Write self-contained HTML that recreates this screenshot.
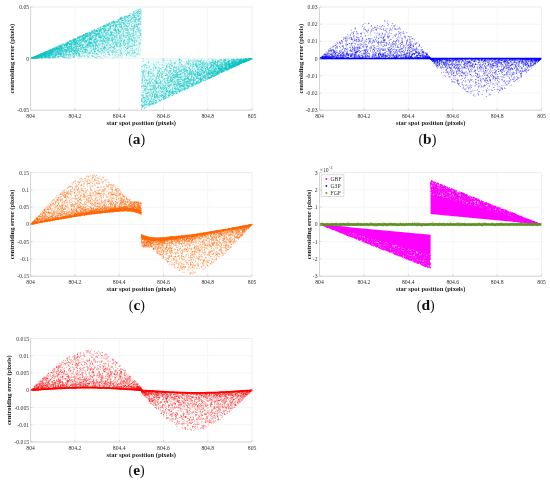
<!DOCTYPE html>
<html><head><meta charset="utf-8"><title>Centroiding error figure</title>
<style>
html,body{margin:0;padding:0;background:#fff}
body{width:550px;height:483px;overflow:hidden}
svg{display:block}
text{font-family:"Liberation Serif","DejaVu Serif",serif}
.t{font-size:5.7px;fill:#333}
.l{font-size:6.5px;font-weight:bold;fill:#222}
.c{font-size:14px;fill:#111}
</style></head><body>
<svg width="550" height="483" viewBox="0 0 550 483">
<rect width="550" height="483" fill="#fff"/>
<path d="M74.90 7.00V110.20M119.20 7.00V110.20M163.50 7.00V110.20M207.80 7.00V110.20M30.60 110.20H252.10M30.60 58.60H252.10M30.60 7.00H252.10" stroke="#f0f0f0" stroke-width="0.6" fill="none"/>
<path d="M30.6 58.6L141.3 9.1L141.3 58.6ZM141.3 58.6L141.3 110.2L252.1 58.6Z" fill="#10c8c8" opacity="0.07"/>
<path d="M169.1 67.2h0M229.3 63.7h0M202.4 75.9h0M80.5 40.3h0M97.1 34.4h0M224.1 70.6h0M31.8 58.2h0M212.5 73h0M207.2 73.8h0M134.2 21.8h0M97.7 33.4h0M92.3 30.9h0M87.1 49.7h0M129.2 24.4h0M142.4 72.6h0M153.2 75.9h0M251.1 59h0M206.2 70.8h0M168.4 86h0M249.7 59h0M78.3 44.3h0M66.1 57h0M166.3 87.2h0M40.3 54.3h0M38.5 55.7h0M144.6 97.5h0M133.9 25.9h0M233.8 62.8h0M170 91.2h0M144.5 86.5h0M140.7 33h0M85.4 41.4h0M33.2 57.4h0M73.2 42.5h0M183.9 83.5h0M75 52.9h0M112.5 25.9h0M31.4 58.4h0M214.5 71.8h0M64.8 47.7h0M89.9 35.3h0M225.6 60.1h0M143.5 70.6h0M218.2 65.8h0M172.3 72.4h0M194.9 79.6h0M50.9 56.2h0M150.5 69.4h0M143.1 92.9h0M223.6 61.1h0M110.6 26.9h0M163.1 79.4h0M43.7 55.7h0M116.5 30.1h0M102.2 26.4h0M63.9 51.7h0M211.4 66.1h0M114.6 37.9h0M247.4 60.5h0M161.3 99.1h0M164.6 71.4h0M171.9 62.8h0M180.4 74.6h0M64 51.1h0M128.1 21.4h0M83.7 39.5h0M119.8 24.6h0M52 53.1h0M245 60.6h0M78.2 37.6h0M179.4 63.8h0M97.1 55.8h0M224.2 59.6h0M177.3 89.4h0M59.8 49.7h0M217.8 71.4h0M239.9 63h0M230.8 67.3h0M156.8 88.6h0M62.8 51.2h0M73.2 53.6h0M236.1 62.9h0M152.9 75.4h0M70.6 41.2h0M226.4 68.7h0M172.7 75.6h0M156.8 87.9h0M113.9 34.8h0M121.6 28.2h0M83.6 35.2h0M39 56.9h0M224.7 68h0M134.2 27.7h0M151.9 104h0M102 45.9h0M197 78.2h0M36.2 58h0M113 32.8h0M37.3 55.6h0M57.8 48.5h0M244.8 59h0M176.3 93.6h0M125.5 29.1h0M146.6 93.7h0M223.9 71.3h0M106.8 33.6h0M161.3 75.2h0M182 77.9h0M109.3 28.5h0M145.6 86.6h0M200.1 66.6h0M232 63.8h0M64.1 54.9h0M237.4 60.2h0M31.7 58.5h0M197.4 75.4h0M210.1 68.3h0M60.9 53.8h0M123.4 23.5h0M211.2 72.7h0M33.8 57.3h0M169.8 70.9h0M206.3 74.5h0M144.2 80.6h0M191.4 76.9h0M80.8 44.7h0M74.6 44.2h0M111 32.7h0M70.3 41.4h0M107.3 32.5h0M240.6 61.4h0M157.6 96.8h0M105.9 47.5h0M90.7 35.1h0M241.5 62.1h0M129.1 39.1h0M247.8 60.3h0M144.8 71.6h0M146 64.9h0M229.2 63.4h0M195.1 76h0M159.2 91.1h0M125.1 37.5h0M225.1 67.6h0M121.8 17.5h0M235 66.6h0M45.8 52.9h0M125.8 37.9h0M145.7 89.9h0M241.2 63h0M86.2 35h0M209.1 78h0M180.4 77.2h0M189.4 73.5h0M170.1 78h0M245.8 61.1h0M104.3 25.9h0M118.8 30.4h0M75.5 46.2h0M41.8 54.6h0M77.8 46h0M233.4 64.8h0M216.7 64.5h0M55.5 55.9h0M164.3 82h0M136.7 37.2h0M162.3 71.6h0M176.6 93h0M98.5 33.8h0M243.5 60.8h0M133.8 11.7h0M169.7 68.2h0M171.3 78.2h0M71.3 41.4h0M44.3 52.5h0M121.8 22.6h0M199.8 67.2h0M211.2 72h0M192.3 64h0M55.7 56.5h0M232.9 66.8h0M208.3 59.1h0M225 61.6h0M146.5 70.8h0M233.4 65.7h0M40.9 55.1h0M37.3 57.4h0M35.1 57.4h0M86.6 33.8h0M85.7 49h0M72.1 55h0M156.2 92.7h0M39.2 57.6h0M161.4 88h0M67.4 51.4h0M180.7 62.6h0M35.3 57h0M99.4 32.3h0M238.4 61.7h0M149.9 73.8h0M210.4 77.8h0M176.4 73.3h0M165.9 75.5h0M73 48.2h0M157.8 76.7h0M39.4 56.9h0M208.2 78.1h0M243.3 59.5h0M219.8 72.1h0M41.8 55.1h0M105.6 54.3h0M101 48.6h0M55.6 49.8h0M169.4 85.5h0M207.2 67.3h0M100.1 43.8h0M221.7 72.1h0M207.2 75.9h0M59.2 48.5h0M200.5 81.5h0M226.1 63.5h0M74.3 48.6h0M157.7 98h0M172.1 81h0M165.6 83.1h0M51.9 50.1h0M177.1 93.6h0M170.6 93.9h0M213.1 74.1h0M208.6 70.9h0M103.1 31.9h0M190.5 70h0M222.7 64.5h0M228.4 62.7h0M66.4 45.7h0M36.5 56h0M174.8 88.9h0M78.2 49h0M155.5 93.4h0M239.9 61.6h0M114.6 24.6h0M86.6 42.3h0M131.7 39.1h0M176.2 75h0M53 56.4h0M114.9 38.1h0M60.2 51.7h0M177.3 80.1h0M214.6 72.1h0M114.1 22.2h0M112.9 25.4h0M150.1 92.3h0M78.2 47h0M85.4 50.2h0M103.7 34.5h0M131.9 50.2h0M48.7 57.3h0M197.3 78h0M158.9 72.8h0M97 31.2h0M47.8 52.5h0M199.6 75h0M59.6 45.9h0M60.1 54.8h0M59.5 52.2h0M48.6 53.2h0M231.4 68.1h0M90.2 53h0M98.5 36h0M215.1 75h0M167.9 70.4h0M72.1 43.4h0M126.9 23.6h0M226.4 65h0M113.7 32.8h0M188.1 87.2h0M52 52.5h0M191.7 75.9h0M202.6 74.8h0M213.5 60.7h0M179.9 88.1h0M112.7 52.7h0M44.8 52.2h0M145.5 107.4h0M198.4 80.7h0M72.9 40.6h0M89.6 38.7h0M149.4 81.6h0M196.4 77.6h0M229.2 67h0M58.5 54.8h0M71.4 42.7h0M207.7 68.5h0M173.4 82.8h0M190.3 71.3h0M251.4 58.8h0M238.6 64.4h0M217.3 72.4h0M202.7 62.7h0M118.1 24.6h0M172.6 93.9h0M71.5 43.6h0M198.8 78.4h0M198.4 69.6h0M190.4 81.6h0M129.1 33.9h0M114.4 22.2h0M123.6 24.4h0M38 56.9h0M217.6 73.5h0M150.7 98.9h0M116.4 44.1h0M152 76.6h0M190.4 60.5h0M115.1 25.8h0M214.6 62.4h0M234.3 62.3h0M116.4 26.2h0M61.1 51.9h0M199 70h0M250.5 58.7h0M63.4 56.3h0M188.5 79.6h0M213.4 63.9h0M234.5 66.6h0M57.9 57.3h0M50.9 54.1h0M249.4 59h0M56.5 47.5h0M69.8 43.6h0M158 69.9h0M129.4 51.1h0M196.8 64.1h0M72.8 42.6h0M233.1 66h0M78.7 42.1h0M201 73.9h0M45.6 54.4h0M135.5 23.9h0M37.8 57.8h0M100.1 31.1h0M99.8 31.6h0M190 81.4h0M131.4 39.8h0M43.2 56.4h0M251.1 59.1h0M227.4 69.7h0M233.6 65.8h0M85.2 37.1h0M117.9 34h0M80.9 37.4h0M58.3 48.6h0M37.9 56.6h0M142.1 99h0M57.9 56h0M69.7 48.6h0M221.2 71.6h0M137.9 27.5h0M71.3 45.7h0M179 82.4h0M89.5 32.7h0M147.3 76.6h0M93.3 36h0M144.9 89h0M169.8 74.2h0M149.4 65.9h0M118.2 29.1h0M205.8 66.1h0M224.1 67.9h0M70.3 47.9h0M60.8 50.7h0M55.7 48h0M247.6 59.1h0M239.2 62.8h0M81.7 45.1h0M245.4 59.6h0M76.6 46.8h0M142.8 105.2h0M140.8 40.2h0M233.3 65.5h0M39.6 56.8h0M100.5 37.4h0M163.5 87.1h0M45.3 57.3h0M83 37.6h0M133.6 32.8h0M225.7 63.3h0M199.2 67.9h0M214.2 76.1h0M199.2 82.4h0M187.4 77.5h0M218.8 65.5h0M181.5 85.1h0M193.6 63h0M97.4 30.8h0M67.7 57.9h0M198.2 62.5h0M67.3 50.1h0M234.3 63.7h0M162.8 60.2h0M103.6 43.3h0M238.1 65.1h0M65 45.2h0M144.6 67.2h0M50.9 50.1h0M244.4 60.8h0M158 102.1h0M208.6 68.6h0M93 44.8h0M208.2 74.7h0M186.3 78.3h0M173.2 75.2h0M241.1 62h0M126.6 25.4h0M122.5 38.2h0M183.9 86.8h0M215.6 72.8h0M104.8 30.2h0M178.9 85h0M76.9 50.1h0M152.8 95.9h0M201 66.7h0M45.1 56.6h0M191.8 77h0M34 58.1h0M242.9 59.8h0M134.4 24.3h0M121.2 17.9h0M190.2 63.4h0M146.5 88.3h0M192.5 64.9h0M49.4 52.8h0M155.3 90.6h0M154.2 87.9h0M237.1 59.5h0M39.4 55.4h0M130.9 28.5h0M170.4 85.6h0M152.6 94.7h0M47 51.5h0M162 83.6h0M79.8 37.4h0M73.9 51.9h0M225.2 66.3h0M74.4 51.8h0M131.2 33.7h0M196.8 82.8h0M187.3 88.3h0M153.2 87.5h0M209.4 67.6h0M133.8 35.2h0M168 95.3h0M212 69.8h0M180.8 70.8h0M172.8 91.7h0M120.6 31.5h0M154.3 85.5h0M118.3 21h0M195.5 80.6h0M114.9 55.8h0M134 12.4h0M197.9 74.1h0M142.2 76.3h0M105.5 26.3h0M213.7 69h0M115 28.1h0M217.7 72h0M204.5 66.6h0M129.7 13.8h0M188.5 79.3h0M38.2 58h0M116.9 31.8h0M221.2 59.8h0M159 101.4h0M154.2 94.1h0M177.8 77.6h0M180.7 87.5h0M159.9 95.8h0M123.8 24.5h0M71.2 51h0M95.4 51.8h0M95.5 31.7h0M126 18.1h0M251.9 58.7h0M108.7 38.8h0M129.7 32.8h0M112.9 41.7h0M159.4 100.1h0M240.6 62.2h0M227.5 67.9h0M114.1 30.7h0M89.7 52.6h0M226.5 60.9h0M140 43.3h0M182.4 79.6h0M46.8 53h0M222.5 72.3h0M99.9 28.9h0M140.1 17.1h0M74.5 47.5h0M123.7 36.6h0M214 72.8h0M213.9 67.8h0M135.5 18h0M200.7 78.3h0M132.1 46.2h0M113.3 25.6h0M151.5 69.4h0M75.2 48.6h0M100.7 27.1h0M187.1 81.8h0M201.3 80.1h0M43.2 53.1h0M192.9 70.7h0M211.7 75h0M129.2 34.2h0M44.4 57.4h0M181.9 66.8h0M85.1 51.7h0M173.1 86.3h0M114 29.7h0M171.7 92.4h0M87.8 46.4h0M136.2 17.9h0M146.8 80.2h0M170.4 77.2h0M75.6 42.8h0M243.7 60.8h0M94.6 29.4h0M98.4 43.4h0M87.4 48h0M45.5 52.3h0M124.3 19.3h0M201.6 66.2h0M187.8 73.9h0M73.9 45.6h0M60.9 56h0M101.8 41h0M200.8 78.9h0M138.7 16.7h0M235.1 61h0M176 75.5h0M168.1 75.9h0M200.6 77.6h0M196.8 65.9h0M106.8 24.1h0M87.5 51.8h0M127.5 28.8h0M139 18.8h0M62 44.7h0M128.4 25.6h0M172.3 92.3h0M60.7 49.3h0M61.2 53.1h0M69.1 48.3h0M93.4 37.6h0M243.6 61.3h0M36.3 56.4h0M71.3 45.9h0M67.2 49.4h0M135.7 26.8h0M33.9 57.6h0M132.1 55.9h0M66.7 50.3h0M90.3 39.3h0M206.1 76h0M71.4 47.6h0M167.3 91.6h0M120.6 31.8h0M123.1 35.8h0M211.5 66.5h0M66.2 44.5h0M235.2 66.1h0M228.5 67.6h0M178.6 72h0M41.6 54.6h0M177.5 81.4h0M163.6 97.9h0M201.6 59.6h0M78 40.2h0M241.8 61.6h0M226.9 69.3h0M55.9 50.1h0M100.4 57.1h0M37.8 56h0M214.7 70.4h0M233.3 62.2h0M249.8 58.9h0M166.1 81.2h0M178.1 82.7h0M180.9 79.6h0M156.9 62.2h0M241.6 60.1h0M165.2 90.5h0M105 35.3h0M144.2 100.4h0M34.7 57.5h0M191 70.9h0M184.3 86.1h0M123.9 42h0M219.2 61.3h0M197.9 72.2h0M105.2 37.8h0M47.8 55.6h0M59.9 45.6h0M71.4 51.1h0M97.9 50.3h0M129.7 23.6h0M236.2 60.8h0M92.3 45.8h0M229.6 64.7h0M181.3 73.4h0M219.6 70.2h0M119.9 46.5h0M31.3 58.3h0M204.9 64.4h0M85 40.9h0M62.2 44.4h0M207.7 76.4h0M182.6 89.9h0M77.6 43.8h0M89.9 50h0M238.6 62h0M90.1 35.4h0M186.2 67.3h0M59.3 48.4h0M211.1 68.1h0M56.6 47.3h0M144.9 84.7h0M38.4 56.8h0M152.4 79.3h0M218.1 69.4h0M49.3 50.3h0M91.3 39.7h0M200 78.8h0M165.3 85.6h0M99.9 51.9h0M169.9 86.1h0M131.3 25.3h0M221.6 68.9h0M95.5 44.6h0M198.4 69.6h0M171.4 77.5h0M194.6 61.7h0M114.4 46.3h0M191.2 71.7h0M185.3 79.2h0M116.4 21.6h0M36.5 56.5h0M243.9 61.1h0M188.7 82.6h0M75.9 46.1h0M192.5 62.8h0M92.3 36.3h0M134.5 20.4h0M221.1 69.7h0M129.8 17.6h0M94.4 33.6h0M98.3 31.1h0M47.7 57.4h0M79.2 36.4h0M90.7 38.9h0M68.9 45.9h0M44.6 53.9h0M133.8 37.7h0M78.1 48.3h0M194.2 83.4h0M234.9 64.4h0M91.1 31.7h0M157.4 75.3h0M142.8 95.1h0M47.2 53.1h0M58.3 57h0M226.6 67.5h0M135.6 32.1h0M208.8 70.5h0M45.3 56.2h0M162.4 88.9h0M222.3 69.5h0M222.7 71.4h0M31.9 58.1h0M146.2 107.4h0M112.3 21.8h0M198.9 78.5h0M46.8 55.2h0M89.3 40.3h0M210.6 62.7h0M134.6 25.2h0M131 36.6h0M245.1 60.8h0M101.5 31.5h0M39.8 57.9h0M117.5 22.1h0M64.6 56.6h0M48.7 53.3h0M156.4 76h0M241.8 59.2h0M158.9 86.1h0M173.9 74.5h0M102.3 51.8h0M157.1 97.9h0M197.2 69.3h0M161.1 99.3h0M208.4 73.6h0M152.5 83h0M74.5 55.1h0M159.7 97.7h0M139.3 46.1h0M67.4 44.3h0M167.7 85.1h0M211.6 70.2h0M60.5 55.7h0M151.3 86h0M193.1 60.8h0M119.9 24.1h0M90.4 36.6h0M113.1 47.7h0M150.6 89.7h0M182.7 69.7h0M154.5 95.5h0M54.3 54.7h0M211.8 64.9h0M235.2 62.2h0M53 48.5h0M85.9 36.3h0M69.1 48.6h0M218.7 72.1h0M232.2 63.5h0M40.4 57h0M104.2 27.2h0M73.2 56.1h0M134.6 17.5h0M234.7 66.5h0M46.1 57.1h0M68.5 42.8h0M138.5 16.4h0M146.7 65.5h0M195.7 74.5h0M127.5 39.4h0M61.9 50.7h0M108.9 38.9h0M248.1 59.6h0M196.9 60.1h0M56.4 53.4h0M209.6 67.8h0M99.5 34.5h0M203.7 76.6h0M33.4 57.5h0M223.6 68.6h0M66.6 43.3h0M131.5 26.6h0M177.2 75.6h0M143.1 65.5h0M67.2 44.9h0M61.4 48.8h0M93.6 49.2h0M42.2 55.1h0M78.6 37.5h0M59.4 49h0M133.6 35.9h0M109.6 27h0M160.6 82.6h0M92.8 56.5h0M38.1 57.9h0M103.9 25.9h0M197.9 64.4h0M87.3 36.4h0M120.2 53.9h0M197.8 73.4h0M120.7 39.8h0M227.1 64.6h0M234 60.5h0M99.4 40.8h0M193.6 81.6h0M86.7 41.4h0M61.5 54.6h0M127.6 19.9h0M164 96.3h0M237.8 62.7h0M62.9 50.8h0M188.4 61h0M135.9 49.3h0M59.8 51.3h0M246 59.3h0M184.7 89.4h0M59.1 48.7h0M231.2 63.3h0M53.4 51.1h0M51.1 55.5h0M104 26.8h0M238.4 62.8h0M37.9 55.9h0M234 61.5h0M166.1 83.8h0M45.5 53.1h0M156.5 83.3h0M132.2 50.1h0M155.5 86.7h0M193.9 82.7h0M180.9 79.2h0M251.5 58.9h0M65.3 47.5h0M210.6 76.5h0M121.7 53.6h0M204.1 75.4h0M228.1 66h0M250.3 59h0M89.5 33.4h0M130.9 48.2h0M239.4 62.4h0M240.1 61.3h0M113.2 21.8h0M238.9 63.9h0M120.5 43.4h0M113.6 48h0M198.2 61.1h0M135 42.2h0M129.9 15.3h0M116.1 22.7h0M126.5 20.5h0M61.6 50.6h0M44.1 54.7h0M197.6 76.6h0M155.6 98h0M179.4 59.7h0M208.3 65.7h0M81.6 42h0M82.4 51.6h0M92.2 31.6h0M97.9 54.1h0M199.1 82.9h0M113.5 44h0M102.2 46.8h0M171.5 80.7h0M71.9 44.3h0M54.2 48h0M185 78.3h0M198.2 82.1h0M96.2 30.7h0M171.5 95.8h0M38.1 56.8h0M120.2 32.8h0M158.6 62.6h0M86.7 44.4h0M107.7 40.1h0M165.6 69.7h0M161.3 96.4h0M64.8 51.5h0M187.1 67.2h0M48.3 56.5h0M245.4 58.9h0M75.4 41.4h0M86.8 41.3h0M75 45h0M250.2 59.1h0M94.1 30.3h0M164.7 80.9h0M250 59.2h0M241 62.7h0M40 54.5h0M146 103.6h0M163.8 96.7h0M186.2 69.3h0M105 25.8h0M103.2 29.2h0M31.5 58.4h0M38.4 55.5h0M152.4 103.7h0M47.4 52.2h0M75.4 41.6h0M104.4 28.4h0M46.2 52h0M37.4 55.9h0M235.9 60.1h0M127 41.9h0M76 53h0M187.5 77.3h0M32.7 58.4h0M84.9 41.5h0M243.4 62.5h0M229.4 69h0M171.5 63.5h0M51.2 51.2h0M101 49h0M36.8 56h0M79.2 56h0M36.2 58h0M58.5 52.3h0M170.9 60.1h0M52.8 50.7h0M65.1 52.7h0M230.6 66.8h0M104.9 25.7h0M104.4 37.5h0M49.8 53.1h0M206.9 79.6h0M180.4 74.9h0M151.8 102h0M167.5 90.6h0M52.8 58.1h0M88.3 46.2h0M159.9 93.7h0M241.5 59.3h0M211.6 75.8h0M172.5 93.6h0M145.5 100.5h0M34 57.3h0M227.9 66.8h0M45.4 52.7h0M59.2 50.5h0M184.1 76.8h0M210.5 74.2h0M204.8 72.3h0M130.8 36.4h0M69.8 50.7h0M38.4 56.5h0M219.2 67h0M247.2 60.5h0M84.7 37.4h0M222.4 70.6h0M119.8 21.9h0M99.6 41.8h0M142.5 86.1h0M32.4 57.9h0M128.7 43.1h0M74.8 42.4h0M188.4 78.5h0M141.9 98.5h0M223.1 69.4h0M229.2 66.9h0M100.8 45.5h0M92.7 55.8h0M238.6 64.7h0M142.2 106.5h0M52 52.2h0M40.8 55h0M250 58.8h0M158.9 85.4h0M42.7 54.6h0M143.8 99h0M142.3 78.6h0M127 48.5h0M241.3 63.5h0M240.8 63.4h0M58.3 54.3h0M64.2 45h0M120.9 22.4h0M215.3 64.5h0M168.8 92.5h0M192.3 74h0M158.2 80.8h0M77.1 51.8h0M211.7 72.2h0M33.7 57.6h0M185.3 79.1h0M73.6 53.9h0M134.9 17.2h0M246.6 59.9h0M150 79.5h0M43.2 54.2h0M125.6 43.4h0M176.8 91.7h0M43.2 54.2h0M86.6 36.5h0M34.7 57.6h0M150.2 86.7h0M115.1 42.2h0M142.2 80.3h0M96.1 41.3h0M176.1 89.1h0M68.9 47.2h0M231.4 67.2h0M243.3 59.7h0M139.8 35.5h0M133.7 52.5h0M221 72.3h0M94.8 53.3h0M208.5 72.5h0M94.2 35.9h0M190.1 69.4h0M104.6 25.2h0M164.1 99.1h0M235.7 61.7h0M42.6 57h0M209.4 73.8h0M150.6 89.9h0M114.6 30.5h0M108.2 32.3h0M46 51.8h0M87.8 36.4h0M168.6 77.5h0M52.2 50.4h0M178.9 79.4h0M243.7 62.4h0M247.8 59.9h0M227.6 59.3h0M209.3 77.5h0M70 50.5h0M245.5 61.3h0M75.5 43.5h0M223.1 69.9h0M225 69h0M168.4 95.3h0M146.1 102.7h0M75 43.2h0M145.7 83.4h0M95 39.6h0M58.5 52.8h0M59 52h0M208.1 71.3h0M234.9 63.3h0M62 51.9h0M33.5 58h0M89 45.7h0M60.4 53.7h0M72.4 44.9h0M159.8 68.4h0M124.1 40.6h0M125.7 44.1h0M76.1 41.8h0M177.8 74.3h0M94.7 51.6h0M119 22.9h0M133.2 30.5h0M230.9 67.2h0M85.2 46.3h0M189.8 73.6h0M99.1 36.8h0M228.7 60.7h0M117.9 19.3h0M142.5 73.2h0M224.9 70.6h0M179.6 84.7h0M51.5 50.5h0M60.9 53.3h0M250 59.5h0M37 56.6h0M97.2 41h0M243 60.1h0M33.9 58.1h0M66.3 43.7h0M77.9 37.4h0M49.7 53.5h0M135.1 19.5h0M161.8 92.3h0M101.1 37.8h0M54.7 51.6h0M210.2 72.1h0M208.8 69.1h0M155.1 96.3h0M61.1 50.5h0M150.6 89.5h0M170 71.9h0M125.5 15.9h0M221.9 61.5h0M117 26.5h0M143.8 97.6h0M55.9 52.6h0M155.4 103h0M200.4 61.7h0M192.6 71h0M87.5 45.3h0M250.3 59.2h0M190.1 79.4h0M124.5 23.9h0M122.5 20.4h0M203.2 60.6h0M69.5 46.2h0M172.3 79.7h0M189.8 81.6h0M145 92.1h0M224 65.4h0M134.4 56.4h0M133.6 35.8h0M93.7 41.1h0M234.2 62.8h0M100.7 41.1h0M184.6 82.7h0M121.3 37.6h0M237.8 64.6h0M240.6 61.5h0M37.3 56.8h0M250.9 58.9h0M164.6 96.9h0M47 53.1h0M140.7 9.4h0M41.6 58.4h0M152.2 103.9h0M71.7 51.8h0M112.1 23.8h0M98.1 54.2h0M164 95.9h0M212.8 72.4h0M238 63.8h0M103.4 40h0M156.8 83.3h0M31.9 58.4h0M113 47.5h0M243.4 61.6h0M56.9 52.4h0M223.3 60.1h0M175.1 70.5h0M95.7 48.7h0M203 66.9h0M94.7 40.7h0M228.8 68.8h0M48.9 52.6h0M57 48.6h0M196.7 65h0M130.1 22.4h0M63.3 45h0M144.3 108.6h0M96.4 34.3h0M152.3 92.7h0M195.3 84.4h0M220.4 62.8h0M43.7 53.4h0M161.8 92.9h0M248.5 60h0M132.4 34.1h0M201.1 63.6h0M52.1 55.7h0M224.1 68.8h0M159.5 79.6h0M227.4 69.8h0M204.9 64.6h0M223.1 70.5h0M43.3 54.9h0M189.1 72.4h0M74.2 50.1h0M89.5 44.5h0M102.5 40.9h0M161.6 75.4h0M169.7 73.6h0M236.9 65.5h0M33.4 57.8h0M73.4 44h0M110.8 29.2h0M211.8 68.1h0M152.4 103.2h0M144 82.2h0M199 67.5h0M175.7 63.8h0M94.8 45.8h0M49.9 57h0M133 23.6h0M225.6 67.4h0M163.1 62.5h0M42.4 53.4h0M128.1 22h0M115.8 31.7h0M159.6 100.2h0M160.6 87.3h0M241.3 60.3h0M105.5 29.3h0M121 18.5h0M166.5 65.6h0M226.9 66.3h0M187 70.7h0M134.9 13.9h0M211 63.1h0M138.1 15.6h0M244 60h0M93.2 36.9h0M58.8 48.3h0M214.5 73.4h0M96.5 53.7h0M218.3 68.6h0M165.6 69.7h0M143.3 72.7h0M49.9 55.8h0M204.8 65.3h0M45.2 52.2h0M244.4 61.1h0M224.8 64h0M97.7 39h0M58.9 56.5h0M226.8 63.2h0M136.9 22.3h0M58.3 48.5h0M141 21.3h0M85.3 33.9h0M120.9 17.9h0M172.4 91.8h0M233.4 64h0M208 75.9h0M66.3 51.7h0M136.3 14.5h0M139.6 37.9h0M249.8 59.7h0M49.8 58h0M143.7 102.4h0M233.1 64.4h0M118.9 23h0M88.6 40.9h0M153.7 99.5h0M101.5 32.5h0M235.9 64.3h0M49.4 50.3h0M76.4 53h0M49.2 50.5h0M188.3 78.5h0M95.5 34.7h0M230 66.6h0M228.5 64.7h0M238 63h0M87.3 33.1h0M30.7 58.6h0M116.5 21.5h0M243.8 58.8h0M199.8 75.9h0M43.8 53.8h0M186.2 75.9h0M233.7 60.4h0M244.9 61.5h0M189.2 83.2h0M221.8 66.4h0M217 62.5h0M110 26.1h0M52.5 50h0M191.7 83.7h0M60.9 46.4h0M115.7 41.6h0M251.2 58.9h0M154.6 86.9h0M146.2 86.1h0M240.6 61.7h0M93.5 36.1h0M252 58.7h0M232.6 64.3h0M111.2 38.8h0M103.1 33.8h0M58.6 49h0M233.4 63.6h0M71.8 44.3h0M32.6 57.9h0M227.8 68.1h0M163.1 72.3h0M179.4 84.6h0M193 74.6h0M40 54.6h0M50.9 51.7h0M141.3 14.2h0M41.7 54.1h0M142.3 78.2h0M193.7 64.2h0M176.2 88.4h0M167.2 65.2h0M40.9 54.1h0M83 39.6h0M229.4 64.8h0M57.9 48.9h0M148.7 72.3h0M41.7 54.8h0M238.6 64.6h0M68.6 58.5h0M121.4 18.7h0M151.7 81.3h0M189.8 75h0M238.2 64.8h0M193.7 82.2h0M107.5 39.2h0M47.3 51.1h0M187.3 62.2h0M246 60.8h0M34.4 57.5h0M202.2 80.2h0M69.6 57.1h0M132.5 35.6h0M146.4 89.8h0M166.7 66.5h0M249.8 59.4h0M182.9 87.7h0M117.5 21.3h0M189 67.5h0M134 27.6h0M122.1 17.2h0M111.6 51.4h0M139.9 18.4h0M92.9 45.5h0M84.2 35.5h0M63.5 47.6h0M128.1 17h0M95.6 53.9h0M216 70.9h0M218.4 67.8h0M106.8 49.9h0M167.7 81.2h0M230.5 67h0M110.2 32.6h0M153.5 91.9h0M128.8 38.2h0M174.6 82.3h0M243.2 61.1h0M61.3 45.4h0M244.4 61.9h0M178.1 79.3h0M206.9 72.4h0M171.3 76.2h0M223.4 68h0M102.9 49.3h0M187.4 88.1h0M89.1 43.1h0M143.3 61.4h0M181.6 74.1h0M75.1 38.9h0M44.1 55.6h0M205.8 70.6h0M209.8 78h0M178 88.3h0M101.8 41.3h0M176.4 70.1h0M49.2 53.9h0M177.3 77.5h0M158.2 99.4h0M167.3 85.5h0M129.6 15.5h0M80.5 36h0M191.4 84.5h0M133.4 31.7h0M195.7 73.3h0M111.3 33.2h0M50 51.6h0M150.8 101.3h0M168.5 93h0M234.8 62.5h0M227.2 68.2h0M43.3 55.4h0M201.6 78.7h0M88.5 56.8h0M185 86.8h0M114.7 27.9h0M101.9 48.7h0M138.8 37.7h0M148.1 82.1h0M184.4 79.5h0M171.9 93.7h0M180.8 91.2h0M115.7 30.2h0M180.6 67h0M107.1 24.1h0M165.2 98.1h0M132.4 48.3h0M155.3 93.7h0M34.5 57.2h0M141.1 19.6h0M79.3 40.4h0M116.1 57.1h0M46.9 55h0M176.1 76.7h0M228.5 67h0M109.1 50.3h0M53.9 53.8h0M168 71.9h0M58.7 56.7h0M228.1 65.6h0M57.7 54h0M110.8 35.3h0M140.2 39.8h0M56.7 48.3h0M101.2 50.3h0M91.6 34.9h0M188.6 81.4h0M249.1 59.1h0M111 38.5h0M205.7 70.5h0M61.7 49.9h0M159.1 92.6h0M126.4 55.4h0M94.4 49h0M212.6 73.3h0M195.9 64.6h0M60.3 46.4h0M95.4 42.6h0M212.1 61h0M250.4 59.3h0M166.1 75.4h0M223.7 71.8h0M248.6 60.1h0M194.6 83.4h0M173.4 92.6h0M79.6 54.2h0M112.6 54.6h0M168.7 80.6h0M235.8 63h0M97.5 41.1h0M118.1 29.6h0M35.5 56.7h0M184.9 85.6h0M128.9 15.7h0M207.3 75h0M82.4 36.8h0M176.7 66.6h0M179.7 62.1h0M133.4 29.9h0M72.4 40.9h0M119.8 36h0M195.6 65.3h0M72.5 53.3h0M50.5 55h0M133.1 15.9h0M82.5 46.5h0M207.9 77.3h0M211.6 76.8h0M240 63.4h0M216.6 74.3h0M174 74.2h0M72 51.7h0M212.9 66.2h0M191.9 60.9h0M196 83.6h0M185.1 70.3h0M214.5 71.8h0M96.6 44.8h0M179.5 81.7h0M145.2 88.4h0M105.4 30.7h0M103 46.4h0M65 51.3h0M139.5 44h0M112.3 40h0M124 20.5h0M219.2 73.6h0M181.6 61h0M181.3 88.3h0M248.6 60h0M78.8 54h0M143.1 74.9h0M51.1 50h0M117.6 44.2h0M241.1 63.4h0M49.6 52.7h0M198.4 83.4h0M222.3 67.7h0M143.3 73h0M207.3 73.9h0M128.3 31.6h0M108.9 51.7h0M142.6 103.7h0M73.7 40.2h0M98.7 28.2h0M98.2 35.1h0M249.5 59.5h0M104.8 46.3h0M81.3 36h0M238.8 63.7h0M61.3 47.7h0M244.5 61.4h0M219.6 72.2h0M173.9 77.4h0M125.4 47.5h0M74.3 38.8h0M54.1 57.3h0M53.6 53.9h0M107.9 35.9h0M120.8 53h0M235.2 62.4h0M149.4 102.5h0M250 59.3h0M190.3 79.2h0M63 57.4h0M153.2 85.8h0M65.9 54.2h0M39.3 56.4h0M239.6 61.8h0M105.4 38.5h0M72.6 49.2h0M53.1 49.8h0M175 80.9h0M132.7 14.7h0M33.2 58h0M189 67.4h0M87.5 44.9h0M203.5 79.4h0M138.8 32.4h0M149.2 101h0M131.9 21.8h0M180.3 73.1h0M249.9 59h0M207.3 64h0M45.9 54.3h0M140.2 18.7h0M82.5 47.5h0M53.3 48.5h0M73.8 57.2h0M85.6 37h0M243.2 60h0M195.6 84.9h0M219.5 62.2h0M185.4 88.1h0M100.5 40.5h0M117.2 40.4h0M128.2 52.5h0M95.6 47h0M123.9 35.1h0M201.4 81.3h0M47.4 51.1h0M91.9 52.8h0M136.7 24.7h0M180.4 62.6h0M173.7 67.6h0M191.2 79.6h0M53.9 51.4h0M70.6 41.5h0M99 29.3h0M93 49.5h0M198 77.6h0M250.6 59.2h0M181.9 86.5h0M37.9 56.2h0M96.5 38.7h0M208.5 73h0M235.3 63.1h0M162.4 87.9h0M107.9 25.7h0M109.3 39.9h0M170.9 81.4h0M222 67h0M106.1 27.1h0M72.8 50.5h0M31.2 58.4h0M61 47h0M219.1 67.2h0M168.9 93.8h0M250 59.3h0M46 56.9h0M111.7 38.7h0M206.8 65h0M177.1 79.6h0M45.4 55h0M119.5 37.8h0M171.8 91.9h0M182.9 88.7h0M130.6 20.2h0M72.3 42.5h0M244.6 61.9h0M133.9 13.9h0M189.5 68.5h0M149.1 103.5h0M48.5 56h0M83 47.9h0M44.6 53.1h0M72.9 52.8h0M74.9 38.8h0M122.5 18.4h0M101.9 58.5h0M110.9 30.9h0M211.5 76.6h0M35.3 57.1h0M53.5 51.5h0M209.5 72.9h0M148.9 91.9h0M127.8 26.9h0M89.8 37.3h0M150.7 104.5h0M79.7 53.8h0M220.7 64.5h0M213.1 59.3h0M101.9 52.5h0M36 57.7h0M227.2 69.5h0M96.8 43.8h0M176.1 84.4h0M220.7 65.7h0M207.4 79.3h0M221.6 63.7h0M138.9 30.8h0M217.2 67.4h0M132.7 40.7h0M89 53.3h0M137.1 31.4h0M104.9 46h0M200.5 60.9h0M214.8 74.7h0M61.9 51.2h0M67 57.6h0M115.6 29.9h0M133.2 28.9h0M242.4 62.2h0M239.2 61.8h0M244.8 59.6h0M192.2 79.7h0M180.6 77.4h0M90.5 33.4h0M113.1 39.8h0M31.2 58.5h0M215.1 64.7h0M91.8 46.6h0M48.2 55.3h0M100.5 37.3h0M102.2 40.9h0M191 86.5h0M31.9 58.4h0M81.5 36.2h0M229.2 64h0M220 68.1h0M169.9 95.9h0M154.4 97.6h0M79.9 36.8h0M224.4 67.4h0M199.1 70.7h0M144.2 98h0M66.3 45.7h0M78.4 55.6h0M114.6 49h0M103.9 26.2h0M44.1 53.6h0M120.6 22.2h0M130 42.5h0M94.2 30h0M115.7 40.1h0M104.2 48.7h0M114.1 38.4h0M167.7 79.2h0M140.8 50h0M74.4 40.6h0M206.8 78h0M144.3 77h0M132.1 26.6h0M188.6 85.7h0M197.2 72.6h0M218.7 68.8h0M210.3 66.7h0M178.8 79.9h0M190.3 72.6h0M65.4 44.5h0M185.5 68.5h0M87 55.5h0M87.7 34.2h0M57.2 54.5h0M118.5 30.9h0M35 57h0M176.1 76.3h0M196.3 83.4h0M202.4 70.4h0M59.1 53.8h0M172.6 65.4h0M216.3 74.2h0M38.6 57.2h0M73.4 40.3h0M89.9 41.9h0M132.9 13.8h0M68.7 54.8h0M150 101.8h0M106.8 24.3h0M175.7 87.4h0M148.3 72.5h0M182.6 90.9h0M85.2 36.9h0M187.2 70.1h0M193.3 85.5h0M190.5 64.9h0M45.8 56.6h0M240.2 59h0M158.4 90.2h0M90.9 42.9h0M126.8 49h0M145.2 90.7h0M145.3 104.6h0M85.5 52.9h0M89.3 38.3h0M111.1 46.4h0M203.6 73.5h0M127.5 35.8h0M39.2 56.8h0M130.8 55.6h0M75.2 44.1h0M33.3 57.8h0M247 60.5h0M95.7 48.2h0M149.7 105.8h0M109.9 55.4h0M42.4 56.6h0M230.1 66.4h0M237.8 60.5h0M71.9 50.4h0M123.2 31h0M113.4 26.8h0M67.6 43.1h0M177.2 75.7h0M203.8 76h0M198.9 61h0M180.2 89.8h0M34.5 57.2h0M81.5 36.8h0M144.6 77.7h0M186.3 78.5h0M116.2 26.1h0M130.1 54h0M216.8 73.4h0M35.8 56.7h0M90.1 35.2h0M94.8 49.1h0M250.5 59.2h0M81 42.4h0M41 57.1h0M122.8 46.6h0M174.5 91.5h0M64.6 49.8h0M216.6 66h0M74.1 47.9h0M186.6 82.7h0M66.4 53.8h0M225.9 62.5h0M75.2 43h0M192.6 84.5h0M216.4 71.6h0M87.1 33.7h0M51.2 54.3h0M160.4 81h0M141.1 31.2h0M136.8 32.9h0M203.7 68.6h0M133.2 18h0M140.7 35.6h0M138.5 30h0M131.3 29.7h0M120.5 17.7h0M66.2 50.4h0M96 34.9h0M89.3 45.2h0M85.6 36.7h0M204 71.1h0M55.9 57.5h0M76.1 44.7h0M147.2 83.5h0M99.8 44.7h0M83.8 47.3h0M113.3 57.8h0M141.8 100.9h0M180 81.7h0M245.9 60.8h0M219.5 69.3h0M125.8 34.7h0M130.6 30.4h0M122.7 32.1h0M83.5 35.7h0M241.4 61.2h0M45.8 56.4h0M76 54.1h0M177.2 76.4h0M161.2 88.6h0M92.3 38.4h0M238.1 63.9h0M121.3 26.6h0M162.7 67.5h0M50.8 53.5h0M227.9 64.7h0M53.4 55.9h0M117.9 29.9h0M226.8 68.7h0M239.9 59.4h0M230.8 65.3h0M213.9 63.4h0M82.3 38.4h0M37.7 56.4h0M130.7 50.1h0M44.6 54.4h0M243.4 60.3h0M32.4 58.3h0M102.7 33h0M75.6 46.9h0M33.6 57.3h0M141.1 10.8h0M47.4 51.6h0M229.9 64.5h0M182.9 88.9h0M112.6 51.3h0M217 72.6h0M207.1 69.7h0M102.9 28.4h0M218.3 60.4h0M236.5 63.8h0M167.9 66.1h0M108.5 41.9h0M230.1 65.8h0M239.4 60.3h0M107.5 30.6h0M49.7 52.8h0M222.8 64h0M177.9 82.2h0M82 44.4h0M156.2 64.1h0M98.9 33.4h0M234.2 65.4h0M106.4 26h0M74.1 39.5h0M40.2 56.2h0M106.5 32.3h0M249.8 59.4h0M79 55.1h0M132.1 20.7h0M245.9 59.9h0M32.1 58.2h0M96 36.4h0M212.5 70.7h0M51.8 54.2h0M236.2 65.4h0M215.5 62.5h0M62.3 48h0M161.8 73.4h0M153.6 102.3h0M184.3 88.9h0M98.6 33.4h0M115.7 22.6h0M83.9 38h0M95.3 35.9h0M69.5 43.8h0M230.9 67.9h0M227.2 63.1h0M110.3 28.7h0M184.1 69.5h0M139.2 27.9h0M92.8 44.1h0M108 31.9h0M244.4 61.3h0M106.2 26.2h0M158.8 97.6h0M239.9 59.6h0M96.5 48.5h0M209.8 61.5h0M55.9 49.3h0M193 72.9h0M209.3 78.2h0M216.1 65.1h0M246.6 61.1h0M188.1 83.7h0M247.1 60.6h0M92.3 37.9h0M146.1 104.4h0M78 49.8h0M49.1 50.9h0M127.8 17.6h0M190 79.8h0M203 76.3h0M34.4 57.9h0M239.3 62.4h0M85.4 40.6h0M95.3 44.1h0M215 61h0M228.7 69.2h0M193.7 82.4h0M104.3 40.6h0M133.1 26.9h0M215.5 70.9h0M109.7 23.4h0M209 72.6h0M203.8 77h0M134.4 17.2h0M229.2 61.2h0M115.8 30.8h0M196.7 83.3h0M172.3 91.6h0M104 26.7h0M148.4 74.3h0M164.8 93.4h0M149.5 80.3h0M55.1 48.3h0M250.2 59.4h0M244.7 60.5h0M38.9 55.9h0M239.8 62.2h0M148.3 105.2h0M58.4 49.8h0M212.4 62.4h0M126.5 28.9h0M188.6 61.2h0M213.8 63.8h0M149.8 89.3h0M41.6 55.5h0M212.8 62.1h0M184.3 74.8h0M232.2 62.9h0M90.4 46h0M204.5 72h0M224 60.2h0M109.2 54.3h0M121.5 41.7h0M104.6 31.1h0M31.9 58h0M81.9 38.9h0M104 51.8h0M54.6 48.9h0M200.2 80h0M125.2 19.7h0M156.5 95.2h0M93.6 46.1h0M110.4 35h0M197.5 73.9h0M134.7 52.7h0M162.7 87h0M124.2 39.8h0M154 103h0M229.4 66.8h0M89.8 34.9h0M145.6 64.5h0M182.8 84.7h0M49.8 50.9h0M243.7 61h0M141.1 37.1h0M84.9 42.7h0M199 75.7h0M211.3 69.9h0M170.3 77.3h0M233.5 65.3h0M50.3 50.2h0M147.5 80.2h0M195.2 83.2h0M233.7 60h0M172.7 87.9h0M164 79.8h0M116.6 32.3h0M157.2 81.8h0M153.5 68.2h0M231.1 61.8h0M213.8 76.3h0M193.9 74.3h0M235.2 66.2h0M45.3 54.1h0M201.1 80.9h0M133.3 30.2h0M197.1 84.1h0M96.2 39.7h0M134.1 38.2h0M213.2 64.8h0M38.4 57.9h0M95.1 51.1h0M138.8 19.6h0M219.2 66.8h0M90.4 33.5h0M212.9 65.3h0M84.8 34.9h0M97.7 47.6h0M153.3 79h0M175.4 76.9h0M225.5 64h0M225.4 65.8h0M86 36.5h0M195.8 63.7h0M171.3 74.3h0M116.1 52.3h0M202.5 78.3h0M229.4 61.4h0M136.7 26.7h0M233.5 66.5h0M58.9 52.3h0M67.4 54.2h0M199.9 69.3h0M98.3 28.9h0M160.3 68.5h0M140.7 12.7h0M62.9 54.6h0M197.7 66.9h0M194.8 81.3h0M62.8 47.5h0M88.1 45.6h0M207.9 75.1h0M232.7 61.4h0M223.3 71h0M141.8 95.1h0M112 22.7h0M129.2 25.9h0M69.7 46h0M140.5 13h0M81.7 41.9h0M66.5 55h0M114.9 30.2h0M44.8 55.6h0M134.8 22.6h0M184.8 89.9h0M174.9 85.1h0M246.6 60.9h0M226.8 64.8h0M171 61h0M229.4 60.2h0M129 54.8h0M207.6 66.7h0M93.6 45.8h0M147.3 82.8h0M247.6 60.2h0M163.2 93.2h0M142.9 101.8h0M205 77h0M99.8 29.9h0M214.7 72.8h0M34.7 57.4h0M83.4 44.7h0M69.9 54.8h0M87.6 56.8h0M240 63.7h0M35.9 57.9h0M96.8 31h0M157.8 83.5h0M186.3 64h0M202 79.4h0M115.5 27.1h0M79.4 36.4h0M219.4 69h0M57.6 46.8h0M45 54.3h0M81.9 48.4h0M139.7 30.3h0M239.3 63.2h0M192 84.6h0M155.5 98.3h0M146.1 105.9h0M184.2 80.1h0M169.4 82.4h0M105.1 35.8h0M51.1 49.6h0M75.1 47.7h0M204 62.5h0M171.1 79.7h0M207.2 74.6h0M40.5 54.6h0M230.1 68.5h0M115.3 28h0M235.7 65.3h0M162.3 95.4h0M151.8 99.6h0M211.8 72.3h0M169.1 95.9h0M180 89.9h0M65.5 57.8h0M164.5 69.6h0M109.6 22.7h0M47.3 52.7h0M60.1 54.6h0M136.9 12.8h0M88.7 52.7h0M200.1 75.1h0M57.7 51.7h0M33.7 58h0M251.4 58.7h0M99.9 51.6h0M143.5 86.2h0M77.1 53.5h0M76.8 42.8h0M119.7 38.5h0M205.5 77h0M39.2 54.8h0M216.1 74.2h0M249.9 59.4h0M154.5 97.6h0M110.3 50.3h0M82.4 35.3h0M71.1 45.5h0M102.2 36.2h0M219.2 70.6h0M31.3 58.5h0M204.7 72.4h0M178.4 67.9h0M34.8 56.8h0M46 54h0M193.4 66.4h0M179.7 91.7h0M100 36h0M221.4 70.6h0M77.1 40h0M125.2 24.1h0M56.1 51.6h0M173.6 75.2h0M49.9 57.2h0M70.4 45.1h0M200.3 64.7h0M141.4 86.4h0M177.2 91.1h0M193.2 84.4h0M165 94.6h0M74.4 51.4h0M185.3 88.6h0M56.3 55.1h0M90.4 32.7h0M129.9 20.7h0M55.9 47.2h0M54.1 48h0M175.1 82.7h0M194.9 71.5h0M112.7 23h0M117 39.4h0M76.6 48h0M146.1 93.4h0M159.2 71.5h0M237.4 62.8h0M39.6 57.4h0M231.9 64.4h0M250 59.5h0M107.3 25.3h0M191.4 86.2h0M213.3 73.4h0M174.8 88.6h0M94.6 41.4h0M168.6 94.9h0M224.8 62.3h0M54.3 55h0M136.9 45.7h0M35.6 57.3h0M217.8 61.4h0M203 77h0M40.8 57h0M195.8 79.4h0M183.8 80.9h0M58.6 48.4h0M146.9 98h0M183.3 86.2h0M104.9 37.1h0M142.2 94.8h0M246.8 59.7h0M171.4 83.1h0M141.8 70.1h0M45.2 52.1h0M57.4 46.9h0M219 61.7h0M195.1 60.2h0M215.6 68.2h0M158.6 87.9h0M158.2 86.3h0M148.1 83.3h0M193.4 79h0M103.7 39.7h0M140.6 29.9h0M134.7 52.9h0M177.2 83.9h0M78.5 53.9h0M36.2 56.3h0M50.2 52.9h0M70.3 49.1h0M220.5 70h0M189.4 85.7h0M196.7 67.2h0M129 33.1h0M53.4 48.4h0M133.7 15.6h0M221.8 66.5h0M143.4 85.6h0M170.6 92.1h0M113.5 50.4h0M63.8 54.6h0M169.4 85.8h0M138 24h0M107.2 33.9h0M87.9 36.5h0M184.8 87.6h0M101 40.4h0M158.2 80.4h0M88.1 34.9h0M197.5 69.2h0M113.7 23.7h0M136.6 19.6h0M236.1 65.3h0M189.7 80.6h0M193.7 65.4h0M105.8 30.7h0M216.7 69.3h0M116 45h0M249.5 58.9h0M229 63.3h0M176.6 68.3h0M214.8 63.6h0M151.1 100.9h0M193 85.3h0M58.2 46h0M249.6 59.4h0M207.8 73.1h0M62.2 56.1h0M84.3 52.1h0M158 95.9h0M199.5 75.9h0M63.6 48h0M243.4 62h0M107.2 27.8h0M251 59h0M197.3 60.1h0M138.1 24.9h0M110.9 25.8h0M52 50h0M50.1 50h0M170 84.1h0M201.9 74.2h0M231.6 59.6h0M111.4 34.2h0M238.3 63.1h0M96.4 30.1h0M238.8 64.4h0M234.1 60.1h0M64.9 53.9h0M221.3 66.5h0M186.5 84.8h0M186.2 68.7h0M216.8 72.7h0M149.5 93.2h0M142.8 105.5h0M111.9 39.5h0M222.3 66.5h0M230.2 60.4h0M66.2 47.8h0M201.6 78.7h0M91.6 40.2h0M71.3 46.2h0M74.3 39.7h0M157.6 95.9h0M92.6 44.8h0M84.3 34.9h0M52.4 50.4h0M102.5 43h0M202.1 67.5h0M35.4 56.9h0M137.5 26.6h0M164.1 88.4h0M41.6 57.2h0M95.7 33.4h0M231.4 67.4h0M250.8 58.9h0M218.9 66h0M68.2 41.7h0M199.9 82.6h0M130.5 46.1h0M68.4 46.8h0M137.1 29.5h0M235 62.2h0M224.9 67h0M117.3 27.8h0M44.6 55.2h0M230.1 63.5h0M249.1 59.9h0M143.9 97.5h0M80.5 47.7h0M151.1 73.5h0M184.8 75.9h0M137.4 11.7h0M108.7 26.8h0M85.5 49.1h0M96.4 36.6h0M41.6 58.4h0M87.1 34.3h0M241.7 63.3h0M32.4 58.3h0M191.7 73.1h0M205.3 69h0M120.2 44.2h0M162.4 91.6h0M79.5 46.4h0M178.6 59.9h0M187.4 70.4h0M193.3 79.8h0M139.5 18.7h0M245.5 58.8h0M222.5 68.1h0M157.4 92h0M181.7 83.4h0M91.5 37.3h0M239.6 63.6h0M173.5 77.2h0M228.8 68.4h0M94.5 41h0M248.2 58.9h0M54 50.4h0M148.1 83.6h0M55.1 50.2h0M72.6 48.2h0M199.9 74.4h0M45.2 54h0M115.4 27.4h0M73.1 49.5h0M218.9 70.7h0M48.8 55.2h0M105.2 29.2h0M220.3 64.6h0M182.8 64.9h0M186.4 62.7h0M250.1 59.3h0M35.8 57.4h0M177.9 83.1h0M195.6 71.4h0M196.3 74.2h0M188.8 85.7h0M46.6 51.6h0M49.2 57.4h0M201.8 81.3h0M166.1 84.8h0M88.8 36.6h0M32.7 57.7h0M148.8 75.7h0M50.6 53.6h0M196.4 82.7h0M106.1 35.6h0M209.5 77.2h0M51.8 49.9h0M140 8.7h0M52.7 50.8h0M203.4 62.8h0M154.6 101.2h0M82.6 50.3h0M243.9 59.8h0M181.7 76.3h0M105.1 45.8h0M220.1 63h0M114.8 29.5h0M239.4 64.2h0M96.4 45.5h0M248.6 59.5h0M44.4 53.8h0M193.3 71.6h0M95.1 39.6h0M124.5 18.1h0M171.5 68.5h0M40.8 55.5h0M80.1 49.9h0M53.6 49.6h0M194.4 68.8h0M79.6 39h0M141 29.9h0M103.4 26.8h0M82.9 45.9h0M237.7 62.9h0M143 71.3h0M174.7 74.9h0M186.6 76.3h0M212.5 75.8h0M88.9 39.5h0M48 51.6h0M134.1 15.8h0M68.3 54.7h0M35.1 57.6h0M234.3 66h0M169.4 91h0M122.4 29.2h0M60.8 50.7h0M199.2 74.6h0M148.7 62.1h0M69.2 53.7h0M248.2 59.6h0M241.2 60.1h0M236 61.6h0M213.7 74.3h0M148.3 99.6h0M97.1 33.6h0M175 83.9h0M64.1 44h0M167.2 74.5h0M45.2 53.6h0M33.6 57.8h0M189.1 86.9h0M106.5 40.7h0M185 71.4h0M203.4 77.9h0M215.6 73.5h0M167 90.9h0M218.2 72.2h0M176.5 71.3h0M236 64.1h0M229.3 65.8h0M40.2 54.5h0M89.9 43.3h0M116.7 42.1h0M86.5 46.3h0M69.8 46.8h0M224.1 71.5h0M36.1 56.6h0M70.9 43.6h0M199 74h0M80.1 45.9h0M87.8 33.6h0M244.9 60.6h0M199.5 65.4h0M130 19.7h0M60.8 53.5h0M90.2 43.4h0M247.9 60h0M205.8 77.8h0M46.1 58.3h0M187.2 81.8h0M113.9 47.5h0M190.1 80.3h0M96 36.7h0M59.4 49.9h0M35 57.4h0M96.1 38.2h0M221.2 72.6h0M228 64.5h0M181.9 79.1h0M196.3 66.5h0M73.7 47.6h0M109.1 52.9h0M229.8 68.4h0M249.1 59.3h0M128.7 15.5h0M202.5 65.3h0M237.4 63.9h0M251.4 58.8h0M96.1 35.5h0M175.5 89.6h0M117 50.7h0M133.6 19.6h0M132.9 53.7h0M92.3 45.2h0M34.8 56.9h0M200.4 75.6h0M184.8 88.6h0M216.8 73.6h0M64.6 49.5h0M83.1 47.7h0M162.6 74.1h0M238.1 59.5h0M135.1 19.8h0M75.1 40.8h0M162.3 64.9h0M242.7 61.4h0M222.9 70.7h0M229.7 66.5h0M121.5 34.5h0M88.7 32.9h0M223.4 66.4h0M205.2 69.2h0M219.2 68.5h0M117.3 38.1h0M94 42.4h0M83.8 42.8h0M223.4 61.3h0M234.3 64.7h0M111.9 32h0M224.3 69.1h0M115.1 42.6h0M129.8 52.4h0M156.1 94.7h0M79.6 46.5h0M89.8 38.9h0M89.7 46.6h0M88.2 44.9h0M144.8 80.4h0M52.9 52h0M203.5 75.9h0M69.3 51.4h0M128.9 36.6h0M172.8 81.5h0M61.2 47.4h0M121.2 36.3h0M155.3 66.7h0M152.5 89.5h0M228.3 65.4h0M204.5 80.7h0M57.4 49.9h0M215.2 61.2h0M152.4 94h0M180.8 65.7h0M66 49.8h0M135.1 52.6h0M185.6 81.2h0M207.2 65.6h0M209.1 77.9h0M78.7 50.7h0M215 75.5h0M156.5 100.7h0M178.7 81.3h0M219.2 68.1h0M120.4 35.8h0M234.3 65.5h0M225.8 62.9h0M209.5 69h0M114.8 52h0M147.6 87.3h0M68.9 52.3h0M198.8 82.2h0M227.9 65.5h0M66.2 52.2h0M195.6 70.4h0M184.4 69.4h0M38.7 57.8h0M233.7 60h0M136.7 19.2h0M90.2 51.9h0M37.3 55.9h0M203.8 80.7h0M105.4 26.3h0M144.3 75.7h0M73.7 41.5h0M165.1 88.1h0M118.6 19.8h0M209.3 67.9h0M178.2 83.8h0M190.5 79.9h0M86.2 49.5h0M44.7 53.9h0M225.5 68.8h0M237.8 64.4h0M173.1 92h0M234.8 59.5h0M187 84.1h0M164.8 78.8h0M123.4 22.7h0M109.4 47.4h0M139.1 31.6h0M79.9 45.7h0M125.3 24.1h0M143 96.2h0M37.5 55.8h0M117.8 56.9h0M93.6 45.4h0M171.1 89.8h0M210.4 66.6h0M166.7 94.4h0M177.7 75.4h0M166.6 89.6h0M87.4 54.3h0M113.9 22.6h0M217.6 62.7h0M240.1 61.8h0M70.7 48.4h0M32.9 58.1h0M243.6 61.3h0M221 68.3h0M165.2 93.7h0M211.5 77.2h0M162.2 95.1h0M231 66.6h0M84.5 49.6h0M129 41.4h0M179.1 60.8h0M78.4 53.6h0M188.9 83.9h0M88.7 54.1h0M187.9 71.9h0M208.7 69.8h0M124.6 45h0M249.9 59.1h0M170.4 74.8h0M198.2 73h0M35.2 57.9h0M55.6 57.4h0M188.2 86.7h0M239.5 63.5h0M169.8 91.2h0M232.8 62.5h0M43.7 52.8h0M228.1 68.6h0M224.9 65.9h0M169.9 76.4h0M125.7 21h0M186.7 61.4h0M84.6 41.1h0M178.5 90h0M184.4 88.4h0M150.2 103.8h0M88.2 43h0M31.1 58.6h0M74 48.3h0M215.3 66.2h0M77.6 43.3h0M47.1 52.4h0M85.2 34h0M145.6 83h0M160.5 81.4h0M224.9 61.4h0M219.9 72h0M245.2 60.7h0M226.5 63.4h0M130.3 28.9h0M62 49.4h0M242.3 62.6h0M81.3 49.3h0M168.4 84.2h0M89.2 42.4h0M211.5 63.1h0M75.1 52.7h0M123.8 41h0M79.3 45.3h0M221.2 68.6h0M167.8 91.3h0M170.3 94.5h0M100.3 51.4h0M69.7 41h0M220.5 67.1h0M200 79.4h0M193.3 72.4h0M251.5 58.8h0M154.5 94.6h0M70.2 57h0M165.6 95.6h0M94.2 54.4h0M144.2 91h0M132.3 40.6h0M155.4 91.1h0M234.7 61.4h0M210.1 73h0M122.6 22.9h0M211.6 72.2h0M221.2 71.5h0M202 71.4h0M152.7 94.7h0M229.8 64.9h0M139.6 11.5h0M54.1 56.1h0M90.9 33.4h0M176.2 61h0M114.6 23.8h0M124.3 49.3h0M119.7 26.1h0M73.1 53.9h0M51.3 50.5h0M41.5 56.6h0M179.6 65.1h0M102.4 28.5h0M131.8 25.8h0M237.7 64.6h0M169.4 91.9h0M210.2 63.1h0M199.5 64.3h0M241.8 62.5h0M45.4 52.5h0M115.7 45.2h0M240.9 63.4h0M133.5 53.7h0M240.5 63.2h0M71.5 44.6h0M43.9 55.2h0M228.9 64.5h0M121.7 38.6h0M143.2 90.6h0M238 62.9h0M79.2 51.3h0M245.1 58.8h0M118.4 31.6h0M85.4 49.6h0M82.4 53h0M145.4 79.8h0M134 44.4h0M226.9 69.3h0M41.9 56.2h0M40.3 55.2h0M64.4 57.7h0M164.8 90.1h0M203.7 80.5h0M136.9 17.8h0M166.5 92.3h0M172.9 80.1h0M34.9 57.4h0M85.2 35.2h0M251.6 58.7h0M103.9 36.7h0M240.3 63.1h0M139.6 33.2h0M79.9 44.5h0M31.1 58.6h0M78.8 41.2h0M101.8 47.9h0M127.9 39.4h0M129.6 40.7h0M152.1 96.6h0M135.6 31.5h0M37.9 55.3h0M89.7 35.1h0M243.7 62.3h0M36.7 56.4h0M193.2 69.6h0M136.1 34.7h0M187.2 74.8h0M104.2 46.1h0M112.6 35.3h0M145.1 101.7h0M232.1 64.8h0M103.3 47.7h0M49.6 51.4h0M39.1 54.8h0M225.9 66.3h0M100.1 49.2h0M57.1 48.7h0M162.7 87h0M217.7 72.6h0M163.4 88.9h0M64.2 44.5h0M120.5 55.6h0M89.6 38h0M34.3 57.4h0M244.5 61.6h0M132.3 40.5h0M60.4 48.8h0M226.6 63.8h0M248.8 59.9h0M211.3 62.6h0M86.8 50.4h0M72.8 40h0M146.9 99.2h0M159.8 76.9h0M225.2 64.7h0M244.8 60.6h0M232.3 62.4h0M106.4 48.4h0M160.3 100.6h0M58 53.8h0M145.5 100.1h0M46.3 52.8h0M55.3 49.3h0M57.6 52.7h0M97.4 46.6h0M99.2 35.4h0M186.8 89h0M47.4 54.3h0M55.2 54.2h0M176 81.9h0M179.6 70.7h0M188 74.1h0M190.1 82.5h0M177.4 73.1h0M153 86.7h0M194.8 78.9h0M48.7 56h0M77.5 52.1h0M194.8 84.7h0M73.3 40.8h0M148.2 103.5h0M88.3 40h0M126.1 30.1h0M215.4 62.9h0M176.9 73.1h0M129.2 47h0M91.2 39.9h0M208.9 70.6h0M176.1 70.5h0M128 48h0M223.1 68.2h0M184 68h0M247.8 58.7h0M177.8 72.4h0M229.9 67.6h0M152.5 94.4h0M187.9 78.5h0M217.2 65.1h0M50.6 52.9h0M135.6 55.9h0M164.7 78.9h0M43.4 54.9h0M205.4 63.5h0M189.1 79.5h0M238 62.6h0M113 52.4h0M134.5 44.1h0M232.6 64.4h0M121.7 19.7h0M215.4 61.5h0M123.9 28.8h0M105.4 42.9h0M92 43h0M77.9 38.1h0M126.2 25.8h0M66.4 51.1h0M214 69.4h0M246.4 61.2h0M52.2 49.6h0M42.7 55.3h0M31.4 58.3h0M237.1 62.9h0M46.9 56.3h0M181.3 90.9h0M97.9 46.3h0M74.5 50.8h0M85.2 52.2h0M183.4 89.5h0M34.6 56.9h0M222.2 69.1h0M156.4 88.6h0M82.8 41.6h0M76.7 47.2h0M175.6 91.7h0M170 85.2h0M101.1 29.4h0M104.6 31.7h0M133.3 21.7h0M232.3 65.8h0M149.8 99.3h0M216.7 73.1h0M172.5 87.9h0M155.1 80.9h0M139.1 37h0M181.4 70.6h0M139.5 13.5h0M191.4 76.7h0M70.9 58.5h0M102 34.9h0M224 70.6h0M118.1 20.7h0M217.3 74.2h0M238.4 64.5h0M158.7 73.5h0M53.2 51.8h0M198.3 78.9h0M178.1 84.8h0M95 43h0M221.7 60.4h0M137.5 13.1h0M43.2 53.7h0M45.7 52.3h0M81.2 45.8h0M165.7 75.6h0M211.2 75.8h0M52.5 50.9h0M35.5 56.8h0M168.5 63.4h0M121.3 48.2h0M128.4 20.6h0M212.4 75.7h0M234.2 63h0M244.8 61.7h0M203.2 66.4h0M31.3 58.4h0M63.9 50.7h0M160.7 87.5h0M242.2 60.3h0M48.6 54.1h0M144.7 89.6h0M118.4 30h0M120.7 43.2h0M90.1 38.7h0M90.6 48.1h0M83.4 34.9h0M53.5 54.3h0M153.3 70.3h0M129.4 38.5h0M188.5 79.5h0M172.3 81.1h0M241.6 62.4h0M105.8 49.9h0M226.1 65.6h0M115.8 31.6h0M176.9 93.1h0M208.9 77.3h0M118.5 30.2h0M129.4 37.2h0M170.4 68.5h0M55.1 50.2h0M148.4 92.5h0M51.6 52.6h0M80.4 40h0M168.6 82.8h0M245.9 61.1h0M252 58.6h0M88.3 45.4h0M63 44.6h0M145.5 94h0M128.4 15.2h0M114.6 51.8h0M200.8 81.4h0M187.8 63.7h0M155 96.4h0M168.3 86.4h0M159.5 70.3h0M180.5 74.5h0M236.1 63.3h0M240.3 62.4h0M247.6 60h0M221 60.1h0M53.8 48h0M130.6 34.7h0M203.7 77h0M95.8 30.2h0M165 98.5h0M42.8 56.6h0M75.7 39.4h0M119.2 31.8h0M46.1 53.1h0M124.6 40.6h0M81.6 51.6h0M221.5 68.8h0M101.2 28.3h0M114.9 36.2h0M208.2 78.4h0M154.6 95.2h0M41.7 58.2h0M78.8 37.5h0M165.9 69h0M74.8 50.7h0M85.6 41h0M168.6 96h0M140.2 44.2h0M90.2 45.8h0M154.5 65.3h0M171 67h0M39.3 56.2h0M91.3 38.9h0M98.8 38.1h0M225.2 60.5h0M42 55.5h0M107.5 37.4h0M73.7 39.7h0M184.6 74.3h0M210.3 73.3h0M43.3 54.9h0M221.8 70.7h0M184.8 81.6h0M78.7 36.8h0M233.5 65.2h0M95.5 43.4h0M205.2 71.4h0M47.2 51.7h0M131.6 33.8h0M142.6 107.3h0M229.2 65h0M215.9 74.9h0M151.6 73.1h0M42 54.1h0M125.8 32.3h0M113.7 43.5h0M251.1 58.9h0M181.4 64.3h0M120.3 43.5h0M111.4 25.3h0M200.6 74.7h0M51.8 53.7h0M211.6 64.3h0M179.2 69.5h0M127 40.9h0M187.9 77.1h0M118.7 55h0M62.3 53.2h0M123 33.7h0M42 53.8h0M49.9 50.5h0M127.8 16h0M213.4 65.8h0M75.7 52.9h0M141.5 105.1h0M247.4 60.3h0M213.9 66.1h0M230.4 64.6h0M180.1 90.6h0M161.1 96h0M159.5 100h0M163.8 85.2h0M133.6 41.7h0M110.5 33.7h0M83.5 52.3h0M45.1 56.9h0M112.4 50.2h0M201.1 68.7h0M153 73.6h0M66.9 51.4h0M210.9 73.9h0M39.8 55.3h0M236.8 59.3h0M175 91.3h0M153.8 99.1h0M122 18.3h0M213.3 65.6h0M32.1 58h0M34.1 57.5h0M145.8 98.5h0M96.4 30.4h0M119.5 50h0M149.5 101.6h0M40.3 54.6h0M248.3 59.9h0M180.7 77.5h0M52.5 51.8h0M194.2 66.6h0M148.6 98.8h0M182.8 80.9h0M194 77.8h0M250.2 59.3h0M56.8 55.7h0M251.3 58.7h0M136.2 45.7h0M75.1 54.4h0M113.4 25.7h0M111.3 48.1h0M228.9 64.5h0M146.7 96.4h0M45.4 55.7h0M188.9 86.4h0M140.9 11h0M211 69.3h0M40.9 55.2h0M222.2 70.6h0M228.4 69.5h0M32.4 57.9h0M136.2 29.2h0M57.5 56.8h0M147.9 95.5h0M50.4 51.6h0M227.1 67.9h0M71.3 48.9h0M178.6 89.8h0M175.4 84.4h0M101.7 40.8h0M78.1 49.6h0M233.3 59.6h0M39.4 55.3h0M86.9 46h0M103 28.6h0M160 79.9h0M112.4 40.7h0M55.3 48.9h0M156.9 82.9h0M191 86.8h0M186.7 80h0M139 11h0M98.6 50.2h0M32.9 58.4h0M148.6 61.9h0M169.8 93.9h0M128.3 30.4h0M243.1 62.1h0M75.4 44.9h0M210.9 77.4h0M189.8 84.1h0M229.8 65.2h0M235.4 61.3h0M83 45.4h0M234.8 63.1h0M119.9 37h0M181 85.5h0M241.7 63h0M162.5 95.8h0M159.7 74.3h0M46.3 56.2h0M162.8 91.1h0M84 38.5h0M116.6 24.8h0M114.3 22.7h0M246.2 60h0M171.9 65.7h0M191.2 73.9h0M68.9 49.9h0M98 50.8h0M225 68.6h0M57.2 50.6h0M241.7 62.2h0M125.3 19h0M117 30.6h0M144.6 105.1h0M128.8 19.1h0M134.8 26.6h0M124.5 26.7h0M186 77.9h0M91.8 43.1h0M67.5 44.7h0M126.8 26.5h0M50.2 53.8h0M129.7 23.9h0M140.1 24.6h0M204.3 64.3h0M54.8 49.4h0M118.5 32.6h0M203.5 80.2h0M105.5 26.6h0M215.8 63h0M189.7 71.4h0M39.8 55.2h0M115.9 44.2h0M200.4 80h0M147.2 96.8h0M179.6 91.3h0M249.9 59.1h0M180.2 85.2h0M151.5 92.8h0M218 71.1h0M125.9 16.5h0M32.9 58h0M91 47.5h0M162.3 95.2h0M240.6 60.3h0M165.1 86.6h0M93.4 31.2h0M250.6 59.2h0M119.2 26.4h0M81.1 57h0M153.1 104.2h0M106.8 37.3h0M55.3 53.4h0M188.5 64.2h0M183.8 68.2h0M245.9 59h0M60.9 48.9h0M232.3 63.7h0M207.2 68.4h0M86.7 36h0M136.8 48.5h0M170.2 81h0M100.4 30.8h0M54.4 48.9h0M216 72.2h0M67.1 47.4h0M139.3 42.7h0M127.6 33.7h0M230.6 66.8h0M154.4 97.6h0M124.6 27h0M247 60.8h0M108.7 33.6h0M191.5 84.1h0M82.4 36.4h0M198.3 66.9h0M197 66.4h0M214 76.2h0M138 35.6h0M79.8 44.9h0M170.6 80.9h0M232.2 67h0M99.2 56.5h0M35.1 57.3h0M71.6 47h0M237.2 60.2h0M31.9 58.2h0M42.5 53.6h0M52.4 57h0M228.1 63.3h0M115.5 30.1h0M183.8 80.4h0M187 84.2h0M126.7 36h0M192.8 66.1h0M132.8 33.4h0M150.6 100.7h0M98.6 40.1h0M31 58.5h0M162 94.6h0M89.4 39.3h0M91.5 50.5h0M225.3 65.5h0M110.7 24.1h0M53.3 57.4h0M170.2 90.8h0M149.9 81.6h0M43.4 53.7h0M107.9 47.1h0M166 89.5h0M92.6 32.8h0M249 58.9h0M207.6 78.8h0M142.3 71.4h0M233.4 59.2h0M38.3 55.5h0M80.3 43.6h0M233.2 59.7h0M143.3 97.6h0M68.3 47.3h0M156.9 102.8h0M192.3 86h0M164.3 96.4h0M40.8 55.5h0M38.7 55.3h0M120.8 24.5h0M34.2 57.9h0M49.2 51.5h0M172.9 75.9h0M127.7 32.7h0M49.5 56.8h0M224.7 62.3h0M112.2 34.3h0M226.2 69.4h0M165.5 93.6h0M168.1 71h0M124.5 29.2h0M179.4 74.9h0M84.5 49.4h0M87.6 44.6h0M224.4 68.8h0M75.7 39h0M116.1 49.4h0M195.6 70.9h0M103.7 30.7h0M111.7 34.6h0M232 63.8h0M76.3 40.4h0M84 56.6h0M227 69.9h0M91.6 46.2h0M103.8 28.4h0M226 69.5h0M101.7 29.5h0M251.4 58.8h0M212.5 72.7h0M218.1 61h0M80.6 45.1h0M78.7 42.2h0M197.3 70h0M213.7 72.7h0M80.3 42.9h0M76.2 42.4h0M84.5 36.2h0M61.1 51.5h0M123.9 26.8h0M142 66.5h0M169.7 91.9h0M42.9 53.7h0M73.2 43.2h0M56.5 49.2h0M90.4 39.5h0M71.8 49.2h0M238 64.3h0M113.3 47.9h0M61.4 48.6h0M178.2 67.3h0M246.1 60.9h0M206.6 72.4h0M174.2 86h0M114.4 45.8h0M119.9 34.9h0M97.5 35h0M209.2 70.6h0M208.5 75.2h0M139 47.9h0M221.5 66.1h0M175.1 67.6h0M182.5 85.5h0M90.1 43.3h0M84.1 38.2h0M81 39.2h0M232.7 59.8h0M207.9 73.9h0M229.8 67.7h0M212.8 75.9h0M208.9 63.1h0M127.2 48.5h0M200.2 73.2h0M67.5 44.5h0M175.9 67.7h0M40.1 54.3h0M244.5 61.5h0M225.4 59.5h0M67.1 44.7h0M200.9 72.7h0M213 64.8h0M39.9 55.3h0M156 95h0M123.7 27h0M167.7 75.4h0M226.9 62.7h0M190.7 63.6h0M77.4 51.5h0M153.5 83h0M155 81.7h0M33.1 58.4h0M59.8 46.6h0M110.2 45.7h0M70 54.8h0M83.2 49.5h0M180.4 78.7h0M243.5 61.6h0M132.1 48.8h0M173.7 69.9h0M199.3 61.2h0M179.7 77.7h0M176.1 94h0M30.9 58.5h0M223.3 70.8h0M66.3 43.2h0M70.6 51.4h0M143.5 97.2h0M160.6 83.4h0M198 72.1h0M95.5 33.6h0M240 62.6h0M169.8 87.2h0M217.6 65.8h0M136.3 12.2h0M46.4 53.1h0M33.3 57.7h0M172.4 89.9h0M125 17.9h0M128.2 43.4h0M102.8 44.2h0M70.1 40.9h0M135.5 21.1h0M87 34.7h0M228.3 64.2h0M70.2 40.7h0M244.9 60.6h0M221.2 71.2h0M115.6 22h0M201.8 74.2h0M159.2 83.7h0M133.8 28h0M210.5 64h0M214.6 62h0M75.2 38.9h0M231.3 66h0M37.7 57.9h0M31.8 58.2h0M137.7 38h0M97.3 31.2h0M124.2 35.9h0M136.7 54.7h0M134.3 21.8h0M231.7 68.1h0M234 65.6h0M107.3 24.4h0M94.3 51.5h0M175.5 75.2h0M74.5 41.5h0M119.3 33.5h0M189.6 68.6h0M31.9 58.3h0M201.6 69.4h0M193.1 80.7h0M116.4 25.2h0M85.5 37.9h0M150.2 95.6h0M96.1 33.6h0M212.5 76.2h0M161.4 77.1h0M98.5 44.6h0M209.5 78.2h0M165.2 96h0M59.8 48.2h0M122.3 22.3h0M139.1 20.9h0M239.9 61.3h0M101.6 35.8h0M129.9 39.7h0M247 59.2h0M125 36.6h0M213.8 74.2h0M52.1 55.7h0M117.8 52.7h0M71.3 51h0M226.4 68.9h0M153 101.3h0M79 48.7h0M51 49.5h0M123.8 31.7h0M52 50.9h0M138.1 20.4h0M192 75.5h0M99.4 30.4h0M67.7 42.8h0M110.7 35.7h0M67.4 50.6h0M217.5 74.1h0M51.9 50.8h0M194.7 72.9h0M104.5 47.6h0M191.9 74.3h0M201.4 72.9h0M60.5 46.6h0M198.2 78.8h0M240.1 62.3h0M156.2 100.7h0M173.5 84.9h0M102.1 28.8h0M69.2 55.4h0M195.5 64.1h0M212.3 75.5h0M76.3 41.4h0M55.7 53.6h0M108.6 49h0M169.3 66.1h0M111.5 40.4h0M244.1 62h0M205.9 66.3h0M233.5 62.3h0M163.4 95.5h0M198 67.5h0M241.2 60.7h0M38.5 55.6h0M157.9 98.4h0M72 40.4h0M206.7 61.7h0M82.1 46.8h0M194.9 78.2h0M104.3 41.6h0M174.9 88.5h0M181 71.8h0M231.9 65.5h0M223.8 62.9h0M127.6 44.9h0M183.2 86.5h0M71 44.8h0M52.3 51.6h0M188.8 74.7h0M231.5 66.1h0M196 84h0M145.1 85.7h0M170.1 64.4h0M192.3 70.6h0M156.7 96.7h0M111 41.3h0M219 71.5h0M112.4 44.7h0M230.8 65.8h0M207.7 69.7h0M206.3 73.1h0M215.3 67.9h0M249.2 59.6h0M249.9 59.5h0M141.7 99.9h0M114.2 36h0M193 62.2h0M245 61.5h0M170.2 68.1h0M36.3 57.2h0M39.1 55.2h0M133.4 12.3h0M205.1 76.6h0M227.2 61.6h0M113.7 21.5h0M145.2 66.1h0M144.2 65.1h0M51.5 50.7h0M30.8 58.5h0M146.6 95.9h0M142.3 105.7h0M221.9 69.4h0M70.8 54.6h0M219.4 69.9h0M90.7 35.3h0M150 89.3h0M187.2 83.1h0M62.8 49.4h0M240.2 59.9h0M242.8 62.6h0M245.5 59.8h0M31.1 58.5h0M173.1 69h0M179.2 76.2h0M225.5 65.6h0M75.2 51.1h0M58.1 54.5h0M209.9 70.6h0M88.6 56.9h0M45.2 54.3h0M51 56.3h0M173.5 69.1h0M149.3 71.5h0M196.3 82.1h0M209.4 76.1h0M31.2 58.3h0M237.2 64.7h0M225.4 66.7h0M237.3 62.5h0M200.9 75.7h0M115.6 29.5h0M85.6 33.7h0M232.7 63.2h0M123.7 18.7h0M138.7 10.8h0M185.3 88.8h0M183.1 82.6h0M184.2 82h0M168.7 97.4h0M143.3 88h0M200.5 79.1h0M118.3 50.2h0M88.7 47.7h0M232 64.7h0M218 71.7h0M189.6 68.6h0M67.9 43.6h0M40.7 55.3h0M234.9 60.9h0M239.5 59.4h0M90.9 43h0M170 92.5h0M34.7 56.8h0M117.8 25h0M186.5 70.7h0M110.6 24.5h0M209.4 64.9h0M232.8 63.7h0M61 47.8h0M183 75h0M113.9 39.5h0M69.2 48.1h0M108 25.4h0M137.3 28.2h0M229 61h0M200.1 71.4h0M31.7 58.2h0M43.1 54.7h0M250.7 59.2h0M153.9 88.7h0M165.8 93.4h0M108.7 28.7h0M214.8 69.4h0M154 85.3h0M161.9 84.6h0M85.9 51.8h0M202.6 63.7h0M78 53h0M61 54.7h0M162.9 67.4h0M215 68.3h0M95.5 49.5h0M97.5 28.5h0M63.7 50h0M164.2 60.1h0M201.3 76.9h0M58.4 48.3h0M149.1 105h0M150.1 78.4h0M54.2 53.3h0M148.1 99.1h0M90.8 38h0M74.7 43.6h0M248.9 60h0M50.6 49.5h0M106.7 56.8h0M167.6 80.5h0M120.3 19.1h0M34.6 58.5h0M222.5 65.7h0M83.6 38.1h0M121.9 50.2h0M231.8 65.4h0M245.4 61.6h0M233.2 64.6h0M121.6 57.2h0M195.4 65.5h0M218.5 67.6h0M74.3 57.3h0M245.3 61h0M53.1 54.1h0M176.3 76.8h0M83.5 37.8h0M78.2 40.6h0M61 46.5h0M239.3 60.7h0M59 51.9h0M232.7 65.4h0M67.3 47.7h0M103.5 29.5h0M77.4 46.2h0M249.4 59.8h0M51.2 54.9h0M221.3 69.6h0M97.2 32.1h0M241.5 63.5h0M196.8 72.7h0M89 33.9h0M143.6 95.5h0M66.3 46.2h0M120.8 40.9h0M36.4 56.1h0M181.6 64.7h0M162 100.3h0M90.8 39.3h0M33.5 57.6h0M238.6 60.7h0M58.3 48.7h0M103.2 48.2h0M36.2 56.3h0M115.5 26.2h0M119.6 45.1h0M148.8 100.1h0M102.3 33.9h0M85.9 46.7h0M204.7 75.7h0M92.4 36.1h0M104.2 36.8h0M139.4 19h0M91.2 34.7h0M191.5 84.9h0M49.2 51h0M102.2 50.4h0M123.8 19.8h0M87.8 33.3h0M216.6 69.1h0M109 24.9h0M123.8 41.8h0M134.4 52.1h0M214.5 69.2h0M79 52.7h0M214.2 63.6h0M240.7 61.8h0M89.5 32.1h0M68.1 47.2h0M205.3 80.2h0M99.9 37.8h0M81 44.3h0M47.9 57.9h0M166.6 67.1h0M238.1 64.6h0M225.8 68.3h0M161 88.4h0M127.8 17.3h0M246.9 60.5h0M176.9 74.6h0M242.4 62.7h0M183 85h0M184.9 65.2h0M185.9 86.1h0M58.4 51.8h0M86.6 35.6h0M45.2 52.7h0M237.2 65.2h0M250.9 58.7h0M164.6 92.3h0M65.2 50.9h0M58.1 47.2h0M129.4 46.8h0M117.2 22.2h0M73.9 39.1h0M50.4 52.6h0M174 83.7h0M206.1 74.4h0M44.6 52.6h0M99.2 51.7h0M97.1 31.1h0M150.7 83.2h0M164.5 81.9h0M121.5 20.4h0M222.4 62.4h0M117.2 46.7h0M97.8 34.4h0M200.4 78.4h0M217.1 65.1h0M224.9 68.7h0M68.1 49.6h0M74.2 56.5h0M133.1 38.2h0M244.9 59.7h0M168 82.5h0M168.7 82.4h0M103 40.3h0M250 59.5h0M71 48.4h0M154.5 74.9h0M180.1 91h0M210 73.5h0M210.8 77.3h0M116.2 34.7h0M90.6 38.5h0M247.6 59.6h0M153.1 103.7h0M93.1 45.8h0M61.2 45.2h0M208.5 69h0M218.5 71.9h0M156.8 92.5h0M115.7 25.4h0M176.7 71.7h0M247.7 60.7h0M158.7 86.8h0M204.9 63h0M226 68.2h0M198.2 63.8h0M138.4 21h0M70.1 43.9h0M184.9 70.3h0M214.8 63.2h0M243.9 59.7h0M64.3 46.7h0M55.8 49h0M171.5 94.2h0M213.8 67.5h0M47.5 56.8h0M166.6 88.5h0M89.6 34.5h0M251.9 58.7h0M110.6 35.1h0M48.8 54.9h0M204 77h0M97.2 31h0M123.4 42.1h0M59.5 47.9h0M103.9 30.1h0M60.1 45.1h0M87.6 44.4h0M158.8 83h0M96.8 54.2h0M178.4 69.6h0M230.2 67.1h0M158.3 78.1h0M37 55.9h0M243.2 60.6h0M74.4 41.2h0M107.3 40h0M147.2 99.7h0M167.7 82.2h0M106.4 45.4h0M128.2 41.9h0M169.4 76.3h0M131.9 46.2h0M93.4 32.4h0M121.6 19.1h0M115.8 24.8h0M95.3 57.5h0M163.7 96.7h0M144.1 102.2h0M121.8 21.2h0M187.7 81.1h0M210.6 65.9h0M174.3 75.7h0M106.2 39.4h0M238.1 60.9h0M53.7 57.5h0M209 78.1h0M123.9 34.9h0M118.5 29.1h0M217.4 62.7h0M175.7 90.9h0M246.3 60.9h0M225.1 60.3h0M56.4 54.2h0M142 101.3h0M200.6 62.7h0M48.9 57.8h0M150.8 71.2h0M250.5 58.8h0M83.5 38h0M56.5 48.5h0M94.7 37.9h0M106.9 41.9h0M93.9 33.7h0M126.3 25.6h0M215.2 61.6h0M145.2 76.3h0M161.1 92.4h0M54.8 50.9h0M45 54.9h0M241.2 62h0M107.5 44h0M240.4 62.5h0M104.9 48.6h0M172.3 95.5h0M177.1 89.6h0M50.5 52.7h0M46.3 51.5h0M128.4 23.5h0M58.8 49.4h0M96.1 35.8h0M74 42.7h0M99.9 27.1h0M131.6 18.9h0M99.6 45.7h0M104.9 52.7h0M138.2 11.9h0M181.8 85.7h0M39.9 55.6h0M251.5 58.8h0M126 16.4h0M235.1 59.7h0M32.2 58.4h0M43.3 55.7h0M52.6 48.6h0M232.8 65.8h0M121.9 28.2h0M218.1 66.8h0M184.5 68.6h0M50.1 57.9h0M110.7 47.7h0M104 47.3h0M131 28.4h0M197.6 72.2h0M49.1 50.3h0M235.8 65.8h0M136.2 25.1h0M111.6 46.4h0M185.1 73.9h0M91.8 55.6h0M188.4 81.6h0M122.7 35.3h0M136.5 12.5h0M72.5 49.2h0M75.6 40h0M221.4 66.6h0M158.3 92.2h0M124.1 36.1h0M202.3 79h0M232.6 62.2h0M65.8 53.4h0M251.7 58.6h0M33.7 57.8h0M166.6 91.5h0M89 42.1h0M86.4 35.7h0M140.2 22.7h0M164.4 86.3h0M127.4 29.9h0M188.7 62.6h0M241.1 62.3h0M68 52.5h0M83.2 53.5h0M165.6 68.4h0M121.5 45h0M100.5 34.9h0M142.3 82.1h0M184.9 73.3h0M231.9 64h0M239 64.5h0M212.1 66.6h0M107.4 42h0M226.4 63.7h0M187.9 73.2h0M69.3 50.3h0M241.7 62.9h0M85.4 33.9h0M181.7 77h0M184.4 87.5h0M231.7 61h0M178.2 80.5h0M248.4 60.1h0M43.8 57.2h0M38.9 54.8h0M73.9 47.4h0M158 87.1h0M124.5 17.2h0M48.9 50.7h0M75.3 50.9h0M158.9 85.3h0M119.7 25h0M199.7 73.7h0M134 13.2h0M225 63.3h0M198.7 83.1h0M140.1 21.4h0M109.9 31.9h0M78 41.5h0M95.3 45.6h0M109.2 36.9h0M110.6 44.4h0M70.3 42.8h0M135.4 34.5h0M55.4 55.2h0M223 71.2h0M152.5 82.5h0M51.7 49.3h0M103.2 38.5h0M87.1 38.8h0M65.2 45h0M137.1 26.4h0M71.2 40.7h0M64.2 45.1h0M186.2 87.2h0M125.8 29.2h0M179.5 68.1h0M134.7 42.6h0M142.2 74.1h0M99.4 37.3h0M125 16.8h0M137.1 24.9h0M106.4 38.1h0M213.6 63.2h0M85.2 45h0M79.4 50.8h0M106.9 37.2h0M204.5 72.3h0M218.3 73.7h0M155.8 83.9h0M110.5 24.8h0M174.3 63.7h0M213.7 67.9h0M84.4 38.5h0M178.5 79.4h0M187.8 64.8h0M117 37.8h0M62.7 48.5h0M165.1 98h0M77.2 49.9h0M112.1 50.3h0M151.2 98.2h0M243.8 61.4h0M63.1 50.9h0M46.9 54.4h0M150 82.4h0M239.5 63.2h0M40.8 54.3h0M172.8 76.1h0M36.6 56h0M152.7 85.6h0M57 50.8h0M176.6 73.7h0M110.6 50.6h0M175.6 71.8h0M87.8 47.5h0M47.2 54.1h0M70.9 46.7h0M91.3 33.6h0M67.1 49.8h0M74.6 41.6h0M151.1 78.7h0M127.5 30.6h0M213.4 62.3h0M140.8 11.7h0M150.1 83.5h0M187.9 81.3h0M219.6 69.2h0M160.1 86.1h0M38.8 57.1h0M132.3 17.4h0M37.7 56.5h0M164.6 70.2h0M45 57h0M150.1 89.7h0M63.8 48h0M220.1 65.3h0M51.5 54.7h0M176.7 89.9h0M186.5 82.8h0M91.6 50.2h0M161.9 95.4h0M103.7 52.9h0M88 35h0M88.1 35.1h0M34.1 58.2h0M179.7 92.2h0M46.5 51.8h0M74.2 51.7h0M49.9 51.8h0M208.7 71.2h0M147.9 73.2h0M134.1 40.8h0M159.8 74.8h0M209.6 74.1h0M168.8 86h0M144.3 107.9h0M100 43.4h0M145.1 90.3h0M249.3 59.3h0M156.8 83h0M136.3 24h0M227.4 68.5h0M42.7 54.2h0M44.6 56.9h0M205.4 68.4h0M239.3 63.1h0M41.9 54.3h0M35.9 56.4h0M32.8 58.1h0M158.4 85.5h0M61.1 56.5h0M154.9 88.7h0M177.6 75.2h0M34 57.5h0M223.3 68.4h0M86.5 50h0M153.3 67.9h0M108.9 29.6h0M106.6 30.2h0M119.9 18.1h0M31.4 58.4h0M125.6 50.5h0M89.3 53.1h0M109.8 23.1h0M66.7 45h0M104.8 47.5h0M185.5 76.8h0M248.5 59.2h0M74.3 41.6h0M222.6 69.9h0M166.8 96.5h0M53 50.7h0M33.9 57.8h0M226.4 69.9h0M82.4 45.5h0M54.1 49.7h0M175.8 72.5h0M187.1 72.3h0M228.9 66.5h0M141.4 82.7h0M99.7 29.9h0M101.1 37.2h0M76 38.8h0M171.3 86.1h0M239.3 62.8h0M49.4 53h0M116.2 44.4h0M108.5 40h0M48.4 51h0M162.4 91.4h0M248.3 60.1h0M91.9 42.4h0M191.7 69.1h0M230.1 67.5h0M90.5 42.7h0M234.2 65.8h0M196.4 63.5h0M173.6 77.7h0M73.6 43.6h0M92 31.8h0M53.1 54.8h0M229 69.2h0M209.8 74.1h0M49.8 55.4h0M148.2 62.2h0M77.8 38h0M200.2 77.6h0M157.6 94.6h0M240 61.9h0M191.7 64.8h0M52.9 52.2h0M113.2 29.9h0M158.2 78.3h0M232.6 67.5h0M112.8 26.6h0M72.2 57h0M93.4 45.2h0M85.6 35.1h0M64.8 45.6h0M106.8 28.3h0M85.8 49.7h0M143.7 105.3h0M228.7 67h0M242 61.3h0M65.9 45.9h0M156.7 77.2h0M179.9 90.1h0M64.4 55.4h0M148.4 79.9h0M74.9 42.1h0M111.2 37.1h0M102.4 28.3h0M211.1 75.6h0M82.5 40h0M150.2 83.8h0M160.3 84.3h0M103.7 41.8h0M236.5 62.1h0M104.2 56.4h0M102.9 44.3h0M184 83.9h0M138.6 24.9h0M191.1 72.9h0M64.5 50.9h0M63.4 53.4h0M193.6 64.1h0M116.7 46.2h0M220.5 69.6h0M82.3 36h0M83.8 39.4h0M221.8 65.9h0M110.7 33h0M54.9 55.4h0M79.4 53.9h0M201.1 62.9h0M89.4 39.7h0M153.7 91.5h0M215.5 64h0M165.8 97.4h0M197.3 66.2h0M247 60.2h0M96.9 35.5h0M224.7 60.1h0M152.7 79.2h0M75.2 44.8h0M59.8 48.1h0M103.2 32.4h0M61.1 47.8h0M201.5 63.3h0M154.1 66.4h0M40.4 54.5h0M225.1 62.4h0M162.6 80.8h0M128.7 18.4h0M61.8 56.5h0M134.7 15.4h0M233.8 65.2h0M160 82.4h0M132.3 39.4h0M165.3 85.6h0M152.5 99.7h0M168.7 73h0M74.7 50.1h0M63.5 48.8h0M33.4 57.5h0M214.9 68.7h0M31.3 58.4h0M87.3 33.3h0M160.3 87.6h0M141.3 15h0M230.3 66.6h0M77.8 43.7h0M55.8 51.7h0M66.1 46.1h0M140.9 13.7h0M95.1 49.7h0M131.5 38.2h0M183 70.9h0M101.8 30.1h0M177.9 75.8h0M35 57.4h0M151.6 89.6h0M231.6 67.9h0M237.5 58.8h0M157.3 74.1h0M248.4 60.2h0M82.7 43.9h0M96.5 42.4h0M129.9 14.9h0M143.3 71.3h0M212.1 60h0M129.7 16h0M41.2 54.3h0M185.6 79.7h0M79.9 48.7h0M226 69h0M77.6 51.8h0M96.1 41h0M61 54h0M97.6 41.1h0M163.7 60.3h0M89.8 41.9h0M41.3 55.6h0M160.5 100.8h0M193.4 73.6h0M54.7 51.2h0M124.6 45.3h0M45.7 55.4h0M34.4 57.9h0M113.6 21.3h0M94.1 50.5h0M224.5 68.4h0M33.6 57.4h0M173.8 93.8h0M193.1 80.7h0M123 44h0M141.5 107.5h0M85.3 42h0M86.5 41.4h0M42.3 53.6h0M231.2 59.4h0M37 56.2h0M61 46.9h0M191 80.8h0M132 41.9h0M144 106.2h0M95.8 46.3h0M66.3 50.5h0M207.6 77.1h0M58 46.7h0M96.1 45.5h0M197.1 74.8h0M96.6 31.3h0M241.3 62h0M69.4 51.5h0M147.5 85h0M149.8 94.5h0M141.5 100.8h0M202.1 69.8h0M40.8 56.9h0M151.5 98.8h0M205.5 69h0M41.8 56.5h0M151.6 80.3h0M128.2 40.6h0M120.2 46.8h0M149.7 85h0M169 72.4h0M186.4 82h0M229.6 61.2h0M176 77.3h0M251.9 58.7h0M177.9 79.9h0M90.2 33.2h0M63.2 52.6h0M46.3 52.4h0M90 52.7h0M57 46.9h0M182 90.5h0M183.3 84.1h0M166.2 73.5h0M115.4 26h0M133.4 17.6h0M88.1 38.4h0M234.1 65.8h0M34.1 57.9h0M101.6 30.8h0M157.5 76.1h0M70.6 46.6h0M219.8 67.1h0M137 40h0M112.7 42.4h0M44.5 52.7h0M92.9 53.5h0M161.2 85.9h0M92.9 40.5h0M40.6 57.4h0M159 67.9h0M97.9 40.2h0M218.1 67h0M183.8 72.4h0M190.4 70.9h0M227.8 63.1h0M210 73.4h0M103.5 25.8h0M156.6 80h0M87.9 43.8h0M75.2 42.3h0M76.2 48.6h0M55.2 55.5h0M83.6 40.1h0M80.4 46.6h0M179.6 59.7h0M86.3 45.8h0M40.9 54.2h0M124 51.7h0M75.1 39.7h0M183.3 82.3h0M79.7 38.6h0M154 90.6h0M69.6 44.2h0M137.4 13.4h0M222.7 63.2h0M97.8 50.8h0M147.4 93.1h0M127.8 30.5h0M46.1 53.9h0M35.2 57.5h0M217.2 74.7h0M106 33.4h0M182.6 82.5h0M122 54h0M216.3 66.1h0M73.8 49.6h0M137.8 9.9h0M152.1 72.2h0M206.4 72.5h0M37.1 56.1h0M110.9 31.3h0M135.9 18h0M161 81.2h0M61.9 54h0M151 77.4h0M184.2 80.4h0M193 77h0M80.3 45.6h0M128.2 16.3h0M96.6 41.5h0M116.5 43.6h0M111 31.8h0M239.9 62.6h0M33.6 57.4h0M240.5 62.4h0M37.9 58.4h0M47.9 53.6h0M76.2 51.3h0M94.1 46.8h0M220.6 71.1h0M216.9 74.6h0M237.6 64.8h0M116.9 42.5h0M34.1 57.7h0M169.2 93.8h0M229.8 67.9h0M54.4 56.7h0M214 66.6h0M31 58.5h0M192.8 68.6h0M139.9 54.1h0M231.8 62.3h0M224.4 67.4h0M40.9 54.8h0M140.9 16.9h0M84.2 41.4h0M127.9 26.3h0M45.3 54.1h0M110.5 27h0M121.1 27h0M31.5 58.3h0M135.7 13.5h0M228.8 61.5h0M44.1 57.8h0M239.9 62.5h0M139 28.6h0M77.2 38.5h0M245.3 60.1h0M135.5 21h0M127.4 23.3h0M114 42.9h0M225.8 59.2h0M59.4 50.9h0M77.2 50.7h0M93.3 48.4h0M44.4 54.7h0M217.6 64.1h0M138.8 24.1h0M163.9 89h0M226.7 66h0M140.2 23.5h0M91.8 48.4h0M148.3 92.9h0M141.4 105.4h0M96.8 31.3h0M81.9 52.6h0M109.9 40.6h0M193.4 80.9h0M67.2 46.5h0M251.2 58.8h0M82.7 37.4h0M91 32.9h0M57.8 49.9h0M117.4 41.8h0M113 21.9h0M181.6 79.4h0M229.1 64.2h0M85.5 51.6h0M209.9 77.6h0M98.9 33.8h0M120.7 50.6h0M59 54.1h0M228.3 69.1h0M113.3 51h0M185.8 82.8h0M36.5 56.7h0M185 78.9h0M80.7 40.4h0M130.6 35.4h0M179.8 83.8h0M68.4 42.7h0M147.4 93.1h0M215.7 70h0M66.8 46.4h0M134.2 41.9h0M71.4 49.2h0M62.3 46.8h0M139.1 23.7h0M131.8 46.3h0M173.2 92.3h0M220.6 67.1h0M187.1 71.3h0M105.1 48.1h0M138.3 11.8h0M179.8 86.3h0M216.4 66.6h0M181.8 70.4h0M141.9 105.1h0M60.2 54.5h0M222.9 67.7h0M92.9 36.4h0M120.3 19.2h0M226.5 68h0M76.5 53.3h0M233 64.5h0M81.3 36.7h0M49.9 54.7h0M144.4 69.7h0M206.8 62.2h0M119.7 22.2h0M217.3 74.2h0M118.4 33.8h0M211.1 67.8h0M55.6 52.2h0M93.4 48.8h0M57.7 51.2h0M194.4 75.5h0M134.6 26.4h0M175.8 67.4h0M83.4 34.9h0M193.3 79.1h0M250.5 59.1h0M48.1 51.5h0M101.2 53.6h0M223.2 68.3h0M219.2 66.9h0M223.8 68.6h0M80.8 36.6h0M155.3 67.2h0M49.7 55.7h0M126.1 35.8h0M158.2 88.2h0M87.9 35.3h0M124.1 23.4h0M111.7 33.1h0M49.3 55.5h0M45.8 54.1h0M203.6 72.2h0M31.2 58.5h0M249 60h0M229.3 68.1h0M249.3 59.6h0M204.6 67.9h0M31.1 58.4h0M56.3 52.8h0M101.2 34h0M70.8 56.2h0M44 54.1h0M233.7 64.6h0M232.2 67.4h0M200.5 75.6h0M86.7 36.6h0M219.4 64.6h0M212 71.5h0M102.3 42.3h0M58.9 45.8h0M60.6 45.3h0M121.2 41.3h0M214.9 71.5h0M47.5 57.1h0M125.8 28.7h0M109.1 23.1h0M228.3 61.9h0M64.5 45.9h0M175.8 82.2h0M102.1 26.1h0M173.8 79.5h0M212.7 74.9h0M213.3 71.7h0M217.9 72.5h0M95.4 31.8h0M91.7 37.3h0M57.8 52.1h0M87.2 39.9h0M57 48.2h0M204.3 78.3h0M41.1 55h0M73.1 46.7h0M205.6 63.3h0M200.8 64.9h0M246.2 60.7h0M115.6 36.8h0M40.6 55h0M209.6 71.8h0M94 42.2h0M201.9 67.4h0M34.9 56.8h0M38.3 57h0M163.1 89.8h0M182.1 66.5h0M155.1 102.8h0M148.5 73.7h0M162.9 85.8h0M59.6 47h0M44.7 56h0M108 31.7h0M151.9 85.4h0M85.7 34h0M70.3 53.4h0M129.5 42.4h0M121.3 30.2h0M90.1 37.2h0M235.9 63.9h0M239.5 60.7h0M41 55.6h0M136.9 49.7h0M83.3 39.8h0M105 41.5h0M36.9 55.8h0M48.3 54h0M38 58.1h0M58.4 57.8h0M174.4 76.8h0M48 55.1h0M226.8 70h0M208.4 76.1h0M90.2 44h0M183.8 72.4h0M241.5 59.5h0M56.3 55.4h0M154.7 96.3h0M133.7 50.7h0M99.3 31.6h0M94.4 42.2h0M49.8 51.7h0M173.9 85.6h0M74.4 53.5h0M124.2 22.7h0M236.2 65.4h0M107.7 49.6h0M100.6 27.2h0M237.1 64.7h0M159.9 90.1h0M157 94h0M79.9 55.3h0M172.6 73.4h0M114.6 22.5h0M151.1 101.6h0M118.7 43h0M48.6 53h0M225 65.1h0M183.8 69.9h0M242.8 62.3h0M98.5 34.3h0M92.9 53.2h0M60.6 47.9h0M98.3 56.5h0M102.6 50.9h0M71.3 47.8h0M89.2 55.2h0M95.7 38.8h0M220.6 70.2h0M129.5 39.1h0M212.2 73.5h0M41.6 57.6h0M72.3 54.4h0M241.6 61.8h0M41.7 58h0M46 52.7h0M145.3 104.9h0M94.8 57.3h0M73.6 41.5h0M165.4 87.1h0M165.5 98.3h0M72.3 42h0M150 103.3h0M131.3 16.9h0M218.1 73h0M45.8 52.8h0M82.2 36.4h0M155.8 68.4h0M38 55.7h0M217.9 71.1h0M245.1 60.3h0M103.3 38.7h0M202.2 64.6h0M85.8 46.4h0M240.6 63h0M77.5 43.8h0M31.9 58h0M45.7 55.6h0M132.2 40h0M39.1 55.4h0M247.8 60.6h0M170.4 79.1h0M156.6 83.6h0M169.3 65h0M123.2 41.4h0M226.8 69.7h0M188.5 87.8h0M125.9 30.6h0M93.5 32.5h0M62.6 52.9h0M100.4 34.2h0M108.8 24.8h0M48.4 54.4h0M235.5 64.5h0M87.7 36.9h0M150.2 72.7h0M45.2 55.7h0M152.9 92h0M173.7 74.4h0M48.3 56h0M246.7 59.4h0M66.7 44.4h0M88.8 42.2h0M193.7 77.5h0M105.2 32.9h0M224.8 64.9h0M83.4 40h0M100.1 39.2h0M183.9 65.9h0M221.1 68.3h0M226.4 66.4h0M94.4 35.5h0M148.2 105.8h0M121.6 52.3h0M180.3 83.4h0M81 40.1h0M216.5 69.1h0M188.6 76.2h0M69.3 44.3h0M100.2 36.9h0M105.1 38.9h0M236.6 64.2h0M131.6 24.8h0M167.1 67.4h0M236.8 62.4h0M118.5 21.2h0M240.2 60.4h0M95.3 38.9h0M33.4 57.6h0M53.3 55.8h0M183.9 70.3h0M115.1 39.5h0M215.2 71.1h0M148.7 72h0M182.5 86.1h0M108.7 30.5h0M160.7 95.8h0M185.2 71.5h0M114.1 32.5h0M139.3 13.4h0M217.5 68.3h0M236.4 63.8h0M108.2 38.2h0M45.4 53h0M217.1 70.8h0M129.7 20.7h0M245.3 61.7h0M199.6 79.6h0M112.1 32.3h0M218.9 65.2h0M151.9 89.5h0M188.6 87.2h0M226.6 70.4h0M159.1 70.4h0M240.4 62.8h0M118.8 54.8h0M114.5 49h0M172.4 78.7h0M120.3 49h0M187.3 81.7h0M148.3 90h0M195 73.3h0M213.5 74.9h0M156.3 82.1h0M233.1 62.3h0M203.6 69h0M220.4 60h0M34.9 57h0M34 57.4h0M171.2 80.5h0M104.3 28.9h0M224 65.2h0M117.4 43.4h0M195.4 61.8h0M85.1 50.1h0M170 81.9h0M230.1 63.8h0M221.6 67.2h0M111.8 52.5h0M137.3 53.5h0M149.2 96.2h0M106.9 38.4h0M137.8 16.5h0M244.2 61.9h0M225.5 65.2h0M100.3 39h0M182.1 86.2h0M240.7 60.1h0M110.8 26.6h0M218.5 67h0M207.2 67.4h0M227 65.9h0M49.3 52.1h0M235 65.7h0M247.9 60.3h0M84.1 55.5h0M170.8 70.9h0M50.6 53.9h0M164 65.8h0M187.5 76.9h0M195.8 74.7h0M220.4 68.5h0M95.6 43.1h0M56.3 53.8h0M211.6 72.2h0M36.3 58.2h0M82.2 55.4h0M83.1 38.6h0M202.3 66.9h0M128.5 44.3h0M216.2 65.6h0M178.5 82.9h0M217.3 65.3h0M204.7 75.7h0M225.5 68h0M91.8 42.7h0M109.3 24.3h0M169.8 90.8h0M159.7 71.2h0M202.9 67.8h0M209.7 63.6h0M98.2 33.6h0M57.4 54.2h0M194.8 74.9h0M182.8 66h0M91.9 32.8h0M43.2 53.8h0M35.7 56.8h0M85.6 38.5h0M91.2 43.9h0M76.5 51.1h0M41.8 58.2h0M68.3 48.7h0M108.1 25.3h0M51 57.6h0M76.4 51h0M127.6 28.8h0M218.4 61.7h0M223.6 64.8h0M120.3 24.3h0M58.5 53.7h0M90.2 45.6h0M180.1 73.9h0M120.8 43.2h0M156.9 97.4h0M193.8 84.9h0M176.5 84h0M221 64.8h0M49.6 55h0M96.4 34.7h0M38.2 55.8h0M146 102.2h0M166.8 70.2h0M86.9 49.2h0M42.9 55.7h0M133.3 30.9h0M67.7 43.7h0M73.7 54.3h0M115.1 40.4h0M239.9 60.1h0M110.3 26.8h0M187.7 82.9h0M113.1 25.6h0M120.4 38.5h0M61.6 49.1h0M71.5 41.3h0M201.3 60.7h0M125.7 20.8h0M93.8 34.1h0M249.2 59.4h0M225.1 69.3h0M89.1 36.1h0M126.8 43.5h0M156.2 102.4h0M67.4 42.4h0M125.2 40h0M93.5 30.7h0M210.1 72h0M51.5 52.3h0M250.2 59.4h0M82.8 36h0M104 44.2h0M47.3 56.5h0M232.8 66.7h0M214 69.3h0M45.6 53.9h0M147.6 89.5h0M117.1 22.2h0M164.8 87.2h0M105 31.3h0M242.4 62.4h0M78.9 58h0M212.3 71.6h0M89.9 38.8h0M174.5 67.5h0M125.4 44.3h0M147.1 67.8h0M146.2 87.2h0M169.3 91.6h0M45.7 55.7h0M43.8 53.1h0M245.7 59.2h0M86.7 45.4h0M109.6 44h0M83.7 35h0M173.6 70.7h0M248.5 60.1h0M119.8 31.5h0M101.8 44.2h0M108 38h0M36.6 57.8h0M50.5 51.9h0M41.2 54.8h0M102.3 38.8h0M248.6 60h0M61.9 46.5h0M152.2 95.1h0M76.5 41h0M38.7 56.4h0M216 63.9h0M58.8 49.9h0M60.5 50.1h0M211.6 64.4h0M84.6 38.9h0M74.7 46.4h0M239.5 63.2h0M73.6 51.6h0M214.8 65.6h0M98.5 51.4h0M155.9 100.8h0M99.5 33.6h0M105.7 42h0M237.1 59.7h0M231.7 63.4h0M69.3 43.4h0M191.1 85.2h0M61.5 54h0M96.9 29.8h0M46.3 55.9h0M174.1 63.2h0M191.5 66.7h0M195.9 60.8h0M202.1 68.2h0M118 24.6h0M69.8 47.3h0M31.6 58.2h0M128.1 48.4h0M237.3 64.4h0M130 45.4h0M167 78.3h0M233.7 66.8h0M221.6 70.3h0M194.5 80.7h0M161.8 90.7h0M81.9 46h0M196.4 78h0M123.1 33.6h0M187 84.8h0M80.1 40.9h0M239 64.3h0M66.9 43.7h0M205.8 78h0M227.8 61.2h0M64.3 57.2h0M222.2 66.3h0M173.3 94h0M164.3 88.6h0M86.9 40.3h0M103.3 29.1h0M82.7 40.7h0M128.4 47.1h0M174.1 81.5h0M192 84.2h0M186.9 85.2h0M107.4 52.4h0M105.1 24.6h0M199.7 74.9h0M246.3 59.9h0M79.7 45.3h0M122 18.3h0M91.8 32.5h0M246.5 60h0M34.2 57.3h0M228.3 60.8h0M200.6 79.4h0M104.1 51.8h0M181.3 85.4h0M112.5 40.3h0M171.7 70.3h0M124.8 45.7h0M233.3 67.2h0M132 40.4h0M210.5 70.7h0M158.2 72.4h0M113.1 34.4h0M244.7 61.6h0M73.9 50.3h0M231.8 66.3h0M248 59.6h0M218.7 62.9h0M165.8 93.9h0M168.5 78.7h0M236.2 64.2h0M126.5 16.1h0M213.2 73.4h0M202.2 70.3h0M220.8 69.4h0M128.2 21.3h0M175.1 72.5h0M51 49.5h0M46.6 55.7h0M54.4 57.2h0M193.5 77.1h0M109.3 36h0M231.8 61.6h0M48.1 53.5h0M68.8 50.8h0M215.8 73.5h0M123.3 31.4h0M79.4 43.7h0M203.6 65.4h0M82.5 35.7h0M246.2 59.8h0M91.5 38.7h0M220.8 71.1h0M136.8 26.3h0M237.8 61.9h0M96.2 35.8h0M235.5 64.9h0M97.7 49.6h0M129.9 39.2h0M170.7 71.8h0M153.4 63h0M179.2 83.9h0M184.8 90h0M89.9 46.5h0M32.5 57.7h0M190.9 74.4h0M163.6 97.6h0M155.4 69h0M140.4 34h0M236.2 65.3h0M96.4 30.3h0M232.6 66.5h0M67.8 45.2h0M184.4 73.9h0M239.1 64.6h0M64.8 47.5h0M201.2 79.6h0M91.1 43h0M43.7 52.9h0M126.1 26.1h0M185.4 83.8h0M93.4 50h0M241.1 61.6h0M31.1 58.5h0M89.9 44.4h0M106.3 34.3h0M112.8 41.2h0M97 57.3h0M35.3 57.3h0M77.1 40.7h0M88.6 44.1h0M179.6 87.5h0M114.2 37.4h0M190.6 78.4h0M128.6 37.3h0M106.1 51h0M65.8 44.8h0M81.2 43.3h0M230.3 67.4h0M131.4 19h0M100 31.4h0M79 46.5h0M224.8 64.6h0M186.6 70.7h0M184.4 78.3h0M208.8 73.3h0M84 36.3h0M192.5 86.3h0M46.4 52.7h0M177.9 82.9h0M102 43.5h0M177.2 83.6h0M80.8 48.1h0M108.9 25.8h0M179.1 72.2h0M238.7 62.2h0M106.1 45h0M68.1 52h0M58.2 47.9h0M179.3 71.2h0M228.7 64h0M34.4 58.4h0M107 25.7h0M68 42.6h0M242.1 61.2h0M59.9 45.9h0M45.8 55.8h0M200.7 68.8h0M251.9 58.7h0M202 67.7h0M56 47.7h0M120.9 18.1h0M145.8 72.1h0M229.7 64.9h0M197.5 73.6h0M43.9 52.6h0M130.9 13.2h0M203.1 62.7h0M150.9 104.4h0M178.3 84.8h0M244.9 60.7h0M247.4 59.9h0M216 73.9h0M157.3 71h0M98.7 41h0M66 54.7h0M67.7 49h0M172.5 90.9h0M201.8 79.5h0M220.8 62.9h0M233.1 62.3h0M94.4 35.2h0M104.7 47.2h0M74.1 55.5h0M151.1 101.7h0M240.3 59.1h0M198.4 81.9h0M127.4 26.4h0M65.8 49.6h0M217.3 66.3h0M229.1 64.6h0M200.7 81h0M95.3 37.5h0M117 46.7h0M159.9 88.7h0M233.9 62.7h0M84.4 35.6h0M123.6 45h0M43.9 54.7h0M31.3 58.6h0M84.5 47.8h0M209.8 74.5h0M180.2 83.4h0M136.2 12.8h0M121.3 45.5h0M89.3 41.9h0M200.3 64.5h0M138.6 19.2h0M46.1 56.9h0M169.5 95.2h0M250.6 59.1h0M46.7 53.6h0M251.5 58.8h0M52.6 52.9h0M98.8 30h0M246.9 60.6h0M245.9 60.2h0M71.5 42.1h0M190.2 74.4h0M166.3 67h0M118.8 42.5h0M204.2 71.7h0M171.2 81.3h0M80.5 50.9h0M139.2 18.7h0M187.8 70.9h0M168.3 88.5h0M150.9 90.3h0M194 79.3h0M60.4 45.9h0M40.1 55.1h0M37.9 56.1h0M168.1 89.5h0M126.8 29.4h0M215.7 75.5h0M245.8 61.2h0M55.4 55h0M114.5 46.6h0M123.5 33.2h0M151.6 103.1h0M232.1 61.4h0M163.5 75.6h0M98.1 27.8h0M177.5 87.6h0M103.5 35.8h0M153.6 73.7h0M52.5 57.4h0M155.5 81.2h0M136.6 41.3h0M173.6 92.5h0M156.1 88.3h0M157.5 87.5h0M193.9 78.6h0M60.2 49.9h0M197.1 69.1h0M168.8 90.6h0M183.1 85.2h0M119.1 20.5h0M49.5 53.1h0M234.8 60.9h0M213.8 76h0M246.8 58.8h0M132.6 43.8h0M226.6 68.2h0M223.6 70.7h0M152.4 103.4h0M230.1 66h0M211 67.2h0M53.3 57.4h0M60.2 47.4h0M120.8 27.3h0M148.6 71.3h0M175.2 88.5h0M155.6 102.1h0M224.6 63.1h0M208 73.6h0M53.3 52.6h0M105.7 33.2h0M227.3 61.7h0M197.9 82.2h0M34.1 57.9h0M169.4 87.8h0M58.6 53.4h0M142.1 76.3h0M250.8 59.2h0M47.3 55.3h0M213 76.3h0M137.7 14h0M247.4 60.1h0M221 68.7h0M45 57.8h0M173.1 89.9h0M221.2 70h0M92.5 38.3h0M186.7 85.4h0M86.9 42.5h0M76.1 47.2h0M104.2 30.7h0M95.5 39.4h0M243.8 61.4h0M82.7 51.2h0M124.6 42.7h0M138.2 41.5h0M183.7 86.4h0M245.4 61.7h0M166.6 97.8h0M221.2 68.6h0M59.7 47.2h0M177.1 68h0M68.8 49.8h0M223.6 71.4h0M162.5 78.3h0M60.8 54.2h0M218.9 67.8h0M146.9 100.2h0M138.2 9.9h0M48.6 57.6h0M231.5 65.9h0M144.4 103.6h0M222.1 70.9h0M47.3 51.4h0M181.1 83.8h0M113.8 24.3h0M149.5 85.8h0M168.9 86.6h0M213.5 71h0M235.1 63.4h0M67.5 48.3h0M221 70.3h0M56.5 54.9h0M33 57.6h0M97.3 34h0M93.7 47.9h0M201.4 70.9h0M154.7 99.4h0M116.6 35.5h0M205.7 78.1h0M237.9 62.3h0M172.6 95.5h0M175.3 78.6h0M221.5 72.7h0M95.4 42.2h0M251.2 58.8h0M69.6 52.6h0M40.6 54.7h0M212.9 62.4h0M69.2 43.5h0M104.9 36.6h0M144.2 104.4h0M55.2 50.2h0M124.5 17.2h0M109 34.9h0M49.6 55.1h0M164.2 97.6h0M130.5 16h0M66 44.1h0M205.1 74.5h0M121.4 40.5h0M36.3 58.4h0M225.4 69.5h0M121.2 26.6h0M51 53h0M94.6 39.3h0M87.1 36.3h0M40.3 56.8h0M103.9 55.6h0M68 54.7h0M77.9 37.2h0M179.9 71.3h0M65.7 42.8h0M35.4 58.4h0M70.1 44.5h0M96 38.5h0M67.2 47.8h0M162.9 58.8h0M225.4 67.3h0M214.6 71.6h0M134.8 16.1h0M204.6 78.3h0M205.7 77.6h0M171.2 65.1h0M208.4 77.4h0M114.5 33h0M196.3 82.4h0M146.4 105h0M194.2 64.3h0M194.3 74.1h0M45.2 54.2h0M215.3 71.1h0M38.6 55.1h0M125.3 53.2h0M161.5 89.4h0M213 70.3h0M43.3 56.9h0M179.3 85.4h0M107 29.9h0M39.7 57.5h0M104.2 50.3h0M172.5 82.4h0M49 50.4h0M218.5 72.6h0M40.1 55.2h0M83.6 45h0M103.6 26.3h0M44.8 54.5h0M235.6 60.9h0M244.6 61.1h0M231 60.9h0M74.6 40.2h0M215.1 69.8h0M105.4 30.3h0M94.6 32.2h0M183.4 86.2h0M49.5 51.1h0M31.8 58.1h0M236.8 62.5h0M109 54.6h0M206.7 67.6h0M124.9 25.6h0M51.1 54h0M135.7 11h0M68.5 50.1h0M48.5 52h0M34.8 58.1h0M119.4 33.7h0M87.9 35.8h0M105 26.5h0M243.6 59.4h0M214.3 74h0M187 88.3h0M84.7 56.2h0M196.7 81.3h0M185.2 63h0M147.5 96.9h0M83.5 34.6h0M76.6 54h0M123.5 23.2h0M91.8 51.5h0M226.6 67.1h0M133.8 34.2h0M180.7 81.8h0M229.3 67.5h0M168.2 72.7h0M66.2 50.9h0M101.3 50.1h0M235 63.2h0M40.8 57.6h0M79.7 56.1h0M167.5 91.1h0M219.8 70.7h0M212.3 60.7h0M192.5 79.9h0M186.1 82.7h0M113.4 39.1h0M44.2 55.7h0M171.4 73.7h0M46.7 53.2h0M207.4 64.6h0M59.6 49.5h0M36 57.2h0M251.9 58.7h0M67.7 44.3h0M159.5 75.7h0M44.2 55.6h0M247.8 59.9h0M34.3 57.8h0M183 84h0M217.5 63.4h0M96.2 30.2h0M32.4 57.8h0M38.8 57.6h0M44.1 54.7h0M197.7 71.7h0M147.7 83.7h0M229.2 62.5h0M170.7 84.4h0M162.2 95.1h0M75.3 50.2h0M80.1 39.2h0M247.4 60.4h0M241.5 62.3h0M127.6 17.5h0M206.7 74h0M190.1 83.7h0M92.1 31.3h0M74.9 40.3h0M196.5 77h0M243.8 60.4h0M248.5 59.8h0M109.7 29.1h0M45.1 53.2h0M101.3 40.4h0M46.1 52.7h0M249.4 59.2h0M98.6 49.9h0M218.3 73.9h0M85.2 35h0M243.2 61h0M138.9 24.4h0M215.3 59.9h0M163.3 98.7h0M200.3 71.3h0M46.7 53.2h0M50 56h0M109.7 48h0M225 67.7h0M232 65.9h0M188 88.1h0M163.2 91.8h0M41.5 54.9h0M236.2 64h0M176.8 74.4h0M167 80h0M217.1 70.8h0M83 51.7h0M167.9 77.3h0M181.9 69.4h0M198.1 61.8h0M51.6 52.7h0M191.9 73.8h0M230.6 65.6h0M169.8 80.3h0M68.2 55.2h0M234.1 66.2h0M53.2 57.2h0M81.6 56.4h0M220 60h0M161 95.3h0M104.9 40.3h0M208.6 78.2h0M174 76.4h0M56.8 51.7h0M82 39.8h0M210.1 77.5h0M210.3 77h0M47.1 54.5h0M146.1 97.5h0M188.5 63.8h0M102.7 35.3h0M44.5 53.8h0M123 39.6h0M237.7 63.8h0M192.4 72h0M77.9 40.3h0M217.7 61.7h0M178.5 81.5h0M94.9 30.2h0M90.1 38.2h0M69.8 41.4h0M120.2 19h0M110.4 27.8h0M93.8 33.4h0M224.1 69.4h0M199.1 74.9h0M139.8 15.6h0M243.8 61.9h0M179.8 89.3h0M241.4 58.8h0M213.3 60.9h0M171.1 82h0M184.3 84.3h0M202.2 72.1h0M198.3 72.4h0M224.1 59.8h0M105.9 33.4h0M111.1 22.9h0M85.3 40.1h0M234.8 62h0M230.8 66.1h0M128.5 34.5h0M119.5 36.8h0M60 56.4h0M246.6 60.7h0M179.4 59h0M244 62h0M170.6 60.3h0M144.4 101.5h0M196.5 72.1h0M227.1 64.7h0M217.8 68.9h0M107.2 46.3h0M142.9 77.8h0M239.9 63.2h0M142.7 106.6h0M208.3 64.7h0M146.9 80.6h0M215 75.7h0M45.7 53.1h0M30.9 58.5h0M50.7 53.5h0M127.2 21.2h0M112 28.5h0M243 62.1h0M251.4 58.8h0M60.4 52.2h0M215.4 67.7h0M143.4 73.8h0M216.9 62h0M112.4 38.1h0M201.7 79.9h0M31.6 58.4h0M134.2 25.5h0M104.3 28.8h0M86.4 52.3h0M97.2 42.2h0M123.4 35.7h0M140.5 18h0M146.9 104.7h0M193.3 59.9h0M213.7 70.9h0M243.6 58.7h0M178.8 74.8h0M87.5 43.9h0M158.8 78.4h0M127.7 33h0M82.7 45.9h0M104.2 36.8h0M81.4 48.8h0M149.9 85.2h0M45.3 56h0M150.9 86.1h0M121.8 25h0M32.1 58.5h0M91.7 30.7h0M245.7 59.5h0M159 96.1h0M45 55.6h0M158.6 67.1h0M186.5 85h0M60.4 49h0M119.8 40.8h0M78 46.7h0M150.8 101.7h0M212.8 73.4h0M83.7 47.6h0M61.5 52.8h0M61.4 48.7h0M166.7 69.3h0M46 55.8h0M147.2 101.3h0M210 74.7h0M200.4 61.1h0M179 79.3h0M33 58h0M126.2 22.4h0M84.5 44.1h0M144.7 78.6h0M64.2 44.8h0M60.6 53.7h0M241.3 62.4h0M225.7 64.2h0M52.2 51.3h0M213.9 64.6h0M45.2 52.5h0M105.7 40.1h0M250.8 59.1h0M238.9 63.7h0M134.1 29.1h0M186.1 79.6h0M115.4 48.3h0M218.6 69.3h0M100.6 37h0M76.3 39.1h0M62.6 51h0M170.3 70.5h0M154.2 84.7h0M230.6 67.2h0M63.1 57.7h0M208.8 61.2h0M239.7 64.4h0M196 76.7h0M56.1 49.1h0M64.6 48.9h0M50.1 55.4h0M104.5 32.3h0M198.7 68.9h0M62.7 49.6h0M130 41.3h0M40.4 54.4h0M180.8 77.2h0M52.4 50.6h0M206.3 66h0M166.3 88h0M72.8 49.6h0M185.3 66.9h0M107.9 41.3h0M146.6 67.5h0M153.9 92h0M90.8 39.5h0M123 20.4h0M204.8 61h0M222.1 66.6h0M218.6 74.1h0M156.5 81.7h0M223.8 60.9h0M61.7 46.2h0M248.5 59h0M40.6 54.9h0M229.8 65.6h0M206 78.4h0M117 32.5h0M205.7 75.6h0M242.7 60.5h0M66.9 42.2h0M174.4 72.3h0M31.6 58.2h0M177.8 85.9h0M44.2 54.6h0M178.5 77.2h0M36.6 58h0M119.9 23.3h0M222.6 64.1h0M98.5 30.1h0M245.3 61.6h0M135 40.5h0M70.9 50h0M238 63.9h0M65 45.3h0M162.2 65h0M239.4 63.8h0M239 64h0M153.7 92.8h0M77.6 38.6h0M141.5 109.4h0M95.3 47.5h0M100.2 27.9h0M100.9 29.3h0M75.3 43.9h0M39.2 57.6h0M196.9 83.7h0M33.5 57.5h0M157.6 82.4h0M111.9 40.2h0M174.6 93.6h0M159.2 76h0M136.7 15.8h0M202.8 72.5h0M157.3 93.9h0M229.6 67.9h0M160.2 68.8h0M224.7 64.1h0M222 62.2h0M187.1 75.8h0M103.5 48.7h0M138.4 12h0M48.1 51.7h0M191.2 78.9h0M173.7 71.7h0M211.9 65.7h0M49.3 52.4h0M59.1 46.4h0M173.7 93.6h0M192.8 85h0M46.9 54.9h0M37.4 56.1h0M102.5 36.7h0M105.8 34.8h0M42.1 54.5h0M52.2 54h0M75.8 49.5h0M33.7 57.8h0M63.3 52.5h0M36.3 56.2h0M112.5 38.5h0M196.4 62h0M177.1 84.9h0M164.5 99.1h0M134.2 26h0M72.1 49.9h0M41.3 54h0M71.7 44.5h0M240.4 62.7h0M210.9 70.5h0M156.8 96.4h0M166.4 89.7h0M195.7 76.7h0M212.7 67.9h0M84.1 37.6h0M208.3 77.9h0M174.2 66.8h0M92.2 55.7h0M94.3 51.6h0M68.6 42.7h0M151.8 93.2h0M245.2 60.4h0M205.5 80h0M67.5 42.4h0M57.1 51.5h0M93 43.2h0M67 47.3h0M62.1 48.2h0M192.7 83.5h0M100.3 29.2h0M155.9 79.2h0M100.4 29.7h0M248.7 58.9h0M161.8 74.5h0M61.5 50.4h0M202.8 63.2h0M94.8 43.4h0M131.4 53.7h0M94.2 33.2h0M139.1 19.7h0M98.7 45.1h0M101.6 36.9h0M65.5 49.7h0M243.3 62.2h0M76.5 48.8h0M93.2 46.9h0M121.5 23.1h0M56.7 48.6h0M81.3 40h0M120.8 51.1h0M159.9 64.6h0M149.4 104.3h0M112.3 22h0M180.5 71.1h0M195.8 75.5h0M89.3 42h0M83.7 47.5h0M169.1 66.6h0M121.7 40.9h0M214.5 75.7h0M32.8 58h0M150.6 76.4h0M107.8 51.5h0M77.6 42.2h0M222.8 70.8h0M78.7 49.3h0M205.3 76.9h0M219.8 60h0M244.9 59.5h0M56.4 49.7h0M65.2 55h0M49.2 53.3h0M101.6 37.9h0M231.4 59.6h0M173.2 91.2h0M64.9 45.6h0M54 49.4h0M196.6 78.4h0M168.7 76.3h0M31.1 58.4h0M160.7 88.7h0M72.7 44.3h0M95.6 33.7h0M52.9 53.9h0M250.2 59.4h0M131.8 30h0M167.2 78h0M75.8 44.7h0M113.7 21.3h0M173.9 87.9h0M196 64.7h0M231.5 62.9h0M85.5 39h0M83.7 35h0M119.9 30.8h0M98.9 37.3h0M212.1 58.8h0M112.8 46.9h0M113.3 25.6h0M141.9 79.9h0M155.5 89.2h0M108.9 30.4h0M32.5 58h0M193.5 81.8h0M56 49.8h0M219.8 65.9h0M85.3 40.7h0M87.2 37.9h0M149.2 67.8h0M231.6 68h0M114.9 30h0M137 10.7h0M122.5 20.3h0M55.4 57.3h0M94.5 52.4h0M233.7 66.4h0M238.7 61.2h0M87.1 34.2h0M234.4 66.7h0M34.1 57.2h0M189.8 80.3h0M36.3 57h0M125 18h0M122 27.3h0M126.9 48.5h0M239.1 63.6h0M108.6 40.6h0M34.6 58.1h0M55 52.6h0M196.6 82.1h0M59.1 47.8h0M43.6 55.3h0M73.9 41.1h0M247.2 60.2h0M129.1 35.6h0M63.4 55h0M176.5 86.4h0M114.3 42.5h0M153 88.8h0M251.2 58.8h0M185.5 81.9h0M149.1 66.9h0M251.7 58.7h0M142.6 96.7h0M130.9 17.4h0M219 71.3h0M242.8 60.6h0M190 74.9h0M111.5 34.5h0M119.8 19.2h0M32.6 58.3h0M83.7 37.7h0M202.7 64.6h0M138.9 14.2h0M220.3 62.4h0M179 77.4h0M156 82.8h0M209.1 74.2h0M140.9 33.9h0M178.4 88.6h0M139.1 9.5h0M108.7 29.6h0M200.1 60.8h0M46.4 56.9h0M247 60.7h0M243.4 60.9h0M214.5 70.2h0M134.2 16h0M130.3 21.7h0M119.7 31.2h0M132.3 36.6h0M79.7 53.9h0M207.6 64h0M225.8 60.6h0M141.5 87.8h0M219.5 73.3h0M95.2 51.1h0M221 68.2h0M246.2 60.6h0M179.1 91.4h0M243.9 62.4h0M191.4 80.4h0M184.2 81.2h0M135.4 20h0M43.9 55h0M58.3 47.7h0M214 74.5h0M70.8 51.5h0M182.6 80.4h0M66.1 50.7h0M197.9 65.6h0M242.3 61.3h0M167.5 87.4h0M39.2 56h0M193.9 73.6h0M136 25.2h0M222.4 67.7h0M63.6 57h0M92.8 36h0M234.2 65.8h0M216 69h0M232 65.8h0M145.9 79.1h0M180 86.2h0M237.2 62.9h0M176.8 85.2h0M50 51.7h0M64.9 49.3h0M31.2 58.5h0M55.3 47.8h0M36.6 56.2h0M115.8 37.1h0M167.2 80.3h0M221.3 71.5h0M121.1 24h0M66.2 51.3h0M231.9 66.9h0M233.7 63h0M247.1 60.7h0M35.8 58h0M161.5 99.4h0M170.3 79h0M148.9 104.3h0M72.2 50.6h0M234.5 63h0M149.5 79h0M38.8 55.9h0M107.3 43.6h0M191.7 80.6h0M75.5 42.5h0M202.6 78.2h0M77.1 45.6h0M126.4 32.7h0M95.4 46.1h0M58.9 50.3h0M226.4 66.7h0M106 43h0M197 76.5h0M228 62.4h0M93.2 41.9h0M31.8 58.3h0M146.9 91.8h0M82.8 38.3h0M224.2 60.1h0M67.1 48.6h0M190.4 65.5h0M36.3 57.2h0M90.6 35.9h0M74.2 43.6h0M219.3 71h0M163.3 95h0M176.7 76.6h0M48.8 54.1h0M99 47.5h0M228.3 64.2h0M166.4 88.2h0M198.4 78.1h0M141.7 100.2h0M76.1 44.5h0M233 60h0M89 38.3h0M68.3 43.1h0M174.3 91.9h0M49.7 57.8h0M200 71.9h0M188.3 77.7h0M115.5 29.7h0M144.7 102h0M138.5 53.3h0M47.1 51.5h0M48.2 53.8h0M108.7 23.7h0M32 58h0M71.7 48h0M111.6 22.8h0M169.5 82.5h0M144.8 71.2h0M69.1 52.1h0M198.8 75.5h0M206.6 76.5h0M177.4 75.5h0M183 89.5h0M86.7 47.6h0M216.3 75.1h0M160.2 91.3h0M69.9 43.8h0M182.2 76.7h0M169.6 84.6h0M156.6 81.9h0M134.9 27.4h0M200.5 80.2h0M192.3 82.2h0M161.1 96.2h0M45.5 54.7h0M82 47.5h0M247.4 60.2h0M119.7 19.1h0M170.8 89.1h0M59.7 53.2h0M157.2 96.9h0M165.4 96.1h0M199.4 78.9h0M245.2 61.2h0M131.6 22.4h0M99.9 36.4h0M66 49.5h0M104.6 31.1h0M128.8 32.4h0M244.2 59.9h0M143.8 105.7h0M180.1 90.4h0M193.1 66.2h0M33.6 57.4h0M82.2 41.1h0M150.3 82.5h0M43.3 55.7h0M64 54h0M197.3 74.1h0M179.9 71.5h0M61.3 47.6h0M56.7 47.1h0M217.4 66.2h0M135.2 38h0M100.6 37.2h0M189.9 66.2h0M178.8 68.8h0M250.8 58.8h0M53.5 49.3h0M200.8 74.2h0M132.5 18.5h0M85.6 36.2h0M141 34.6h0M35.1 57.9h0M58.2 56.4h0M54.7 49.5h0M183.9 80.2h0M187.5 85.8h0M84.6 39.6h0M98.6 48.3h0M201.7 73.6h0M116.5 36.2h0M107.8 49.1h0M240 60.3h0M151.2 96.5h0M149.8 95.5h0M165.8 82.1h0M39.7 57.5h0M119 41.2h0M205.3 71.7h0M174.8 88.4h0M227.7 65.2h0M99.4 32.2h0M135.9 32.9h0M82.6 41.3h0M71.7 42.9h0M50.8 53.2h0M74.6 46h0M66.9 55.9h0M127.8 47.1h0M121.6 25.8h0M199.8 64.3h0M203 66.7h0M150.4 88.9h0M176 92.4h0M134.3 11.3h0M99.3 31.8h0M142.1 85.9h0M170.4 71.7h0M242.1 61.3h0M211.5 62h0M45.3 55.5h0M172.4 88.6h0M50.7 51.8h0M168.4 95.9h0M218.7 66.2h0M185.5 76.7h0M57.1 48.6h0M124.5 40.4h0M73.8 50.5h0M176.9 93.1h0M188 74.1h0M193.8 83.6h0M109.5 38.1h0M163 97.4h0M76.7 39.9h0M236.6 62h0M238.4 59.6h0M37.3 56.2h0M155.5 81.7h0M189.6 73.2h0M81.8 39.6h0M37.9 56.7h0M31.1 58.5h0M187.2 86.2h0M33.3 57.5h0M116.2 24.4h0M207.5 69h0M42.2 53.4h0M187.1 78.5h0M126.1 37.3h0M116.9 47h0M137.8 15.7h0M108.6 29.9h0M221.5 72.3h0M179 66.4h0M116.5 52.1h0M57.2 47.3h0M142.3 80.4h0M251.9 58.7h0M228.1 61.7h0M45.6 54.1h0M109.5 45h0M134.6 50.3h0M120.4 18.8h0M55.4 55.3h0M71.9 48.5h0M149.1 76.3h0M190.3 84.1h0M189.3 83.7h0M179.5 90.7h0M179.8 79.8h0M32.5 57.9h0M78.9 39.2h0M105.2 28.1h0M87.4 50.4h0M116.6 33.4h0M119.1 27.5h0M105.9 42.1h0M32.9 57.7h0M222.2 69.1h0M242.5 62.5h0M167 91.6h0M91 42.1h0M130.3 46.6h0M232.6 62.4h0M163.4 85.3h0M184.9 89h0M185.7 70.3h0M247.9 60.3h0M175.7 73.9h0M54.6 50.7h0M142.6 106.4h0M234.9 63.5h0M59.3 53.5h0M41.9 56.1h0M41.8 54.4h0M46.1 53.1h0M66.9 46.2h0M201.4 67.7h0M163.4 93.3h0M192.7 83.4h0M153.9 86.9h0M109 42.5h0M204.8 74.8h0M68.2 43.8h0M110.3 36.3h0M122.6 29.3h0M181.3 86.2h0M199.2 82h0M156.1 67.9h0M165.3 90.7h0M92.8 53.4h0M162 77.2h0M217.4 71.3h0M127.9 43.5h0M197.1 78.5h0M143.1 102.2h0M144.2 98.2h0M165.3 94.5h0M61.6 48.2h0M78.3 44.4h0M69.5 41h0M149.1 83.2h0M178.8 70.1h0M187.3 78.1h0M76.8 43.5h0M104.5 40.6h0M62.9 44.3h0M175.4 76.6h0M123.7 43.6h0M91 39.9h0M80.4 49.6h0M240.8 62.5h0M137.3 35.9h0M250.1 59.1h0M101.8 32.9h0M78.4 41.4h0M189.2 63h0M232.6 65h0M66.9 47h0M221.5 66.2h0M160.7 81.6h0M230.9 65.8h0M240.2 63.4h0M125.1 21.6h0M239.1 64.1h0M70.6 46.3h0M128.9 39.2h0M128.8 21.6h0M84.9 50.5h0M137.8 54.3h0M197.3 66.1h0M54.6 56.8h0M137.1 30.1h0M147 86.2h0M74.1 39.2h0M172.8 92.1h0M86.6 35.9h0M157 95.2h0M157.2 73.9h0M196.5 66.8h0M237.7 64.5h0M235.7 65h0M141.8 66.4h0M88.8 43.2h0M84.3 47.7h0M204.8 73.9h0M199 73.7h0M206.5 71.8h0M215.2 71.4h0M155.7 96.9h0M229.4 68.4h0M176.2 81.2h0M170.5 79.4h0M216 73.9h0M175 62.2h0M200.7 79h0M236.6 59.8h0M118.2 39.8h0M197 83h0M96.7 44h0M138.4 51h0M224.1 62.2h0M246.2 61.3h0M240.5 61.7h0M198.4 72.1h0M218.5 73.3h0M226.5 69.4h0M165.7 75.5h0M84.5 52h0M34.5 56.9h0M199.2 72.2h0M199 73.9h0M192.5 67.4h0M159.1 83.6h0M176.3 91.5h0M189.7 86h0M148.4 75.9h0M176.5 85.4h0M80.3 51.8h0M148.9 90.1h0M169.8 91.6h0M156.6 77.9h0M87.6 39.9h0M58.7 54h0M175.6 74.8h0M55.5 50h0M206.5 69.4h0M70.9 51.5h0M201.6 70.2h0M109.4 28.2h0M230.2 64.5h0M80.6 42h0M65.5 51.7h0M180.1 83.6h0M202 61.9h0M108 52.6h0M135.1 40.1h0M177.2 88.7h0M96 48.5h0M116.8 35.6h0M156 103.2h0M97.7 46.2h0M62.9 54.1h0M231.9 62.8h0M57.8 50.2h0M249.2 59.9h0M217.7 60.5h0M129.6 28.1h0M221.2 59.8h0M44.8 52.1h0M155.2 86.4h0M108.9 30.5h0M97.2 45.5h0M228.8 65.4h0M39.1 55.2h0M221.5 62.4h0M48 55.5h0M180.7 74.5h0M93.9 33h0M147.3 104.3h0M235.6 65h0M207.2 67.3h0M52.6 53.7h0M98.2 33.1h0M138.7 28.7h0M189.4 73.8h0M31.8 58h0M222 64.6h0M217.1 72.6h0M242.4 60.1h0M75.4 39.3h0M77.8 48.7h0M215.1 75h0M144.6 99.1h0M84.9 35.8h0M34.4 57.3h0M78.6 53.2h0M180.1 77.5h0M192.9 85.8h0M109.1 48.8h0M233.9 64.4h0M143.5 92.4h0M145.2 88.4h0M118 40.4h0M119.9 38.9h0M110.1 45.1h0M213.3 66.5h0M128.1 52.8h0M81.8 39h0M127 17.6h0M235.6 61.6h0M172.1 64.9h0M53.9 52.7h0M123.4 47.9h0M134 30.8h0M33.7 58h0M243.6 61.4h0M233.5 65.8h0M53.1 49.1h0M152.9 96.2h0M99.8 30.5h0M77.5 37.2h0M91.3 42.9h0M42.5 56.9h0M183 69.3h0M111.8 35.5h0M185.6 83.3h0M211.2 75.6h0M157.4 73.1h0M106.7 35.3h0M61.6 55.7h0M174.9 84.1h0M180 89.3h0M203.6 70.3h0M61.1 47.7h0M40.8 55.1h0M225.3 68.3h0M164.9 72.8h0M51.5 52.3h0M187.6 63.6h0M43.1 55.3h0M170.6 64.8h0M153.5 103.5h0M189 73.8h0M51.4 54.6h0M231.9 67.5h0M238.9 62.3h0M248.7 59.6h0M200.3 80.7h0M99.6 37.5h0M247.3 59.8h0M166.7 91.6h0M189.7 72.4h0M177.1 69.4h0M76.4 41.6h0M219.6 68.4h0M173.9 95h0M79.5 43.2h0M114.3 22.9h0M62.4 56.5h0M126.5 54.4h0M249.8 59.2h0M115.6 23.9h0M118.2 33.4h0M208.5 73.6h0M48.9 54.1h0M57.1 52.3h0M195.8 71.8h0M59.5 52.6h0M166 63.7h0M211.5 73.4h0M155.3 80.4h0M48.4 50.9h0M76.3 43.5h0M150.3 73.6h0M241.9 60.8h0M175.4 71h0M185 84.9h0M162.5 76.4h0M102.8 35.6h0M165.2 82.7h0M32.7 58.1h0M122.3 20.3h0M210.4 71.4h0M75.9 48.6h0M174.2 70.7h0M190.2 72.2h0M65.3 53h0M220.6 70h0M84.6 38.1h0M243.8 61.4h0M106.9 30.4h0M166.1 92.1h0M240.7 62.4h0M212.2 65.2h0M138.2 21.3h0M73.7 56.7h0M166.8 83.7h0M160.8 72.3h0M44.8 53.4h0M115.3 28.5h0M234.5 62.7h0M147.1 93.7h0M70.7 43.8h0M173.2 82.8h0M131.1 38.9h0M233 60.9h0M139.1 13.1h0M36.4 58h0M66.4 52.6h0M69.5 43.4h0M241.3 59.4h0M110.2 47.7h0M107.9 39.5h0M246.8 59.4h0M76.3 55.7h0M168.4 91.9h0M240.5 60.4h0M232.2 67.4h0M66.1 56.1h0M134.9 37.3h0M86.4 40.6h0M185.6 66h0M85.1 42.8h0M69.8 47.1h0M90.8 38.6h0M59.6 46h0M189.3 75.4h0M92.5 32h0M119.2 42.9h0M91.6 37.2h0M114.8 35.9h0M98.2 32.2h0M108.9 34.7h0M187.6 85.8h0M69.1 53.1h0M182.7 72.8h0M107.5 34.5h0M51.3 51.5h0M57.1 52h0M230.1 67.6h0M39.9 56.3h0M91.8 31.8h0M221.9 72.1h0M48.2 57.5h0M77.3 42.4h0M90.1 33.8h0M215.7 61.3h0M56.2 48.9h0M240 62.6h0M57.2 50.5h0M155.9 78.7h0M201.9 77.9h0M154.3 76.4h0M143 76.3h0M127.5 35.5h0M86.6 33.2h0M250.5 59h0M120.1 46.4h0M172.3 79.7h0M159.6 95.1h0M243.7 61.5h0M84.7 38.5h0M64.9 44.7h0M229.8 63.4h0M143.3 84.9h0M172.6 92.3h0M169.1 79.9h0M203.9 73.4h0M216.2 73.6h0M186 81.7h0M31.7 58.1h0M216 59.8h0M40 55.4h0M220.6 68.3h0M30.8 58.5h0M202.1 69.5h0M172.1 78.9h0M36.4 56.3h0M197.6 74.6h0M159 75.6h0M57.4 48.8h0M224.8 69.8h0M161.5 82.7h0M133.1 45.4h0M240 63.3h0M75.6 42.3h0M69.7 44.4h0M228.3 59.4h0M66.1 54.2h0M211.7 77h0M77.1 43.9h0M210.9 66.9h0M121 52.2h0M167.3 83.5h0M165.1 78.8h0M118 46h0M145.4 96.2h0M174.4 71.1h0M60.8 45.3h0M233.5 62.1h0M213 75.5h0M76.7 47.5h0M80.5 48h0M118 25h0M201.5 74h0M145.1 73.4h0M100.4 30h0M200.8 75.1h0M73.9 44.7h0M187.5 75.1h0M197.5 81.2h0M53.2 51h0M156.9 67.4h0M162.2 97.4h0M245.7 60.7h0M96.8 45.1h0M132.5 52.2h0M237.9 59.5h0M59.5 55h0M229.3 63.2h0M111.6 33.7h0M106.7 44.8h0M251 59h0M117.1 32.1h0M85.4 43.8h0M76.5 46.2h0M184.7 71.6h0M171.4 84.2h0M83.5 48.8h0M140.3 33.7h0M94.1 39.5h0M216.1 71.3h0M109.8 40.5h0M167 91h0M233 63.3h0M83.5 35.7h0M241.5 60.1h0M138.1 23.7h0M172.4 78.1h0M90.9 41.7h0M184.4 66.9h0M190.9 73.2h0M161.8 73.6h0M221.7 69.7h0M135.1 17.9h0M33.9 57.3h0M232.9 67h0M156.4 83.2h0M166.8 88.7h0M163.2 98.9h0M39.7 55.9h0M94.3 39.2h0M50.5 51.6h0M174.5 62.7h0M219.9 72.1h0M176.9 78.9h0M210.8 74.8h0M104.3 49h0M37.6 56.5h0M121.3 29.4h0M68 44h0M98.2 36.2h0M83.5 40.6h0M70.6 41.2h0M182.9 72.9h0M163 83.9h0M212.8 75.5h0M248.6 59.6h0M83.2 41.2h0M238.4 62.8h0M200.6 82.2h0M155.3 94.1h0M246 61h0M144.1 64.6h0M36.9 57h0M58.3 48.1h0M99.9 48.1h0M184.8 85.5h0M156 101.1h0M181.9 86.2h0M34.8 57h0M85.5 47.3h0M153.5 71h0M175.5 92.9h0M126.3 33h0M78.9 37.9h0M99.2 34.2h0M199.1 82.2h0M189.5 61.6h0M85.4 36.8h0M241.2 62.8h0M40.3 55.5h0M82.5 50.9h0M127.7 42.1h0M208.8 77.9h0M155.8 83.6h0M180.2 86.7h0M241.3 63.6h0M111.9 43.8h0M70.8 55.2h0M121.3 53.4h0M155.4 85.4h0M60.4 46.5h0M39.2 55.2h0M191.4 79h0M249.6 58.6h0M236.9 61.6h0M113.9 46.9h0M131.2 44.1h0M214.2 63.6h0M248.8 58.8h0M109.5 35h0M241.4 61.2h0M185.4 74.9h0M63.2 51.9h0M130.4 19.2h0M31.3 58.5h0M120.8 45.5h0M146.5 81.1h0M207.4 67.4h0M103.8 41.3h0M174.5 78.4h0M177.5 72.5h0M146.7 95.4h0M166.4 71.2h0M132.5 14.8h0M165.8 95.8h0M132.6 28.5h0M232.6 66.1h0M55.6 54.2h0M222 65.1h0M195.6 83.4h0M33.1 57.9h0M189.8 82.7h0M111 26.3h0M142.9 99.4h0M145.3 89.1h0M193.4 73.6h0M138.3 50h0M171.4 92.9h0M79.2 40.9h0M46.3 57.3h0M178.6 89.2h0M249.6 59.1h0M47.8 51.5h0M232.3 61.4h0M115.7 54.9h0M175.3 91.2h0M89.5 33.6h0M183.7 79.2h0M127.2 16.9h0M206.7 63.3h0M92 50h0M104.3 25.5h0M169.1 95.8h0M53.9 50.1h0M246.6 59.9h0M165.1 91.5h0M246 58.6h0M70 49.1h0M187.7 85.8h0M75.2 50.4h0M49 56.2h0M128.7 29.8h0M135 21.3h0M154.2 80.7h0M133.9 17h0M73.9 40h0M181.7 71.3h0M89.5 43.7h0M94.9 32.3h0M203.7 73.3h0M181.6 86h0M191.6 72.3h0M234.8 65.7h0M219.4 72.2h0M79.2 39.6h0M246.8 60.9h0M145.8 86.3h0M154.3 88.8h0M92.3 33.9h0M116.4 26.6h0M154 89.7h0M38 58.2h0M190.1 69.8h0M107.9 37h0M183.9 85.3h0M192.7 84.6h0M167.6 97.6h0M47.1 54.4h0M155.3 102.7h0M109.1 38.9h0M188.9 68.8h0M188.1 87.1h0M141.9 71.3h0M192.6 76.1h0M62.4 46.2h0M211.4 72.8h0M245.3 61.5h0M230.1 65.5h0M210.4 70.4h0M120.3 37.7h0M237.2 63.8h0M155.1 90.3h0M78.3 44.3h0M150.8 95.8h0M219.1 68.7h0M180.8 85.1h0M215.1 69.8h0M38.4 55.6h0M245.4 59.8h0M235 62.8h0M142 83.2h0M235.1 65.9h0M70.9 45.5h0M111.5 23h0M68 46.7h0M179 91.3h0M233.8 65.7h0M236.9 65.2h0M48.3 54.8h0M200.8 82.4h0M154.4 80.2h0M79.5 39.9h0M228.8 66.7h0M147.7 84.2h0M39.9 57.6h0M113.9 53h0M181.7 60.6h0M219.1 69.2h0M74.7 44.5h0M161.7 69.2h0M49.8 57.4h0M232.5 59.4h0M32.8 57.9h0M245.7 61.1h0M155.8 100.6h0M197.2 74.6h0M178.8 87h0M142.6 79.5h0M127.7 51.8h0M76.7 43.7h0M94.1 44.1h0M51.5 53.2h0M90 51.5h0M175.5 87h0M152.8 101.4h0M156.3 95.7h0M147.7 72.7h0M240.1 61.1h0M218.9 64.2h0M89.1 32.1h0M153.9 84.1h0M245.2 59.6h0M89.9 34.8h0M185.9 70.4h0M174.1 66.1h0M178.9 77.1h0M153.8 64.5h0M194.7 75.1h0M113.7 35.9h0M238.1 61.8h0M156.2 89.7h0M105.5 29.1h0M172.1 77.7h0M182.4 73.1h0M234.2 64.9h0M171.5 80.5h0M146.3 79.9h0M108.8 24.1h0M124.9 42.3h0M94.1 42.2h0M168 76.9h0M221.4 71.2h0M161.9 91.2h0M75.6 39.2h0M38.7 57h0M225.1 69.8h0M96 35.4h0M183.2 66.9h0M240 61h0M238.8 64.2h0M153.5 86h0M232.9 61.5h0M119.8 47.1h0M238.9 61.5h0M181 83.9h0M48.4 56.3h0M210.5 64.7h0M66.2 43.9h0M251.5 58.7h0M41.5 54.7h0M198.3 81h0M64.4 45.7h0M150.2 94.1h0M113 35.7h0M224.5 69h0M91.3 43.8h0M190.1 83h0M238.9 63.5h0M44.8 56.9h0M188.8 60h0M49.2 52h0M203.1 73h0M220.4 69.4h0M61.4 47.7h0M226.5 66.1h0M127.7 46h0M98.9 36.3h0M244.5 60.2h0M115.7 33.3h0M77.1 56.3h0M103.6 26.1h0M231 62h0M248.6 60.2h0M131.4 18.7h0M140 30.9h0M163.1 87.7h0M216.6 65.1h0M32.6 58.5h0M206.8 72.2h0M246 59.1h0M120.4 44.6h0M127.6 50.4h0M242.7 61.6h0M120.7 26.6h0M114.1 21.4h0M220.9 64.7h0M135.4 15.7h0M173.9 84.8h0M94 56.6h0M181.2 76.3h0M112.1 21.9h0M204.2 77h0M139.7 19.8h0M234.2 65.3h0M151.9 104.1h0M220.5 68.6h0M128.2 45.7h0M178.8 64h0M89.8 39.6h0M160.5 73.2h0M177.5 92h0M72.9 39.6h0M151.1 91.6h0M234.8 64.6h0M75.3 52.8h0M138.7 15.2h0M216.1 68.5h0M125 22.4h0M37.2 56.8h0M147 101.3h0M133 45.9h0M236.1 65.9h0M177.7 86h0M202.6 70.5h0M112.1 37.1h0M229.1 62.7h0M214.1 70.3h0M50.8 50h0M177 80.7h0M231 63.6h0M174.6 81h0M245.7 60.3h0M88.4 43.1h0M160.8 86.9h0M148.8 97.9h0M96 34.3h0M203.7 61.1h0M126.1 16.6h0M174.5 77.6h0M203.9 72.1h0M191.7 77.3h0M52.8 49h0M42.8 57.8h0M212.3 75.3h0M174.6 87h0M63.4 48.4h0M59.4 51.1h0M140.8 24.4h0M70 44.2h0M236.7 63h0M80.2 37h0M239.6 62.7h0M189.1 76.7h0M153.7 101.8h0M179.3 62.3h0M183.9 88.4h0M93.8 40.1h0M138.7 44.1h0M45.3 53.2h0M41.2 56.5h0M239.6 62.3h0M219 69.1h0M197.5 83.5h0M53.6 50.3h0M168.8 82.4h0M189 81.1h0M126 25.1h0M114.3 46.9h0M191.5 74.2h0M32.9 58.2h0M134.8 45.9h0M87.4 45.5h0M128.9 52.7h0M153 74.9h0M123.7 43.7h0M224.8 67.3h0M226 65.8h0M198.8 64.9h0M206.6 79.7h0M141.5 101.8h0M90.6 36.9h0M211.3 73.1h0M56.4 48.9h0M162.2 73.8h0M170.9 89.7h0M54.8 52.7h0M75.8 50.9h0M179.5 74.4h0M220.6 71.7h0M117.2 35.8h0M148.3 103.2h0M187.5 88.6h0M159.5 100.2h0M133.1 28.8h0M171.9 84.8h0M187.9 80.5h0M208 63.3h0M154.9 96.8h0M177 89.2h0M73.9 51.3h0M66.4 50.2h0M210 73.4h0M80.1 36.6h0M127.4 35.1h0M226.6 69.6h0M63.1 55.7h0M180.9 81.5h0M85.6 46.7h0M169.2 93.8h0M211.5 65.3h0M212.3 62.9h0M202.8 71.2h0M145.3 100.5h0M151 97.5h0M68.7 49.6h0M56.4 48.9h0M196.3 66.6h0M42.2 55.4h0M237.2 65h0M71.8 52.5h0M190.1 70.6h0M129.8 34.5h0M166.3 74h0M198.2 75.6h0M96.2 41.1h0M213.4 71.7h0M197.9 60.9h0M159.1 96.8h0M157.8 83.4h0M115.7 51.2h0M245.3 61h0M116.4 45.2h0M84 49.2h0M154.3 97h0M234.6 60.2h0M235.7 66h0M158.7 76.9h0M117.5 29.5h0M196.1 65.6h0M154.4 104.1h0M212.8 76.4h0M215.2 71.9h0M186.2 72.2h0M246.1 60.1h0M174.3 84.5h0M246.5 59.8h0M175 84.4h0M79 37.8h0M169.6 70.3h0M200.7 69.3h0M124.3 16.8h0M67.8 43.1h0M108.5 54.2h0M203.7 64h0M76.6 42.6h0M33.1 57.6h0M225.3 70.9h0M245.8 59.4h0M223.1 67.1h0M208.1 72.2h0M192.2 83.9h0M152.7 88.2h0M175 63.4h0M195.9 63.9h0M103.4 37h0M76.1 52.6h0M184.3 79.5h0M164.3 88.1h0M250 59.3h0M122.4 28.7h0M122.3 55.4h0M57.6 48.7h0M33.9 58.4h0M61.4 49.4h0M161.7 71.7h0M244.1 60.7h0M55.7 48.6h0M66.1 44.1h0M181.6 89h0M97.5 34.2h0M40.7 55.5h0M227.2 68.7h0M63.6 55.7h0M127.3 53.4h0M197.7 82h0M203.4 77.2h0M242.3 61.3h0M161.8 76.6h0M63.4 43.9h0M48.4 55.5h0M173 74.3h0M149.2 104.9h0M85.8 37.3h0M67.1 43.5h0M108.2 24.5h0M94.4 30.3h0M109.1 38.5h0M108.4 43.7h0M197.3 76.5h0M132.8 32.9h0M218.4 66.6h0M141.8 95.2h0M94.9 31.2h0M235.3 64h0M174.9 77h0M217.3 64.4h0M82.2 37.6h0M246.2 60.7h0M171.3 73.2h0M113.6 25.3h0M86.2 53.3h0M52.5 56.4h0M37.9 57h0M74 41.6h0M99.2 37.6h0M148.1 97.1h0M118.8 20.7h0M40.7 54h0M62.6 45.5h0M34.7 57.5h0M39.6 55.8h0M96.5 58h0M172 66.3h0M64.6 49.3h0M226.3 64.6h0M249.3 59.5h0M166.8 60.2h0M41.3 53.9h0M70.8 46.9h0M143.8 75h0M237.7 63.7h0M248.1 59.9h0M193.8 80.5h0M227.8 69.8h0M52.1 52.7h0M143 58.8h0M136.5 40.7h0M78.6 46h0M155.5 77.8h0M155.3 87.5h0M245.8 60.8h0M45.4 54.1h0M96.9 53.7h0M68.5 56.8h0M80 56.1h0M101.1 33.1h0M112.3 37.3h0M242.7 61.6h0M103.3 39.8h0M137.8 19.7h0M67.3 41.9h0M79.5 42.1h0M78.6 50.4h0M156.6 95.1h0M97.2 46.9h0M92.1 36.3h0M146.6 93.4h0M34.2 58.5h0M221.9 63.6h0M42 56.5h0M121.7 35.9h0M249.6 59.7h0M67.8 44.9h0M40.6 55.7h0M138.2 30.5h0M170.3 62.9h0M115.3 43.6h0M79.4 38h0M183.7 76h0M161.2 77.6h0M107.5 24.8h0M167 74.2h0M216.7 73h0M144.6 86.2h0M116.5 37.6h0M167 78.7h0M142.5 81.3h0M52.5 54.2h0M230.7 63.2h0M58.1 50.8h0M195.1 74.6h0M126.6 54.8h0M204.1 71.1h0M146.4 102.1h0M212.4 74.1h0M134.7 45.4h0M85.3 49.2h0M201.2 76.4h0M213.9 71.9h0M141.9 66.6h0M236.4 62.1h0M187.3 78.5h0M237.2 64.1h0M73.9 44.8h0M239.6 63h0M200.6 80.9h0M239.4 64h0M108.1 45.5h0M153.8 100.6h0M228.7 62.8h0M179.5 59.6h0M94.6 33.5h0M94.6 31.1h0M240.2 60h0M179.3 87h0M42.3 57.5h0M87.9 33.8h0M154 87h0M72.6 46.3h0M133.8 14.2h0M178.5 75h0M49.2 52.8h0M86.8 52.4h0M225.7 62.8h0M39.7 55.8h0M55.3 48.3h0M212.2 68.6h0M180.4 59.9h0M135 39.3h0M220.9 68h0M76.8 54.8h0M31.8 58.4h0M210.5 66.3h0M171.8 92.2h0M105.2 38.5h0M158.9 71.4h0M48.6 53h0M99.9 36.2h0M156.5 91.6h0M217.7 71.9h0M100.7 36.1h0M44.1 57.6h0" stroke="#0cc6c6" stroke-width="0.7" stroke-linecap="round" fill="none" opacity="0.85"/>
<path d="M30.60 7.00H252.10V110.20" stroke="#e9e9e9" stroke-width="0.7" fill="none"/><path d="M30.60 7.00V110.20H252.10" stroke="#cdcdcd" stroke-width="0.85" fill="none"/><path d="M30.60 110.20v-2M74.90 110.20v-2M119.20 110.20v-2M163.50 110.20v-2M207.80 110.20v-2M252.10 110.20v-2M30.60 110.20h2M30.60 58.60h2M30.60 7.00h2" stroke="#c4c4c4" stroke-width="0.6" fill="none"/><text class="t" x="30.6" y="117.9" text-anchor="middle">804</text><text class="t" x="74.9" y="117.9" text-anchor="middle">804.2</text><text class="t" x="119.2" y="117.9" text-anchor="middle">804.4</text><text class="t" x="163.5" y="117.9" text-anchor="middle">804.6</text><text class="t" x="207.8" y="117.9" text-anchor="middle">804.8</text><text class="t" x="252.1" y="117.9" text-anchor="middle">805</text><text class="t" x="29.1" y="112.2" text-anchor="end">-0.05</text><text class="t" x="29.1" y="60.6" text-anchor="end">0</text><text class="t" x="29.1" y="9.0" text-anchor="end">0.05</text><text class="l" x="141.3" y="125.4" text-anchor="middle">star spot position (pixels)</text>
<text class="l" font-size="6.05" transform="translate(14.4 58.6) rotate(-90)" text-anchor="middle">centroiding error (pixels)</text>
<text class="c" x="136.7" y="143.8" text-anchor="middle">(<tspan font-weight="bold" font-size="15.4">a</tspan>)</text>
<path d="M363.92 7.00V110.20M408.34 7.00V110.20M452.76 7.00V110.20M497.18 7.00V110.20M319.50 110.20H541.60M319.50 93.00H541.60M319.50 75.80H541.60M319.50 58.60H541.60M319.50 41.40H541.60M319.50 24.20H541.60M319.50 7.00H541.60" stroke="#f0f0f0" stroke-width="0.6" fill="none"/>
<path d="M451.5 79.6h0M454 64.3h0M431.2 60h0M351.6 56h0M365.3 50.6h0M458.7 68.5h0M490.6 58.7h0M335.7 48.9h0M488.5 64.6h0M419.7 53.9h0M459.1 70.1h0M494 63h0M338.2 58.4h0M481.5 58.6h0M484.6 60.4h0M423.4 51.9h0M376.8 41.5h0M447.1 62.1h0M449.9 65.2h0M409.1 55.2h0M436.3 58.8h0M483.1 86.9h0M495.5 59.9h0M529.3 66.3h0M535.7 59.8h0M324.7 57.5h0M520.5 60h0M515.4 66.6h0M541 58.7h0M495.4 59.8h0M529.8 62.7h0M537.4 59.3h0M349.3 54h0M346.2 58.2h0M444.2 75.6h0M522.9 59.2h0M437.6 62.6h0M432.1 58.6h0M509.9 59.5h0M449.4 67.7h0M502.6 88.8h0M453.6 60.3h0M434.5 58.8h0M430.1 58.5h0M496 65.5h0M346.8 37.1h0M394.8 57.7h0M341.1 58.5h0M465.8 89h0M409.4 42.5h0M518.2 59.9h0M395.3 25.1h0M523.3 64.2h0M388.7 38h0M529.1 65.6h0M519 72.6h0M383.7 39.2h0M437.6 58.8h0M336 56.7h0M457.4 64.2h0M470.3 84.8h0M421.8 58.6h0M415.3 51.3h0M429.2 57h0M494.7 73.2h0M363.9 28.5h0M505 60.6h0M478.7 95.2h0M407.6 40.4h0M535.8 58.6h0M449 58.8h0M432.8 59.4h0M437.2 61.6h0M395.6 42.2h0M436.7 60.5h0M340.3 55h0M454.1 71.1h0M395 28.7h0M466.2 58.7h0M453.6 59.1h0M539.9 58.9h0M483.5 64.4h0M321.3 58.6h0M346.2 40.4h0M429.5 58.4h0M439.5 64h0M425.3 58.2h0M482.2 62.3h0M527 70.7h0M333.3 50.8h0M458.7 64.1h0M383.6 54.8h0M406.2 58.6h0M531.5 58.6h0M334.4 58.5h0M365.1 57.7h0M431.4 58.9h0M485.6 58.8h0M530.9 60.3h0M535.6 60.6h0M525.6 59.3h0M492.2 82.9h0M419.5 45.1h0M382.7 58.3h0M511.1 73h0M485.6 70.5h0M477.3 74.6h0M490.8 94.6h0M523.1 62.1h0M440.8 58.9h0M376.2 55.1h0M322.1 58h0M372.8 57.3h0M465.3 58.7h0M401.4 55.2h0M363.2 46.2h0M348.9 54.6h0M327.2 56.5h0M446.3 60.5h0M465.6 65.2h0M531.4 60h0M493.2 61.2h0M354.2 40.8h0M365.2 40.1h0M534.2 60.3h0M384 42.3h0M439.5 58.6h0M498.1 66.2h0M461.5 66.7h0M328.2 57.9h0M424.4 58.6h0M437.8 61.5h0M438.8 64.2h0M344.3 58.6h0M533.5 58.6h0M430.6 58.6h0M468.8 61.9h0M489.7 85.9h0M375.6 58.6h0M325.3 58.3h0M456.2 61.7h0M521.6 58.8h0M517 76.3h0M514.4 62.1h0M364.7 50.6h0M515.7 62.4h0M336.4 58.4h0M382.8 25.6h0M502.8 59.1h0M340.2 52.3h0M492.9 70.7h0M496.2 63.5h0M521 74.3h0M509.7 63.7h0M478.9 76.1h0M356.7 51.3h0M345.3 58.1h0M337.3 55.5h0M388.6 58.2h0M388.8 57.6h0M539.6 59.2h0M509.2 59.2h0M340.3 56h0M424.1 58.5h0M497.5 66.9h0M406.5 58.4h0M435.4 60.1h0M514.2 58.9h0M523.1 58.8h0M357.6 58.6h0M501.8 64.3h0M419.4 58.6h0M324.5 57.9h0M386.8 56.1h0M517.1 60.3h0M360.3 47.2h0M356.2 54.8h0M532 64.7h0M415.7 56.9h0M522.3 58.9h0M381.9 56.2h0M333.1 56h0M522.9 59.6h0M390.5 46h0M528.3 58.7h0M468.9 58.6h0M504.9 63.2h0M390.6 52.9h0M477.8 68h0M500.7 70.3h0M470.3 65.9h0M524.8 68.9h0M520.7 61h0M445.5 58.7h0M528.9 67.2h0M478 66.5h0M521.7 68.6h0M351.2 39.5h0M385.9 28.8h0M353 50.8h0M324.8 58.2h0M465 63.2h0M535.1 59.4h0M459.2 83.1h0M535.8 58.6h0M502 60h0M456.9 60.3h0M408.2 58.2h0M363.4 56.5h0M532.1 58.7h0M528.6 65.4h0M519.2 58.8h0M393.6 51.5h0M485.9 59.8h0M438.4 58.7h0M502.4 58.6h0M445.4 62.7h0M322.1 58.5h0M381.1 45.2h0M379.5 58.5h0M392.5 43h0M396.1 33.9h0M323.5 56.8h0M433.1 59h0M528.4 59.6h0M456.5 71.6h0M366.8 39.2h0M535.2 60.6h0M514.2 74h0M515.6 60h0M345.5 58.4h0M475.9 73.2h0M392.6 28h0M496.5 62.9h0M402.7 42.7h0M374.1 47.8h0M534.6 60.1h0M509.3 78.3h0M463.5 86h0M426.3 54.5h0M445.2 59.6h0M465.9 72.2h0M414.6 58.4h0M410.2 45.9h0M378.5 38.3h0M458.4 59.5h0M383 56.9h0M412.2 41.8h0M383.5 49.6h0M522.5 71.1h0M434.8 59.9h0M352.8 58.6h0M346.4 58.4h0M490.9 63.3h0M527.6 58.6h0M369.5 53.4h0M446.2 61.3h0M427.6 58.6h0M416.9 56.5h0M474.6 60.5h0M498.1 69.8h0M501.5 72.9h0M368.6 38.5h0M453.4 60.3h0M354 54.4h0M361 51.3h0M396.3 57.4h0M446.6 67.9h0M428.8 57.8h0M330 57.4h0M428.7 57.7h0M357.2 47.8h0M357.6 49.3h0M511.2 68.8h0M463.3 80.6h0M374.3 49.9h0M491 68.2h0M537.6 58.6h0M509.1 58.8h0M352.4 49.4h0M466.1 61.7h0M410.6 47.5h0M417.4 58.6h0M360.4 58.6h0M347.3 58.6h0M535.8 61.2h0M421 50.1h0M356.1 55.3h0M422.6 52.2h0M420.9 55.2h0M354.1 48.7h0M483.9 59h0M458.5 84.1h0M479.6 58.8h0M506 85.1h0M514.6 58.9h0M541.5 58.6h0M475.9 60.2h0M537.5 58.6h0M538.9 58.7h0M362.6 26.3h0M406.3 44.3h0M426.4 54.6h0M423.5 56.7h0M341.1 57.9h0M406.7 41.9h0M494.9 85.2h0M432.7 59.2h0M467.5 91.7h0M473.5 58.6h0M458.7 65.8h0M322.4 56.5h0M404.3 54.8h0M485.5 64.7h0M400.9 58.6h0M534.7 58.7h0M532.6 61.9h0M433.3 58.6h0M537.3 61.6h0M365.7 29.8h0M426.3 58.3h0M525.1 70.6h0M339.4 46.5h0M433.1 61.3h0M412 54.7h0M405.9 57.8h0M415.8 49.9h0M453.2 61.8h0M524.8 70.5h0M330.9 56.9h0M351.7 38.6h0M472 77h0M439.4 61.3h0M479.9 71.2h0M507.3 65.8h0M501.9 58.6h0M390.5 52.1h0M367.5 55.9h0M457.3 59.3h0M331.6 57.2h0M451.5 64.3h0M457.2 79.1h0M427.2 57.1h0M509.1 81.8h0M334.4 51.1h0M323.8 58.6h0M526.5 72.2h0M506.6 60.4h0M327.7 56.5h0M479.4 60.1h0M449.8 58.7h0M351.1 56.7h0M411.4 47.4h0M452.1 64.6h0M454.4 67.5h0M364.3 33.1h0M322.1 58.3h0M333.6 53.6h0M373 49.6h0M389 55.6h0M365.4 58h0M395.4 57.8h0M342.1 53.4h0M406.9 57.7h0M393.9 58.6h0M386.1 30.2h0M404.2 51.7h0M511.2 68.3h0M494.7 72.7h0M348 54.7h0M341.5 57.7h0M444.4 59.2h0M338.9 58.6h0M499.8 79.1h0M402.2 32.9h0M537.4 58.7h0M401.2 57.1h0M439.6 60.4h0M333.6 56.2h0M357.7 58.3h0M359.8 58.1h0M528.3 66.2h0M540.3 59.2h0M461.2 63.1h0M458.9 68.1h0M488.9 89.9h0M417.5 57.7h0M527 66.8h0M371.4 25.8h0M522 60.9h0M323.9 58.6h0M450.2 64.8h0M456.3 80.4h0M488 83.7h0M359.8 57.8h0M395.5 36.4h0M524 59.4h0M363.3 53.6h0M385.2 55.3h0M447.6 60.8h0M538.9 59.9h0M392.9 53h0M357.8 51h0M346.9 46.9h0M538.8 58.6h0M376.1 58.4h0M484.6 75.5h0M335.4 53.7h0M414.7 53.7h0M449.2 60h0M482.7 59.2h0M460.4 71.4h0M413.3 49h0M356.3 39.4h0M411.6 56.4h0M422.6 55.3h0M389.7 30.4h0M351.6 58.3h0M516 62.5h0M362.5 58.3h0M403.4 56.9h0M422.1 51.2h0M356.3 36.9h0M493.2 59.1h0M355.2 47.7h0M504.3 81.3h0M325.3 56.7h0M324.8 58.6h0M434.4 59h0M438.4 58.6h0M421.4 58h0M523.2 59.7h0M486.1 69h0M502.6 60.9h0M492.5 75.4h0M501.7 69.6h0M498.7 92.7h0M517 62.7h0M487.7 75h0M360 48.6h0M433.6 63h0M475.6 70.6h0M432.5 58.9h0M432.3 59.4h0M390.8 58.4h0M357.6 58.6h0M519.9 61.3h0M400.5 46.8h0M325.1 54.8h0M399.1 58.5h0M541.4 58.7h0M323.7 56.8h0M539 60.6h0M361.6 34h0M327.1 57.5h0M540.2 58.6h0M377.3 50.5h0M535.6 59.3h0M377 27.2h0M398.1 29.1h0M537.5 62.5h0M376.8 40.3h0M501.6 67.1h0M505.6 58.6h0M407.9 50.2h0M346.4 43.1h0M498.8 76.8h0M354.4 50.6h0M401.4 57.2h0M364.3 53.4h0M519.2 61.4h0M381.7 55.8h0M441.4 64.1h0M468.9 80.3h0M378 58.2h0M445.9 61.5h0M479 62.1h0M538.1 58.7h0M415.3 50.9h0M395.9 58.6h0M397.1 58.1h0M443.6 64.4h0M389.6 57.2h0M410.3 56.6h0M461.6 59.6h0M483.2 61.2h0M480.1 68.6h0M465.4 75.5h0M350.8 58.3h0M469.3 61.5h0M367.4 46.3h0M507.9 74.8h0M518.8 78.3h0M380.8 53.6h0M531.4 59.8h0M460 64.8h0M482.2 94.5h0M481 76.2h0M467.5 63.8h0M350 47.3h0M450.3 61.6h0M536.3 61.3h0M502.7 59.1h0M419.7 58.6h0M537.6 58.7h0M519.5 58.9h0M418.1 58.6h0M508.2 60.8h0M378.5 54.5h0M351.9 53.7h0M430.7 58.7h0M499.5 61.4h0M474.6 71.4h0M388.3 49.7h0M429 57.5h0M490.5 75.5h0M481.6 79.8h0M530.5 64.8h0M352.6 58.6h0M483.4 79.1h0M467.5 66.3h0M382.3 56.1h0M532.2 60.5h0M429.3 57.2h0M461.4 75.7h0M540.1 58.6h0M439 59.6h0M467.2 75.5h0M448.7 61.7h0M506 68.3h0M469 85.8h0M351.9 38.7h0M331.9 58.6h0M519.7 67.6h0M487.1 80h0M347.6 53.6h0M512.5 68.9h0M466.5 64h0M454.3 82h0M486.6 72h0M525.6 64.4h0M386.6 58.4h0M331.9 56.1h0M470 66.5h0M388.8 51.9h0M479.3 67.7h0M471.3 58.6h0M469.5 65.5h0M500 58.6h0M354.5 57.6h0M359.6 56.5h0M435 63.8h0M356.6 58.5h0M431.4 58.9h0M379 58.3h0M538.4 60.5h0M505.6 58.8h0M494.7 89.6h0M512.3 60.2h0M373.9 45.8h0M437.4 65.5h0M456.2 65h0M330.6 58.6h0M374.8 54.8h0M502.5 70h0M376.6 36.1h0M520.7 60h0M424 52h0M430.6 58.9h0M346.8 57.9h0M508.9 70.4h0M410.3 57.2h0M368.8 43.3h0M357.1 51.6h0M356.2 53.1h0M491.9 65.2h0M400.9 58.4h0M451.1 60.7h0M396.6 50.2h0M525.2 58.6h0M433.8 61h0M422.6 58.2h0M529.1 59.6h0M500.4 59.2h0M537.3 58.6h0M489.8 79.7h0M370.4 32.8h0M422.1 55.2h0M495 61.8h0M370.8 58.6h0M418.8 58h0M348 57.5h0M417.9 57.3h0M442.9 59h0M358.4 55.5h0M452.3 61.5h0M352.3 58.4h0M429.4 58h0M473.4 61.7h0M481.6 58.8h0M415.7 58.2h0M357.7 47.7h0M536.4 59h0M440.2 60.2h0M427.7 58h0M328 57.9h0M488 62.5h0M494.3 59.1h0M479.3 60.9h0M421 57.9h0M422.5 58.4h0M502.2 66.4h0M526.6 59.7h0M451.3 64h0M461.6 58.6h0M505.8 66.5h0M394.8 56.6h0M358.6 49.3h0M486.5 91.9h0M456.3 59h0M395.2 53.3h0M506.4 60.6h0M487 78.3h0M326.8 56.2h0M431.9 58.6h0M475.8 81.4h0M520.8 59.4h0M477 59.6h0M372 45.7h0M353 32.3h0M533.6 58.6h0M510.4 61.5h0M413.6 45.8h0M410.9 52.1h0M489.6 94h0M462.6 60.2h0M378 28.4h0M427.4 55h0M536.7 60.2h0M419.3 58.5h0M324.1 57.9h0M342.9 53.6h0M353.4 36h0M464.5 67.6h0M401.2 48.6h0M466 59.6h0M383 53.2h0M495.4 62.1h0M429.9 58.4h0M527.3 59.2h0M489.4 58.9h0M425.8 58.4h0M535.5 58.9h0M391.2 39.4h0M423.7 53.1h0M398.6 55.7h0M326.7 54.2h0M388.5 24.4h0M335.3 57.7h0M345 48.9h0M345.9 56.2h0M402 51.8h0M443 67.7h0M445.3 60.1h0M460.8 59.4h0M361.1 48.4h0M383.8 53.9h0M347.6 40.1h0M520.6 70.7h0M354.4 55.5h0M459.8 64.7h0M429.5 58.6h0M336 55.8h0M503.9 67.5h0M432.1 58.7h0M444 64.8h0M486.2 74.2h0M387.4 36.6h0M405.6 57.2h0M351.4 55h0M514.5 58.6h0M404.4 54.6h0M508 76.4h0M508.8 59h0M409.6 53.2h0M452 65.8h0M372.2 56.7h0M426.3 57.7h0M389.5 36h0M526 61.9h0M468.2 62.6h0M518.9 58.9h0M374.8 55h0M365.4 49.9h0M319.9 58.4h0M449.8 61.1h0M384.8 58.1h0M380.5 52.2h0M419.7 58.6h0M445.7 60h0M486.3 96.5h0M516.2 69.5h0M362.7 57.8h0M429.1 57.5h0M523.7 62.4h0M390.1 53.9h0M442.6 59.2h0M418.5 52h0M485.8 58.6h0M481.3 67.1h0M408.1 51h0M378.5 58h0M459.4 69.8h0M527 59.7h0M408.7 44.4h0M430.5 58.2h0M374.3 56.3h0M516.5 68.5h0M331.5 51.2h0M404.1 56.7h0M339.5 51.3h0M417.5 55.6h0M452.7 64.2h0M343.9 57.2h0M467.5 66.2h0M378.6 58.6h0M366.3 44.7h0M394.6 56.2h0M525.9 59.4h0M515.4 65.4h0M386.5 43.4h0M326.4 58.4h0M341.3 57.8h0M420.1 53.3h0M325.2 58.2h0M472.3 60.6h0M452.5 59.6h0M411.2 56.6h0M352.8 47.2h0M531.7 60.6h0M401.3 51.4h0M374.3 42.3h0M538.3 59.1h0M486.2 75.4h0M439.9 58.6h0M397.4 54.1h0M499 62.7h0M475.4 73h0M515.9 66.7h0M536.6 58.9h0M448.3 64.5h0M503.2 70h0M522.4 61.4h0M365.1 29.5h0M458.9 70.8h0M508 63.5h0M497.1 62.1h0M483.9 85.8h0M421.6 53.1h0M511.6 64.6h0M428.5 58h0M384.8 50h0M418.2 46.4h0M502.6 58.7h0M337 48.7h0M322.2 56.2h0M333.5 51.3h0M349.1 58.3h0M371 41.7h0M349.9 58.5h0M323.6 55.3h0M379.4 42.5h0M453.6 67.9h0M484.6 73.2h0M424.6 56.8h0M525.3 71.3h0M329.1 56.7h0M514.9 59.9h0M330.2 57.7h0M452.7 70.1h0M365 58.4h0M478.8 91.3h0M485.5 78.1h0M500.4 58.6h0M385 56.5h0M354.6 57.6h0M488.4 64.4h0M472.1 66h0M420.5 56.2h0M415.5 44.2h0M430.9 58.9h0M531.6 65.7h0M347.6 52h0M451.8 63h0M510.1 74.4h0M342.1 58.4h0M484.5 66.1h0M501.4 59.9h0M374.7 53.8h0M395.8 42.1h0M414.5 54.2h0M539.2 59.8h0M521.1 75.8h0M525.7 61.3h0M400.9 53.7h0M516 73h0M429.7 58.3h0M452.2 59.5h0M465.9 91.3h0M483.2 90.7h0M393.9 58.6h0M402.2 55.6h0M347.2 53.4h0M512.7 68.5h0M420.1 51.6h0M532.7 62.3h0M378.2 53.7h0M459 85.2h0M540.9 58.6h0M474.7 66.6h0M518.4 66.2h0M526.7 59.3h0M438.2 58.6h0M360 58.6h0M459.2 71.2h0M464.4 73.4h0M390.9 50.7h0M360.2 45.3h0M396.8 34.6h0M492.8 60.6h0M390.2 28.1h0M496.1 64.1h0M400 52.1h0M497.8 60.7h0M454.8 59.2h0M528.3 58.6h0M369.7 41h0M490.6 68.9h0M419.1 53.9h0M365.2 35.4h0M356.5 41.7h0M374.3 47.5h0M470.4 79.4h0M508.2 69.6h0M387 51.4h0M394.9 51.2h0M346.7 54.1h0M437.1 59.2h0M344 55.6h0M389.2 47.8h0M520.8 77.1h0M434.6 63.4h0M388.3 49.7h0M486.9 90.8h0M319.7 58.4h0M483.6 61.3h0M498.7 71.6h0M427.6 54.3h0M366.7 58.1h0M369.2 38.6h0M519.4 59.9h0M478.5 59.6h0M535.8 60.6h0M362 57.6h0M412.8 58.3h0M493.2 78.2h0M449.7 59.9h0M426.9 54.6h0M349 55.4h0M528.8 65.7h0M366.6 30.9h0M479.4 76.3h0M453.6 60.7h0M493.2 65.8h0M490.7 60.1h0M421.8 56.6h0M439 65.3h0M336.9 52.4h0M486.3 67.2h0M382.1 54.9h0M345.9 58.5h0M329.2 58h0M384.5 53h0M348.6 57.4h0M357 58.6h0M409.2 58.5h0M396.4 56.5h0M379.2 54.2h0M359.4 57.8h0M455 59.1h0M439.3 60.8h0M406.3 57h0M362.6 37.9h0M493.8 63.4h0M342.1 57.9h0M404.4 54.3h0M365.4 56h0M480.7 66.6h0M438.4 58.8h0M521.6 61.2h0M467.6 59.7h0M462.7 82.1h0M337.1 46.1h0M322.1 58.6h0M461.8 75.5h0M493.7 67.2h0M510.9 80.1h0M539.2 59.5h0M514.2 76.7h0M442.2 62.7h0M472.1 59.3h0M398.1 47.2h0M536.7 59.6h0M535.9 58.8h0M476.6 76.3h0M371 56h0M444.4 65h0M471.5 60.1h0M500.1 58.9h0M462.6 58.7h0M496.9 59.3h0M491.8 58.6h0M464.6 64.7h0M345.2 37.9h0M483.3 78.3h0M423.7 54.7h0M496.9 60h0M343.6 47.8h0M428.3 57.4h0M390 55.9h0M426.7 54.6h0M537.6 58.6h0M490.5 64.3h0M515.1 67.5h0M505.7 59.7h0M333.3 46.3h0M479.7 64.5h0M484.7 60.2h0M487.8 58.7h0M375.6 52.5h0M402.5 42.8h0M463.4 61.8h0M379.9 47.9h0M431.8 58.7h0M411 56.8h0M336.3 57.8h0M335.5 58.6h0M365.2 56.5h0M420.4 58.5h0M522.8 58.6h0M488.9 58.9h0M387.8 35.1h0M494 65.7h0M499.1 58.9h0M525.6 63.7h0M475.4 64.3h0M456.6 62.5h0M468.4 69.8h0M336.2 54.5h0M451.7 59.4h0M328.9 57.7h0M460.3 86.3h0M467.5 59.1h0M403.4 31.3h0M358.1 51.6h0M434 61h0M354.3 43.6h0M404.2 36.1h0M476.3 64.4h0M326.6 58h0M527.3 59.3h0M516.4 67.2h0M400.8 55.2h0M502.2 80.1h0M500.9 64.4h0M477.2 73.6h0M412.6 58.5h0M400 49.4h0M364.7 56.9h0M497.7 79.1h0M468.7 59.7h0M534.4 59.2h0M456.9 59.7h0M320.4 58.3h0M364 58.5h0M329.4 57h0M383.9 37.4h0M447 59.6h0M442 61.9h0M454 72.3h0M401.1 56.2h0M522.5 59.6h0M416.6 56.7h0M372 58h0M411.2 58h0M405.1 54.3h0M359.5 50.6h0M446.8 59.9h0M436.8 66h0M322.8 56.4h0M386 58.5h0M345.5 48.5h0M394.8 35.1h0M356.8 49.6h0M334.6 56.9h0M402.1 51.7h0M328.6 58.5h0M334.4 54.1h0M480.4 80.8h0M369.2 57.7h0M489.5 59.1h0M411.8 54.9h0M445.9 67.4h0M504.9 62h0M343 52.7h0M324.7 55.9h0M398 47.1h0M531.2 59.5h0M399.2 37.9h0M410.4 45.9h0M454.4 59.1h0M319.8 58.6h0M451.1 72.8h0M465.4 68.1h0M521.4 76.7h0M462.8 61.1h0M467.5 73.2h0M340.4 47.7h0M418.3 54.2h0M366.3 56.5h0M387.2 21h0M336.1 52.1h0M405.5 55h0M352.8 51.8h0M386.7 55.4h0M326.9 56.5h0M536 59.1h0M410.5 45.5h0M393.5 26h0M472.2 58.8h0M486.1 58.7h0M470.3 62.6h0M389.7 57.4h0M440.4 58.8h0M415 57.6h0M487.2 70.3h0M406.6 56.7h0M524.6 64.4h0M411.2 58.4h0M368.3 29.2h0M512.4 58.6h0M334.5 58.3h0M540.2 58.9h0M539.3 60.5h0M428.8 58.3h0M390.1 44.7h0M344.6 58.5h0M419.4 58.1h0M479.2 59h0M365.3 52.3h0M472 65.8h0M388.3 54.6h0M439.8 65.1h0M495.7 78.6h0M427.1 58h0M465.7 60.3h0M396.7 40.6h0M448.8 59h0M500.1 89.6h0M515.3 59.7h0M530.4 58.8h0M383.2 54.7h0M342.1 45.4h0M325.8 54.9h0M353.8 54.2h0M478.8 59h0M361.4 44.8h0M489.7 71.4h0M331.5 58.4h0M493.8 78.9h0M409.9 36.8h0M354.7 55.1h0M451.5 81.9h0M487 80.8h0M332.2 49.6h0M411.2 36.6h0M340.6 43.1h0M531.2 59h0M414.9 58.5h0M423.6 57.5h0M452.2 63.7h0M501.4 60.5h0M527.9 63.2h0M408.9 57.8h0M413.1 44h0M505.2 88.5h0M483.3 63.4h0M470.8 59.1h0M498 61.1h0M526.3 60.3h0M331.1 57.6h0M446 63.2h0M378.1 46.1h0M523.6 66.6h0M324.3 58.2h0M408.3 49.2h0M423.8 56.4h0M337.3 52.6h0M393.2 57.8h0M404.4 58.3h0M342.2 46.5h0M490.2 80.5h0M397.8 55.2h0M422.2 55.7h0M497.9 64h0M522.3 59.7h0M376.9 33.2h0M486.8 58.6h0M385.5 58.4h0M530.8 60.6h0M524.6 59.5h0M429.6 58.2h0M339.9 42.2h0M508.9 67.6h0M471.5 59.4h0M495.4 78h0M433.6 58.9h0M533.2 60.1h0M398.6 56.9h0M490.5 59.4h0M341.5 40.6h0M523.9 71h0M394.1 52.7h0M350.4 56.1h0M413.1 58.6h0M348.6 55.6h0M447.2 67.8h0M460.4 58.8h0M372.6 56.6h0M339.6 58.6h0M507.6 61.2h0M470.5 74.4h0M457.2 58.7h0M532.9 58.7h0M343.6 57.3h0M436.6 62h0M331 54.6h0M512.2 59.6h0M506.8 68.5h0M407.3 56.9h0M450.5 70.6h0M484 58.6h0M463.6 58.7h0M474.2 60.2h0M378.4 55.9h0M480.6 84h0M485 61.5h0M427.5 57.3h0M440 60.8h0M409.9 52.6h0M455.1 63.5h0M521.8 59.5h0M327.3 53.7h0M490 64h0M481.4 59h0M415.8 52.3h0M366 49.5h0M458.6 67.5h0M489 61.7h0M353.5 58.6h0M444.7 64.1h0M484.9 59.7h0M378.7 53.6h0M502.8 60.3h0M440.7 60.4h0M336.5 47.2h0M504.6 80.8h0M326.9 58h0M502.6 69.8h0M442.1 58.9h0M320.8 58.3h0M352.9 39.9h0M347.7 38h0M463.2 59h0M489.8 60.2h0M400.3 52.2h0M462.7 78.6h0M444.1 67.5h0M510 65.9h0M373 54h0M347.6 53.8h0M410.4 43.5h0M505 61h0M376.5 29h0M500.9 58.6h0M339.3 58.1h0M510.2 70.2h0M418.7 53.8h0M503.9 85.1h0M422.9 57.3h0M436.5 66.8h0M474 71.8h0M356.6 58.3h0M325.1 54.6h0M405.9 56.3h0M349.2 37.8h0M370.1 58.6h0M356.9 58.5h0M345.6 51.1h0M507.9 58.6h0M457.5 60h0M398 29h0M517 59.2h0M321.7 58.6h0M522.2 58.8h0M496.9 78h0M423.7 55.5h0M527.5 68.1h0M396.7 56.9h0M350.5 55.8h0M342 55.6h0M481.8 67.6h0M385.9 56.4h0M378.7 55.4h0M498.3 59.7h0M513 73.5h0M404.9 57.3h0M396 58.6h0M433.8 60.5h0M409 57.9h0M514.9 62.1h0M437.5 58.6h0M378.6 58.6h0M320.8 58.4h0M529.5 59.3h0M394.4 25.9h0M528.7 65.1h0M516.5 72.7h0M414.2 54.6h0M370.4 58.6h0M480 69h0M340.6 58h0M333.3 46.7h0M325.9 53.1h0M445.5 65.9h0M492.9 60.1h0M463.3 73.5h0M525.4 59.9h0M337.2 42.6h0M482.3 66.1h0M475.5 59.6h0M479.6 62.2h0M433.5 60.2h0M349.6 58.3h0M396.2 56.1h0M373.4 54.6h0M532.3 58.8h0M491.7 64.6h0M522.4 71.3h0M447.5 63.6h0M332.4 54.9h0M485.2 79.6h0M400 56.1h0M464.3 66.8h0M416.8 52.4h0M445.7 64h0M355.3 27.9h0M519.2 58.6h0M389.4 33h0M510.8 59.2h0M521 75.7h0M446.3 64.9h0M355.3 40.2h0M408.7 57.7h0M432.2 59.9h0M384 30.7h0M336.2 44.8h0M530.8 63.6h0M453.8 79.3h0M433.2 59h0M341.9 43.1h0M435.3 61.5h0M498.9 61.3h0M359.7 56h0M522.8 62.1h0M364.5 27.2h0M348.8 56.7h0M490 73.8h0M360.9 44.1h0M516 58.6h0M378.2 42.7h0M338.7 53.9h0M457.1 64h0M323.7 57.1h0M343.8 58.2h0M449.6 72.1h0M484.4 85h0M431.5 58.6h0M504.3 60.8h0M357.1 57h0M497.5 80.6h0M419.4 52.4h0M509.9 81.8h0M350.3 53.5h0M439.1 62.6h0M340.3 44h0M357.1 51.8h0M397.9 47.4h0M442.3 58.8h0M444.4 63.4h0M373.5 49.5h0M387.1 56.7h0M534.3 63h0M325.5 58h0M408 57.9h0M507.6 68.1h0M471.3 68.2h0M447.7 59.2h0M354.3 57h0M375.8 58.2h0M540.2 58.8h0M445.5 58.6h0M383.7 58.1h0M526 64.2h0M501 65.8h0M487.5 75.7h0M371.1 30.9h0M409.3 46.6h0M506.9 62h0M382.3 38.8h0M533.6 58.6h0M412.2 58.5h0M431.7 59.1h0M489.6 77.3h0M341.2 40.9h0M457.6 58.7h0M453.2 61.4h0M356.7 34h0M357.3 33.7h0M325.9 58.2h0M401.5 55h0M462.1 68.3h0M335.8 58.4h0M434.1 58.8h0M358.1 58.5h0M501.8 60.4h0M335.1 55.4h0M320.7 58.6h0M467.5 58.7h0M398 55.3h0M521.7 62.9h0M405.7 55.2h0M495 80.5h0M425.9 58.6h0M428.2 55.9h0M405.9 57.3h0M474.7 70.5h0M326.7 57h0M499.8 58.6h0M466.3 58.7h0M482.1 59.4h0M342.5 41.4h0M478.7 77.3h0M434 58.8h0M478.8 87.8h0M436.1 59.5h0M517.2 68.9h0M499.5 90.7h0M446.2 69.8h0M538.8 59.1h0M435 61h0M396.4 58.5h0M511.2 85.2h0M360.9 36.6h0M490.1 80.9h0M441.3 60.6h0M537.9 59.2h0M330.3 58.4h0M385.2 58.6h0M524.7 58.6h0M448.6 74.1h0M366.4 46.8h0M475.6 64.4h0M429.1 57.5h0M446.4 60.8h0M358 57.3h0M326.3 58.6h0M520.7 73.6h0M467.3 87.1h0M534.8 60.1h0M429.9 58.4h0M379.6 57h0M330.8 51.3h0M443.2 59.2h0M492.6 67.9h0M525.3 61.6h0M403.5 55h0M379.5 56.4h0M372.4 50.9h0M527.5 63.2h0M470.2 88.9h0M437.8 67h0M523.8 65.9h0M485.2 85.4h0M438.1 58.9h0M491.1 64.8h0M467.3 61.7h0M486.3 61.4h0M393.9 44.9h0M475.9 64.4h0M355.5 54.7h0M329.4 57.9h0M430.7 58.6h0M489 61.7h0M369 56h0M516.8 66.3h0M423.2 57.5h0M467.1 91.6h0M512.6 64.7h0M496.8 61.2h0M464.3 89.3h0M381.3 44.9h0M358.9 44.6h0M446.4 59.6h0M450.8 68.3h0M452.5 65.7h0M407.6 39.3h0M358.8 50.8h0M525.3 65.2h0M469.9 62.2h0M473 81.4h0M324.9 54.7h0M437.4 58.6h0M437.7 60.4h0M336.3 58.6h0M367.7 58.3h0M354.4 47h0M456.8 60.4h0M513 72.1h0M459.6 62.6h0M391.9 45.7h0M507.6 61.5h0M441.7 61.7h0M501.9 79.7h0M448.8 64.9h0M355 58.5h0M414.6 54.6h0M378.7 48.8h0M389.2 50.2h0M331.9 54.8h0M490.8 58.6h0M444.7 60h0M390.5 53.8h0M478.1 59.5h0M424.3 57.3h0M335.8 44h0M498 89.4h0M499.1 63.3h0M442.5 65.2h0M463 66.7h0M444 58.6h0M383.7 58.5h0M332 58.6h0M463.5 87.5h0M382.1 37.1h0M484.4 60.2h0M387.9 53.8h0M405.3 37.7h0M520.2 59.4h0M344.2 55.7h0M378.4 43.8h0M473.3 76h0M414.3 50.3h0M512.2 59.2h0M347 44.8h0M323.3 58h0M497 65h0M354.3 55.6h0M382.6 33.6h0M363.1 54.8h0M416.1 58h0M520.8 59h0M427.3 56.9h0M480.3 64.9h0M354.2 31.7h0M438.5 62.2h0M368.6 56.5h0M368.2 49.7h0M387.8 25.5h0M405.3 49.8h0M478.9 59h0M342.1 57.5h0M377.7 58.3h0M535.1 59h0M399.6 52h0M324.1 58.6h0M512.7 74.2h0M320.9 57.9h0M403.6 45.1h0M477.8 77.6h0M528.6 64.9h0M517.6 65.3h0M527.4 63.3h0M451.2 71.8h0M534.3 61.6h0M371.3 58.6h0M390.9 49.1h0M464.6 78.3h0M458.8 70.3h0M501.7 69.2h0M346.9 57.3h0M402.2 51.3h0M458.6 80.1h0M338.8 56h0M431.6 58.6h0M514.4 58.8h0M325 56.8h0M505 59.2h0M479.2 60.3h0M414.9 48.8h0M367.7 56h0M493.3 76.2h0M398.5 41h0M459 83.8h0M348 58.1h0M488.6 58.6h0M523.3 66h0M523.9 59.1h0M537.3 59.7h0M333.4 57h0M499.8 86.4h0M373.5 56h0M343.3 55.1h0M496 72.1h0M518.3 62.6h0M334.6 51.8h0M365.6 53.4h0M424.9 56h0M511.9 64.3h0M422.3 57.4h0M330 48.8h0M481.9 70h0M531.3 68h0M354.9 54.2h0M502.5 74.4h0M532 65.4h0M412.3 57.6h0M504.6 67.2h0M460.4 59.2h0M537 59h0M468.8 61.8h0M384 40.5h0M476.5 58.6h0M393.6 46.7h0M398 49.9h0M320.4 58.3h0M337.4 54.7h0M360.7 57.6h0M468 59.3h0M434.6 62.5h0M407.7 58.5h0M455.1 65.2h0M390.2 54.7h0M392.5 42.6h0M455 59h0M485.7 66.4h0M483.6 62h0M442.3 60.3h0M536.9 60.1h0M539.5 59.9h0M526 62.4h0M385.2 57.4h0M484.4 65.7h0M343.5 47h0M539.7 59h0M446.2 63h0M335 54.7h0M347.8 58.5h0M463.1 72.6h0M470.8 80.5h0M401.8 58.6h0M418.6 49.8h0M499.4 66.3h0M493.4 83.8h0M487.4 61.1h0M403.5 54.5h0M397.1 58.5h0M465.8 80.7h0M340.7 52.8h0M469.7 62.7h0M472.3 58.9h0M489.9 58.6h0M374.1 58.6h0M395.5 57.5h0M373.3 28.5h0M417.3 55.3h0M461 79.5h0M420.6 55.3h0M514.9 59.2h0M449.5 66.7h0M496.1 59.3h0M533.1 58.6h0M496.3 66.9h0M367.5 51.4h0M395.3 55.3h0M330.1 58.5h0M409.1 53.4h0M418.1 58.2h0M391.4 57.8h0M403.2 52.3h0M364.7 58.4h0M502 71.7h0M407 58.4h0M323.9 57.7h0M418.3 57.7h0M401 50.1h0M359.6 48.1h0M475.2 60.8h0M411.7 45.3h0M492.9 72.5h0M455.8 59h0M531.8 61.3h0M394.4 56.6h0M328 56.8h0M360.2 52h0M487.6 80.6h0M362.8 40.1h0M451.2 58.6h0M344.7 58.2h0M509.5 74.1h0M405.1 38.1h0M384.3 41h0M517 58.6h0M475.8 58.6h0M453.3 67h0M520.6 66.6h0M498.8 62.6h0M321.3 58.2h0M521.6 67.5h0M363.5 58.3h0M481.1 59.3h0M386.3 31.7h0M385.3 30.7h0M413.5 58.5h0M321.1 57.9h0M507 62.6h0M378.7 34.9h0M460.8 68.5h0M351.6 51.5h0M341.1 54.4h0M323.6 58.5h0M427.5 57.9h0M412.1 38.3h0M479.4 74.1h0M415.5 44.2h0M432.2 58.9h0M445.8 70.3h0M351.8 45.3h0M402.9 54.8h0M504.6 88h0M539 58.7h0M427.7 58.3h0M388.7 58.4h0M509.1 66.2h0M441.1 60h0M328.7 56.3h0M355.4 52.9h0M461.8 83h0M346.8 58h0M436.9 59.7h0M534.2 58.7h0M434.6 60.4h0M420.4 57.9h0M497.5 58.8h0M435.9 64.2h0M505.5 61.9h0M322.2 58.3h0M506.8 81.4h0M356.3 58.1h0M368 30.9h0M445.6 66.5h0M471.3 60.6h0M355.6 52.2h0M496 67.5h0M426.3 53.2h0M486.3 58.6h0M399 44.3h0M398.9 58.4h0M438.1 61.9h0M466 65.3h0M490.4 80.7h0M394.2 58.2h0M456.9 64.4h0M376.5 29.6h0M475.5 79.6h0M409.1 53.2h0M525.3 60.2h0M481.6 59.5h0M336.3 57.6h0M461.4 75.7h0M404 33.6h0M391.5 48.8h0M366.1 55.1h0M475.3 63.5h0M509 67.7h0M418.3 57.5h0M430.1 57.8h0M393.5 55.8h0M499.7 82.1h0M538.5 59.8h0M419.8 58h0M419.4 55.7h0M361.7 33.1h0M382.9 42.3h0M406.8 32.4h0M411.4 55.3h0M356.6 53.3h0M399.3 50.9h0M332.9 56.5h0M382.1 56.4h0M465.2 74.9h0M521.1 60.8h0M367.7 32.1h0M474.9 85.9h0M370.6 58.5h0M530.4 61.5h0M374.7 50.5h0M330.5 56.9h0M530.5 65.1h0M396.4 43.7h0M365.6 51.5h0M420.5 55.5h0M507 84.9h0M406.9 55.8h0M421.3 55.4h0M464.2 62.8h0M324.6 54.7h0M521 62h0M477.8 58.7h0M450.8 67.8h0M398.8 54.6h0M534.9 58.6h0M336 55.7h0M320.7 58.4h0M451.4 69.2h0M469.8 87.7h0M353 34.3h0M507.1 59.6h0M416.5 52.7h0M394.1 35.9h0M478.4 63.1h0M410.1 41.1h0M355.7 28.8h0M415 57.5h0M328.1 52h0M388.2 37.3h0M449.3 67.5h0M337.4 55h0M416.5 51.6h0M426.4 54.3h0M327.4 53h0M366.3 57.9h0M329.7 51.5h0M435.1 59.3h0M461.7 72.8h0M320.1 58.6h0M445.6 59.8h0M511.1 58.6h0M329.3 55.1h0M451.3 60.1h0M390.7 52.9h0M351.3 58.6h0M512.6 60.3h0M388.7 44.5h0M507.6 62.4h0M519.8 63.6h0M375 58.6h0M513.3 58.6h0M521.5 63.4h0M320 58.6h0M515.8 64.4h0M460.7 74.8h0M320.4 58.5h0M436.7 58.7h0M509.6 78h0M508.4 62.5h0M517 67.6h0M434 61.9h0M342.5 56.9h0M395.8 35.1h0M385.7 55.5h0M458 61.3h0M378.9 54.3h0M443.3 60.8h0M388.1 53.8h0M422.8 51.5h0M461.8 58.8h0M500.9 76.4h0M328.6 52h0M419.9 46.4h0M391.7 58.5h0M459.3 58.6h0M479.2 83.8h0M477.8 93.4h0M354.3 52.8h0M352.4 54.5h0M511.5 58.6h0M388.8 50.4h0M474.2 67.5h0M323.3 58.1h0M452.1 61.4h0M371.2 46.5h0M467.9 61.7h0M337.8 58.5h0M515.7 58.7h0M472.1 65.4h0M457.9 80.9h0M424.6 55.7h0M496 83.2h0M416.9 58.4h0M461.5 62.5h0M407.1 58.2h0M322.4 56.4h0M421.8 50.2h0M497.7 62.8h0M461.9 59.5h0M339.1 58.4h0M326.8 52h0M358.2 39.8h0M458.6 83.9h0M387.4 23.2h0M374.1 45.5h0M513.3 81.2h0M322 58.6h0M501.9 87.4h0M396.9 56.4h0M499.1 69.3h0M383.9 58.6h0M434.4 59.9h0M351 55.9h0M381.2 42.1h0M463 72.2h0M470.2 86.3h0M357.2 48.4h0M461.5 71h0M536.8 60.2h0M453.9 60.4h0M381.7 54.7h0M470.9 69.7h0M449.5 60.8h0M465.8 59.8h0M505.4 63.9h0M527.2 67.7h0M353.5 36.9h0M374 48.6h0M348.9 36h0M540.7 58.6h0M537.9 59.9h0M486.9 70.9h0M458.1 61.8h0M354.6 39.8h0M387.1 56.3h0M348.8 54.3h0M399.6 33.5h0M341 57.9h0M323.9 58.5h0M332.4 58h0M417.8 52.9h0M355.5 57.9h0M332.4 56.7h0M486.8 65.9h0M489.1 63.7h0M529.1 58.6h0M497.9 77h0M530.2 61.5h0M464.5 65.8h0M437.3 59.9h0M411.5 51.6h0M393.6 40.9h0M323.1 58.6h0M477.2 77.1h0M390.4 39.6h0M482.2 60.6h0M528.7 60.7h0M495.1 63.4h0M432.2 59.9h0M443.4 62.9h0M516.4 79.6h0M372.7 58.1h0M450.1 77.1h0M452 70.7h0M453.5 73.4h0M383.9 40.2h0M421 58.4h0M431.8 58.7h0M495.5 74.4h0M533.8 63.3h0M331.2 54.4h0M496.6 78.5h0M427.5 56.6h0M462.8 85h0M439.8 58.8h0M498.2 78.3h0M410 58.5h0M407.6 45.6h0M441.7 64.2h0M534.7 64.7h0M413.3 53.8h0M413.8 53.7h0M432 59.7h0M540.8 59h0M355.2 54.6h0M452.7 81.3h0M454.9 82.6h0M517.1 59.1h0M396.8 56.4h0M456.3 59.8h0M375.7 53.6h0M405.8 55.8h0M336.3 58.3h0M381.7 56.3h0M405.9 45.1h0M385.8 56.6h0M411.4 58.4h0M383.6 55.1h0M376.1 58.6h0M395.7 45.8h0M468.6 68.7h0M457.8 70h0M537.1 61h0M349.9 47.5h0M498.6 81.8h0M337.3 58.5h0M369.9 41.7h0M323.4 58.5h0M430.5 58.2h0M322.3 57.8h0M334.1 58.4h0M463 76.2h0M463.7 74h0M340.7 56.1h0M457.4 65h0M414.4 58.4h0M512.4 58.6h0M447.5 60.3h0M436.2 63h0M539.7 60.1h0M380.9 54.8h0M420.3 56.9h0M491.3 61.1h0M480.3 79.9h0M328.7 57.6h0M322.2 57.9h0M381.5 35.3h0M535.2 61h0M334.1 50.9h0M324.2 58.6h0M524 61.6h0M350.8 45.7h0M389.8 51.4h0M511 61.2h0M407.9 48.2h0M329.5 58.1h0M412 57.7h0M481.5 85.8h0M354.9 28.8h0M378.6 44.8h0M393.8 49.6h0M322 57.6h0M472.3 69.3h0M340.1 58.5h0M367.5 58.5h0M418.6 55h0M488 81.4h0M338 58.6h0M534.3 58.7h0M432 59h0M356.7 40.1h0M359.1 57h0M439 59.7h0M339.6 58.4h0M355.7 58.6h0M531.6 61h0M513.8 66.2h0M456.3 64.8h0M485.6 68h0M344.1 54.7h0M380.7 54.8h0M323 58.1h0M448.6 58.6h0M320.6 58.4h0M342.9 58.3h0M540.7 58.7h0M339.4 53.2h0M538.2 60.2h0M439.3 58.6h0M427.9 57.9h0M347.9 58.6h0M407 58.5h0M397.2 58.4h0M474 60h0M537.6 58.8h0M391.5 48.3h0M325.2 57h0M533.8 58.6h0M427 53.1h0M410.7 44.8h0M488.1 83.3h0M462 69.8h0M439.2 65.4h0M350.7 58.6h0M496.9 61.3h0M373.8 56.1h0M454.4 66.3h0M361.4 55.4h0M371 31.4h0M458.4 61.6h0M485 60.1h0M535.3 64h0M471.2 66h0M461 59.1h0M452.8 73.7h0M383.7 49.1h0M522.7 58.7h0M448.7 66.6h0M331.5 50.1h0M425.3 53.1h0M395.1 44h0M354.4 40.7h0M472.9 58.9h0M498.9 58.8h0M518.8 61h0M513.5 58.7h0M538.5 59.5h0M362 40.9h0M446.2 59h0M410 41.2h0M480.9 66.9h0M472.8 67.2h0M336 58.6h0M380.6 42.3h0M368.2 30.5h0M335.4 53.5h0M379.9 53.2h0M426.2 55.3h0M388.5 49h0M352.9 53.6h0M497.6 89.7h0M334 56.7h0M373.7 49.5h0M471.3 65.4h0M409.5 47.2h0M462.9 58.8h0M336.9 46.6h0M527.6 64.3h0M406.8 57.8h0M503.1 58.7h0M412.2 58.5h0M504 59.2h0M326.4 55.1h0M381 48.9h0M539.9 58.8h0M335.7 53.9h0M508.9 63.8h0M403.5 46h0M426.6 54.2h0M382.8 46.8h0M396.9 41h0M538 59.3h0M423.3 52.4h0M350.6 49.7h0M488.5 60.4h0M366.8 50.3h0M438.2 58.9h0M493.7 59.3h0M420.7 58.5h0M340.6 58.4h0M481.8 59.9h0M525.2 59h0M469.8 72.7h0M526.7 69.5h0M423.2 58.6h0M364.7 53.7h0M393.5 41.7h0M496.4 61.5h0M527.3 58.9h0M379 57.1h0M502.2 65.2h0M488.3 64.1h0M369.6 47.9h0M502.4 89.6h0M413 38.9h0M351.7 58.5h0M444.3 59.5h0M375.7 58h0M439.1 64h0M531.5 58.7h0M363.8 45.7h0M442.1 58.6h0M433.5 58.9h0M357.1 47.1h0M454.8 58.6h0M374.7 27.1h0M520.9 71.2h0M509.6 58.9h0M437.1 58.9h0M373.9 51.9h0M351.3 33h0M370.4 47.2h0M436.5 58.6h0M449.5 59.2h0M349.8 38.7h0M485.8 80.4h0M427.5 55.9h0M536 59.2h0M407.4 50.8h0M422.2 56.1h0M495.2 79.3h0M410.8 42.4h0M493.2 87.7h0M439.2 59h0M345.6 40.9h0M520.4 73.4h0M519.2 62h0M347.6 57.4h0M392.9 37.7h0M445.4 76.3h0M342.9 53.1h0M409.1 58.3h0M334.2 58h0M437.6 60.5h0M426.7 58.5h0M525.7 59.1h0M498.2 60h0M379.4 50.1h0M470.7 63.9h0M532.1 58.8h0M348 58.5h0M437.7 68h0M351.6 37.5h0M375.8 57.8h0M429.2 58h0M321.6 57.9h0M426.4 58.6h0M385.3 55.2h0M333.5 58.5h0M437.6 59.4h0M364 51.1h0M364 29.3h0M528.6 59.4h0M416.4 55.3h0M440.9 63.4h0M342.3 49.4h0M530.9 66.4h0M449.8 76.8h0M384.9 50.1h0M466.8 68.7h0M462.5 71.2h0M427.3 57.4h0M414.2 56.3h0M340.5 56.3h0M488.3 76.8h0M328.1 55.3h0M333.7 49.3h0M458.3 69h0M513.5 74.4h0M519.2 72h0M368.5 23.6h0M500.5 70.3h0M360.1 57.8h0M362.1 57.6h0M422.1 54.5h0M447.2 60.8h0M437.4 65.2h0M522.7 61.7h0M430 57.9h0M399.9 55.2h0M422.3 51.8h0M360.6 58.5h0M479.7 65.6h0M358.8 37.1h0M426.7 57.5h0M339.9 58.5h0M479.7 68h0M400.1 32.7h0M494 59.5h0M356.7 31.4h0M427.9 58.4h0M513.5 61h0M481.6 60.6h0M365.4 57.9h0M341.2 57.8h0M452.1 71.6h0M537 58.8h0M409.4 54.6h0M475.6 75.5h0M470.9 93.8h0M536.6 59.7h0M409.9 56.6h0M339.4 42.4h0M341.4 55.9h0M521.5 72.1h0M367.2 53.9h0M449.2 60.4h0M461 64.4h0M519.5 59.6h0M413.9 44.2h0M375.2 58.5h0M521 58.9h0M455.8 75.7h0M539.8 59.1h0M492.4 64.2h0M467 66h0M424.6 57.6h0M319.8 58.6h0M502.1 58.7h0M398.8 40.2h0M332.2 47.6h0M483.7 58.8h0M538.4 61.4h0M483 68.2h0M358.2 58.6h0M395.9 41.1h0M395.3 49.8h0M387 32.4h0M471.2 59.6h0M479.9 58.7h0M381.4 41.9h0M406.3 47h0M390.8 58.5h0M376.8 30.2h0M465.3 63h0M497.5 65.2h0M478.4 71.4h0M533.2 58.9h0M528.6 70.1h0M533.4 59.2h0M493.3 64h0M401.5 44.5h0M485.2 63.5h0M534.4 63.5h0M380.6 54.3h0M397.6 45.2h0M324.7 58.4h0M520.9 59.1h0M496.3 73.9h0M346.7 49.4h0M418.3 58.4h0M384 40.3h0M396.7 57.1h0M416.8 58.6h0M528.7 61.5h0M388.9 58.3h0M447.6 72.1h0M484.9 85.9h0M476.7 82.7h0M327.8 56.2h0M396.5 55.7h0M503.4 61.2h0M358.3 33.8h0M419.6 45.3h0M494.5 69.7h0M365.2 58.4h0M428.1 57.6h0M530.9 66.4h0M341 51.3h0M383 55.7h0M325.2 58.4h0M332.4 57.6h0M498.2 58.6h0M437.3 59.3h0M456.2 60.3h0M377.6 42.9h0M476.1 79.6h0M351.7 55.4h0M364 44.1h0M333.2 50.2h0M529.6 58.6h0M392.5 50.2h0M383.9 42.1h0M413.3 53.8h0M371.2 26.1h0M521.8 62.3h0M381.8 58h0M329.6 57.1h0M506.4 74.9h0M480.9 80.9h0M360.1 43.7h0M402.9 51.6h0M354.8 56.4h0M519.3 61.8h0M522.3 67.9h0M331.4 57.6h0M367.8 53.1h0M410.8 58h0M457.1 74.3h0M503.9 62h0M519 77.6h0M526.7 65.9h0M447.2 60.8h0M484.3 58.6h0M518 58.7h0M484.2 61h0M422.6 57h0M503.3 59.9h0M459 60h0M383.1 53.6h0M326.1 58h0M489.1 95h0M324 54.4h0M494.8 65.9h0M492.8 65.8h0M362.2 57.3h0M509.6 67.5h0M443.2 69.1h0M531.1 60.2h0M526.8 58.8h0M324.7 58.3h0M371.8 43.8h0M500.4 60.6h0M436.6 59.3h0M351.9 39.5h0M433.1 58.7h0M396.8 53.2h0M405.1 53.3h0M344 58.5h0M454.3 67.8h0M503.6 75h0M405.2 58.6h0M389.7 55.7h0M520.4 58.6h0M459.6 61.9h0M536.2 59.4h0M506.8 63h0M366.5 52.5h0M475.1 96.1h0M354.2 38.2h0M356 56.2h0M461.1 58.6h0M326.1 57.4h0M370.7 51.3h0M534.8 60.2h0M385 35.5h0M478.9 60h0M476.8 84.4h0M439.6 63h0M506.2 67.9h0M364.5 58.4h0M350.4 56.6h0M495.7 71.9h0M396 52.4h0M364 42.9h0M434.4 61.2h0M472.5 59.9h0M436.2 58.8h0M499.2 59.5h0M396.7 57.5h0M497.5 66.6h0M523.5 58.8h0M449 65.2h0M469.1 62.7h0M446.3 63.1h0M386 56.4h0M374.6 58.6h0M479.8 59.1h0M352 39.6h0M409.5 55.7h0M402.2 44.2h0M517.4 68.7h0M438.6 58.7h0M378.6 55.2h0M416.6 43.3h0M332.9 52.1h0M381.3 37.7h0M471.1 63.1h0M374 40.6h0M386.1 55.6h0M522.3 60.9h0M379.7 34h0M447.3 62.2h0M539.7 59.2h0M339.3 51h0M410.4 47.6h0M497.4 64.5h0M489.7 61.1h0M457.5 71.7h0M477.4 89.8h0M351.5 43.4h0M333 58h0M347.1 54.5h0M519.2 65h0M359.1 41.6h0M473 64.1h0M336.8 58.2h0M516.9 63.3h0M490.5 58.6h0M507 60.3h0M536.7 60.4h0M463.7 64.8h0M515.9 61h0M540.9 58.6h0M339.9 57.6h0M329.9 57.1h0M484.5 60.8h0M449.5 62.1h0M373.9 46.2h0M469.8 61h0M465.9 76.1h0M395.3 58.6h0M330.9 58.6h0M538.5 59.3h0M439.9 62.2h0M340.9 57.5h0M496.7 64.3h0M514.2 79.1h0M402.4 49h0M496.1 71.2h0M334.5 52.1h0M475.1 64.6h0M536.2 60.3h0M485.8 59.8h0M379.2 58.5h0M407.1 55.7h0M468.4 87.9h0M416.6 48.9h0M540.3 58.7h0M493.5 65.5h0M415.6 49.2h0M475.7 82.6h0M335 58.5h0M393.5 54.4h0M328.2 57.5h0M395.2 57.8h0M358.8 47.4h0M427.5 58.6h0M392.8 58.2h0M332.6 58h0M355 52.8h0M410.6 57.3h0M453 58.9h0M378.5 56.9h0M408.6 47.5h0M529.6 58.7h0M410.5 57.6h0M426.6 56.9h0M429.9 58.3h0M525.1 68.1h0M356.6 52.3h0M423.2 51.3h0M499.4 73.6h0M437.4 62.7h0M393.7 44.7h0M403.2 58.4h0M363 57.1h0M468.3 63.2h0M507 60.1h0M481.2 87.8h0M330.5 50.4h0M494 59.2h0M485.5 63.3h0M403.6 50.4h0M382.7 48.9h0M533 61.4h0M350.3 51.4h0M495 59.1h0M379.5 34.2h0M440.2 59.8h0M475.5 70.8h0M522.8 70.2h0M491.2 76.5h0M337.4 47.6h0M512 75h0M535.4 61.3h0M327.7 58h0M385.3 45.8h0M515.6 80.5h0M437.5 58.9h0M321.5 57.7h0M490.1 65.9h0M538.7 58.9h0M352.6 49h0M512 65h0M457.3 74.1h0M455 66.8h0M329.9 50.2h0M535.5 60.1h0M541.2 58.9h0M348.3 54.1h0M501.1 60.1h0M397.3 56.8h0M326 58.4h0M435.3 58.6h0M506.7 59.7h0M448.8 74.1h0M332.1 56h0M511.3 60h0M414.9 57.4h0M443.8 62.4h0M409.8 39.7h0M534 58.6h0M439.5 60.1h0M501 62.1h0M530 58.7h0M451.4 67h0M508.2 58.6h0M366.2 41.8h0M362.2 44.5h0M483.9 73.5h0M469.8 61.6h0M531.4 65.2h0M399.2 27.4h0M359.6 56.1h0M412.4 55.1h0M517.5 77.6h0M441 60.6h0M389.2 50.8h0M430.6 58.8h0M481.9 68h0M342.9 49h0M475.3 85.2h0M416.4 52.5h0M514.3 62.1h0M498.1 62h0M490 59.5h0M330.1 53.2h0M438.3 66.6h0M331.5 50.8h0M398.2 31.7h0M357.6 56.3h0M428.5 55.9h0M367.2 46.3h0M389.7 43.3h0M486.4 90.6h0M491.4 59.8h0M487.1 59.3h0M482 71.7h0M398.4 36.1h0M328.1 55h0M333.1 54.7h0M448.2 64.9h0M533.8 60.2h0M433.1 58.6h0M422.7 56.6h0M510.7 58.6h0M402.4 57.4h0M369.2 41.5h0M530.7 59.7h0M320 58.4h0M437.9 61h0M358.6 54.6h0M374.6 57.2h0M528.3 66.1h0M468.9 61.8h0M441.4 58.6h0M343.2 52.5h0M525.2 58.6h0M416.3 51h0M341.8 53.1h0M441.1 58.6h0M338.2 57.5h0M508.8 83.7h0M409.7 50.3h0M384.1 44.8h0M375.6 39.8h0M365.7 44.2h0M362.4 58h0M453.3 75.5h0M356.9 57.2h0M440.8 67.1h0M514.1 58.6h0M483.5 68.8h0M439.4 63.7h0M414.9 57h0M396.4 50.4h0M375.5 29.5h0M412.4 54.2h0M538.8 59.4h0M441.6 58.7h0M384.3 36.6h0M379.8 26.4h0M418.3 57.8h0M419.9 58.3h0M396.5 54.4h0M441.6 60h0M484.1 67h0M475.2 58.6h0M480.9 60.7h0M435.8 60.3h0M504.1 61.8h0M337.9 57.1h0M448.2 59.1h0M504.4 60.7h0M482.5 64.4h0M532.1 60.8h0M350.9 56.4h0M465.9 61.9h0M494.5 58.6h0M408.7 36.5h0M375.3 55.1h0M418 58.1h0M502.5 72.5h0M369.4 56.1h0M494 77h0M485.4 68.6h0M441.5 58.9h0M434.2 61.3h0M529.4 58.8h0M348.9 58.6h0M333.8 52.5h0M435.2 61.7h0M338.2 56.2h0M376.4 53.5h0M348.9 58.6h0M529.7 58.9h0M432 59.5h0M377 56.9h0M391.9 55.8h0M360.5 33.7h0M401.4 58.6h0M359.9 58.1h0M506.2 61.2h0M443.8 72.2h0M343.3 54.5h0M508.5 62.9h0M419.7 58h0M326.8 57.8h0M487.8 65.9h0M466.4 84.9h0M431 58.6h0M411.7 56.1h0M481.6 58.6h0M536 58.7h0M430.7 58.6h0M518.6 63.9h0M441.3 68.4h0M372.7 28.2h0M478.1 59.6h0M494.2 65.8h0M347.5 54.2h0M367.2 51.5h0M345.3 58.4h0M327.8 54.6h0M394.3 57.1h0M428.8 58.2h0M448.2 72.2h0M429.5 58.5h0M503.1 58.7h0M358.7 40h0M531.9 58.7h0M487.7 88.3h0M330.8 55h0M332.2 56.1h0M343.7 51.7h0M455.9 68.8h0M444.9 65.8h0M376.3 52.2h0M469.4 81.7h0M394.9 28.9h0M494.6 61.8h0M482 86.6h0M371.5 29.7h0M335 45.8h0M455.8 59.7h0M338.3 58.6h0M445.8 72.3h0M468 62.4h0M352.7 54.8h0M490.4 60h0M408.7 58.5h0M459.3 60h0M434.4 62.9h0M478 74.1h0M429 58.2h0M435.4 61h0M424 56.8h0M354.6 51.2h0M459.5 61.3h0M324.8 53.8h0M412.2 38.6h0M492.3 63.6h0M509.6 81.1h0M507 74.1h0M484.2 72.6h0M534.7 63.2h0M539.2 60h0M408.9 48h0M469.4 82.1h0M354.3 54.4h0M459.4 59h0M392.6 44.4h0M513.7 58.6h0M349.4 50.7h0M355.5 55.9h0M462.8 60.4h0M443.7 58.7h0M457.5 65.9h0M451.5 68.2h0M329.8 53.6h0M452.4 58.9h0M417 48.5h0M363.1 24.5h0M502.9 77.2h0M482.6 75.9h0M464.9 59h0M411.5 44.1h0M354.8 47.8h0M319.5 58.6h0M512.8 58.7h0M423.8 54h0M427 54.6h0M385 42.9h0M412.2 57.2h0M458.5 73.3h0M417.6 52.7h0M501.6 58.7h0M362.2 55.7h0M346.8 52.9h0M509 68.8h0M363.4 58.6h0M387.9 55.5h0M483.6 60.9h0M325.9 56.6h0M434.8 61.4h0M391.1 33.5h0M527.8 59.2h0M436.5 59.3h0M433.7 60.9h0M462.6 67.2h0M497.3 76.7h0M384.3 45.1h0M324.9 56.7h0M450.4 60.7h0M418.8 54.1h0M366.5 54.3h0M479.2 86.2h0M482.6 78.9h0M537.1 58.7h0M529.7 59.8h0M371.7 58h0M405 56.4h0M485.3 60.1h0M323.6 57.9h0M502.3 88.4h0M465.2 59.9h0M387.9 56.9h0M514.6 68h0M423 52.7h0M372.3 58.6h0M499.8 59.4h0M522.9 62h0M351.9 38.8h0M529.6 58.7h0M356.9 46.8h0M472 60.7h0M428.7 58.5h0M513 58.8h0M539.6 58.6h0M342 56h0M420.6 58.3h0M511.6 62.8h0M409.5 58.6h0M357.7 51.5h0M426.9 57h0M329.3 56.4h0M358.9 39h0M508.9 62.1h0M505 60.7h0M498.4 59.4h0M332.8 50.2h0M464.4 58.6h0M420.2 58.6h0M467.7 61.9h0M395.1 58.6h0M385.2 53.6h0M525.5 63.9h0M472.8 58.8h0M459.8 60.6h0M433 61.3h0M385.2 57.4h0M417.2 57.7h0M517.4 58.6h0M508.3 83h0M341.6 55.3h0M494.2 77.1h0M468.2 58.8h0M464.8 73.9h0M390.7 58.5h0M528.2 65.8h0M445.1 63h0M506.9 73.2h0M337.9 43.5h0M431.6 59.4h0M372.9 55.4h0M410.9 58.3h0M393.2 58.5h0M443.3 62h0M349 58.3h0M418.6 53.2h0M391.2 51.7h0M471.3 71h0M374.6 41.5h0M395.9 47.5h0M377.1 57.8h0M528.1 59h0M340.8 54.4h0M361.2 40.2h0M514.1 58.9h0M402.7 39h0M486.1 89.8h0M337.1 57.7h0M350.9 48.8h0M453.5 58.6h0M356.2 57.6h0M373.2 40.4h0M400.5 29.1h0M458 58.6h0M356.2 40.6h0M334 50.4h0M406.4 40.4h0M469.3 71.1h0M498.8 60h0M445.5 58.8h0M391.1 51.9h0M525.1 58.9h0M389 47.8h0M490 83.9h0M488.6 59h0M466.3 71.9h0M437.2 65.6h0M365.9 41.5h0M445.5 62.7h0M321.5 58.4h0M530.6 58.9h0M436.1 62.8h0M425.8 58.4h0M530.4 62.9h0M509.4 60.2h0M385 21.7h0M527.1 58.8h0M522.2 65.1h0M356.9 32h0M415.1 43.1h0M405.3 57.8h0M443.4 62.5h0M464.4 59.3h0M409.4 57.4h0M466.9 64.1h0M457.6 80.2h0M430.6 59.2h0M325.6 54.2h0M378 57.1h0M403.5 33.1h0M478.2 62.7h0M399.9 49.4h0M375.9 56.4h0M328.7 51h0M476.9 58.6h0M401.6 42.4h0M436.2 64.7h0M514.6 58.6h0M465.6 60.2h0M373.9 30.6h0M381.6 49h0M457.9 81h0M503.7 68.7h0M359.7 39.8h0M412.2 55.1h0M365.4 56.2h0M345.9 58.5h0M473.5 58.6h0M409.1 52.9h0M410.8 49.9h0M506.7 65.8h0M322.6 58.2h0M370.3 48.6h0M331.5 53.4h0M323.9 56.9h0M437.3 60h0M391.3 57.7h0M470.4 58.6h0M362.2 55.1h0M348.3 58.1h0M482.6 59.2h0M330.8 56.8h0M441.9 58.9h0M331.1 54.1h0M527 62.4h0M517.6 60.8h0M332 55.7h0M528.9 59.9h0M442.8 59.2h0M483.7 58.6h0M506.8 72.8h0M420.1 57.1h0M421.3 47.6h0M393.7 54.8h0M455.8 60.8h0M326.5 57.2h0M471.4 87.5h0M482.2 59.1h0M473.1 59.1h0M457.1 58.8h0M391 30h0M471 62.5h0M405.2 50.5h0M462.3 59h0M375.4 27.7h0M378.3 58.5h0M464.1 64.3h0M357.7 44.7h0M504.7 75.3h0M501.7 70.9h0M442.2 61.4h0M377.1 46.4h0M395.8 58.2h0M352.5 47.5h0M485.1 63.1h0M531.9 63h0M345.6 38.5h0M335.5 45.5h0M415.9 58.3h0M535.3 60.1h0M365.6 55.3h0M365 46.8h0M408.5 57.1h0M393.9 57.8h0M378.5 54.4h0M447.2 63.9h0M343.5 57h0M339.5 58.6h0M428.8 56.5h0M530 58.6h0M363.1 47.4h0M370.3 58.6h0M369.7 56.7h0M338.2 55.4h0M341.2 51h0M390.3 56.6h0M383 58.6h0M450 59.3h0M355.8 52.2h0M521.6 76h0M445.9 61.8h0M498 86.8h0M347.7 34.5h0M500.9 62.9h0M410 44.3h0M393 57.8h0M514.7 58.6h0M417.2 50h0M384.7 34.4h0M408.4 56.7h0M450.6 64.2h0M373.3 58.1h0M431.1 59.2h0M392.4 23.6h0M347.8 50.1h0M325.9 54.5h0M502.4 58.7h0M518.9 66.2h0M382.7 33.9h0M489.1 63.1h0M410 39.5h0M397.4 51.7h0M383.2 29.1h0M392.8 55.5h0M398.2 58.6h0M345.8 39.7h0M502.3 64.5h0M413.7 50.6h0M362.3 38.4h0M411 58.1h0M425.4 56.6h0M486 78.6h0M355.5 44h0M430.5 58h0M489.3 59.7h0M500.3 90.1h0M353 42.1h0M400.5 57h0M475.5 83h0M394.7 56.2h0M466.2 62.2h0M377.8 58.5h0M391.4 46.4h0M336.1 52.6h0M462.3 72.9h0M384.7 39.8h0M338.8 58.6h0M377.8 58.2h0M359.5 52.4h0M402.6 38.1h0M531.5 59.5h0M523.6 71.7h0M505.7 61.5h0M497.3 66.3h0M520.6 58.7h0M357 37.5h0M430.2 57.7h0M494 87.5h0M528.3 61.4h0M455.2 75.7h0M349.5 43.5h0M396.7 49.8h0M361.3 58.5h0M489.6 77.7h0M498.1 82.8h0M407.5 53h0M319.7 58.6h0M524.5 70.8h0M514.9 58.6h0M526 62.4h0M485.4 81h0M539.3 58.9h0M380.1 37.5h0M347.5 44.6h0M504.6 61.4h0M500.3 59.9h0M378.7 42.2h0M452.7 60.1h0M340.1 55.9h0M352.3 53.2h0M535.2 62.1h0M513.2 78h0M358 37.6h0M464.5 63.5h0M477.4 74.4h0M437.3 62h0M430.8 58.6h0M470.7 58.6h0M325.4 58.6h0M533.7 59.2h0M454.9 59.2h0M425.5 57.9h0M381.9 33h0M380.2 58.6h0M456.5 72.5h0M362.3 58h0M475.1 58.6h0M338.5 53.1h0M405.3 47.4h0M382.3 50.3h0M320 58.2h0M474.1 65.5h0M516.8 63.3h0M405.7 48.6h0M373 42.4h0M465.3 58.7h0M344.7 38.2h0M508.6 67.8h0M431.8 59h0M470.8 69.9h0M387.5 37h0M436.5 65h0M445.3 58.6h0M457.4 59.3h0M495.2 77h0M415.2 58.4h0M415.3 53.3h0M414.6 49.6h0M328.3 58.5h0M401.8 42.4h0M525.4 58.9h0M470.5 67.1h0M402.5 58.2h0M501.5 88.3h0M380.3 54.4h0M411.9 58.2h0M383.8 57.9h0M410.1 51.6h0M350.5 54.4h0M446.8 58.6h0M350.8 37.1h0M420.1 55.8h0M488.6 69.3h0M518.6 58.6h0M466.2 66.6h0M404.2 52.6h0M364.6 54.8h0M381.7 41h0M379.8 53.5h0M467.2 74.1h0M490.1 67.5h0M351.2 43.7h0M420.4 57.9h0M487.8 74.8h0M474.5 61.3h0M343.6 39.5h0M447 58.6h0M527.1 64.5h0M510 62.7h0M372.1 52.5h0M506.2 67.9h0M538.1 58.6h0M527 60.8h0M512.4 79.4h0M346.3 41.8h0M416.1 52.2h0M465.7 81.8h0M512.4 60.2h0M504 68.3h0M411.3 48.6h0M398.5 51.3h0M475 69h0M380.8 58.6h0M412.9 58.4h0M508.9 69.7h0M381.8 57.1h0M508 71.4h0M332.3 58.6h0M338.7 55.7h0M400.3 43.3h0M470.5 63.4h0M369 58.1h0M533 61.6h0M452.3 59.2h0M337 58.1h0M371.7 58.5h0M510.4 61.4h0M344.4 50.4h0M324.9 58.5h0M374.4 37.3h0M325.7 57.9h0M364.3 49.8h0M428.3 58.6h0M503.8 66.3h0M421.1 49.7h0M442.8 61.9h0M345 53.5h0M396.2 29.7h0M464 64.7h0M426.5 55.4h0M528.1 65.4h0M412.4 53.2h0M524.6 63.7h0M366.2 58.5h0M470.1 61.7h0M490.4 65h0M534 60h0M357.7 51.8h0M456.9 68h0M526.1 69.3h0M430.3 58.3h0M537.9 61.2h0M520.7 71.3h0M385.2 48.6h0M427.6 57.8h0M391.6 44.2h0M498.5 61.8h0M331.7 58.6h0M472.4 64.5h0M320.5 58.4h0M331.9 56.1h0M492.3 78.9h0M366.8 48.9h0M446.1 59.9h0M522.2 61.9h0M358.8 56.7h0M407 52.9h0M492.2 84.7h0M456.2 71h0M458.4 64.7h0M362.1 56.1h0M436.1 65.2h0M505.9 59.4h0M436.3 60h0M461.6 58.7h0M474.6 66.4h0M400.8 32.3h0M434.1 59h0M398.6 56.9h0M380.8 43.5h0M336.2 58.5h0M516.5 73.5h0M395.7 55.9h0M477.6 59.3h0M365.3 51.8h0M451.9 74.5h0M484.3 81.1h0M474.4 61.1h0M425.2 57.6h0M538.8 60.4h0M353.3 48.3h0M484.6 80.4h0M346.5 54.9h0M430.9 58.9h0M320.9 58.2h0M333.3 56.8h0M519.6 62.5h0M484.2 86h0M327.9 56.1h0M338.1 58.4h0M343.1 53.1h0M506.6 66h0M425.7 53.2h0M504.7 58.7h0M453.2 63.3h0M490.1 70.4h0M348.6 54.8h0M479.6 67.4h0M385.2 52.7h0M460.9 65.4h0M353.3 33.3h0M392.5 57h0M497.4 58.8h0M336.2 57h0M353.8 49.3h0M383 53.9h0M366.2 31.2h0M503.9 61.6h0M514.5 62.2h0M503.7 68.4h0M416.6 47.4h0M459.9 73.2h0M446.3 69.8h0M462 59.2h0M456 65.5h0M524.5 60h0M463.8 60.2h0M326.6 58.4h0M486.3 82.6h0M443.2 58.8h0M494.2 58.6h0M394.3 27.1h0M365.6 54.3h0M432 60.7h0M369.9 38.6h0M450.4 68.1h0M440.3 67.1h0M472.9 91h0M325 57.3h0M494.4 59.8h0M346.4 54.9h0M425 55.4h0M412.3 50.2h0M537.2 58.9h0M496.5 70.6h0M522.3 61h0M379 49.2h0M430.8 58.7h0M513.7 62.6h0M509.8 59.4h0M451.1 73h0M431.2 58.7h0M375.5 55.1h0M437 59.1h0M511.7 60.8h0M479.3 91.5h0M501.9 85.2h0M453.7 75.8h0M340.9 50.7h0M361 58.1h0M413 45.4h0M517 79.3h0M425.5 56.8h0M527.7 59.7h0M425.6 58h0M482.2 65h0M473.3 61.3h0M322.2 56.9h0M415.8 53.1h0M446.7 64.6h0M537.9 58.6h0M500.8 63.1h0M372.4 42.9h0M385.1 56h0M427.9 57.9h0M399.5 55.5h0M400.7 58.4h0M445.4 59h0M330 56.6h0M414.7 53.6h0M335.6 47.8h0M323 58.3h0M508.6 66.2h0M333 46h0M465.4 77.8h0M490.9 58.7h0M337.7 58.5h0M337 56.5h0M326 56.7h0M513.9 60.8h0M425.6 56.4h0M352.7 57.5h0M536.9 58.7h0M456 58.6h0M515.8 58.7h0M341.3 57.2h0M449 60.6h0M487.6 59.8h0M418.2 55.6h0M429.5 58.2h0M331 58.6h0M367 50h0M376.5 37.7h0M417.7 58.4h0M322.9 57.2h0M338.9 54h0M450.4 60.6h0M538.3 58.9h0M376.6 49h0M436.7 59.7h0M429.8 57.9h0M491 66.8h0M437.8 63.7h0M433 59.6h0M328.7 50h0M322.8 56.5h0M418.1 51.7h0M346.9 52.5h0M390.5 49.6h0M352.7 47.1h0M495.6 71.9h0M384.5 55.8h0M463.6 67.6h0M451 58.8h0M474.8 59.2h0M380 56.9h0M355.3 57.6h0M512.8 64.1h0M429 56.5h0M478.6 83.3h0M418.1 52.8h0M325.4 56.6h0M346.8 56h0M352.2 55.8h0M326.6 56.4h0M478.5 77.8h0M532.8 58.9h0M409.1 55.3h0M535.1 63.7h0M344.4 51.9h0M397 38.7h0M453.1 81.8h0M462.9 61h0M325.9 56.4h0M518.2 61.7h0M540.4 58.7h0M385.1 52.5h0M385.2 39.8h0M459.8 76.3h0M412.4 54.2h0M435.2 58.9h0M511.4 58.7h0M462.3 84.4h0M345.7 44.1h0M392.8 47.2h0M511.5 75.9h0M526.7 61.5h0M387.8 54.9h0M336.7 58.5h0M493.2 76.9h0M367.9 55.6h0M369.6 58.2h0M411 57.8h0M337.9 56.1h0M470 58.6h0M510 60.1h0M394.3 49h0M469 64.7h0M349 43.4h0M399.3 50h0M354 45.8h0M342.7 46.4h0M380.6 54.9h0M401.2 57.6h0M324.6 57.4h0M462 72.6h0M462.5 60.6h0M383.4 37.2h0M415.9 58.3h0M380 29h0M342 41h0M531.3 58.8h0M526.5 62.1h0M421.7 58h0M501.6 59h0M432.2 59h0M532.1 60h0M455.6 61.1h0M510.4 65.9h0M443.9 59.3h0M443.8 63.3h0M458.7 60.7h0M506 58.6h0M346.9 38.5h0M478.3 80.8h0M478.2 60.7h0M541.3 58.6h0M397.8 37.4h0M472.3 66.5h0M401.7 53.8h0M451.3 75h0M321.2 58h0M501.9 63h0M361.7 58h0M427.9 58.4h0M355.6 52.4h0M529.3 61.1h0M480.3 78.2h0M510.9 60.2h0M487.8 62.6h0M518.9 70.5h0M465 67h0M338 58.6h0M335.2 58.3h0M486 61h0M383.5 28.9h0M478.3 94.3h0M416.1 57.1h0M508.9 60.7h0M394.8 41.6h0M339.8 57.8h0M505.5 65.7h0M386.4 45.3h0M407.6 41.4h0M491.9 66.3h0M375.2 55.4h0M528.1 70.5h0M325.9 55.3h0M488.5 65h0M509 65.3h0M457.8 66.8h0M362.7 56.9h0M342.8 56.2h0M490.8 82h0M481.6 59.9h0M492.9 58.6h0M536.6 61h0M453.8 64.4h0M529.9 58.6h0M538.3 58.8h0M450.2 60.5h0M491.2 58.6h0M355.9 52.3h0M541.3 58.6h0M429.7 58.6h0M430.9 58.7h0M471.8 85.7h0M509.6 60.1h0M381 54.1h0M486.6 84.4h0M504.3 63h0M407.5 50.1h0M417.1 56.5h0M515.4 66h0M393.8 55.7h0M498.5 71.5h0M517.2 59h0M400.4 34.3h0M389.7 49.9h0M361.1 36.2h0M364.3 42.3h0M510.8 65h0M381.5 29.4h0M379.4 53h0M464.1 68.5h0M382.4 54.8h0M382.3 25.7h0M526.3 72h0M539.3 59.5h0M489 73.5h0M493.8 58.6h0M402.5 58.1h0M397.1 58.5h0M501.3 63.3h0M436.4 61.3h0M366.1 58.6h0M391.8 25.7h0M481.1 59.3h0M405.5 36.3h0M499.4 62.9h0M369 23.2h0M319.9 58.5h0M351.3 30.3h0M343.3 45.6h0M361.3 53.4h0M536.6 59.2h0M464.4 62.1h0M415.8 51.4h0M351.2 55.9h0M499.4 59.3h0M461.4 61.6h0M377.8 48.6h0M426 58.6h0M507.8 65.3h0M533 65.8h0M530.7 65.2h0M449.5 58.8h0M437.2 63.3h0M412.7 53.8h0M321.3 57.9h0M385 54.7h0M502.9 76.8h0M399.5 55.2h0M465.4 58.6h0M537.4 59.6h0M495.6 69.9h0M389.9 47.5h0M372.2 30.1h0M525 60.3h0M366.4 39.7h0M478.1 86.2h0M461.2 60.3h0M444.6 63.9h0M388.6 58.3h0M535.9 62.1h0M490.6 72.4h0M411 53.8h0M356.1 52.6h0M410.2 57.8h0M329.5 58.1h0M360.8 33.4h0M372.3 55.9h0M354.2 56.6h0M438.6 59.3h0M351.7 54.5h0M339.5 53.4h0M334.9 55.3h0M515.9 60.1h0M337.1 57.8h0M532.6 65.4h0M525.9 65.4h0M432.9 61.4h0M516.2 64h0M324.6 58.4h0M486.9 60.4h0M437.3 62.1h0M455.4 59.4h0M541.6 58.6h0M355.1 49.3h0M388 43.9h0M472.1 79.6h0M359.5 40.6h0M523.9 60.2h0M355.6 53.1h0M406.8 58.3h0M485.8 61.7h0M512.2 59.2h0M494.5 58.6h0M501.4 62.6h0M410 45.9h0M403 47.2h0M440.8 67.5h0M358.3 50.6h0M438.6 59.4h0M442.5 66h0M390.6 58.6h0M351.8 51.2h0M339.5 42.2h0M399 42h0M439.6 61.4h0M538.1 61.1h0M363.1 53.6h0M324 58h0M386.1 51.3h0M423.7 57.7h0M448.1 59.2h0M394.5 53.3h0M522.5 61.2h0M367.2 46.7h0M377.9 42.6h0M376.7 55.8h0M534.4 59.8h0M425.7 57.4h0M397.7 39.7h0M330.7 48.3h0M405.2 57.7h0M498.1 68.1h0M505.8 74.7h0M530.8 63.6h0M363.7 57.8h0M328.1 53.5h0M359 47.2h0M334.9 58.4h0M511.5 65.3h0M383.3 57.1h0M505.2 82.9h0M383.7 46.5h0M342.5 42.9h0M379.8 57.7h0M455.5 79.2h0M535.5 62.8h0M460.9 59h0M497.9 63.2h0M433.3 58.7h0M524.6 58.8h0M510.1 69.7h0M539 60.6h0M507 72.4h0M474.5 61.6h0M504.2 71.2h0M518 69.8h0M470 74.4h0M337 58.2h0M416.8 57.4h0M534.4 63.3h0M473.2 64.9h0M408.1 36.4h0M516.5 70.8h0M399.3 28.4h0M406.7 42.5h0M438.7 59h0M469.8 71.4h0M446.3 58.6h0M393.5 57.7h0M444.4 62.1h0M397.7 53h0M468.3 88.7h0M443.4 62.6h0M343.4 37.8h0M459.6 64h0M528.2 63.1h0M457.8 68h0M335.8 51.2h0M442.2 59h0M355.8 52.3h0M412.3 48.9h0M356.2 56.4h0M523.3 64.7h0M491.3 71.2h0M446.3 58.8h0M385.6 49.9h0M342.4 52.1h0M477.2 67.3h0M373.2 39.8h0M521.3 74.1h0M514.5 68.7h0M355.6 58.5h0M540.9 58.7h0M534.7 58.6h0M337 57.7h0M432.9 59.3h0M384.2 26.5h0M459.2 75.3h0M506.2 64.3h0M378.3 58.2h0M335.1 56.3h0M400.9 35.8h0M363.6 50.4h0M477.1 69.9h0M385 55.6h0M452.5 58.7h0M344 54.6h0M379.4 50.8h0M490 66.4h0M504.1 71.1h0M442.2 58.7h0M447.5 66.2h0M332 58.5h0M450.9 70.3h0M449.3 62.5h0M368.5 53.2h0M480.4 66.8h0M347.4 55.5h0M437.7 58.7h0M340.1 43.2h0M507.5 64.3h0M408.9 55.9h0M533.4 64.8h0M419.4 44.8h0M491.6 74.7h0M431.2 59.6h0M330.5 50.1h0M390.1 55.8h0M449.9 64.7h0M495.6 61.4h0M333.7 58.4h0M432.5 61h0M491.4 66.8h0M367.8 58.5h0M396.2 55.7h0M383.3 56.6h0M484 74.4h0M383.2 55.1h0M521.2 68.7h0M504.2 77.2h0M441.3 61.8h0M536.7 60.5h0M390.3 29.1h0M322.3 56.7h0M470.7 74.7h0M500.1 88.1h0M528.6 59.4h0M357 55.4h0M327.2 54.9h0M450.7 69h0M407.9 54.9h0M370.7 39.3h0M468 61.7h0M435.8 61.2h0M455.6 65.4h0M524.4 62.8h0M510.4 79.8h0M358.8 57.3h0M333.7 56.5h0M463.1 88.5h0M321.7 57h0M366 50h0M523.2 59h0M406.2 54.1h0M482.1 60.4h0M465.8 85.5h0M344.3 56.1h0M484.8 59h0M486.6 78.2h0M322.7 57.7h0M532.1 58.8h0M342.4 57.6h0M425 58.5h0M426.4 58.2h0M424 52.8h0M540.1 59h0M358.1 41.4h0M498.9 62.3h0M514.7 60.9h0M351.6 43.9h0M320.1 58.4h0M376.9 57.5h0M329.3 50.4h0M334.5 52.5h0M503.4 69.4h0M325.3 56.2h0M378.5 41.3h0M336.6 58.4h0M350.9 58.4h0M439.8 60.8h0M521.3 59h0M513 69.5h0M344.7 58.4h0M504.4 66.9h0M512.4 69.3h0M374.8 51.8h0M365.6 57.3h0M400.6 43.8h0M492.5 61.6h0M539.7 58.9h0M439.4 64h0M409.5 50.8h0M399.9 47.6h0M419.2 58.3h0M373.7 52.9h0M476.1 61.4h0M448.8 76.9h0M396.9 56.8h0M476.1 59.1h0M492.9 72.9h0M361 41.5h0M406.1 58.5h0M458.1 62.2h0M485.2 72.8h0M334.2 52h0M343.1 58.6h0M492.3 74.8h0M488.1 61.9h0M366.3 56.2h0M405.9 54.4h0M470.9 91.9h0M432.5 60h0M493 65h0M365.3 53.2h0M412.9 48.1h0M392.5 54.6h0M505.4 61h0M392.9 49.2h0M480.9 69.9h0M416.3 42.8h0M359.6 47h0M458.9 60.8h0M355 56.9h0M345.7 54.7h0M510.3 59.9h0M518.6 64.3h0M396.8 56.1h0M400.5 58.2h0M453.6 72.4h0M456.8 67.7h0M449.5 60.5h0M378.7 54.7h0M494.9 72.8h0M386.5 45h0M513.1 59.8h0M529 69.7h0M379.9 36h0M453.9 73.6h0M476.1 73.4h0M370.2 42.3h0M533.8 62.9h0M418.6 58.6h0M433.2 59.1h0M397.4 46.7h0M407.7 57.8h0M339.1 58.5h0M527.8 60.3h0M514.4 58.6h0M490.3 79.4h0M541.2 58.8h0M512.2 59.2h0M456.4 73.6h0M324.9 58.6h0M532.6 60.3h0M492.6 68.5h0M437.3 63.9h0M431 59.3h0M459.4 68.4h0M480.9 65.1h0M441.4 72.7h0M398 57.7h0M336.9 50.6h0M407.9 58.6h0M340.6 58.6h0M404.1 55.7h0M513.5 79.6h0M497.2 84.1h0M432.4 59.1h0M473.1 95.3h0M414.6 39.8h0M444 58.7h0M516.6 60.3h0M531.8 61.8h0M381.7 26.7h0M489.9 80.1h0M404.3 58.6h0M420 53.8h0M408.5 45.4h0M355.5 50.4h0M369.9 58.3h0M514.3 59.4h0M447.1 59.7h0M354.4 57.3h0M538.4 61.1h0M492.3 90.5h0M489 58.7h0M440.1 59.3h0M452.8 65.5h0M351.8 50.7h0M359.6 48.2h0M467.1 63.5h0M467.8 63.9h0M407.5 53.4h0M500.6 70.3h0M369.6 54.3h0M354.6 35.9h0M332.9 52.5h0M526.8 60.8h0M437 60.5h0M447.7 71.9h0M464.6 67.4h0M346 45.7h0M515 59.3h0M536.5 60.9h0M372.4 54.5h0M371.7 48.1h0M508.6 63.4h0M432.4 59.5h0M362.5 56.2h0M535.3 63.2h0M505.5 64.6h0M402.2 41.1h0M459.3 70.7h0M481.3 61.1h0M399 31.9h0M449.5 58.7h0M403.6 57.4h0M507 63.9h0M370.1 40.7h0M419.5 53.5h0M332.1 49.9h0M452.4 62.8h0M332.7 56h0M395.3 45.1h0M488.2 72.9h0M440.3 61h0M395.7 29.1h0M428 58.1h0M345.4 37h0M375.6 54.5h0M523.6 63.3h0M350.9 50.3h0M494 59.9h0M483.8 70.1h0M460.7 58.8h0M492.4 67.1h0M349.2 58.5h0M399.3 55.7h0M395.7 52.1h0M369 39.7h0M371.6 47.7h0M387.4 48.3h0M533.4 59.3h0M404.4 54.1h0M495.3 59.6h0M485.9 60.1h0M484.2 58.7h0M428.5 57.3h0M432.4 61.1h0M359.8 54.3h0M516 65.1h0M402.8 48.5h0M477.8 59h0M512.5 58.6h0M446.4 70.9h0M400.4 45.7h0M513.7 72.5h0M341.2 58.6h0M487.3 58.6h0M383.8 40.9h0M475.2 59.9h0M368.1 35.3h0M516.8 71.4h0M424.7 57.5h0M344.9 55.9h0M498 69.2h0M396.1 51.4h0M340.9 54.7h0M506.9 84.4h0M338.3 58.4h0M365.4 35.9h0M362.2 50.5h0M409.7 37.9h0M535.8 63.8h0M335.6 52h0M538.6 60.2h0M380.9 49.5h0M412.4 50.9h0M495 59.1h0M508.9 72.1h0M348.3 55.4h0M473 63.7h0M419.7 55.5h0M338.1 57.6h0M541.2 59h0M410.9 56.1h0M474 94.7h0M485.4 59.3h0M373.2 41.1h0M382.6 54.4h0M406.4 57.1h0M515.7 70.4h0M505.4 82.9h0M464.7 72.4h0M396.2 57.4h0M389.1 40.5h0M398.7 34.1h0M405.4 56.6h0M422.6 54.1h0M409.4 56.9h0M395.1 57.6h0M486.7 68.4h0M514.6 64.6h0M513.7 59h0M353.6 56h0M448.4 63.7h0M358.1 45.2h0M514.6 81.3h0M432.7 60h0M322.6 57.6h0M500 71.1h0M468.8 92.1h0M345.5 56h0M510.4 69.1h0M333.1 57.7h0M518.3 69.1h0M541.3 58.7h0M418 43.2h0M452.8 60.4h0M406.4 53.7h0M425.9 56.3h0M503.6 81.2h0M495.1 65.5h0M411.3 57h0M504.8 58.8h0M390.9 51.7h0M494.1 62.4h0M389.5 42.6h0M504.5 74.5h0M378.4 38.7h0M434 58.8h0M359.7 57.9h0M335 53.1h0M411.1 51.7h0M337.3 58.2h0M350.8 58.6h0M403.4 47.7h0M489.1 86.3h0M401.1 37.9h0M328.3 56.6h0M413.9 53.4h0M413.3 46.6h0M374.9 33h0M394.6 58.2h0M425.1 56.7h0M433.9 58.6h0M454.5 60.5h0M529.3 58.6h0M529.8 67.3h0M471.4 75.6h0M401.3 48.7h0M322.9 56.2h0M417 55.5h0M380.7 28.3h0M457.3 58.6h0M366.4 47.5h0M453.6 58.7h0M378 33.2h0M356.8 51.3h0M331.8 57.3h0M426.1 55.9h0M347.2 44.4h0M362.3 57.3h0M380 55.5h0M354.5 49.8h0M322.4 58.4h0M346.8 53.6h0M481.5 59.5h0M413.1 46.1h0M469.2 67h0M473.7 67.6h0M453.6 58.6h0M445.7 64.4h0M507.7 58.8h0M337.3 58.5h0M389.3 30.9h0M320.6 58.5h0M419.3 58.5h0M512 59.2h0M435.3 59.3h0M509.1 58.6h0M455.7 62.7h0M329.6 55.7h0M338.7 57.1h0M468.2 79.7h0M531.5 60.1h0M354.5 58.5h0M525.1 59.7h0M473.1 58.9h0M350.2 34.4h0M385.7 34.1h0M507.6 67.9h0M510.8 69.1h0M472.5 64h0M530.5 60.2h0M493.1 65.1h0M525.8 65.2h0M406.1 55.2h0M417.2 55.5h0M391.6 58.2h0M367.6 56.1h0M387 43h0M351.5 54.3h0M529.9 59.2h0M457.7 58.7h0M531.5 59.8h0M350.4 58.6h0M458.7 58.9h0M418.7 58.1h0M522 68.5h0M323.6 58.5h0M454 78h0M435.9 63h0M331.6 56.5h0M424.7 58.5h0M383.7 38.4h0M384.6 20.6h0M328.7 58.4h0M503.3 65.1h0M362.8 46.7h0M521.8 73.4h0M350.3 35.6h0M514.4 59.7h0M533.3 64.9h0M427.1 58.4h0M510.1 72h0M376.9 58.6h0M350.5 50.4h0M483.3 71.4h0M445.8 66.6h0M508.8 58.6h0M442.1 67.1h0M538.5 59.7h0M413.2 58h0M409.9 58.6h0M489.9 58.6h0M540.2 58.9h0M392 29.9h0M374.5 27.8h0M500.3 62.5h0M383.4 54.9h0M354.3 48.9h0M444.7 64.7h0M385.1 40.1h0M343.3 55.9h0M457.3 81.8h0M406.8 52.9h0M342.7 58.3h0M387.9 28.9h0M412.2 57.5h0M352 56.1h0M473.8 58.6h0M330.4 57.3h0M413.1 49.9h0M389.3 36.1h0M523 59.5h0M346.8 49.1h0M336.5 57.5h0M391.9 55.2h0M532.3 62h0M425.7 57.4h0M513.5 64h0M328.9 57.6h0M494.7 59.9h0M477.7 68.9h0M536.3 60.2h0M360.5 55.9h0M344.5 48.9h0M536.1 62.9h0M527 59.3h0M433.7 60.4h0M519.6 61h0M502.1 79h0M447.9 68.4h0M423 55.7h0M325.1 58.2h0M469.4 58.6h0M485.4 67.6h0M450 68.1h0M487.9 77.2h0M426.3 56.8h0M371.9 38.3h0M530.4 63.7h0M337.4 55.6h0M379.5 52.7h0M365.1 23.4h0M454.9 76.1h0M422.4 52.2h0M446.6 65.6h0M423.3 58.6h0M455.3 59.7h0M343.2 57.8h0M401.8 40.2h0M441.1 62.1h0M454.5 64.7h0M416.7 58.4h0M331 54.5h0M475 90.4h0M430.8 58.6h0M533.6 64.4h0M395.8 58.6h0M470.6 65.3h0M328.9 53.7h0M471.9 71.9h0M334.4 56.6h0M455.9 68.3h0M460.5 59h0M477.9 64.5h0M430.7 58.6h0M427.1 53.8h0M345.8 56.3h0M375.5 48.1h0M498.6 58.8h0M531.9 59.3h0M393.8 43.6h0M439 64.2h0M382.6 50.1h0M382.2 42.3h0M495.6 58.9h0M504.9 59.9h0M456.6 67.1h0M512.6 74.2h0M320.6 58.5h0M521.1 58.9h0M342.4 57.1h0M324.4 58.4h0M345.2 58.4h0M375.7 39.2h0M439.6 59.8h0M332.5 53.8h0M522.2 63.5h0M416.5 55.2h0M537.8 58.6h0M477.5 75.3h0M376.6 57.6h0M364.5 50.1h0M501 63.9h0M447.3 68.7h0M340.5 55.4h0M379.3 58.5h0M347.1 51.4h0M451.2 61.9h0M517.5 70.1h0M401.2 49.1h0M325.5 58.2h0M527.9 59.8h0M504 62h0M327.1 58.6h0M381.9 56.6h0M404.6 46h0M538.2 58.7h0M326.7 56.7h0M540.6 58.7h0M457.6 69.2h0M408.3 57.1h0M409.6 48.8h0M467.1 59h0M388.6 36.6h0M386 58.3h0M495.4 62.8h0M391.4 54.1h0M499.5 58.7h0M394.9 43.9h0M471.1 91.4h0M319.7 58.6h0M439.5 59.3h0M417.5 57.8h0M493.4 76.2h0M454.8 67.2h0M465.1 59.4h0M357.9 38.2h0M510.4 65.6h0M502.8 58.7h0M434.5 60.3h0M465.5 63.6h0M379.5 57.9h0M380.5 50.8h0M441.9 66.7h0M417.6 57.4h0M347.5 44.4h0M514.1 72.3h0M478.5 80.2h0M362.3 38.9h0M526.6 64.3h0M446.5 59.2h0M423.8 57.9h0M511.4 67.7h0M342.5 55.4h0M339.8 55.8h0M536.4 59h0M346.5 53.4h0M419.1 57.7h0M536.4 58.7h0M389.5 52.7h0M525.4 69.3h0M355.7 48.1h0M516 59.8h0M319.8 58.6h0M431.8 60.2h0M527.2 63.7h0M492.6 60.6h0M470.8 59.1h0M425.3 58.2h0M491.6 61.9h0M478.5 62.1h0M355.2 58.2h0M478.8 86.1h0M499.6 60.8h0M469.4 61.1h0M371.9 58.4h0M406.3 43.4h0M366.5 58.5h0M402.4 41.8h0M409.8 44.1h0M498.1 60.3h0M485.6 70.5h0M358.6 48h0M498.9 60.4h0M475.1 59h0M393.4 55.9h0M449.1 58.6h0M343.6 54.1h0M356.3 39.4h0M378.3 51.1h0M491.6 89.9h0M360.5 51.7h0M380.8 57.6h0M433.8 60.2h0M411.7 56.9h0M365.8 45.1h0M435.8 60.4h0M541.2 58.7h0M432.1 59.4h0M511.1 68.9h0M505.9 70.2h0M353.4 33.2h0M429.8 58.6h0M416.6 49.3h0M500.9 71.4h0M475.2 61.9h0M459.5 66.7h0M518.6 58.8h0M343.8 57.1h0M345.8 49.2h0M427.3 56.8h0M465 89.3h0M467.5 67.6h0M510.5 59.2h0M358.6 55.4h0M342.8 55h0M397 57.7h0M473.5 58.7h0M386.2 42.5h0M480.6 63h0M440.6 58.7h0M383.7 37.5h0M443.6 63.7h0M422.5 49.5h0M507.2 71.1h0M497.8 84.8h0M370.8 34.9h0M367.7 52.1h0M507.3 58.6h0M508 80.8h0M511.2 76.7h0M402.2 58.5h0M347.8 48.4h0M440.7 59.9h0M531.1 63.3h0M449.8 60.4h0M471.5 80.1h0M326.1 55.6h0M410.6 56.8h0M358.7 56.1h0M337.6 58.6h0M368.2 56.9h0M383.5 50.5h0M430.6 58.6h0M455.6 68.8h0M439.7 58.7h0M398.9 58.5h0M353.4 57.8h0M429.6 56.7h0M519.1 65.6h0M519.1 71.1h0M522.7 59.2h0M517.4 78.9h0M446.9 72.4h0M434.6 61.9h0M368.7 43h0M485 71.5h0M448.7 60.5h0M408.8 58.6h0M333.1 55.9h0M359.6 58.6h0M472.2 66.1h0M434 59.9h0M492 58.6h0M345.1 58.2h0M469.8 71.5h0M514.8 77.8h0M326.3 58.4h0M536.4 60.7h0M332.9 58.6h0M481.2 82.2h0M438.1 58.6h0M388.5 58.2h0M397.5 58.5h0M327.5 57.3h0M487.9 65.1h0M324.3 56.4h0M532.9 58.6h0M535 61.2h0M505.1 61.8h0M347.7 58.3h0M457.4 82.3h0M499.9 59.6h0M409.4 53.7h0M413.6 46.7h0M495.6 58.8h0M324.1 57.9h0M402.9 57.7h0M506.8 73.2h0M497.3 74.4h0M525.2 63.8h0M512.1 62.9h0M364 52.5h0M525 58.8h0M374.7 57.2h0M441.8 59.6h0M447.4 60.8h0M468.4 69.1h0M457.4 83.7h0M370.5 50.3h0M512.5 64.1h0M352.5 43.4h0M484.7 60.6h0M320.4 57.7h0M518.3 58.8h0M514.6 59.8h0M377.6 25.5h0M442.2 59.7h0M426.9 57.7h0M526.5 59.5h0M384.2 45.3h0M336.5 57h0M407.7 53.1h0M388.2 33.9h0M377.7 51.5h0M491.9 59.3h0M404.7 36.7h0M350.7 55.7h0M360.6 58.6h0" stroke="#0000ff" stroke-width="0.7" stroke-linecap="round" fill="none" opacity="0.8"/>
<path d="M319.5 58.6H541.6" stroke="#0000ff" stroke-width="1.5"/>
<path d="M319.50 7.00H541.60V110.20" stroke="#e9e9e9" stroke-width="0.7" fill="none"/><path d="M319.50 7.00V110.20H541.60" stroke="#cdcdcd" stroke-width="0.85" fill="none"/><path d="M319.50 110.20v-2M363.92 110.20v-2M408.34 110.20v-2M452.76 110.20v-2M497.18 110.20v-2M541.60 110.20v-2M319.50 110.20h2M319.50 93.00h2M319.50 75.80h2M319.50 58.60h2M319.50 41.40h2M319.50 24.20h2M319.50 7.00h2" stroke="#c4c4c4" stroke-width="0.6" fill="none"/><text class="t" x="319.5" y="117.9" text-anchor="middle">804</text><text class="t" x="363.9" y="117.9" text-anchor="middle">804.2</text><text class="t" x="408.3" y="117.9" text-anchor="middle">804.4</text><text class="t" x="452.8" y="117.9" text-anchor="middle">804.6</text><text class="t" x="497.2" y="117.9" text-anchor="middle">804.8</text><text class="t" x="541.6" y="117.9" text-anchor="middle">805</text><text class="t" x="317.5" y="112.2" text-anchor="end">-0.03</text><text class="t" x="317.5" y="95.0" text-anchor="end">-0.02</text><text class="t" x="317.5" y="77.8" text-anchor="end">-0.01</text><text class="t" x="317.5" y="60.6" text-anchor="end">0</text><text class="t" x="317.5" y="43.4" text-anchor="end">0.01</text><text class="t" x="317.5" y="26.2" text-anchor="end">0.02</text><text class="t" x="317.5" y="9.0" text-anchor="end">0.03</text><text class="l" x="430.6" y="125.4" text-anchor="middle">star spot position (pixels)</text>
<text class="l" font-size="6.45" transform="translate(302.9 58.6) rotate(-90)" text-anchor="middle">centroiding error (pixels)</text>
<text class="c" x="427.4" y="143.8" text-anchor="middle">(<tspan font-weight="bold" font-size="15.4">b</tspan>)</text>
<path d="M74.90 172.60V276.20M119.20 172.60V276.20M163.50 172.60V276.20M207.80 172.60V276.20M30.60 276.20H252.10M30.60 258.93H252.10M30.60 241.67H252.10M30.60 224.40H252.10M30.60 207.13H252.10M30.60 189.87H252.10M30.60 172.60H252.10" stroke="#f0f0f0" stroke-width="0.6" fill="none"/>
<path d="M219.2 250.4h0M234.3 236.5h0M84.6 212.3h0M183.3 238.2h0M95.4 209.2h0M140 207.8h0M110.4 206.3h0M182.2 241.2h0M247 227.4h0M219.1 231.1h0M94.4 210.9h0M159.6 253.3h0M104.3 209.4h0M209.7 255.4h0M87.5 179.9h0M84.1 215.2h0M131.4 207.6h0M158.1 237.9h0M174.3 257h0M40.9 221.9h0M120.5 206.3h0M124.3 203.8h0M119.7 204h0M194.5 251.3h0M32.2 222.9h0M249.2 225.6h0M110.4 201.3h0M62.6 207.4h0M92.7 213.9h0M41.2 213.4h0M89.7 193h0M145.3 236.5h0M30.7 224.4h0M241.2 228.2h0M157.5 238.6h0M105.1 211.7h0M145.1 242.5h0M61.2 205.3h0M141.1 208.9h0M80.3 215.8h0M40 222.5h0M53 210.4h0M213.1 259.6h0M75.6 196.4h0M196.4 268.3h0M105.6 189.9h0M120.7 210.5h0M172.5 243.4h0M67 215.1h0M99.8 212.8h0M115.6 194.9h0M74.6 190.4h0M167.1 238.1h0M220.9 237.5h0M173.7 259.6h0M212.3 245.5h0M79.5 207.1h0M153.2 240.3h0M69.4 215.3h0M212 239.8h0M96.1 209h0M190.1 238.2h0M71.3 212.7h0M89.7 180.8h0M47 206.7h0M150.2 240h0M143.3 238.4h0M59.7 209.7h0M95.1 191.6h0M237.7 228.3h0M162.5 241.7h0M241.8 226.5h0M74.6 214.6h0M166.3 254.9h0M68.7 209.3h0M211.2 245.9h0M62.4 199.2h0M132.4 205.1h0M88.2 210.5h0M76.6 211.4h0M189.2 240.6h0M194.2 234.8h0M118.8 205.4h0M195 265.9h0M33.8 223.4h0M77.2 211.9h0M204.5 235.5h0M221.8 250.6h0M34 223.7h0M232.8 232.4h0M47 209.7h0M158 244.3h0M113.3 210.7h0M126.5 208.9h0M119.5 193.5h0M149 239.3h0M171.5 242.2h0M134.1 202.5h0M64.8 218.2h0M84.1 214.9h0M97.9 211.7h0M148.5 241.5h0M119.5 206.3h0M85 210h0M157.6 251.8h0M126 206.6h0M31.1 224h0M112.1 201.2h0M221.6 234.9h0M207.5 235.9h0M97 203.5h0M149.1 237.1h0M241 228.3h0M122.6 210.6h0M80.8 178.3h0M225.4 233h0M178.4 253.7h0M183.2 243.1h0M137.7 211.3h0M149.8 241.9h0M159.7 244.3h0M95.6 205.5h0M241.3 227.8h0M194.5 257.2h0M77.3 212.8h0M55.8 206.9h0M169.2 255.3h0M246.1 230.9h0M242.5 228.2h0M133.6 209.9h0M112.2 185.2h0M49 212.4h0M43.9 213.3h0M37.1 219.1h0M103.8 197.6h0M205.4 240.1h0M167.1 239.1h0M77.2 189.6h0M79.5 182.5h0M213 231.7h0M237.3 235.9h0M42.1 222.1h0M228.3 249.4h0M153.8 239.4h0M71.5 206.6h0M152.2 246.2h0M106.8 211.3h0M184.1 243.8h0M89.8 206.7h0M46.9 217.1h0M168.9 240.2h0M223.6 231.4h0M198.9 257h0M133.8 210h0M117.8 209.7h0M151.7 240.8h0M34.8 221.7h0M200 255.7h0M76.4 193.8h0M169.4 238.8h0M62.2 193.9h0M48.5 221h0M194.4 248.7h0M148.5 245.3h0M229.3 239.4h0M49.1 213h0M181.2 236.1h0M140.8 213.4h0M139.2 203h0M245.6 226h0M124.9 203.7h0M79.7 179.2h0M204.2 245.1h0M162.1 254.3h0M170.7 256.4h0M150.1 237.6h0M163.9 241.1h0M161.1 239.3h0M173.9 256.6h0M75.5 215.3h0M128.9 210.8h0M209.3 238.5h0M223.5 239.2h0M211.9 262.9h0M33.4 223.8h0M93.8 177.2h0M91.9 213.7h0M64.8 192.2h0M34.4 223.3h0M158.6 245.7h0M49.7 220.9h0M79.3 213h0M189.9 238.4h0M242.9 231.4h0M31 224.1h0M60.6 196.7h0M202.6 244.2h0M145.6 237.8h0M136.6 202.6h0M140.1 208.4h0M166.6 238.9h0M141.9 243.7h0M37.9 219.9h0M143.2 246.6h0M248.1 226.3h0M51.9 204h0M230.4 241.9h0M70.6 205.1h0M66.6 215.9h0M93.2 204.4h0M157.4 239.9h0M247.8 229h0M221.1 250.6h0M111.2 209.8h0M128.1 210.8h0M152.4 239.7h0M136.3 209.9h0M175.7 242.6h0M31.3 224.1h0M119.2 211.1h0M45.8 220.2h0M59.3 219.2h0M163.4 252h0M170.8 237.7h0M137 210.8h0M107.4 200h0M203.4 233.2h0M138.7 207.7h0M182.6 237.6h0M38.8 222.5h0M160.3 244h0M174.1 236.7h0M219.8 254.7h0M116 195.6h0M147.7 242.4h0M85.7 210.7h0M192.4 234.5h0M134.5 210.6h0M67.1 214.7h0M140.9 205.3h0M192.4 267.5h0M188.7 250.4h0M143 243.3h0M203.9 235h0M190.4 262.9h0M213.3 254.1h0M144.8 236h0M99.8 196.8h0M77.3 202.4h0M110.2 195.1h0M81.6 195.8h0M182.5 239h0M34.5 223.5h0M64.5 196.7h0M63.9 196.1h0M243.5 226.9h0M217.4 253.4h0M33 222.4h0M75.6 208.5h0M178.9 236h0M122.1 201.5h0M182.1 249.7h0M171.4 236.8h0M209.1 252.8h0M44.3 211h0M122.3 209.8h0M137 211.6h0M132.9 210h0M216.2 230.7h0M177 237.3h0M69.7 211.9h0M120 198.2h0M219.9 230.3h0M202.2 262.6h0M35.6 223.3h0M35.7 221h0M163.7 257.1h0M231.3 228.3h0M106.5 196.7h0M64.8 216.2h0M138.9 208.2h0M160.8 238.9h0M212.7 239.1h0M58.1 213h0M46.7 220.6h0M233 228.5h0M245.9 226.9h0M189.4 248.1h0M63.2 190.7h0M98.6 207.9h0M152.4 238h0M32.7 223.5h0M61.9 215.3h0M120.6 202.6h0M214.6 260.1h0M171.2 255.7h0M158.1 240.1h0M233.1 228.5h0M85.3 201.7h0M183.2 237.2h0M201.1 255.9h0M202.9 241.7h0M67 217.8h0M102.2 202.1h0M232.6 235.9h0M126.3 208.6h0M120 195.7h0M242.6 226.4h0M149.5 237.3h0M230.8 230.4h0M131.1 205.6h0M182.5 267.6h0M107.5 196.8h0M113.5 209.2h0M159.2 251.4h0M246 226h0M192.3 239.5h0M169.2 247.5h0M103.3 186.9h0M224.2 239.1h0M81.1 206.2h0M169.9 248.8h0M216.9 232.9h0M67.8 214.5h0M219.5 245.5h0M170.6 237.1h0M128.4 208.2h0M64.6 197.1h0M75.5 203.6h0M246.8 225.5h0M39.1 219h0M194.7 235.8h0M190.4 264.8h0M84.6 214.8h0M118.3 201h0M104.1 194.2h0M165.5 239.6h0M222.6 232.9h0M189.8 260.6h0M142.1 237.8h0M105.2 211.5h0M217.1 242.4h0M203.8 243.4h0M157.8 252.8h0M121.1 202.3h0M70.5 216.5h0M44.5 216.3h0M188.5 264.5h0M133.1 211h0M243.6 226h0M76.5 216.3h0M31.1 224.3h0M203.2 236.6h0M196.6 234.8h0M93.8 212.8h0M218.9 231.5h0M59.1 217.3h0M207.3 248.1h0M66.6 202.3h0M45.5 217.2h0M147.3 246.4h0M219.9 249.5h0M186.2 235.9h0M140.5 207.1h0M242.3 235.4h0M101.4 197.5h0M71.6 209.2h0M140.2 208.8h0M249.7 224.9h0M248.4 225.1h0M129 210.9h0M144 245.3h0M176 253.9h0M97.8 202.2h0M101.6 200h0M237.7 237.5h0M40.9 218h0M204.8 235.9h0M112.7 194.6h0M113.6 207.8h0M161.7 239.9h0M123.8 200.7h0M211.8 259h0M149.4 239.5h0M200.7 239h0M42.5 211.4h0M250.9 224.8h0M81.6 211.5h0M243.4 229.3h0M146.3 237.2h0M191.9 240.7h0M99.3 211.4h0M61.4 216.8h0M182.1 254.2h0M201.7 235.1h0M46.6 219.6h0M251.5 224.6h0M32.9 223.4h0M203.8 239.1h0M220.1 250.9h0M250.6 225.2h0M97.1 200.4h0M31.2 224.1h0M63 218.5h0M50.6 216.8h0M171 245h0M153.4 241.5h0M42.5 222h0M164.6 251.2h0M187.5 247.3h0M47.9 209.6h0M184.7 236h0M143.3 241.9h0M166.3 251.9h0M238 231.6h0M248.6 225.8h0M111.2 212h0M63.3 201.6h0M110.8 197.8h0M44.8 215.8h0M93.8 205.9h0M32.9 222.3h0M217.1 231.2h0M90.2 185h0M57.4 211.1h0M170.1 250.4h0M133.6 206.4h0M186.1 236h0M147.7 242.1h0M128.4 204.5h0M193.9 235h0M174.4 265.1h0M111.8 208.5h0M238.2 230.9h0M41.1 220h0M214.8 231.2h0M74.4 192.9h0M146.8 242.1h0M209.6 252.3h0M153 242.9h0M158.2 245.3h0M83 204.1h0M100.3 213.1h0M240 227.4h0M45.5 219.2h0M224.3 243.5h0M238.5 229.7h0M64.8 213.1h0M244 230.9h0M33 223.9h0M40.5 222h0M133 209.8h0M109 212.3h0M193.4 239h0M239 228.4h0M41.5 221.3h0M179.3 270.4h0M95.3 179h0M193.2 271.7h0M160.3 247.4h0M80.3 215.7h0M204.4 260.4h0M68.9 216.2h0M80.9 185.2h0M232.3 232.3h0M65.5 218.1h0M122.9 210.5h0M40.9 221.7h0M216.2 232.3h0M134.5 210.7h0M108.2 201.6h0M34.5 221.5h0M99.2 211.2h0M91.4 210.8h0M185.9 250.9h0M89.2 214.3h0M101.3 193.3h0M44.2 210.5h0M68.1 211.8h0M78.5 201.3h0M78.7 214.4h0M192.7 237.7h0M30.7 224.4h0M153.7 244.1h0M83 213.8h0M181.4 256.3h0M221.3 235.4h0M144.4 245.5h0M150.5 244h0M231.8 231.9h0M32.2 223.4h0M54.8 214.5h0M43.5 215.9h0M137.2 212.3h0M210.1 231.9h0M110.9 204.3h0M137.6 208.5h0M229.8 241.7h0M192.8 251.5h0M185.1 240.5h0M106 194.8h0M236.6 227.6h0M47.2 221h0M41.8 221.9h0M204.5 249.6h0M229.2 235h0M124.9 210.4h0M240.5 229.1h0M202.4 241.8h0M230.7 234.7h0M205.7 232.5h0M193.6 256.2h0M54.1 220.1h0M89.7 180.2h0M86.8 193.6h0M137.8 212.9h0M144.5 246.6h0M234.8 237.4h0M54.2 216.9h0M246 226.6h0M136.7 209.9h0M244.3 231.2h0M86.5 214.8h0M171.9 236.9h0M174.4 265.8h0M134.1 201.8h0M191.5 259.7h0M175.7 243h0M114.9 208.6h0M44 217.8h0M87.2 206.5h0M198.6 246.3h0M43.4 212.5h0M123.2 204.7h0M118.2 210.4h0M133.3 210.2h0M144.5 242.8h0M129.3 209.4h0M132.1 205.8h0M169.1 250.7h0M243.6 232.9h0M219.9 231.4h0M31.2 223.8h0M51.5 218h0M228.7 229.4h0M176.2 259h0M41.9 220.6h0M71.6 209.5h0M112.2 204.3h0M72.3 215.7h0M121.1 198.3h0M98.4 183.7h0M228.9 241.9h0M78.1 200.6h0M64.7 216.7h0M66.8 213.4h0M189.1 241.3h0M163.2 251.3h0M245.7 227.5h0M139 210.7h0M46.4 212.1h0M196.7 248.3h0M85 196.8h0M195.9 234.3h0M215.2 231.6h0M42.3 212h0M40 222.5h0M249.3 225.6h0M219.2 236.6h0M209.3 260.5h0M150.6 244.5h0M156.5 239.6h0M214.4 233.1h0M67.4 196.4h0M205.9 263h0M195.8 246.6h0M99.4 207.1h0M38.8 222.8h0M204.5 237.9h0M68.8 217.5h0M242.8 229.5h0M90 187.3h0M146.8 245.6h0M247.2 225.4h0M44.5 219h0M228.5 245.6h0M232.6 231.5h0M48 212.6h0M163.9 238.2h0M195.6 236.7h0M179.3 248.9h0M41.6 222.2h0M75.4 213.7h0M107.7 210.2h0M235.7 232h0M49.5 220.9h0M244.8 228.8h0M57.8 217.4h0M34.5 221h0M79.3 215.9h0M67.9 205.3h0M165.5 248.2h0M221.6 249.4h0M93.3 213.6h0M193 239.9h0M37.8 222.6h0M32.2 224.1h0M137.7 211.7h0M45.7 208h0M104.5 208.3h0M76.2 214.5h0M84.7 195.2h0M65.3 215.2h0M240.6 234h0M93.3 201h0M91.9 213.2h0M147.4 245h0M161.7 255.9h0M132 206.3h0M76.5 203.3h0M68.3 191.7h0M59.5 206.9h0M37.3 218.7h0M217.9 235.4h0M45.5 214.6h0M240.9 227.9h0M210.9 231.6h0M210.5 231.8h0M116.7 196h0M51.5 212.2h0M194.7 247.5h0M104.7 193.8h0M217.5 243.1h0M103.1 189.7h0M86.4 214.8h0M83.2 210.7h0M50.3 218.2h0M242.8 226.5h0M58.2 208.3h0M49.7 207.5h0M105.3 211.7h0M183.8 268.4h0M236.9 227.2h0M241.8 227.5h0M92 212.7h0M138.6 201.9h0M157.6 248.9h0M216.6 237.8h0M172.1 237.6h0M174.1 237.3h0M219.2 240.8h0M151.7 244.9h0M107.9 201.3h0M234.7 232.2h0M183.7 256.7h0M248.3 227.8h0M248.3 226.9h0M125.5 201.7h0M231 247.7h0M33.2 223.1h0M170.3 249.1h0M250.5 226.1h0M173.9 240.8h0M90.3 175.6h0M82 214.4h0M143.6 241.6h0M48 220.1h0M33.4 222.6h0M124 210.7h0M105.6 182.1h0M152.8 240.8h0M114.8 190.3h0M85.5 207.9h0M236 228h0M47.9 214.9h0M73.3 212.6h0M49.2 220.6h0M245 229.9h0M147.3 238.1h0M171.4 249h0M90.9 193h0M112 201h0M204.9 234.7h0M176.6 239.6h0M72.3 211.5h0M191.1 241.1h0M50.1 216.7h0M41.3 214.7h0M33.1 221.6h0M119.4 207.7h0M226.6 242.4h0M229.5 231.7h0M58.3 217.8h0M134.5 203.6h0M234.6 227.6h0M67.4 195.9h0M65.9 202.7h0M229.5 238.4h0M123.3 203.8h0M169.2 257.6h0M220.5 249h0M51.7 213.7h0M123.4 210.9h0M53.4 214.5h0M92.1 204.9h0M143 236.4h0M65.9 195.1h0M100.7 203.1h0M115.4 211h0M70.7 212.5h0M70.4 216.7h0M223.1 238.9h0M216 237.4h0M149.9 242.7h0M236 237.2h0M62.6 202.4h0M239.5 227.5h0M73.9 209.1h0M145.8 245.7h0M235.2 234.3h0M47.4 219.4h0M32.8 224h0M162.8 250.6h0M245.5 227.5h0M212.1 254.3h0M80.6 211.6h0M150.9 242.1h0M242.3 232.6h0M204.8 245.7h0M121.9 199.8h0M206.4 240.3h0M127.4 201.8h0M213.7 253.5h0M122.6 207.6h0M56.7 219.3h0M54.7 207.6h0M32.2 223.6h0M90.5 190.1h0M186 245.7h0M88.1 195.4h0M162.1 249.2h0M59.7 209.6h0M72.5 206.2h0M184.9 241.8h0M251.1 225.4h0M209.4 245h0M190.9 249.4h0M60.4 215.7h0M83 188.3h0M243.2 231.4h0M101.8 180.1h0M243.7 227.4h0M60.8 200.4h0M89.8 212.8h0M170.7 237.3h0M80.7 211.7h0M45.8 221.4h0M175.9 262.2h0M74.9 216.7h0M91.7 209.5h0M48.5 218.7h0M187 250.9h0M37.7 223h0M65.9 197.1h0M105.1 201h0M187.7 248.7h0M114.1 209h0M197 269h0M173 236.7h0M60.2 198.6h0M107.9 181.5h0M214.8 252h0M165.8 238.9h0M141.2 203.3h0M38.8 216.7h0M234.8 230.2h0M182.1 238.2h0M79.1 215.4h0M244.4 228.7h0M123 202.6h0M46.5 221.2h0M123.8 196.9h0M112.1 211.1h0M177.4 241.2h0M83.2 212.4h0M69.7 217.5h0M203.9 260.6h0M47 207.3h0M139.4 209.6h0M90.8 182.2h0M98.5 178.3h0M38.1 222.7h0M225.9 241.5h0M86.1 212.3h0M222.8 253.5h0M91.3 212.6h0M251.6 224.6h0M216.3 239.4h0M110.1 192.7h0M173.1 264.4h0M189 248.5h0M172.1 242.7h0M214.5 249.8h0M48.9 220.5h0M209.3 233.1h0M212.9 231.7h0M230.1 241.6h0M78.4 214h0M214.4 246.2h0M56.3 212.1h0M176.3 236.9h0M37 223h0M171.4 254.9h0M243 226.4h0M179.3 242.1h0M100 193.6h0M60.7 215.6h0M216.1 233.1h0M92.4 211.3h0M151 242h0M217.1 246.1h0M93 181.9h0M225.6 247.4h0M147.9 242.3h0M90.5 200.2h0M103.8 201.1h0M81.3 213.9h0M37 221.4h0M195.5 251.2h0M119.1 189.1h0M116.3 189.7h0M140.1 206.7h0M102.5 207.5h0M181.2 236.4h0M152 246.5h0M236 230.3h0M92.8 186.2h0M99.6 203.1h0M117.4 211.3h0M100.6 213.1h0M46.2 219.4h0M197.6 249.3h0M105.5 212.6h0M209.9 254.4h0M82.3 209.5h0M44.9 221.2h0M148.3 241.2h0M138.8 206.1h0M148.1 246.9h0M184.9 266.9h0M167.6 243.1h0M130.4 205.7h0M242.1 226.5h0M135.1 204.2h0M60.1 213.6h0M226.2 248h0M183.1 238.6h0M124.7 210.4h0M159.5 251.4h0M80.6 215.7h0M38.7 221.6h0M62.8 210.4h0M164 237.6h0M106.9 211.9h0M35.1 223.4h0M52.4 215.8h0M103.6 190.4h0M37.7 220.8h0M136.9 208.8h0M180.3 248.5h0M69.9 199.9h0M231.6 228.3h0M140.2 213.4h0M151.8 246.7h0M205.9 247.8h0M192.7 257.5h0M115.5 201.4h0M122.2 210.8h0M178.1 250.6h0M63.5 215.3h0M230.6 247h0M127.2 206.2h0M104.9 186.8h0M139.4 207.4h0M161.6 242.7h0M224.9 229.4h0M90.9 189.2h0M232.7 231.4h0M154.9 238.2h0M228.6 228.9h0M168.7 258h0M209.8 253.2h0M38.4 216.7h0M125.2 202.8h0M66.6 199.9h0M67 217.2h0M154.9 240.7h0M32.4 222.4h0M31.7 223.3h0M170 243h0M65.3 194.9h0M177.6 237.4h0M125.1 200.8h0M228.3 240.2h0M186.3 236.7h0M146.2 240.4h0M73.1 214.5h0M229.3 228.9h0M120.5 200.9h0M249.2 225.2h0M91.4 198.6h0M114.4 205.4h0M181.8 241.8h0M69.7 202.1h0M36.2 223h0M147.5 241.8h0M74.5 193.7h0M214 262.6h0M166.1 237.4h0M79.6 204.8h0M144.2 240h0M231.1 238.8h0M151.5 240h0M144.7 239.3h0M34.3 223.6h0M173.9 239.5h0M141.8 234.8h0M176.1 239.1h0M93.2 208.1h0M241.6 228.9h0M235.7 229.1h0M92.7 213.6h0M123.6 210.9h0M153.6 248.5h0M176.3 238.5h0M64.2 213.6h0M213.9 235h0M244.2 229.4h0M90.9 211.5h0M64.3 203.9h0M135.6 202.2h0M179.2 255.4h0M248.3 227.4h0M129.2 199.8h0M242.4 230h0M61.2 207.6h0M72 208h0M238.6 227.1h0M242.2 234.6h0M31.2 224.3h0M146.7 239.1h0M190.6 264.6h0M195.9 246.5h0M163.2 240h0M115.4 211.5h0M113.5 194.5h0M74.4 216.7h0M125.4 207.8h0M120.1 194.4h0M60.7 194.3h0M251.5 224.6h0M117.9 211.2h0M54.3 219.9h0M180.9 266h0M186.3 235.5h0M225.9 248.6h0M112.6 187.4h0M236.9 228h0M231 240.5h0M221.9 235.6h0M132.2 206.1h0M239.9 227.1h0M220.9 247.7h0M201.3 238.5h0M67.7 202.2h0M140.4 202.4h0M97.4 210h0M237.7 230.3h0M32.7 224h0M193.1 253.7h0M116.6 193.7h0M226.5 232.1h0M192.2 252.3h0M31.4 224.2h0M51.9 220.2h0M46.4 220.8h0M142.7 238.2h0M108.6 193.3h0M216.9 236.2h0M206 238.8h0M106.4 184.7h0M209 232.2h0M208.6 253.3h0M201.5 233.2h0M58.5 203.6h0M199.5 257h0M187.7 235.2h0M169.5 242.9h0M116.5 211h0M219.2 241.4h0M160.1 242.2h0M98.8 211.8h0M195 264.9h0M53.1 217.8h0M143.4 237.6h0M102.4 182.7h0M153.7 249.8h0M218.1 233.4h0M70.7 215.4h0M235.3 228.4h0M213.2 234.1h0M39.4 216.5h0M53.2 213.4h0M54.7 218.2h0M203.2 247.4h0M186.4 236.7h0M231 228.4h0M189.6 243.1h0M226.1 230.1h0M134.3 204.8h0M132.7 210.7h0M153.5 241.6h0M83.5 191.3h0M72 215.7h0M143.7 241.5h0M251 224.8h0M109.2 201.2h0M202.1 234.4h0M159.9 245.2h0M241 227.2h0M163.5 242.4h0M61.3 218h0M223.5 240.7h0M94.8 200.9h0M180.1 236.9h0M51.9 220.5h0M117.1 191.1h0M178.3 241.5h0M129.6 210h0M116 197.7h0M142.1 239.1h0M111.1 208.7h0M242.8 231.4h0M186.9 238.5h0M230.7 234.5h0M215.7 253.7h0M244.3 226.2h0M237.6 228h0M198.1 243.6h0M58.9 197.8h0M215 231.2h0M188.5 235.5h0M222.3 252.5h0M236.8 232h0M33.2 223.9h0M168.3 258.4h0M56.7 206.7h0M50.8 208.7h0M144.2 235.7h0M38.1 218.5h0M74.3 215.8h0M149.3 240h0M198 236.4h0M72.6 184.2h0M166.4 238h0M167.3 261.3h0M35.3 220.3h0M114.5 211.4h0M48.3 220.4h0M70.9 210.4h0M65.5 206h0M51.1 204.5h0M83.7 190.9h0M94.2 211h0M181.4 268.2h0M130.6 208.6h0M160.3 253.8h0M200.2 235.4h0M58.2 197.4h0M76.7 185.1h0M62.5 217.9h0M42.3 215h0M140.7 213.2h0M241.2 226.7h0M204 242.7h0M233.5 235.1h0M47.3 221.1h0M202.7 234.7h0M44.3 218.5h0M206.9 233h0M60 197.6h0M88.2 210h0M178.4 246.6h0M84.3 199.9h0M95.7 204.4h0M39.3 222.7h0M224 236.2h0M55.8 217.8h0M168.1 239.3h0M165.4 238.6h0M179.1 249.7h0M58.3 215.6h0M182.4 269.1h0M172.7 243.3h0M136.8 209.6h0M102.4 212.9h0M249.1 227.1h0M90.9 214.1h0M104.5 207.6h0M53.3 212.7h0M70.5 217.4h0M106.3 209.2h0M91 189.7h0M111.8 189.8h0M57.6 217.6h0M172.1 237.3h0M188.9 236.3h0M37.3 218h0M142.2 238.3h0M223.3 237.2h0M44.5 209.5h0M76.5 211h0M152.8 242.5h0M60 215.7h0M87.7 208.7h0M108.3 185.6h0M179.2 244.1h0M178 240.4h0M76 204.5h0M202.8 257h0M147.3 240.1h0M115.8 206.9h0M228.5 246.6h0M64.3 196.4h0M63.2 218.4h0M187.6 236.4h0M65.3 217.9h0M68 212.6h0M126.5 199.3h0M54 218.5h0M166.2 239.8h0M167.7 238.3h0M54 220h0M50 220.9h0M84.7 204.2h0M50.8 216.8h0M250.2 224.8h0M181.9 255.4h0M177.4 250.2h0M222.6 229.7h0M189.7 236.8h0M169.1 245.7h0M65.4 206.6h0M181.1 240.5h0M198.7 265.3h0M67 202.8h0M49.6 219.3h0M66 192.5h0M180.6 239.2h0M129.9 204.7h0M151.6 246.7h0M200.5 247.4h0M235.5 229.6h0M185.3 249.2h0M134.2 208h0M155 238h0M81 195.1h0M158.2 253.4h0M195.2 254.3h0M212.7 244.9h0M166.9 241.8h0M242.6 226.2h0M159.7 253.7h0M225.7 245.6h0M55.8 219.1h0M184.3 240.3h0M146.5 242.9h0M80.5 206.3h0M78.9 184.5h0M201.5 267h0M135.7 207.4h0M63.3 213.2h0M242.2 234.3h0M98.8 211.3h0M120.1 209.3h0M85.9 212.3h0M137.5 209.7h0M94.6 213.6h0M230.7 228.4h0M237.1 232.5h0M205.9 252.9h0M135.1 211.4h0M152.8 240.8h0M181.5 255.3h0M189.7 241.5h0M130.2 206.8h0M151.1 244.4h0M157.9 242.7h0M168.5 241h0M70.1 215h0M228.8 231.3h0M114.5 194.9h0M164.2 240.2h0M191.6 234.7h0M126.6 198.3h0M89.2 195.5h0M154.7 248h0M48 220.3h0M97.1 200.4h0M138.7 207.2h0M225.8 244.5h0M121.3 200.6h0M204.8 243.7h0M97.2 187.7h0M163.4 253.3h0M217.5 230.6h0M226.6 229.3h0M226.7 239.2h0M219.4 231.3h0M78.6 184.9h0M155.1 240h0M61.4 208.9h0M229 229.6h0M136.9 211.4h0M67.9 216.1h0M219.3 234h0M131.7 208.8h0M206.3 236.4h0M68.9 202.1h0M172.5 250.8h0M141.5 237.6h0M168 237.2h0M145.6 237.7h0M131.5 201.3h0M90.8 211.4h0M82.7 179.5h0M213 250.1h0M190.8 234.8h0M82 215.1h0M125.6 203.9h0M167.6 238.7h0M77.6 208h0M185.3 235.4h0M185 236.1h0M184.1 251.6h0M88.9 202h0M182.1 236.7h0M63.5 203.8h0M54.1 212.1h0M157.1 252.8h0M85.3 209.5h0M103.1 178h0M37.5 223.1h0M87.6 184.8h0M187.9 235.2h0M148.3 245.4h0M239.4 236.7h0M137.7 211.3h0M222.5 233.7h0M104.3 203.1h0M93.1 211.8h0M36.3 218.8h0M137.2 211.4h0M178.1 267.3h0M65.6 214h0M53.8 215h0M58 199.7h0M193.2 241.9h0M201.2 241.8h0M161.9 246.5h0M94.9 211.2h0M68.5 187.4h0M128.1 210.9h0M168 247.3h0M211.2 231.9h0M97 209.7h0M173.1 238.3h0M191.5 254.1h0M166.6 243.7h0M160.5 254.7h0M246 227.1h0M36.4 223.1h0M157.8 249h0M41.7 222.3h0M54.4 219.1h0M120.5 204.2h0M75.5 198.1h0M213.1 231.5h0M234.8 240.2h0M239.6 227.7h0M85.1 209.7h0M127.4 208.5h0M246.9 226.9h0M218 252.3h0M78.8 215.5h0M44.8 210.3h0M188.2 270.7h0M153.1 249.1h0M213.1 256.8h0M133.5 203.4h0M113.7 194.5h0M63.4 209.7h0M218.3 230.4h0M203.3 233.1h0M235.9 229.9h0M186.4 235.8h0M135.9 203.5h0M242.8 230.8h0M83.5 210.6h0M249.6 225h0M34.8 220.9h0M99.2 181.2h0M158.2 239.1h0M85.4 213.2h0M120.5 209.3h0M244 226.1h0M84.5 215.1h0M59.5 212.4h0M189.8 238h0M182.8 235.6h0M76.1 209.8h0M112.1 211.6h0M91.9 203.4h0M220.3 233h0M202.1 234.8h0M44.3 210h0M75.6 191.1h0M247.2 227.9h0M81 215.6h0M229.2 231.2h0M114.3 211.2h0M91.9 199.5h0M239.5 237.6h0M71.9 205.7h0M198 237.7h0M147.3 237.1h0M147.3 244.5h0M60.6 194.2h0M86.5 214.1h0M61.5 194h0M138.8 203.1h0M196.2 255.4h0M168.4 237.7h0M209 254.2h0M105.2 206.1h0M238.1 237.2h0M86.4 213.2h0M94.9 199.3h0M185.8 245h0M179.1 242.1h0M96.5 213h0M66.1 194.8h0M234.3 240.9h0M231.3 233.9h0M200.2 236.2h0M187.2 244h0M208.9 258.1h0M237.5 227.4h0M236.2 238.3h0M137.7 204.3h0M138.4 210.3h0M219.2 242.4h0M243 231.5h0M36.5 218.7h0M37.1 222h0M245.3 225.8h0M124.3 197h0M235.1 237.3h0M202.2 237h0M238.2 235h0M71.3 206.3h0M178.2 247.9h0M59.1 197.1h0M211.1 246.5h0M76.6 212h0M47.5 218.5h0M197.1 252.8h0M187.2 241.8h0M203.2 262h0M91.3 209.8h0M162.3 238.4h0M77.9 203.5h0M83.9 186.4h0M144.2 244.1h0M150.3 243.8h0M112.1 210.9h0M117.9 211.2h0M233.2 229.2h0M67.1 207.9h0M167.2 255.1h0M252 224.4h0M154.4 240.4h0M71.4 195.2h0M75.3 186h0M100.1 212.7h0M137.3 205.6h0M136.4 204.1h0M179.1 262.3h0M34.1 223.4h0M148.6 241h0M30.7 224.3h0M250.6 225.7h0M122.8 202h0M175.3 244.1h0M127.6 210.9h0M248.5 225.1h0M199.2 238.3h0M106.5 186h0M80.6 196.6h0M62.6 192h0M125.1 210.2h0M216.2 234.3h0M45.1 221.2h0M108.2 210.5h0M190.8 263.8h0M115.5 187.8h0M167 258.7h0M195.4 241.8h0M136.9 202.9h0M158.1 246.4h0M47.5 214h0M69.9 215.1h0M62.1 211.6h0M39.4 221.4h0M249.1 226.4h0M135.5 206.8h0M142.2 236h0M160.7 241.4h0M211.6 262.2h0M233.2 229.5h0M126.4 211h0M55.7 211h0M131.2 207.8h0M194.3 237.7h0M238.6 232.4h0M56.5 197.1h0M118.7 210.8h0M180.7 237.9h0M94.9 180.5h0M183.9 250h0M188.2 236h0M191.9 272.9h0M96.7 175.2h0M160.1 245.8h0M30.8 224.3h0M151 237.6h0M94 204.6h0M169.4 247h0M58.6 219h0M167 237.4h0M251.8 224.7h0M67.6 216.4h0M144.5 238.5h0M69.8 194.1h0M166.4 237.8h0M210.1 239.5h0M91.9 195h0M88.3 214.1h0M221.3 234.9h0M155.8 238h0M110.2 197h0M162.9 238.5h0M119.9 193.3h0M164.4 237.7h0M126.7 197.4h0M237.9 229.9h0M58.4 214.2h0M94.7 189.3h0M90.6 210.4h0M184 266.9h0M101.9 205.9h0M97.4 209.9h0M198.2 266.1h0M125.8 209.1h0M133.6 204h0M33.4 223.8h0M171.6 250.5h0M248.1 225.5h0M145.5 236.1h0M245 232.2h0M226.6 240h0M233.7 227.9h0M84.1 208.2h0M140 209.7h0M246.5 227.7h0M123.7 196.4h0M31.1 224.3h0M109 198.3h0M124.6 198.1h0M55 218.2h0M131.8 210.6h0M97 204.9h0M185.3 248.3h0M87.1 181.4h0M231.5 228.1h0M111 188.7h0M216.1 234.7h0M113.8 184.8h0M140.2 207.1h0M49.5 212.6h0M149.7 238.3h0M58.1 208.7h0M238.5 230h0M87.2 195.8h0M162.5 240.9h0M206.9 237.2h0M125.6 206.6h0M186.9 244.7h0M244.7 227.1h0M71.4 213.2h0M138.9 206h0M142.3 242h0M99.1 176.2h0M190.1 238.4h0M143.1 238.9h0M159.8 237.9h0M110.6 211h0M186.9 264.1h0M130.5 202.1h0M80.2 196.4h0M136.9 212.5h0M139.2 211.9h0M186.7 239.5h0M211.5 242.2h0M112.5 211.2h0M87.5 187.1h0M243.4 229.2h0M207.5 238.7h0M179.8 265.4h0M196.2 251.2h0M60.4 206.5h0M75.7 203.9h0M157.7 244.4h0M52.4 213.9h0M239.9 230.3h0M115.7 202.1h0M39.8 218.2h0M152 239.8h0M100.5 208.9h0M130.8 203.7h0M146.4 244.8h0M180 269h0M248.4 225.1h0M59.9 213.6h0M132.8 204.9h0M49.6 219.8h0M147.3 242.4h0M41 219.6h0M42.4 220.1h0M194.4 252.6h0M188.7 238.5h0M122.6 202.3h0M58.4 203.9h0M81.7 212.1h0M226.6 242.4h0M151.5 246.3h0M127.9 201.8h0M224.2 247.4h0M160.2 238.2h0M244.8 226h0M34 223.3h0M204.3 234.8h0M144.1 245.9h0M173.9 258.7h0M51.4 216.6h0M39.8 222h0M118.3 190.1h0M184.5 245.1h0M62.8 208.5h0M93.2 208.3h0M234.2 229h0M35.3 221.3h0M215.8 240.5h0M107.4 212.5h0M237.1 229.1h0M61 210.8h0M119.9 197.9h0M103 203.4h0M242.3 227h0M126 207.5h0M58.6 198.2h0M77.4 190.4h0M208.5 237h0M153.5 237.9h0M72.1 211.1h0M148.9 238h0M200.7 233.7h0M179.9 236.8h0M81.4 200.1h0M246.6 229.1h0M71.7 209.5h0M95.4 191.8h0M201.7 237.3h0M92.8 191.9h0M175.7 237.3h0M70.4 193.9h0M40.8 213.7h0M153.9 248h0M34.6 221.9h0M76.4 216.3h0M236.9 227.2h0M171.6 262.9h0M148.5 239h0M181.4 253.7h0M157.2 240.1h0M182.3 235.9h0M115.7 208h0M221.7 245.1h0M63.3 208.2h0M174.7 237.5h0M36 222.6h0M114.7 192.8h0M44.2 218.9h0M107.7 207.2h0M123 207.2h0M89.7 201.2h0M196.9 234h0M176.4 236.3h0M158.8 242.6h0M32.2 223.3h0M71.2 190.7h0M113.2 186h0M76.4 215.3h0M190.3 235.2h0M76.5 211.3h0M157.6 238.2h0M104.7 212.6h0M177.1 256.8h0M220.5 233.7h0M137.4 206.6h0M122.1 210.8h0M139.4 206h0M107.1 191.8h0M210.4 263.5h0M64.7 218.4h0M97.7 205.6h0M87.4 182.9h0M192.8 258.2h0M72.2 191.7h0M202.5 235.6h0M223.8 231.6h0M104.4 180.2h0M244.5 232.4h0M83.7 214.5h0M168.9 256.2h0M99.8 198.7h0M76.1 215.9h0M179.7 240.1h0M176.5 236.4h0M210.3 235.8h0M231.2 230.2h0M72.7 214.1h0M45.3 219h0M40.4 216.4h0M75.1 216.4h0M91.5 212.2h0M167.2 246.9h0M82.8 213h0M169.9 237.4h0M171.6 252.3h0M74.3 212.1h0M158.3 237.9h0M142.3 245.3h0M195 248.8h0M44.1 221.5h0M100.9 201h0M227.1 238.4h0M48.7 218.3h0M81.6 209.3h0M177.1 237.3h0M32.1 224.1h0M39.6 222.6h0M97.9 209.1h0M193.6 239.5h0M193.9 235.2h0M216.6 237.9h0M77.6 195.1h0M167.6 250h0M34.5 223.3h0M46.1 218.4h0M45.3 221.6h0M81.9 200.6h0M218.4 245h0M92.1 211.7h0M73.3 182.6h0M73.9 206.8h0M45.3 221.6h0M233.3 241.2h0M53.6 202.7h0M115.2 203.9h0M198.5 234.4h0M132.4 210.3h0M163.9 238.2h0M173.2 258.3h0M32.2 223.7h0M151.5 239.9h0M49.8 203.4h0M133.6 210.6h0M102.6 194.6h0M231.7 235h0M215.1 234.3h0M184.3 236.9h0M250.8 225.2h0M241.7 226.9h0M183.1 256.7h0M238.2 238.4h0M234.9 228.7h0M162.3 237.9h0M130.3 202.8h0M53.1 220.2h0M215.1 243.7h0M202.4 233.2h0M166.2 260.2h0M250.5 225.2h0M109.5 207.9h0M218.5 237.4h0M183.8 237h0M145.4 239.3h0M203.9 237.2h0M47.5 221.1h0M245.9 229.9h0M222 238.2h0M85.8 204.7h0M196.1 258.6h0M81.6 214.9h0M198 239.9h0M61.2 218.9h0M150.6 237.8h0M60 214.7h0M213.4 239.9h0M38.6 215.9h0M238.5 233h0M179.7 236.1h0M99.2 206.5h0M193.8 260.1h0M90.7 201.8h0M131.4 209.7h0M119.9 209.1h0M115.7 190.5h0M203.4 265.1h0M156.9 238.6h0M124.6 206.2h0M216.7 254.6h0M230.3 239.7h0M65 200.8h0M210.8 231.9h0M163 253.2h0M95.5 203.7h0M228.8 230.6h0M241.8 228.4h0M167.8 240.2h0M106.4 212.4h0M69 217.1h0M155.6 238.9h0M220.3 246.5h0M136.9 202.2h0M59.3 218.1h0M84.1 182.5h0M227.5 231.3h0M103.1 182.8h0M41 219.5h0M151.1 237.7h0M140.8 208.7h0M116.5 210.2h0M52.2 216.3h0M86.8 190.2h0M124 199.9h0M180.3 247.9h0M194.6 245.6h0M31.8 224.2h0M111.3 211.4h0M80.5 200.4h0M156.6 242.3h0M192.7 265h0M190.7 255.2h0M161.3 240.2h0M112.5 191h0M62.8 205.6h0M96 213.2h0M105.2 206.5h0M92.2 213.9h0M197 233.9h0M141.8 235.2h0M193.4 265.2h0M48.4 212h0M228 232.8h0M39.2 217.1h0M172.2 248.5h0M242.7 226.2h0M100.2 187.2h0M94 210.5h0M90 211.5h0M219.9 230.6h0M168.7 243.7h0M235 229.2h0M80.6 181.4h0M179.1 242.2h0M175.3 237.6h0M231.9 242h0M205.1 267.8h0M211.5 241h0M83 197.7h0M202.4 252.2h0M44.8 221.4h0M150.1 245.8h0M31 224h0M204.7 255.2h0M50.1 216.9h0M214.5 236h0M87 196.5h0M167 250.9h0M58.3 200.8h0M139.2 202.9h0M230.8 241.7h0M147.3 246.7h0M221.6 245.3h0M205.6 236.1h0M45.4 219.4h0M161.2 240.3h0M141.5 245h0M56.6 210.8h0M157.1 244.3h0M207.7 262.2h0M147.6 236.7h0M124 207.1h0M185.4 236.6h0M221.6 232.9h0M138 208.1h0M215.6 234.7h0M159.9 238.1h0M65.7 197.1h0M61.8 206.2h0M226 229.7h0M117.5 211.3h0M64.9 208.1h0M36.6 222.1h0M176.8 247.2h0M177.4 240.6h0M102.4 190.1h0M111.1 200.3h0M166.1 237.4h0M221 243.4h0M44.5 214.1h0M75.2 204.4h0M39.2 219.5h0M190.2 262.3h0M231.7 230.6h0M123.7 195.9h0M42.6 218.4h0M181.4 253.5h0M35.5 221.7h0M218.1 232h0M163.3 255.7h0M136.6 208.7h0M244.4 231.5h0M146 246.7h0M194.4 254.6h0M151.2 238.1h0M248.7 225.9h0M191.8 235.9h0M132.4 204.8h0M50.1 216.1h0M80.8 210h0M237.2 228.3h0M211 235.9h0M209.7 241.6h0M211.3 236.8h0M164.7 239.4h0M188.8 260.1h0M192.5 242.5h0M76.4 198.5h0M195.2 250.9h0M68.9 213.1h0M237.2 235.4h0M45.8 218.8h0M42.7 217.8h0M137.6 202.2h0M122.3 201.7h0M92.8 177.9h0M91.5 207.9h0M227.8 239.4h0M111.7 198h0M203.5 232.9h0M73.2 198.5h0M220.3 234.3h0M102.9 211.7h0M231.5 240.2h0M93.4 210.2h0M235.3 227.6h0M35.7 222.6h0M153.1 240h0M133.6 210.5h0M147.2 239.6h0M231.5 237.2h0M163.7 238.1h0M193.6 251.4h0M77.8 189.9h0M234.2 228.5h0M156.1 244.4h0M206.9 248.7h0M248.5 228h0M196 242.4h0M76.9 216.2h0M64.4 218.4h0M83.8 214.2h0M137.5 204.1h0M243.4 230.5h0M146.9 237.1h0M61.2 217.5h0M90.4 195.6h0M204.5 251.1h0M71.6 216.1h0M50.9 218.7h0M216.6 243.5h0M87 199.6h0M238.7 230.2h0M210.2 251.6h0M224.3 236h0M136.9 201.8h0M91.6 201.8h0M126.7 198.7h0M168 239.7h0M76.5 186.2h0M88.9 176.1h0M70.6 186.5h0M81.4 185.2h0M196.7 236.2h0M83.3 213.2h0M69.8 211.7h0M91.5 208.8h0M196.9 234h0M85.1 197.4h0M200.2 236.6h0M64.6 202.3h0M108.6 211.2h0M70.8 189.7h0M190.3 258.1h0M41.2 218.7h0M238.3 227.2h0M134.9 206.3h0M67.2 210.7h0M175.4 253.7h0M66.2 217.9h0M70.5 202.6h0M102.2 210h0M149.2 246h0M121.4 209.4h0M55.3 201.8h0M52.3 219.5h0M67.6 216.4h0M95.8 198h0M122.4 207.5h0M119.6 209.9h0M159.7 240.9h0M66.3 214.8h0M76.2 186.6h0M77.6 186.1h0M81 188.6h0M36.5 217.9h0M186.1 240.2h0M60.6 211.5h0M165.8 248.5h0M233.7 227.9h0M55.3 216.4h0M111.3 211.5h0M210.8 231.6h0M106.7 209.1h0M231.9 244.2h0M63.5 216.7h0M60.8 219h0M72.6 212.1h0M249.7 226.6h0M151 240.1h0M90 200.5h0M192.3 251.7h0M194.6 239.1h0M223.1 252h0M105.3 188.5h0M234.2 238.6h0M92.4 203.4h0M141 210.1h0M237.3 233.7h0M94 185.1h0M58.1 208.4h0M89.6 183.2h0M108.5 199.8h0M234 229.1h0M178.7 255.6h0M187.1 252.1h0M225.7 232h0M80.7 199.1h0M79.6 191h0M47.7 208.5h0M180.5 267.2h0M246.7 227.2h0M144.7 242.2h0M176 246h0M62.5 218.6h0M232.2 228.1h0M96.7 182.6h0M134 211.3h0M156.6 240.5h0M52.8 209h0M124.2 196.9h0M89.7 214.2h0M221.7 252.8h0M200 251.2h0M164.8 239.1h0M62.5 205.3h0M198.1 252.3h0M225.8 232.7h0M127.7 207.1h0M41.8 219.2h0M177.6 249.6h0M136.4 208.8h0M37.9 220.8h0M104.7 204.8h0M194.6 235.5h0M138.8 210.7h0M235.2 233.6h0M194.1 237.3h0M182.9 259.8h0M204 235.3h0M170.6 261.7h0M142.9 236.5h0M138.2 211.2h0M100 204.8h0M167.2 245.6h0M244.7 229.5h0M39.9 220h0M221.5 234.7h0M83.7 193.2h0M118.3 210.1h0M236.1 237.7h0M129.7 210.5h0M35.5 223.3h0M130 209.2h0M135.9 209.4h0M101.6 203.3h0M151.8 240.6h0M148.5 244.9h0M122.4 208.2h0M85.6 192.7h0M169 248.7h0M202.4 237.1h0M164.3 240h0M197.5 264.6h0M60.3 206.6h0M62.3 214.7h0M121.5 202.9h0M104.8 209.6h0M96.2 193.8h0M90.9 197.7h0M82.3 214.5h0M250.9 224.7h0M202 233.7h0M108.8 189.7h0M31.2 223.9h0M76.6 188.8h0M36.5 223.1h0M198.5 250.7h0M116.5 191.1h0M111.6 189.2h0M181 250.4h0M219.4 234.8h0M251.3 225.2h0M118 189.1h0M148.7 237h0M237.8 229.3h0M89 202.8h0M138.6 212.8h0M217.5 247.3h0M213.9 234.3h0M184.5 240.5h0M198.9 247.9h0M238.6 239.2h0M52.5 215.9h0M213.2 261.6h0M247.7 226.8h0M120.8 210.7h0M170.2 251.8h0M163.6 237.8h0M205.7 245.2h0M225.3 242.2h0M144.3 244h0M200.8 242.8h0M135.5 211.1h0M241.2 234.9h0M85.7 209.1h0M99.7 213.1h0M104.1 206h0M144.2 244.5h0M72.3 204.6h0M138.1 203.3h0M103.2 208.4h0M101.2 210.7h0M60.1 213.7h0M224 245.4h0M217.8 232.2h0M89 212.5h0M195.1 252.6h0M182.5 235.7h0M121.3 211h0M49.1 219.7h0M67.5 192.6h0M93.3 192.7h0M237.5 230.2h0M116.4 197.8h0M100.4 212.1h0M140 204h0M111.3 211.7h0M208 244.2h0M207.1 245.2h0M178.7 240.5h0M50.1 207.4h0M99.9 208.1h0M111.2 210.1h0M190.8 261h0M162.3 241.9h0M110.3 204.6h0M250.5 225.2h0M192.5 240.1h0M167.5 239.8h0M50.4 220.7h0M61.3 214.8h0M169.7 252.2h0M166.8 239.4h0M98.2 193.6h0M113.5 194.5h0M39.4 219.1h0M202.4 268.7h0M76.1 210.2h0M71.7 215.5h0M106.7 208.4h0M78.2 191.1h0M235.2 240.8h0M243.4 229.2h0M174.5 238.1h0M223.5 242.2h0M114.2 211.6h0M37.1 217.2h0M239.1 237h0M83.8 197.1h0M57.4 218.9h0M55.8 205.7h0M37 222.9h0M85.1 213.4h0M129.2 204.5h0M110.5 206.4h0M199.3 268.7h0M145.8 236.9h0M144.8 245.7h0M94.1 212.5h0M188.4 238.6h0M95.9 192.3h0M192.4 236.6h0M84.3 197.6h0M88.9 208.7h0M199 234.3h0M181.6 264h0M146.3 242h0M240.5 227.1h0M244 227.1h0M65 211.5h0M133.6 209.8h0M115.5 205.6h0M214.7 236.4h0M118.7 209.4h0M36.7 223.2h0M226.4 230.1h0M33.2 222h0M117.7 210.6h0M52.6 201h0M155.7 246.9h0M234.6 229.3h0M142 238.7h0M216.4 243.9h0M139 209.7h0M215.7 252.5h0M232.4 228.1h0M158.7 251.4h0M202.9 242.2h0M93.4 213.6h0M130.9 205.8h0M171.5 256.5h0M86.4 209h0M165.6 240.1h0M236.5 233.5h0M203.2 233h0M186.1 255.9h0M34.7 222.8h0M49.2 220.9h0M48.4 206.3h0M208 245.3h0M192.2 264.9h0M197.2 234.1h0M97 212.3h0M193.2 241.9h0M43.9 221.9h0M172.3 237.8h0M248.2 225.9h0M34.4 220.8h0M144.5 244.3h0M249 226.3h0M240.2 229.8h0M177.6 237.3h0M121 192.1h0M73.6 182.2h0M69.3 193.1h0M83.4 209h0M129.5 203.4h0M196.9 236.5h0M171.9 253.9h0M139.8 205.8h0M229.2 230.1h0M146.6 240.2h0M185.3 261.3h0M162.8 247.3h0M199.2 250.1h0M244.5 229.6h0M216.8 251.8h0M101.8 212.8h0M197.2 235.2h0M47.4 216.8h0M44 218.2h0M250.8 225.3h0M249.7 226.5h0M210.9 251.5h0M33.6 223.8h0M224 236h0M169.5 264.6h0M150.4 244.8h0M189.1 245.7h0M169.1 237.3h0M224.9 234.5h0M226.1 233.3h0M230.7 234h0M74.9 213.2h0M224.5 241.7h0M84.5 195.1h0M59.6 213.6h0M120.2 210.3h0M65.5 215.4h0M129.4 210.7h0M139.7 205.7h0M52.4 217.5h0M38 223h0M202.1 246.8h0M152.1 239.3h0M129.5 202.3h0M202.6 236.4h0M82.8 191.7h0M61.3 196.4h0M194.7 236.1h0M42 221.2h0M221.2 234.5h0M121.3 202h0M198.7 258.6h0M191.2 241.9h0M155 246.7h0M87.1 209.1h0M156.1 238.5h0M87.2 181.2h0M74 206.6h0M158.6 238.1h0M88.6 214.4h0M250.4 226.1h0M73.6 210.9h0M112.7 188.9h0M139.6 210.9h0M86.1 191.1h0M174.7 268h0M57.4 205.3h0M242.9 234.7h0M139.3 211.4h0M182.5 237.7h0M102 209.4h0M249.3 225h0M53.6 219.6h0M127.6 210.6h0M239.9 230.2h0M84 209.6h0M144.1 237.7h0M201.2 246.9h0M151 239.6h0M90.3 211.9h0M39.6 215.6h0M71.7 193.6h0M148.6 238h0M225.4 245.1h0M174.7 264.6h0M146.8 243h0M133.5 208h0M196.7 249h0M221.6 251.8h0M133.2 210.8h0M242.2 226.3h0M118.5 210.8h0M178.5 264.4h0M247 225.5h0M34.1 220.8h0M81.6 188.5h0M188.6 241.5h0M110.9 205.1h0M91.7 212.5h0M55.3 202.5h0M33.9 222.6h0M111.8 203.6h0M209.9 247.1h0M134.1 207.6h0M90.3 207.4h0M189.7 235h0M100.1 204.2h0M122.5 208.8h0M91.9 179.7h0M68.6 217.7h0M34.6 223.6h0M244.4 226.2h0M37.5 219.8h0M68 216.3h0M156.7 252h0M89 195.2h0M216.3 239.1h0M243.3 227h0M90.2 200.8h0M247.2 226h0M201.7 266.6h0M242.9 233.4h0M213.1 238.4h0M249.2 226.6h0M242.4 229h0M249.5 224.9h0M90.9 206.6h0M141 203.4h0M87.6 189.7h0M95 209.9h0M88.2 212.8h0M208.9 246.9h0M35.8 222.9h0M46.3 217.7h0M203.5 240.1h0M66.2 206.4h0M213.9 237.2h0M99.9 212.4h0M40.9 220.6h0M64.8 197.5h0M147.7 243.7h0M37.1 220.3h0M104.2 205.4h0M99 207.4h0M231.9 230.3h0M240.6 228.6h0M161 237.8h0M78.4 189.1h0M199.6 237.3h0M136.6 202.4h0M171.1 237.7h0M129.3 211.1h0M112.8 205.5h0M156.2 238.2h0M77.7 212.2h0M49.5 213.6h0M44.6 221.3h0M115.9 189.5h0M210.5 256.5h0M236.5 232.5h0M214.3 242h0M111.8 207.6h0M212.3 232.2h0M226.9 235h0M157 252.6h0M149.8 237.9h0M133.9 205.8h0M113.3 198.2h0M232.2 230.8h0M58.1 204.4h0M156.4 238.8h0M175.2 256.4h0M146.7 243h0M214 233.8h0M100.7 210.7h0M175.1 252h0M209.6 255.5h0M145 241.3h0M115.3 206.6h0M107 197.6h0M155.5 249h0M58.9 213.5h0M236.2 231h0M137.4 208.7h0M249.8 226.4h0M245.9 227.8h0M134.7 206.6h0M85.4 213.7h0M228.5 236.2h0M243 234.7h0M164.8 243.7h0M177.3 240h0M194.5 251.3h0M144.2 239h0M46.2 212.5h0M228.5 247h0M97.5 207.1h0M249.2 225.9h0M161.1 252.2h0M127.2 208.2h0M187 254.3h0M160 244h0M53.5 213.8h0M206.8 237h0M223.6 233.1h0M74.1 181.8h0M150.8 238.7h0M34.7 219.7h0M69.2 203.5h0M225 253.2h0M192.3 262.2h0M161 247.8h0M239.9 226.8h0M122.5 208.9h0M222.3 255.3h0M67.8 206.3h0M173.2 246.3h0M167.6 240.1h0M65.4 213.8h0M159.1 246.7h0M139.2 212.1h0M229.8 235.1h0M73 216.1h0M80.6 202.4h0M135.8 212.1h0M78.4 216h0M157.7 238.5h0M245.9 227.3h0M233.1 238.4h0M192.6 236.4h0M247.7 225.7h0M230.8 231.2h0M195 238.8h0M64.4 192.8h0M106.8 205h0M114 198.1h0M87.9 202.7h0M168.4 237.8h0M66.6 214.3h0M106.9 212h0M120.3 191.3h0M209.7 240.2h0M241.6 227h0M64.2 190.9h0M110.9 202.9h0M238.7 234.6h0M54.2 199.3h0M225 235.5h0M166.5 247.3h0M73.6 214.9h0M132.2 201.9h0M155 238h0M194.6 247.3h0M96.1 213.5h0M191.6 240.7h0M110 211.3h0M75.3 202.5h0M109 182.6h0M211.6 232.1h0M86.8 214h0M137.1 208.4h0M234.8 227.9h0M200.8 239.2h0M184.6 248.2h0M128.5 207h0M39.8 222.1h0M189.6 244.7h0M77.8 192.4h0M116.2 192h0M181.9 269.5h0M183.2 239.4h0M197.9 234.3h0M63.4 209h0M211.8 261.1h0M183.1 239.3h0M134.9 204.2h0M51.5 216.5h0M81.7 178.3h0M87.9 200.1h0M242.5 230.4h0M47.6 206.7h0M186.5 249.4h0M245.7 230.8h0M141.1 210.4h0M205.1 235.1h0M100.3 193.8h0M172.1 237.1h0M40.1 222h0M60.9 201.3h0M65.8 196.8h0M186.7 249.4h0M49.9 218.8h0M118.1 191h0M81.3 184.7h0M37.3 220.2h0M251.3 225h0M34.8 221.9h0M252 224.4h0M212.2 237.6h0M108.6 194.1h0M161.6 252.2h0M237.3 227.2h0M68.6 194.8h0M141.8 237.4h0M150 245.4h0M191.6 236.7h0M100.5 212.4h0M44.4 216.1h0M141.4 234.5h0M177.9 237h0M167.2 237.3h0M63.3 196.3h0M146.6 242.9h0M138.5 213.2h0M223.3 229.8h0M58.8 218.1h0M194.3 265.5h0M199.5 254.6h0M234.2 227.7h0M153.6 247.7h0M189.8 235h0M54.5 213.6h0M108.7 186.9h0M88.1 208.9h0M73.7 216.8h0M129.2 200.6h0M187.6 251.5h0M232.7 235.2h0M217.5 232.1h0M163.3 257.7h0M73.8 210.8h0M245.7 228h0M126.7 208.9h0M101.7 195.9h0M69.4 186.9h0M233.9 228.4h0M82.2 214.4h0M79.9 199.5h0M74.9 195.9h0M153.3 239.7h0M131.7 204.8h0M86.8 213.6h0M214.6 231.6h0M163.1 241.6h0M140 212.3h0M64.2 211.5h0M136.9 205h0M34.6 223.6h0M184 238.9h0M78.1 193h0M55.6 203.4h0M180.3 252.2h0M49.8 217.5h0M143.5 237.6h0M159.9 254.8h0M168.9 237.2h0M163.4 251.4h0M95.3 206.3h0M171.6 236.7h0M73 201.2h0M252.1 224.4h0M248.4 228.1h0M245.6 226.9h0M54.8 209.1h0M39.7 216.4h0M182.7 252.8h0M212.8 239.6h0M126.3 206.1h0M182.4 246h0M182.2 241.3h0M79.2 200.1h0M121.4 210.9h0M105.3 202.5h0M197.3 245.8h0M144.9 241.8h0M52.5 218.6h0M220.4 250h0M37.4 218.6h0M160.8 241.4h0M120.6 197.1h0M223.9 243h0M139.3 207.4h0M199.6 233.9h0M134 209.8h0M117 202.3h0M222.1 230.2h0M216.7 258.4h0M35 223.5h0M125.6 207.8h0M107.9 186.3h0M99.5 210.9h0M85.6 206.2h0M130.4 201.7h0M78.4 182.1h0M142.7 245.7h0M178.6 236.1h0M88.6 183.3h0M154.8 242.7h0M94.8 212h0M181.4 235.8h0M208.7 233.2h0M68.5 187.2h0M146.1 242.5h0M124.6 209.7h0M179 241.6h0M126.4 206.7h0M159 238.5h0M49.7 212.7h0M142.8 242h0M211.7 239.8h0M151.5 245.8h0M160.4 242.8h0M157.5 241.7h0M70.6 217.2h0M226 230h0M229.8 240.3h0M118.3 195h0M229.5 229.9h0M176.1 245.1h0M33.8 223.8h0M63.5 218.6h0M80.8 207.5h0M51.3 215.9h0M36.6 219.4h0M144 245.5h0M39.8 222.5h0M121.5 203h0M215.7 239h0M130.5 206h0M164.7 247.8h0M73.2 209.5h0M141.8 237.7h0M92.3 177.3h0M75.3 183.6h0M181.7 237.3h0M32 224h0M228.9 235.5h0M150.3 238.9h0M169.6 257h0M183.8 266.9h0M67.8 191.6h0M32.2 223.5h0M99.9 190.1h0M111.9 210.2h0M125.6 209.5h0M224 236.9h0M99.4 194.4h0M35.9 220.2h0M72.6 187.2h0M31.1 224.3h0M122 194.8h0M108.2 201.3h0M104.2 212.4h0M116.9 211.3h0M239.5 231.3h0M219.3 236.4h0M139.4 210.7h0M191.1 259.2h0M94.7 210.7h0M146.2 239.4h0M193.9 272.8h0M137.9 207.7h0M141.5 236.1h0M212.7 236.5h0M94.7 195.2h0M62.1 204.5h0M190.3 273.7h0M200.2 234h0M96.9 207.2h0M169.5 238.9h0M117.1 193.1h0M229.8 236.3h0M120.4 194.4h0M217.7 245.3h0M137.8 202.1h0M63.3 211.3h0M130.2 208.7h0M205.2 252.7h0M30.9 224.1h0M164.3 239.3h0M113 211.3h0M144.9 243.5h0M230.4 234.9h0M109.1 199.7h0M165.1 259.4h0M101.1 187.4h0M197 236.5h0M184.8 242.7h0M224.4 237.1h0M193.1 254.2h0M243.7 230h0M216.8 230.7h0M33.2 221.6h0M163.3 248.6h0M204.2 241.3h0M216 231h0M170.7 253.4h0M213.4 231.5h0M61.2 209.3h0M62 205.6h0M179.8 241.2h0M216.9 240.1h0M100.5 213.1h0M97.8 192.8h0M122.5 210.9h0M89.5 183.7h0M60 219.2h0M180.4 262h0M173.9 259h0M72.8 212.1h0M49 207.4h0M113.9 211.6h0M71.5 209.1h0M244.5 227.7h0M135.5 202h0M118.8 199.6h0M78.3 202.8h0M34.9 223.6h0M199.2 235h0M89.5 209.1h0M55.1 212.7h0M225.8 229.9h0M110.2 204.1h0M154.5 245h0M93 210.6h0M93 204h0M212.4 243.6h0M235.2 229.8h0M57.7 219h0M168.8 239.1h0M71.2 186.6h0M213.2 254h0M114.3 207.8h0M75.7 216.4h0M119.2 207h0M83.9 215.1h0M216.1 242.7h0M53.2 204.9h0M143.1 242.2h0M134.6 205.7h0M78 189.1h0M90.3 182.3h0M149.6 237.3h0M154.6 240.3h0M64.4 194.5h0M241.2 236.6h0M227.7 229.8h0M168.5 249.3h0M205.5 267.2h0M206.7 261.7h0M80.8 215.1h0M83.3 214h0M201.7 233.8h0M145.2 237.4h0M239.8 227.2h0M70.3 217.4h0M140.8 204.3h0M219.6 239h0M121.6 200.2h0M150.9 243h0M161.3 250.8h0M39 222.8h0M76.3 208.2h0M164.3 239.6h0M172.9 264.2h0M112.8 201.5h0M239.4 233.8h0M119.6 210.8h0M231.6 229.9h0M116.4 211.4h0M224.1 233.1h0M184.2 240.3h0M239.6 228.6h0M93.8 207.4h0M167.4 250.4h0M91.8 213h0M38.5 220.5h0M232.1 228.1h0M244.8 230.4h0M153.6 243.1h0M51.9 213.1h0M242.9 226.1h0M50.5 207.8h0M38.4 216.7h0M69 217.2h0M86.3 204.5h0M230.9 237.8h0M236.6 237.8h0M217.6 242.9h0M208.9 265.9h0M88.9 183.3h0M152.2 243.6h0M114.7 186h0M48.6 219.1h0M214.1 232.1h0M120.1 211h0M91.9 181.9h0M68.5 193h0M198.2 238.3h0M155.1 238.1h0M88.2 214.2h0M133 204.5h0M70.4 194.5h0M201.6 233.3h0M43.1 222h0M66.9 217h0M87.1 198.7h0M111.9 194.2h0M191.2 242.3h0M101.5 212.7h0M121.6 202.3h0M49.2 217.4h0M84.6 183.7h0M136.4 209.8h0M122.2 196.1h0M62.1 207.9h0M237.6 236.9h0M85.3 204.1h0M92.4 199.3h0M233.5 241.8h0M196.8 256.8h0M163.5 256.4h0M109.1 211.3h0M42.7 215.9h0M195.9 235.5h0M221.6 233.3h0M200.5 233.4h0M216.6 233.9h0M208.4 262.1h0M222.6 229.9h0M204.6 239.8h0M248.7 227.5h0M219.3 242.3h0M63.5 209.7h0M210 231.8h0M111.8 202.2h0M242.4 227.8h0M103.3 177.6h0M68.7 198.3h0M243.6 226.3h0M139.9 213.2h0M178.3 267h0M216.9 230.9h0M192.7 234.9h0M70.4 215.9h0M241.5 235.6h0M64 192.2h0M105.6 203.4h0M70.6 186.3h0M223.7 238.8h0M185.1 250.9h0M171 251h0M113.5 197.3h0M146.9 237.9h0M142.3 235.6h0M73.8 211.5h0M152.1 247.9h0M105.8 199.9h0M142.9 243.2h0M104.3 191.8h0M171.6 244h0M243.5 229.1h0M114.5 211.4h0M178.9 263.3h0M225.8 246h0M226.8 237.2h0M115.2 201.3h0M57.9 199.7h0M32.4 223h0M150.4 244.6h0M212.7 242.5h0M140.3 203.6h0M139.2 209.9h0M196.6 245.5h0M220 243.2h0M64.9 218.2h0M112.8 211.4h0M144.5 244.5h0M84 208h0M78.9 207.7h0M35 222.8h0M191.7 243.9h0M82.5 208.3h0M176.7 237.3h0M79.2 182.1h0M54.9 219.8h0M45 211.6h0M53 218.8h0M181.3 258.4h0M148 240.6h0M123.5 199.2h0M167.1 258.5h0M161.2 242.1h0M176.7 247.7h0M113.1 211.6h0M209.9 251.1h0M208.5 252h0M213.4 244.3h0M218.2 230.5h0M139.6 205.6h0M215 241.2h0M182.8 263.9h0M41.8 222.1h0M101.3 198.2h0M190.3 241.1h0M242.6 232.8h0M57.6 214.9h0M83.3 207h0M210.5 232.2h0M132 202.7h0M66.6 217.8h0M221.3 232.5h0M201.2 233.4h0M132.5 207.5h0M190.9 268.2h0M117.8 210h0M162.5 239.7h0M112.3 189.5h0M146.2 244.2h0M176.8 239.7h0M251.1 225.4h0M153 238.7h0M231.4 244.5h0M35.3 223.5h0M249.4 225.1h0M117.8 196.3h0M201.2 259.5h0M165.4 251.2h0M93.2 176.3h0M45.4 216.1h0M53 218.1h0M134.4 208.7h0M97 213.4h0M102.6 212.6h0M203.4 261.5h0M219.5 233.8h0M143.5 235.7h0M197.2 265.4h0M33 223.9h0M105.3 199.3h0M62.4 213.1h0M87.2 211.6h0M117.9 210.6h0M119.9 203.7h0M117.1 204.1h0M78.1 208.3h0M249.2 227.6h0M184.6 269.1h0M192.1 252.1h0M232.3 228.8h0M112.3 211.9h0M38.5 222.5h0M126.1 209.7h0M78.5 197.6h0M197.6 263.2h0M105.4 180.1h0M222.2 233.7h0M123.7 210.8h0M178.8 243.3h0M98 181.8h0M197.8 250.2h0M119.6 195.3h0M71.5 204.7h0M194.6 236.6h0M182.8 257h0M141.2 203.5h0M160 248.9h0M56.7 218.6h0M239.1 226.8h0M83.8 213.7h0M142.8 237.1h0M115.5 211.5h0M210.5 245h0M37.4 222.6h0M118.7 210.9h0M214.9 235.5h0M225.2 235.9h0M46.8 216.1h0M165.3 257.5h0M77.1 210.5h0M129.3 206.5h0M216.9 231.3h0M243.7 226.3h0M119.1 209.5h0M98.9 202.2h0M142.5 244.8h0M44 221h0M123.6 200.6h0M68.2 213.4h0M34.9 222.9h0M204.8 232.6h0M89.8 195.2h0M240.7 228h0M203.4 260.5h0M39.2 218.8h0M124.7 203.7h0M152.1 246.9h0M70.2 215.8h0M123.1 202.5h0M201.4 251.9h0M88.1 211.6h0M226.6 236.9h0M160.5 237.9h0M132.5 207.5h0M46.2 221.5h0M132 209.5h0M189.4 235.9h0M194.8 248h0M88 210.1h0M118.1 210.5h0M87.9 214.6h0M86 179.8h0M251.5 224.8h0M233.3 229.9h0M40.3 220.1h0M103.2 196.6h0M187 260h0M228.2 249.6h0M44.1 221.4h0M122.3 208.8h0M32.5 223.5h0M220.4 234.6h0M30.7 224.4h0M75.1 210.4h0M158.5 243.4h0M56.9 213.5h0M170.9 246.8h0M91.8 195.8h0M247 226h0M112.5 206.1h0M105 209.8h0M156 238.6h0M85.4 191h0M193.5 263.6h0M217 244.9h0M247.8 225.8h0M168.5 248.6h0M171.1 241.6h0M88.4 210.7h0M37.9 219.3h0M97.6 213.2h0M118.6 208.1h0M217.6 232.5h0M115.6 206.7h0M190 245.8h0M231.4 231.9h0M157.4 242.2h0M223.3 255.2h0M37.1 218.6h0M91.5 211.4h0M134.1 210.6h0M186.5 262.3h0M97.5 213.3h0M239 227.8h0M135.1 209.2h0M221.9 230.3h0M71.5 209.3h0M162.3 238.6h0M195.4 238h0M212.1 232.5h0M170.5 252.2h0M140.5 213.1h0M35.4 223.1h0M56.8 215.2h0M111.6 210.2h0M179.5 244.1h0M66.6 190.9h0M200.1 250.3h0M176.5 260.1h0M146.8 245.6h0M213.6 250.3h0M36.3 221.7h0M232.6 228h0M141.1 208.3h0M77 195.5h0M112.8 211h0M102.9 191.6h0M159.3 247.9h0M99.1 183.3h0M131.8 210.8h0M135.9 212h0M95.6 180.4h0M171.9 241.2h0M87.2 211.9h0M211.1 264h0M33.4 222.8h0M145.5 236.3h0M105.5 210.8h0M203.3 260.1h0M200.9 233.3h0M237.2 237.5h0M237.6 229.7h0M229.6 234.6h0M91.7 211.6h0M113.9 210.7h0M95.9 212.4h0M120.9 203.3h0M227.4 249h0M153.5 248.8h0M74.6 206.2h0M127.5 202.3h0M116.4 197.2h0M65 216.3h0M111 192.5h0M56.3 206.2h0M95 184.9h0M106.3 179.8h0M34.3 223.6h0M52.6 220.1h0M155.5 246.1h0M76.2 215.9h0M169 244.6h0M166.7 243.9h0M78.5 187.5h0M249.2 225h0M147.2 241h0M194.6 248.2h0M159 238.8h0M250.5 225.1h0M81.8 181.9h0M61.5 199.1h0M200 233.7h0M150.2 237.6h0M198.4 233.8h0M241.4 226.6h0M91.7 209.8h0M56.3 217.4h0M140 208.7h0M94.5 210.4h0M226.8 241.2h0M249.4 225h0M240.8 226.6h0M206.2 234.8h0M166.3 247.4h0M244 227.9h0M250.3 224.8h0M158.8 239.2h0M124 210.1h0M116.3 208.7h0M141.7 237.2h0M40.1 222.6h0M161.9 243.8h0M159.1 239.1h0M171.8 236.8h0M240.7 236.2h0M105.4 208.2h0M194.4 239.8h0M133.1 203.8h0M31.3 224h0M111.3 191.9h0M111.9 193.7h0M50.5 213.7h0M86.6 198.8h0M109.8 211.3h0M89.5 210.2h0M70.1 208.9h0M43.5 212.3h0M204.6 253.1h0M176.9 236.3h0M187.8 243.3h0M72 213.6h0M80.9 206.8h0M176 245h0M55.3 197.7h0M47.9 218.5h0M53 203.2h0M162.1 245.3h0M162.5 238.6h0M75.6 216.5h0M249.6 224.9h0M209.1 244.6h0M208.3 262.5h0M229.7 234.2h0M220.6 231.3h0M48.2 211.8h0M151.4 243.2h0M117.4 202.7h0M97.2 213.2h0M119.7 208.6h0M32.5 224h0M68.9 198h0M129.4 208.3h0M100.4 212.9h0M141 208.4h0M243.2 226.3h0M123.8 210.9h0M116.3 204.5h0M130.5 210.7h0M91.9 213.6h0M129.2 199.7h0M140.6 214h0M127.9 199.9h0M171.7 236.7h0M101 193.6h0M211.4 231.6h0M41.9 215.6h0M174.6 238.6h0M220.6 237h0M222.1 253.9h0M241.4 235.2h0M149.1 238h0M147 244.1h0M152 245.1h0M182.2 237.8h0M79.1 205.2h0M156.2 238.9h0M237.1 234.3h0M71.6 186.2h0M217.3 233.2h0M115.8 189.3h0M171.2 248h0M196.7 234.9h0M117.8 208.2h0M136.3 209.3h0M44.3 221.7h0M81.4 190.1h0M114.5 204.6h0M144.5 245.5h0M98.9 190.6h0M31.3 223.9h0M206.2 245.3h0M63.6 218h0M45 220.7h0M140.9 210.7h0M31.3 224.3h0M179.8 237h0M246.6 228.1h0M229.7 228.5h0M208.6 238.2h0M91 214.1h0M239.8 226.7h0M137.4 210.4h0M88.1 208.3h0M67.4 197.3h0M188.7 268.4h0M185.7 240.3h0M75.2 181.2h0M152.1 242.3h0M36.6 219.5h0M94.9 194.9h0M82.6 213.8h0M243.8 230.3h0M63.1 216.7h0M58.2 206h0M40.8 214.3h0M227.8 238.2h0M216.9 254.3h0M129 206.1h0M145.4 245h0M101.1 212.4h0M67.3 200.2h0M196.5 252.2h0M221 232.2h0M143.8 246.7h0M36.6 223.1h0M133.7 211.3h0M251.8 224.5h0M153.9 242.1h0M151.3 243h0M102.7 211.2h0M119.5 200.9h0M170.2 243.2h0M244.7 227.5h0M220.6 242.5h0M94.6 211.7h0M194.2 238.5h0M57 213.5h0M56.4 219.3h0M190.4 239.4h0M48.1 210h0M108.2 201.6h0M69.7 186.1h0M245.6 226.5h0M247.5 225.3h0M238.5 229.1h0M73.1 211.7h0M150.6 237.6h0M192 240.2h0M157 248.1h0M132.9 208.4h0M59.9 212.4h0M91.5 204.8h0M226.4 237.4h0M94.6 212.9h0M158.5 246.5h0M53.4 203.6h0M173.6 236.5h0M153.7 242.3h0M61.1 215.2h0M217.4 240.5h0M184 249.8h0M176.4 238h0M106.8 194.9h0M46.1 219.9h0M66.4 198.9h0M79.3 193.4h0M212.2 237.8h0M43.6 217h0M68.1 193.2h0M81.5 185.6h0M191 236.7h0M49.1 220.1h0M171.1 239.1h0M47.6 209.3h0M46.7 216.6h0M242.1 228h0M73.9 208.5h0M138.8 206.6h0M101.1 179.6h0M179.5 236.1h0M203.9 263.8h0M144.6 239.6h0M139.5 209.9h0M62 214.2h0M237.4 238.2h0M155.5 240.9h0M81.1 215.1h0M87 176h0M186.7 254.4h0M44.3 221.8h0M207.1 262.1h0M91.5 208.6h0M236.4 236.9h0M130.1 208.1h0M177.7 256.2h0M43.8 221.8h0M65.2 205.5h0M127.1 207.7h0M174.7 248.9h0M220.7 249.5h0M153 239.3h0M181.1 267.2h0M172.7 239.4h0M196.3 234.7h0M199.9 251.6h0M74.8 214.4h0M155.8 246.8h0M52.8 204.9h0M125.6 207.8h0M222.7 229.8h0M194 235.9h0M166 251.6h0M234.7 241.9h0M31.5 224h0M147.1 239.7h0M242.2 231h0M34.1 223.2h0M35.6 223.2h0M221 230.4h0M64.6 207.8h0M235.5 236.9h0M122.1 209.9h0M32.8 223.5h0M80.3 198.6h0M80.1 202.5h0M165.3 242.4h0M214.6 231h0M210.4 239.4h0M210.3 233.5h0M107.8 186.4h0M32.3 223.2h0M166.6 247.2h0M186.8 251h0M179.7 239.7h0M213.7 242.8h0M191.3 242.4h0M186.8 262.1h0M229 243.2h0M155.6 247.6h0M82 189.8h0M152.9 240.3h0M218.5 234.3h0M146.4 238.5h0M169.2 242.9h0M189.5 235.7h0M45.8 209.8h0M154.6 239.2h0M51 216.3h0M96.7 211.1h0M204.3 232.8h0M227.4 229.6h0M74.3 209.6h0M162.8 246.8h0M49.2 212.9h0M197.2 236.8h0M93 213.7h0M79.4 199.3h0M92.5 183.5h0M239.8 231.5h0M82.5 204.8h0M141.3 205.5h0M104.7 190.3h0M172 237.6h0M221.3 230.3h0M51.9 200.9h0M186.4 242.9h0M31.3 224.3h0M233.1 231.8h0M104.6 205.2h0M192.5 239h0M66.5 211.6h0M74.4 210h0M145.7 238.5h0M96.2 177.6h0M85.8 178.6h0M149.6 237.3h0M153 240.7h0M250 225h0M63.5 218.6h0M237.9 230.4h0M186.8 240.7h0M102.7 212h0M189 267.1h0M155.1 241.5h0M252.1 224.4h0M122.7 209.8h0M202.3 242.4h0M118.1 192.1h0M75.6 210.5h0M186 241.1h0M101.2 212h0M212.4 251.5h0M150.1 237.9h0M240.6 228.3h0M150.6 240.7h0M55.2 217.2h0M196 243.2h0M33 222.8h0M123.7 200.3h0M201.6 235.8h0M166.2 237.5h0M38.6 221.7h0M66.2 216.7h0M244.8 226.7h0M167.7 240.5h0M114.2 211.4h0M248.6 227.1h0M227.9 231h0M113.6 211.7h0M169.2 238.8h0M178.3 265.2h0M100.2 189.6h0M156.1 242.1h0M166 252.9h0M203.3 269.8h0M44.4 218.3h0M211.2 231.8h0M168 237.3h0M70.2 190.9h0M221.4 244.9h0M117 195.2h0M226.5 249.8h0M136 212.3h0M75.1 195.1h0M173.9 263.1h0M236 230.9h0M74.4 215.5h0M123.7 206.5h0M48.4 217.5h0M97.3 206.4h0M174.4 259.7h0M201.2 236.4h0M225.8 250.3h0M153.5 239h0M119.6 204.5h0M198.2 258.3h0M100.2 211.8h0M90.4 203.6h0M215.8 238.8h0M80.8 208.2h0M136 211.8h0M250.2 225.1h0M248.6 225.5h0M65.7 209.4h0M138.6 203.8h0M177.2 241h0M204.4 247.8h0M114.8 205.1h0M64.6 217.2h0M191 249.1h0M208.5 235.5h0M152 237.8h0M227.4 232.6h0M214.3 231.2h0M47.2 212.6h0M115.3 208.7h0M101.6 213h0M60.5 200.3h0M49 213.5h0M131.9 211.3h0M215.8 231.5h0M205.6 236.9h0M149.6 243.8h0M45.5 215.5h0M167.7 253.4h0M78.5 205.9h0M85.4 212.3h0M77.7 206.6h0M184.1 238.2h0M140.5 212.9h0M97.1 209.4h0M125.8 196.4h0M58.8 218.7h0M102.6 212.2h0M139.6 204h0M34.4 220.8h0M35.9 218.3h0M200.5 233.4h0M171.5 239.3h0M105 201h0M153.7 240.5h0M206.6 234.6h0M141.6 242.4h0M104.4 200.6h0M87.6 214.4h0M154.1 249.5h0M149.7 239.5h0M241.8 235.1h0M154.8 248.4h0M193.8 235.1h0M49.3 218.1h0M240.5 229h0M118.8 194h0M40.5 216.6h0M78.5 212.3h0M210.3 252.2h0M104.5 189.8h0M250.9 224.7h0M240.4 228.5h0M143.9 246.3h0M209.6 244.4h0M35.6 219.7h0M110.5 209.7h0M193.8 237.2h0M48.1 220.7h0M58.8 210.7h0M75.3 180.9h0M213.3 254.3h0M69.3 212h0M128.7 206.1h0M152.6 241.8h0M153.3 239.7h0M170.2 246h0M136.2 201.8h0M249.6 225.2h0M152.2 237.8h0M56.1 218.5h0M213.3 233.1h0M82.9 211.6h0M69.5 214.6h0M74.3 204.4h0M145 246.1h0M150.2 242.5h0M249 226.3h0M158.3 238.5h0M205.2 251.6h0M169.3 244.7h0M199.9 259.6h0M183.5 243.8h0M149.4 242.5h0M34 222.2h0M173.7 238.9h0M56.9 218.7h0M97.2 208.5h0M88.9 214.4h0M33.9 223.5h0M228.7 234.8h0M186.1 241.2h0M107.2 186.7h0M223.7 231.3h0M100.5 212.8h0M233.4 229.3h0M221.4 234.3h0M43.3 221h0M210.5 252.3h0M103.1 207.2h0M180.3 262.8h0M155.8 238h0M225.8 247.9h0M138.4 204.6h0M136.9 206.3h0M119 208.6h0M220.6 242.7h0M113.1 211.8h0M181.2 244h0M207.5 265h0M113 192.3h0M84.9 195.8h0M215.2 233.3h0M61.4 212.8h0M166.1 253.3h0M200.3 242.2h0M205.9 258.3h0M139.7 206.1h0M247.8 227.7h0M163 250.1h0M210.3 263.9h0M156.2 241.7h0M64.3 201.5h0M233.5 227.9h0M35.8 223.1h0M61.9 192.7h0M68.8 216.2h0M161.9 244.9h0M162.6 249.4h0M235.6 228.2h0M194.4 234.9h0M216.5 230.9h0M37.3 222.7h0M159.4 247h0M50.4 205h0M176.9 261.4h0M36.5 221h0M164.1 243.5h0M53.4 217.6h0M128.6 206.1h0M162.4 244.9h0M70.1 217.5h0M216.8 236h0M50.9 218.4h0M112.8 207.4h0M56.4 201.8h0M61.5 214.4h0M105.7 200.9h0M60.3 213.6h0M145.5 245h0M167.2 245.3h0M183 235.8h0M99.5 183.9h0M178.7 256.5h0M129.5 199.7h0M245.7 228.7h0M103.6 205.2h0M32.8 222.8h0M166.1 246.1h0M101.3 209.6h0M244.5 230h0M208.3 260.4h0M98.9 192.8h0M82.6 215.2h0M48.3 215.6h0M72.9 192.1h0M239.7 228h0M99.7 199.6h0M94.5 179.1h0M184.4 272.2h0M102.3 209.6h0M149.4 238.5h0M87.2 214.3h0M147.5 237.3h0M182.1 267.7h0M232.6 229.1h0M171.6 248.6h0M81.9 193.6h0M157.1 248.9h0M95 185.5h0M188.6 264h0M211.8 231.8h0M60.4 218.6h0M125.2 208.2h0M207 232.8h0M138 209.2h0M168.1 262.2h0M96.9 195.1h0M237.1 232.3h0M52.6 217.5h0M106.6 204.6h0M172.4 252h0M103.2 212.3h0M171.7 238.7h0M86.6 191.9h0M108.4 204.7h0M83.3 196.7h0M233 243.4h0M47.1 212.4h0M242.4 235.1h0M149.2 237.5h0M156.1 238.6h0M139.8 204.4h0M64.9 209.4h0M201.9 256.5h0M62.1 218.2h0M61.9 210.4h0M115.9 209.8h0M227.1 230.8h0M85.7 180.1h0M206.9 261h0M143.4 246.9h0M221.5 248.2h0M231.3 228.3h0M226.6 233.9h0M40.9 217h0M230 231h0M118.9 208.9h0M55.8 215.8h0M40.5 219.3h0M57.5 200h0M56.8 195.8h0M203.6 260.8h0M54.9 204.4h0M175.5 237.4h0M124.7 210.1h0M115.7 205.3h0M195.5 237.8h0M128.2 209.9h0M120.3 203.9h0M137 210.7h0M124.8 201.4h0M109 184.4h0M212 250.5h0M90.2 193.2h0M127.3 201.6h0M151.5 238.8h0M209.3 245.6h0M130.7 210.9h0M161.7 241.4h0M226.4 243.9h0M42.4 219.7h0M223 239h0M172 252.3h0M178.1 238.4h0M227.9 232.7h0M126.1 204.5h0M50.4 208.6h0M76 211.7h0M42.7 216.2h0M44.1 217.3h0M234 229.5h0M110.7 188.3h0M93.8 181.3h0M236.2 229.4h0M145.8 247h0M79.2 183.2h0M205.8 235.1h0M122.1 204.3h0M224.4 238.9h0M146 238.5h0M181.5 263.7h0M241.3 233h0M155.8 239.8h0M112.9 208.7h0M40.7 220.5h0M137 207.2h0M216.6 231.2h0M110.2 211.2h0M245.9 228.2h0M84.2 210.2h0M99.5 212h0M51 220.7h0M126.1 210h0M130.7 203.5h0M102 202.1h0M45.3 213.2h0M116.6 199.5h0M143.7 237.7h0M72.1 212.9h0M114.6 210.9h0M110.2 206.6h0M204.1 265.6h0M213.6 248.8h0M196 234.4h0M80.7 192.2h0M137.1 207.6h0M233.2 229.5h0M160.6 247.9h0M215.8 248.3h0M135 209.3h0M123.2 209.1h0M212.4 244.4h0M205 245.2h0M121.6 205h0M78.4 206.4h0M182.8 259.3h0M233.5 231.3h0M84.4 202.3h0M145.6 244.2h0M212.1 254.2h0M165.1 237.8h0M42.9 219.3h0M87.1 200.9h0M125.5 208.6h0M45.5 221.1h0M126.7 210.3h0M145.5 237h0M188.8 235.6h0M44.7 219.4h0M31.5 223.8h0M82.3 208.7h0M93.2 209.4h0M87.8 212.4h0M140.3 208.8h0M84 213h0M149.7 237.3h0M42.5 215.8h0M149.2 241.4h0M227.4 233.2h0M181.9 244.6h0M181.3 244.1h0M215.3 236.1h0M186.9 249.6h0M186.3 241.2h0M97.9 187.4h0M94.3 213.6h0M150.2 246.3h0M61.4 211.3h0M129.5 210.1h0M127.8 208.3h0M43.6 209.9h0M205.5 257.2h0M126.9 209.6h0M162.9 240.6h0M105.3 207.6h0M84 193.8h0M62.2 208h0M159.1 242.7h0M204.1 234.6h0M225.5 238h0M148.3 241.8h0M39.7 215.3h0M89.5 212.7h0M157.8 253.7h0M211.2 231.8h0M108.9 207.2h0M84.7 215h0M34.5 223.6h0M161.7 245.3h0M222.6 235.6h0M248.5 225.4h0M63.4 205.8h0M178 236.6h0M88.2 183.5h0M211 234.9h0M111.3 184.4h0M232.7 230.2h0M67.3 188.3h0M212.4 233.9h0M166.7 247.5h0M39.3 222.5h0M160.8 240.6h0M46.7 221.4h0M240.6 228.3h0M206.6 240.8h0M191.8 236.1h0M175.6 237.1h0M244.2 226.3h0M220.9 239.2h0M170.6 247.6h0M93.8 200.9h0M195.4 261.4h0M68.9 212.3h0M190.4 243.8h0M205.8 237.7h0M145.5 236.2h0M235 234.4h0M192 254.9h0M57.6 198h0M169.4 237.1h0M70.9 192.2h0M147.4 238.7h0M145.1 246.9h0M146.2 243.4h0M114.4 193.7h0M242 230h0M127.9 199.8h0M134.5 202.1h0M66.8 212.2h0M243.8 226.1h0M215.7 255.6h0M65.8 215.1h0M104 187.1h0M176.9 236.5h0M218.8 236h0M226.1 248.7h0M162.7 257.6h0M239.6 233.3h0M112 186.9h0M67.5 187.9h0M92 176h0M46.1 218.8h0M250.1 225.5h0M199.5 250h0M81.3 213.2h0M133.1 208.3h0M110.2 211.6h0M132.7 209.2h0M250.2 226.4h0M163.1 251.8h0M62.4 192.1h0M214 240h0M146 241.8h0M112.5 201.6h0M163.1 258.5h0M214.6 233.1h0M159.1 254.9h0M218.4 235.8h0M175.7 256.4h0M122.6 199.4h0M78.9 182.4h0M163.5 243.5h0M67.4 193.7h0M166.2 259.3h0M81.9 210.2h0M250.5 225.1h0M107.7 211.8h0M250.6 225.5h0M155.9 240.4h0M80.7 215.1h0M60.5 217.1h0M214.6 243.1h0M194.3 267.4h0M162.3 254.3h0M177.1 252.5h0M218.1 244.4h0M232.7 228.2h0M159.8 243.8h0M209.6 244.8h0M233.1 227.9h0M160.3 237.9h0M85 203.3h0M95.6 198.9h0M141.7 246.4h0M31.4 224.2h0M96.2 175.5h0M133.3 203.2h0M80.1 209.2h0M206.8 238h0M137.8 202h0M182.4 242.4h0M122.1 197.2h0M143.3 244h0M231.1 231.9h0M150.2 244.5h0M203.3 262.8h0M189.8 246h0M218.6 253.6h0M32.4 224h0M245.9 226.6h0M220.1 230.2h0M116.7 200.1h0M59 202.2h0M178.7 236.6h0M74 214.3h0M34.8 223.4h0M141.5 239.2h0M101.7 203.2h0M106.8 208.5h0M216.7 240.5h0M123.4 210.9h0M183.7 237.2h0M173.3 244.7h0M167.2 261.1h0M71.8 198.9h0M181.2 257.8h0M244.8 225.8h0M80.1 199.4h0M53.7 215.2h0M100.5 208.7h0M196.8 257.7h0M81.3 213.4h0M240.6 226.8h0M178.2 242.7h0M116.2 208.6h0M179.8 257.8h0M209.9 234.4h0M174.1 245.1h0M118.3 198.6h0M231.1 234.4h0M213.9 231.6h0M108 208.2h0M174.3 252.7h0M84 195h0M109.1 191.9h0M61.9 193.7h0M44.3 221.3h0M94.8 183.2h0M40.3 222.5h0M93.5 193.2h0M213.2 244.9h0M37.6 217.8h0M159.4 244.7h0M48.7 212.9h0M62 218.2h0M156.1 239h0M63.6 218.4h0M146.9 241.7h0M88.9 201.1h0M231.5 230.5h0M109.9 192.9h0M222.8 230.2h0M167.3 251.9h0M141.5 236.6h0M114.7 199.1h0M134.6 211.3h0M87.2 183.5h0M183.8 259.8h0M111.2 203.3h0M172.5 237h0M244.7 227.8h0M61.1 199.7h0M42.5 213.5h0M59.1 217.5h0M45.6 220h0M46.5 221.2h0M96.4 200.9h0M114.7 206.6h0M181.1 237.8h0M77.1 216.2h0M134.9 204.3h0M231.1 246.4h0M147.4 237.2h0M138.2 210.1h0M142.8 236.8h0M168.8 242.3h0M67.9 207.6h0M141.5 234.5h0M228 239.6h0M111.3 194h0M216.8 255h0M204 233.4h0M191.9 248h0M55.7 207.3h0M123.2 195.1h0M43.6 221h0M245 226h0M183 251.9h0M88.5 199h0M213 263.1h0M43.7 219h0M121 199h0M32.4 223.4h0M120.9 208.4h0M205.1 261.3h0M34.9 221.3h0M100 205.8h0M72.3 188h0M100.3 196.8h0M223.7 245.6h0M133.7 206.1h0M171.2 264.6h0M80.2 207.3h0M245.1 227.2h0M39.2 218.7h0M113.5 210.6h0M62 218.2h0M76.5 210.1h0M158.7 243.5h0M138.6 202.5h0M99 210.4h0M113.4 209.9h0M242 226.3h0M31.1 224.1h0M66.3 206.3h0M196.8 237.7h0M36.9 218.3h0M103.9 211.6h0M60.8 194.2h0M102 190.1h0M187.9 270h0M48.9 218.1h0M175.3 257.6h0M209.4 242.8h0M79.1 197.6h0M238 227.1h0M62.1 206.3h0M79.9 213.2h0M40.7 220.7h0M112.4 198.4h0M187.9 240.5h0M61.4 218.6h0M235.2 227.6h0M145.5 239.6h0M161 247.8h0M129.8 206h0M83.7 214.7h0M123.6 208.2h0M125 209.8h0M122.2 210.7h0M81.1 215.2h0M49.8 206.5h0M86.7 214.1h0M185.5 266.2h0M143.5 237.4h0M134.8 206h0M183.6 264.3h0M116.9 188.5h0M181.6 236.6h0M90.3 214.3h0M242.2 226.3h0M93.5 208.8h0M83.2 194.4h0M198.5 248.1h0M48.1 219.6h0M248 228.2h0M172.1 242.6h0M109 193.1h0M169.5 251.1h0M64.3 212.5h0M40.8 221.3h0M158.7 248.6h0M76.6 199.6h0M176.3 263.6h0M108.9 210.4h0M54.2 211h0M108.8 210.2h0M239.1 227.8h0M235.1 231.2h0M222.8 240.5h0M155.8 246.2h0M86.7 207h0M113.9 199.9h0M211.7 261.2h0M50.6 204.8h0M132.1 206.9h0M136.5 212.2h0M192.2 273.7h0M201.6 234.4h0M109.1 184.4h0M238.6 228.7h0M246.6 225.5h0M134.5 204.9h0M109.1 212.3h0M203.1 235h0M128.2 202h0M145.3 247h0M32.4 222.9h0M146.8 245.7h0M180.1 236.9h0M94.5 212.4h0M154 245.1h0M46.1 208.9h0M221 251.7h0M83.4 184h0M156.4 244.2h0M166.2 247.4h0M212.9 238.6h0M153.4 238.4h0M97.7 199.9h0M233.2 232.7h0M53.1 200h0M94.6 175.3h0M45.5 216.3h0M245.2 231.6h0M238.8 237.9h0M32.4 223.1h0M185.7 245.4h0M171.8 238.9h0M122.7 201.5h0M208.5 232.1h0M122.9 208.8h0M31.4 224.1h0M174 240h0M137.8 203.1h0M162.7 256.1h0M140.3 208.2h0M72.3 204.8h0M89.7 211.1h0M100.7 206.2h0M189 238.6h0M64 192.8h0M154.6 243.6h0M51.1 210h0M130.9 204.8h0M104.3 212.4h0M80.6 215.7h0M71.2 213.3h0M168.2 237.4h0M84.7 204.8h0M43.4 213h0M62.6 206.3h0M156.7 247.1h0M242.4 232h0M41.9 217.9h0M226.7 231.2h0M37.5 220.4h0M218.9 233.5h0M182 266.6h0M184.1 239.3h0M199.7 250.1h0M42 213.1h0M34.1 222.6h0M251.9 224.4h0M44.8 213.5h0M190 257h0M99.1 182h0M213.9 243.6h0M35.3 221.1h0M155 239.1h0M48.2 219.4h0M209.4 232.8h0M55.3 219.4h0M194 268.8h0M251.7 224.7h0M119.5 206h0M31.2 224.3h0M179.8 236h0M97 203.8h0M211.4 238.4h0M169.9 261.7h0M109.9 203.2h0M104.3 188.5h0M98 206.4h0M194.3 234.7h0M140 207.3h0M121.3 207.5h0M154.6 239.4h0M52.9 220h0M101.5 210.2h0M95.5 196.1h0M45.3 213.7h0M32.3 223.9h0M68 217h0M97.9 203.5h0M215.5 238h0M63.2 211.5h0M125.5 206.5h0M124.1 204.1h0M142.8 242.5h0M32.6 223.8h0M233.2 242.9h0M241.8 230h0M140.8 202.2h0M72.7 215.9h0M246.5 227.8h0M40 222.4h0M109.5 200.5h0M78.7 201.3h0M204.6 242.1h0M152.1 237.9h0M95.5 202.8h0M193.1 248.2h0M189.1 266.4h0M101.6 201.3h0M121.7 207.2h0M147.3 242.3h0M80.8 197.8h0M80.7 203.3h0M214.4 236.9h0M227.6 250h0M201.7 238.5h0M61.1 214.9h0M37.6 221.7h0M247.3 225.5h0M150.2 242.8h0M217.8 230.5h0M81.2 203.3h0M154.9 244.2h0M177.2 240.9h0M196.1 234.6h0M162.5 245.7h0M37.4 222.5h0M90.2 186.9h0M236.4 230.9h0M41.8 218.8h0M212.5 237.6h0M124.9 210.9h0M144.1 242.8h0M167.4 262.7h0M80.6 210.8h0M95.3 213.6h0M203.2 240.9h0M62.6 194.7h0M91.4 197.4h0M117.2 210.9h0M241.7 227.5h0M122.7 198.4h0M32.7 223.3h0M143.4 237h0M72.1 210.4h0M55.8 201.3h0M48.7 220.3h0M150.6 245.2h0M57.2 209.5h0M163.2 245.4h0M171.1 238.3h0M66.9 216.3h0M227.3 234.5h0M44.9 221.6h0M204 244.6h0M132.2 206.6h0M221.3 231.8h0M176.4 240h0M184.5 243.2h0M119.6 190.1h0M217 252h0M212.8 231.7h0M187 262.6h0M83.8 211.4h0M71.1 199.9h0M194.6 253.4h0M251.3 224.6h0M176.6 240.9h0M80.6 211.5h0M170.8 239.4h0M198.3 233.8h0M86.2 199.8h0M121.8 198.3h0M175.9 253.8h0M211.1 256.7h0M139 209.7h0M179.1 242.3h0M60.3 215.2h0M247.2 226.3h0M65.4 197h0M110.5 204.4h0M138.5 211.3h0M230 231h0M45.9 214.3h0M93.2 213.8h0M148 238.4h0M103.5 181.2h0M145.3 245.4h0M184.5 237.8h0M50.2 220.8h0M147.4 239h0M238.6 230.9h0M207.8 232.6h0M150.8 246.1h0M30.8 224.3h0M99.1 210.4h0M191.8 238.6h0M205.6 244.8h0M179.8 236.8h0M35.7 222.6h0M102.3 208.9h0M213.8 234.2h0M120.3 202.4h0M147.8 242.4h0M161.5 245.3h0M127.7 208.5h0M251.7 224.6h0M143 236.4h0M203.3 233h0M158.9 239.9h0M111.1 201.6h0M164.4 240.4h0M58.3 215.1h0M189.2 239.3h0M140 209.1h0M157.7 238.6h0M148.7 247.2h0M160.8 242.5h0M182.7 243.6h0M32.6 223.8h0M146.5 242.8h0M94.9 202.4h0M236.6 227.6h0M211 234.4h0M239.2 227h0M188.2 238.5h0M72.3 210.5h0M186.9 245.7h0M52 216.7h0M101.3 208.6h0M239.7 236.8h0M142.3 237.1h0M102.7 177.2h0M138.6 211h0M69.4 193.1h0M141.5 241.9h0M192.6 254.9h0M154.5 238.5h0M150.6 245.5h0M236.1 233.4h0M240.9 229.8h0M68 193.1h0M195.9 249.5h0M151.9 238.3h0M42.8 221.8h0M233.6 229.7h0M64.9 217.1h0M251.9 224.4h0M241.7 229.1h0M43 218.8h0M200.7 250.3h0M89.2 191.5h0M226 230.7h0M208.9 232h0M238.1 227.2h0M62 208.6h0M61.1 200.4h0M124 205.9h0M216.5 230.7h0M182 258.7h0M228.5 245.1h0M170.4 238.8h0M124 207.4h0M214.3 233.4h0M36.1 220.8h0M84.3 181.2h0M144 243.3h0M236.4 241.2h0M192.1 270.5h0M75.8 199.1h0M217 235.8h0M122.8 195.9h0M35.8 223.2h0M143.6 235.7h0M193.9 235.5h0M62.3 213h0M174.7 262.8h0M59.9 199.6h0M40.7 221.7h0M238.1 228h0M31.1 224.1h0M240.7 228.6h0M186.4 236.9h0M92.6 212.2h0M116.2 190.6h0M185.7 238.1h0M190.8 236.3h0M30.8 224.3h0M54 200.2h0M151.1 240.6h0M175.1 237.6h0M33.3 222.1h0M91.9 208.7h0M206 234.6h0M224.1 229.5h0M139.7 206h0M197.3 246.5h0M72 201h0M135.5 210.5h0M219.4 256.8h0M106.8 207h0M204.5 249.5h0M56.5 201.1h0M80.8 205.8h0M124.1 210.7h0M64.4 213h0M95 209.8h0M138.3 208.3h0M32.6 223.9h0M74.8 199.1h0M132.9 210.6h0M93.8 210.2h0M132.3 202.3h0M211.5 238.6h0M128 201h0M199.4 241.2h0M203.8 252.5h0M115.8 195.3h0M131.8 209h0M33.1 222.9h0M46.7 218.7h0M233.2 227.9h0M37.1 221.4h0M66.6 193.6h0M182.8 251.6h0M212 247.8h0M190.2 265.7h0M115.5 207.7h0M185.1 267.4h0M145.7 243.1h0M170.7 253.4h0M190 245.7h0M143.5 242.8h0M200.6 233.5h0M79.6 207.5h0M166.5 246.4h0M181.7 236.8h0M172.3 243.3h0M155.3 242h0M122.7 200.2h0M67.2 217.6h0M219.4 235.9h0M84.7 212.1h0M74.2 213.6h0M46.3 215.9h0M97.9 180.3h0M90.5 207.6h0M84.2 210.1h0M111.5 206.2h0M133.7 209.2h0M68.2 190.9h0M173.6 243.9h0M186.8 235.3h0M52 205.8h0M170.3 241.8h0M59.9 215.3h0M201.6 250h0M163.2 244.8h0M227.4 245.1h0M78.2 211.2h0M75.9 187.2h0M127.1 210.8h0M109.6 210h0M158.1 240.7h0M134.6 210.1h0M99.5 212.9h0M161.1 239.6h0M67.1 204.8h0M236.2 228.7h0M135.2 211.7h0M164.4 241.3h0M219.1 253.5h0M97.1 193.9h0M193.8 234.4h0M173.2 242.2h0M224 229.9h0M172.5 236.7h0M200.9 234.3h0M64.8 203h0M66.4 206.9h0M50.9 219.4h0M168.1 237.7h0M250.8 225.6h0M34.7 223.6h0M139.9 212.4h0M164.9 240.4h0M85.7 188.6h0M87.1 185h0M134.8 207.5h0M191.9 252.1h0M133.6 210.8h0M123.1 201.4h0M101.1 179.1h0M218.5 234.4h0M154.4 237.8h0M142.3 237.4h0M224.3 233.8h0M207.2 232.3h0M146 245.4h0M166.9 245.3h0M90.7 195.8h0M242.5 231.4h0M135.6 211.8h0M191 263h0M189.4 241h0M194.1 242h0M180.1 236.8h0M202.1 246.3h0M128.8 208.6h0M165.1 254.7h0M241.9 230h0M120.4 203.6h0M222.3 233.9h0M217.2 248.6h0M229.9 242h0M234.9 237.4h0M203.9 253.5h0M85.5 213.1h0M145.9 240.8h0M195.6 238.7h0M192.6 239.7h0M103.3 202.4h0M212.4 244.8h0M156.9 245.4h0M137.6 204.2h0M228.4 233.2h0M187.3 236.5h0M177.5 253.2h0M247.5 226.3h0M99.2 200.1h0M182 260.5h0M66.4 213.8h0M207.2 244.2h0M66.3 218.1h0M175.7 236.6h0M246.2 225.5h0M123.7 206.8h0M156.5 251.2h0M238.9 237.9h0M235.6 227.7h0M160.7 241.9h0M73.2 215.5h0M64.1 216.4h0M127.9 202.4h0M119.5 205.4h0M192.1 255.1h0M110.1 212.2h0M50.4 212.5h0M53.8 211.4h0M228 241.1h0M110.8 195.1h0M118.4 210.6h0M91.6 190.4h0M134.5 206.8h0M51.2 216.7h0M142.3 238.8h0M220.8 233.8h0M217.3 254.5h0M170.4 237.7h0M129.5 207.1h0M40.6 220.8h0M242.6 232h0M221.7 234.3h0M192.7 266.3h0M165.6 249.1h0M230.5 237.5h0M244.4 229.9h0M187.6 237.7h0M32 223.6h0M244.2 231.1h0M36.7 223.2h0M126 204.5h0M144.1 244.7h0M198.9 253.7h0M189.9 274h0M157.3 238.1h0M41.5 220.8h0M70.8 191.8h0M84.2 207.7h0M117.9 188.9h0M234.6 236.1h0M241.1 228.6h0M39.3 222.4h0M39.9 217.9h0M195.3 260.1h0M168.3 238.1h0M228.4 245.7h0M196.8 248h0M223.9 247.6h0M81.5 203.4h0M216.5 254.1h0M94.3 203.4h0M164.1 238.3h0M195 234.6h0M40.8 217.4h0M126.6 198.8h0M111.7 208.2h0M134 205.5h0M107.1 179.6h0M148.6 245.2h0M58.9 209h0M227.8 231.7h0M61 218.7h0M96 202.3h0M139.5 213.4h0M145.3 239.2h0M70.4 205h0M43 217.1h0M238.5 234.2h0M101.4 201h0M112.5 205.1h0M168.5 261.5h0M119.9 209h0M157 239.4h0M194.3 247.9h0M58.8 219h0M177.5 238.4h0M240.2 228.3h0M81.6 208.5h0M224.6 238h0M162.1 242.9h0M76.4 209.1h0M186.8 239.4h0M196.9 233.9h0M124.5 205.2h0M229 247.3h0M179.5 270.5h0M198.2 233.8h0M61.7 218.8h0M148.6 243.1h0M211.5 251.5h0M99.8 212.2h0M51.1 209.7h0M109.4 207.2h0M125.2 206.7h0M126.4 205.7h0M178.3 238.3h0M141.7 240h0M227 231.2h0M177.8 239.9h0M57.7 199.6h0M149 238.5h0M94.8 202.9h0M76.5 209.8h0M51.4 220.4h0M158.1 241.7h0M117.7 208.7h0M94.6 205.8h0M130.7 210.9h0M110.3 186.1h0M216.7 245.1h0M63.3 214h0M71.3 206.4h0M177.3 236.5h0M138.4 203.4h0M108.5 200.4h0M144.9 238.7h0M123.8 210.6h0M171.3 265.9h0M125.3 201.5h0M35.9 222.9h0M171.9 256.1h0M137.3 212.8h0M63 218.3h0M86.1 201.2h0M96.2 212.2h0M66.5 214.1h0M84.5 214.5h0M176.4 262h0M130.7 210.5h0M203.7 235.1h0M102.4 206.3h0M89.4 197.6h0M246.8 226.9h0M175.4 245.6h0M237.2 227.9h0M32.9 221.9h0M242.9 227.7h0M72.4 188.3h0M75.5 216.5h0M152.1 243.6h0M65.6 218.2h0M111.7 194.4h0M92.7 175.6h0M148.1 244.4h0M180 237.3h0M93.2 175h0M99.3 210.2h0M59.9 218.5h0M52.7 208.7h0M160.2 254.5h0M88.4 179.5h0M117.2 202.1h0M192.8 244.9h0M54.3 219.3h0M246.9 226.3h0M228.9 228.7h0M169.9 237h0M197.9 247.5h0M64.9 216.5h0M231.6 231.8h0M61.8 212h0M88.5 200.8h0M245.7 225.8h0M191.3 248.5h0M137.5 210.8h0M167.7 258.3h0M168.9 240.4h0M78.4 214.5h0M95.1 194.1h0M143.1 242.5h0M32.5 223.8h0M81.4 214h0M184.1 239.9h0M243 232.5h0M156.3 243.2h0M137.6 209.8h0M141.2 209.6h0M221.9 235.9h0M38 219.9h0M191.7 257.6h0M104.4 203.1h0M90 198.6h0M44.2 213.2h0M214.5 257.2h0M42.2 216.1h0M58.3 213.2h0M55.4 217.5h0M186.9 238.9h0M167.1 240.7h0M98.2 190.4h0M77.2 205.1h0M58.4 215.3h0M44.5 212.7h0M208.2 254.9h0M65.2 209.4h0M239.3 231.6h0M155.8 244.8h0M220.1 233.1h0M31.8 223.4h0M112.3 211.8h0M184.6 249.6h0M110.5 209.2h0M182.1 250.1h0M93.2 209.2h0M175.7 236.5h0M179.6 239.7h0M222.8 240.3h0M188.9 257.4h0M113.1 193.7h0M161.7 239.6h0M68.9 214.4h0M206.4 257.8h0M36.1 221.5h0M57.8 217.3h0M118.2 210.9h0M124 207h0M48.4 212.4h0M169.5 256h0M241.4 226.7h0M50.7 205.1h0M151.5 237.7h0M77.9 212.1h0M87.9 202.1h0M202 236.6h0M41.3 219.8h0M78.8 198.6h0M37.7 222.4h0M198.7 256.3h0M136.1 202.8h0M143.8 237.2h0M199.1 240.1h0M159.1 238.2h0M206.1 236.8h0M138.5 207.2h0M235.3 227.6h0M120.5 193.3h0M208 232.6h0M86.1 196.6h0M96.3 192.7h0M149.4 247.4h0M236.2 230.7h0M122.9 194.4h0M246.9 229.5h0M169 237.9h0M184.1 249.5h0M139.2 207.4h0M247.2 227.5h0M212.6 243.6h0M130.2 207.3h0M63.5 217.5h0M90.7 188.4h0M233 233.8h0M95.2 208.2h0M88.7 206.3h0M104.8 212.4h0M231.9 241h0M200.2 245h0M178.7 256.3h0M54.7 219.9h0M227.4 230h0M112.3 185.6h0M106.2 210.4h0M141.6 242.7h0M151.1 238.1h0M216.3 254.4h0M191 260h0M231.2 244.4h0M244.6 226.3h0M95 212.1h0M127.6 199.3h0M92.8 210.6h0M235.4 242.8h0M156.9 237.9h0M74.3 189.7h0M232.3 231.5h0M177.6 267.8h0M63.8 218.2h0M77.5 213.7h0M136.2 202.6h0M232.8 228h0M225.4 250.5h0M171.9 241.8h0M174 237.7h0M57.6 205.4h0M148.9 242.9h0M105.6 212.5h0M192.8 267.4h0M163.1 256.2h0M229.4 242.2h0M60.1 209.9h0M234.3 229.4h0M83.1 181.6h0M65.7 200.6h0M46.3 220.8h0M50.7 219.4h0M197.9 258.9h0M43.8 217.3h0M187.4 241.2h0M95.9 198.6h0M115.6 206.2h0M121.9 193.7h0M72.9 204h0M111.6 199.1h0M210.2 246.7h0M166.2 239.1h0M249.4 225h0M193.6 235.3h0M53.2 211.4h0M144.4 241.3h0M168.9 237.2h0M191.3 264.7h0M151.9 243.4h0M55.8 218.7h0M244.1 226.2h0M110 203.7h0M59.5 205.3h0M232.6 229h0M60.8 218.4h0M195.2 234.8h0M124.5 199.7h0M135.4 209.8h0M91.4 208.2h0M146.1 244.8h0M239.1 231.1h0M192.5 262.4h0M78.8 212.8h0M184.1 239.3h0M179.8 267.8h0M246.8 227.1h0M129.7 206.5h0M78.6 207.2h0M200.5 260.3h0M143 236h0M249 225h0M78.2 208h0M196.4 241.8h0M171.2 251.1h0M37.5 217.2h0M223.5 254h0M97.4 210h0M86.7 202.9h0M162.6 238.8h0M134.3 202.8h0M150.5 243.1h0M129.9 200h0M58 213.4h0M201.7 266.7h0M184.9 257.8h0M141.8 240.8h0M97.1 212.8h0M251.4 224.6h0M230.7 228.8h0M94.7 213.3h0M230.3 240.8h0M146.6 238.4h0M139.9 203.1h0M55.3 217.3h0M232.1 232.5h0M73.1 205.6h0M239.5 226.8h0M167.2 237.6h0M133.1 210.8h0M182.8 272.6h0M219.3 254h0M66.5 193.1h0M218.9 233.7h0M188.5 257.2h0M140.7 211.5h0M190.9 255.5h0M133 208.5h0M214.2 237.3h0M202.4 236.1h0M62.7 200.2h0M131.4 203.4h0M239.8 227.1h0M78.1 194.9h0M113.6 203.7h0M229.3 238.2h0M37.7 218.5h0M33.9 223.3h0M151.7 240.8h0M166.6 249.1h0M233.1 233.2h0M127.9 210.8h0M217.5 255.3h0M187.8 247.6h0M137.8 212.5h0M78 181.7h0M138.2 204.2h0M163 237.7h0M78.4 214.9h0M206.5 240.2h0M115.8 206.1h0M118.2 195.7h0M160.4 249.7h0M170.9 237.5h0M129.6 201.6h0M207 260.5h0M30.7 224.4h0M245.9 227h0M176.6 242.3h0M251.2 224.6h0M96.9 183.4h0M230.6 242.3h0M240.6 226.7h0M155.2 249.1h0M81.1 208.7h0M184.9 264.3h0M219.5 249.7h0M78.4 188.5h0M162.8 240.7h0M207.2 254.7h0M66.3 217h0M33.2 223.1h0M164.9 237.7h0M85.1 214.7h0M56.3 218.3h0M160.9 241.1h0M46.4 221h0M153.1 240.8h0M200.6 238.4h0M69.8 197.3h0M198.6 259.4h0M165.9 248.8h0M41.9 220.8h0M112.9 211.6h0M56.8 199.4h0M133.4 208.3h0M125.9 209.9h0M73.9 206.1h0M149 237.6h0M170.1 248.9h0M225.2 231.7h0M98.7 187.3h0M57.3 216.7h0M114 206h0M75.3 212.7h0M51.2 206.2h0M52.1 214.3h0M238.7 233.2h0M226.8 251.7h0M165 248.1h0M233.9 228.2h0M230.7 239.2h0M113.8 203h0M162.3 241.3h0M204.2 249.9h0M199.4 237h0M82.9 190.5h0M133.7 203h0M127 208.4h0M111.7 203h0M211 233.8h0M169.2 237h0M92.3 201.1h0M167.6 261.1h0M162.5 237.8h0M183.1 236.8h0M202.4 247.8h0M127.1 201.9h0M35.7 223.1h0M78.4 213.3h0M238.3 237.7h0M122.7 210h0M51.8 220.3h0M235.1 227.6h0M224.6 238.9h0M171.9 242.1h0M90.4 196.1h0M174.3 249.3h0M245.1 226.3h0M183.4 266.5h0M123.4 207.2h0M43.2 221.1h0M70.2 217.3h0M241.9 226.4h0M34.5 223.4h0M230 228.7h0M208.2 238.1h0M61.9 198.3h0M78 210h0M184.3 235.7h0M77 210.1h0M245.8 227.2h0M72.4 203.7h0M88.9 198.7h0M193.2 254.8h0M179.6 259h0M92.2 185.9h0M56.3 212.5h0M80.8 185.8h0M134.5 211.2h0M238 238.1h0M161.2 240.8h0M216.2 259.3h0M237.5 227.3h0M232.4 239.2h0M161 254.7h0M125.8 203.9h0M227.4 247.1h0M248.9 226.7h0M93.1 212.9h0M103.1 192.1h0M96.6 213.5h0M182.6 253.1h0M42 216.6h0M109.3 209.9h0M230.4 244.1h0M240.1 235.3h0M57.2 215.8h0M120.9 193.1h0M240.5 232.5h0M192 235.1h0M34.3 223.2h0M153.4 249.4h0M90.1 207.6h0M138.2 205h0M111.8 207.8h0M140.1 208.2h0M202.6 250.7h0M239.9 237.8h0M123.7 204.1h0M77.2 207.8h0M46 221.1h0M214 242.2h0M52.6 203.8h0M136.2 212.2h0M158 252.9h0M69.7 200.5h0M95.6 176.6h0M220.9 230.6h0M240.3 235.6h0M63.8 213.4h0M227.7 249.7h0M79.5 214.3h0M211.1 243.6h0M170 237.3h0M124.5 208.9h0M188.7 255.3h0M146.8 237.2h0M232.1 231.7h0M160.6 241h0M35.3 222.9h0M123 202.9h0M164.5 249.3h0M225.2 229.3h0M177.3 260.3h0M74.8 198.2h0M37.2 218.7h0M209 249.9h0M86.4 214.4h0M148.3 238.6h0M183.2 257h0M198 249.9h0M119.2 206.8h0M243.8 230.4h0M52.7 211.3h0M153.2 237.8h0M112.3 200h0M35.8 223.3h0M88.6 176.9h0M68.4 217.5h0M131.5 204h0M83 206.9h0M181.5 256.3h0M251.5 224.8h0M190.4 239.1h0M237.3 235h0M144.1 237.8h0M31.2 224.2h0M153.5 249.3h0M153.5 248.5h0M191.8 237.8h0M225 240h0M57.8 216.2h0M64.1 195h0M86.7 212h0M80.7 215.7h0M169.7 248.2h0M187.1 262.9h0M224.8 253h0M79.6 215.9h0M161.6 254.6h0M133.4 211.5h0M125 202.9h0M116.1 189.3h0M51.8 218.1h0M162.7 238h0M189 243.8h0M79.9 212.5h0M90 211.4h0M188.7 236.3h0M223.4 234.1h0M47.7 220.4h0M198.6 263.8h0M35.4 223.4h0M120.8 200h0M236.4 236h0M48.4 217.4h0M162.1 244.7h0M47.5 216.4h0M238.9 227h0M185.5 256.1h0M86.6 214.8h0M86.4 176.7h0M101.4 212.1h0M178.1 244.2h0M225 241.9h0M113 195.5h0M234.3 229.1h0M238.2 231.6h0M41.8 216.9h0M118.4 198.5h0M101.3 191.7h0M236.6 229h0M242.2 226.3h0M237.9 230.2h0M227.7 228.9h0M172.2 247.5h0M224 229.9h0M171.6 237.1h0M190.5 253.5h0M153.6 244.4h0M248.1 225.8h0M135.5 203.2h0M83.1 196.1h0M110.4 203.8h0M162.6 239.7h0M219.6 231.8h0M195.4 265h0M54.7 216.2h0M119.3 211.1h0M153.1 242h0M166.5 237.5h0M130.9 203h0M157.3 238.8h0M126.8 210.6h0M44.4 216.1h0M236.5 227.8h0M37.9 219.8h0M190.4 257.1h0M209.1 241.9h0M55.8 216.7h0M98.5 204.1h0M98.4 194h0M92.6 205.4h0M175 237.7h0M125.9 203.3h0M128.7 210.2h0M70.8 213.1h0M192 262.3h0M83.7 194.6h0M120.9 201.7h0M242.8 227h0M207.9 242h0M244.8 225.9h0M59 217.8h0M248.6 227.8h0M55.9 217.8h0M166.4 254h0M63.7 218.5h0M70.9 215.5h0M147.2 245.4h0M71.6 217.2h0M180.4 239.2h0M217.5 230.5h0M234.1 241.5h0M178.1 236.1h0M66.7 193.4h0M198.4 265.9h0M129.1 210.4h0M205.8 234.6h0M184 237.6h0M151.5 239h0M107 211.8h0M140.5 210.8h0M161 251.3h0M210.1 245.4h0M246.7 227.8h0M140.1 206h0M198.9 238.4h0M170.6 237h0M33.9 223.8h0M138.5 207.3h0M167.4 237.4h0M248.3 225.4h0M97.6 196.8h0M195.6 240.4h0M134.3 201.9h0M49.3 214.8h0M242.7 226.2h0M236.6 227.5h0M40.4 221.4h0M54.8 201h0M179.2 240.7h0M94.8 206h0M86.6 209.7h0M214 239h0M59.9 205.6h0M74.9 201.6h0M159 243.4h0M57.2 210.6h0M241 226.6h0M238.3 230.2h0M185.1 235.4h0M57.5 202h0M117 203.5h0M57.9 211.7h0M227.8 229.2h0M241 227.8h0M66 196.3h0M115.4 208h0M138.5 207.9h0M232.8 233.7h0M33.9 221.4h0M175.4 249.3h0M213.4 245.2h0M203 240.7h0M121.7 210.4h0M51.2 202.4h0M79.9 203.5h0M112.1 189.6h0M215.4 231h0M201.3 234.3h0M81.7 190.5h0M81.7 206.7h0M228.3 228.7h0M100.3 195.3h0M43 218.1h0M141.4 236.7h0M212.5 258.8h0M108.8 211.7h0M128 210.5h0M216 245.3h0M127.1 202h0M87.7 205.5h0M85.3 210.8h0M110.9 185.4h0M45.7 220.7h0M184.4 259.1h0M225.7 246.5h0M58.1 208h0M230.3 232.7h0M166.9 249.7h0M84 215h0M63 195.1h0M173.9 253.5h0M153.7 237.8h0M57.2 200.3h0M207 246.3h0M77.3 201.3h0M225.1 233.3h0M96.3 190.8h0M143.3 246.3h0M90.5 194.7h0M163.5 247.1h0M203.7 239.8h0M61.3 218.2h0M139.7 213.3h0M108.9 210.9h0M141 211.7h0M143.5 246.7h0M41.5 222.1h0M174 260h0M131.5 202.6h0M204.3 247.4h0M143 235.2h0M83.5 209.7h0M133.9 205.1h0M120.2 208.6h0M37.9 219.4h0M220.3 236h0M211.7 243.7h0M67.3 212.8h0M240.5 227.3h0M223 229.8h0M146.4 246h0M129.2 205.1h0M65.9 197.8h0M72 197.7h0M106 211.8h0M130.1 210.7h0M189.7 237.5h0M75.4 216.5h0M46 215.9h0M57.1 217.9h0M241.7 232.6h0M83.4 211.9h0M71 217.3h0M75.8 186.5h0M55.2 217.9h0M160.8 243.9h0M158.5 247.9h0M224.7 231.8h0M55.4 209h0M166.2 241.1h0M48.9 209.8h0M38.4 220h0M154.3 238.5h0M226.7 246h0M226.8 245.5h0M31.8 224.1h0M32.1 223.5h0M58.6 202.3h0M207.6 265.7h0M51 209.7h0M65.1 216.9h0M222.3 230.4h0M53.8 206h0M44.9 210.9h0M241.1 234.7h0M171.1 244h0M112.2 194.7h0M84.5 196.1h0M219.5 236.7h0M96.7 206.5h0M148.7 246.7h0M216.5 237.6h0M125.6 203h0M170 255.6h0M196 246.9h0M144.1 239.5h0M53.1 215.5h0M31.1 224.2h0M93.7 211.2h0M83.8 185.6h0M37.3 222.8h0M132.1 204.1h0M138.8 206.1h0M172.3 241.2h0M68.2 216.4h0M74.1 193h0M97.3 183.8h0M103.5 193.7h0M50 205.9h0M248.3 226.3h0M168.2 257.3h0M206.1 247.9h0M103.2 191h0M65.3 194.9h0M167.5 239.2h0M85.5 207.6h0M228.9 232.4h0M61.9 202.8h0M103.6 195.3h0M113.4 202.7h0M61.8 208.4h0M34.8 221.1h0M217 256.7h0M236.4 229.5h0M38.1 222.7h0M165.7 237.7h0M151 237.8h0M190.6 272.9h0M42.1 222.1h0M248.7 225.7h0M107 201.9h0M229.2 241.4h0M57.5 219.5h0M97.9 203.2h0M47.2 221.3h0M109.3 211.1h0M120 208.9h0M131.8 211.3h0M235.7 229h0M79.8 192.4h0M50.6 212.6h0M191 272.2h0M45.6 211.1h0M81.4 190.2h0M127.2 207h0M116.7 199.4h0M207.9 254.9h0M237.6 228.9h0M236.2 232h0M115.8 203h0M215.1 232.5h0M144.4 241.4h0M207.7 233.1h0M239.3 232.7h0M230.2 235.6h0M34.6 222.2h0M185.8 249h0M132.5 210.1h0M161.3 240.3h0M149 237.3h0M202.3 260h0M212.7 240.5h0M181.8 236.5h0M94.5 211.5h0M32.2 223h0M53.3 218.5h0M63.4 216.3h0M115.7 211h0M79.1 191.8h0M44.1 221h0M108.4 210.3h0M250.1 225.7h0M244.6 227.7h0M222.2 247.5h0M133.6 206.9h0M120.4 206.9h0M81.1 180h0M127.8 209.3h0M97.2 212.4h0M201.1 233.5h0M113.8 184.9h0M91.6 209.5h0M115.5 204.5h0M51.5 215.7h0M206.9 265h0M115.2 206.9h0M162.9 250.9h0M204.4 259.7h0M175.6 236.3h0M82.3 209.1h0M116.7 208.1h0M99.7 204.2h0M230.8 247.5h0M32.8 222.6h0M248.9 225.2h0M246.6 225.5h0M92.1 195.7h0M157.6 247.8h0M162.6 242.6h0M66.6 200.2h0M58.3 219.2h0M149.4 238h0M177.1 237.9h0M93.1 208.3h0M94.5 179.7h0M121 200.1h0M54.7 212.9h0M138.2 202.4h0M201.8 244.8h0M96.9 210.7h0M73.8 204.7h0M30.9 224.3h0M230.1 232.7h0M173 236.6h0M44.6 221.7h0M216.1 248.1h0M248.2 225.6h0M226.4 244.8h0M78.2 213.7h0M207.8 238.7h0M243.8 226.3h0M136.1 207.7h0M59 200.2h0M246.2 230.4h0M96.7 180.2h0M207.4 245.5h0M221.2 246.9h0M42.2 221.8h0M90.9 202.4h0M85.3 213.1h0M199 237.3h0M140.5 212h0M198.4 248.6h0M104.6 204.9h0M157.3 239.2h0M62.5 210.6h0M32.1 223.9h0M46.4 221.5h0M141.2 214h0M65.3 208.7h0M38.9 220.9h0M161.3 248.2h0M88.8 208.8h0M128.1 210.7h0M143.3 245.3h0M181 238.2h0M69.7 217.4h0M220.6 234.6h0M206 232.8h0M124.2 196.3h0M214.8 237.3h0M218.6 256.5h0M54.2 212h0M111.3 193.9h0M94.6 191.4h0M191.1 257.3h0M171.3 250.6h0M41.6 222.2h0M83.1 199.7h0M137.6 211.4h0M37.6 223.1h0M92.9 213h0M219.1 247h0M197 238h0M125.7 201.1h0M40.5 222.2h0M211.5 248.1h0M80.9 212.6h0M142.8 235.1h0M34.6 223.6h0M181.4 236.2h0M170.4 236.9h0M240 227.9h0M164 250.2h0M213.8 231.5h0M46.5 220h0M190.1 269h0M71.2 191.6h0M243.1 227.6h0M38.9 222.5h0M85.5 192.8h0M187.3 236.8h0M158.4 251.1h0M44.4 221.8h0M44.9 209.2h0M44.6 220.6h0M98 191.2h0M40.7 216.6h0M35.2 223.5h0M44.6 221.8h0M192.1 236.8h0M60.9 218.9h0M194.5 246.9h0M136 206.6h0M182.7 235.8h0M34.1 222.3h0M222.8 229.9h0M179.1 236.6h0M70 214.4h0M103.1 204.6h0M137.9 207.3h0M242.5 227.9h0M79.4 209.7h0M52.4 217.7h0M60.3 213.4h0M60.4 208.2h0M123 209.3h0M228.8 229.1h0M251.2 225h0M112.8 194.3h0M225.7 229.2h0M199 239.8h0M50 220.9h0M114 211.6h0M43.1 211.8h0M138.2 205.2h0M198.5 265h0M75.4 195.7h0M61.5 214.2h0M239.7 226.7h0M95.1 200h0M39.6 219.4h0M169.3 238.9h0M40.1 221h0M91.2 186.2h0M229.6 248.3h0M79.6 204.8h0M122.3 204h0M129 205.2h0M248.3 228.6h0M187.9 235.6h0M213.6 239.9h0M71.1 204.5h0M152.3 239.8h0M76.1 213.9h0M130.8 208.6h0M237.9 234.2h0M110.3 212.1h0M162.6 237.7h0M191.6 249.8h0M148.9 241.7h0M38.7 222.2h0M138.4 205.5h0M172 239h0M41.7 218.5h0M131.1 210h0M244.5 229.5h0M237.1 228.1h0M157.7 250.8h0M105.7 212.6h0M235.7 227.8h0M44.5 217.1h0M141.6 241.9h0M171.8 242.6h0M97 193.3h0M199.3 258h0M222.6 242.9h0M194.3 234.5h0M141.5 237h0M83.7 204.4h0M64.6 190.2h0M98.1 203.6h0M216.1 259.4h0M110.9 184.5h0M93.7 211.8h0M175.5 256.3h0M106.2 209.8h0M65.8 195.2h0M171.6 260.2h0M189.1 244.7h0M157.5 250.1h0M139.1 211.7h0M218 241.1h0M202.3 242.4h0M99.4 209.6h0M196.9 240.4h0M242.1 227.8h0M237.5 231.8h0M36.7 223.1h0M149.3 246.4h0M79 213.3h0M79.6 207.4h0M193.8 273h0M176.1 252.5h0M99.2 193.4h0M186.3 235.4h0M185.9 260.6h0M52.1 217.4h0M46.1 211.3h0M191.7 240.9h0M229.4 229h0M106.6 209.7h0M65.7 201h0M188.1 239.1h0M92.8 212.7h0M54.8 204.4h0M64.5 209.1h0M213.5 235.9h0M232.8 229.2h0M99 208.2h0M242.7 228.7h0M219.8 235h0M180.2 236h0M177.8 263.4h0M137.2 208.3h0M74.2 207.1h0M127.4 210.2h0M109 196.1h0M177.9 236.6h0M110.8 206.9h0M226.1 238.2h0M153.5 238.5h0M71.4 211.2h0M57.5 218.6h0M101 195.9h0M74.9 188.9h0M216.2 230.9h0M189.1 240h0M129.2 204.4h0M81.4 213.6h0M115.7 211.2h0M97.7 208.6h0M56.8 217.6h0M200.9 256.6h0M233.9 243h0M176.4 236.2h0M34.1 221.2h0M161.8 241.1h0M176.5 236.4h0M198.3 241.7h0M55.2 219.9h0M127.8 208.7h0M203.1 265.2h0M66 212.3h0M136.9 210.1h0M89.5 212.3h0M77.2 198.7h0M158.7 238.6h0M52.8 214.3h0M117.7 210.4h0M48.4 209.8h0M83.7 206.4h0M76.8 214.6h0M118.2 211.2h0M77.6 205.2h0M142.6 239.2h0M188.1 243.1h0M213.8 243.3h0M88.4 197.4h0M225.8 246h0M248.8 225.4h0M244.9 229.1h0M170 242.8h0M149.9 238.8h0M212.2 232.2h0M102.8 181.3h0M31.6 223.6h0M134.3 206.6h0M63.2 195.4h0M141.7 235.6h0M174.2 243.6h0M92.7 193.1h0M251 224.7h0M77.5 200.4h0M202 248.9h0M40.4 214.5h0M169.8 238.9h0M35.5 223h0M169.5 243.4h0M44.4 221.2h0M219.9 239.9h0M245.3 229.2h0M143.4 238.2h0M84.5 210.3h0M110.1 210.3h0M162.6 239.3h0M68.6 211.5h0M189.7 245.1h0M145.5 236.3h0M225.9 234.3h0M150.8 238.8h0M33.4 222.8h0M163.6 246.8h0M113.8 209.8h0M150.1 240.3h0M238 228.4h0M127.6 209.6h0M102 208.9h0M239.5 229h0M143.4 239.6h0M134 211.8h0M236.1 232.1h0M104.6 207.7h0M88.1 176.8h0M71.2 202.8h0M243.5 227.9h0M211.5 231.7h0M214 231.2h0M205.2 254.6h0M204.6 243.3h0M98.7 193.1h0M46.7 219.7h0M102.8 212.5h0M90.9 203.8h0M141.7 242h0M146.5 237.8h0M119.6 211h0M77.3 208.1h0M117.7 203.4h0M93.6 195.7h0M116 193.8h0M156.4 249.7h0M170.7 238.6h0M112.8 190.9h0M108.6 210.3h0M36 222.2h0M200.1 233.4h0M207 232.3h0M36.1 222.2h0M87.2 213.6h0M232.6 232h0M136.2 211.7h0M98.5 213.2h0M194.5 238.7h0M76.5 211.9h0M224.5 232h0M252 224.4h0M148.3 243.3h0M250.3 225.3h0M44.2 212.6h0M199.3 252h0M183 265.3h0M165.5 238.4h0M250.6 225.6h0M106.3 212.2h0M48.4 219h0M159.8 237.9h0M211.4 236.7h0M216.6 258.8h0M236.7 227.6h0M78.4 215.9h0M126.3 210h0M75.8 213.7h0M175.6 261h0M67.9 217.8h0M213.7 236.1h0M61.6 218.9h0M194.8 241.8h0M172.4 239.7h0M173.2 237.5h0M244.3 229.4h0M239.7 230h0M31 224.3h0M185 241.1h0M42 214.9h0M216 247.4h0M241.7 229.8h0M210.8 236.4h0M182.4 246.6h0M199.6 245.3h0M245.8 225.6h0M107.7 207.4h0M96.4 197.7h0M237 236.4h0M198.8 260.2h0M99.7 193.6h0M233 228.3h0M232.4 230.1h0M102.1 212.9h0M111.1 187.2h0M223.8 234.1h0M202.4 263.9h0M130.9 208.9h0M234.3 236.4h0M86.3 181.8h0M155.8 238.9h0M163.1 237.8h0M43.9 213h0M84 207.4h0M124.1 209.1h0M218.2 237.8h0M238.8 234.8h0M104.3 205.5h0M34.6 219.9h0M59 194.8h0M79 208.1h0M109.3 201.2h0M34.7 222.8h0M161.2 237.8h0M68.8 208.2h0M247.4 227.9h0M56.8 216.2h0M233.8 227.8h0M228.2 229.2h0M49.2 205.9h0M155.3 243.9h0M48.7 220.1h0M92 178.7h0M84.7 178.5h0M99.2 178.4h0M215.7 260h0M241.3 227.3h0M118.4 192h0M71.9 183.3h0M76.9 206.5h0M119.4 194.2h0M168.3 259.4h0M204.8 233.4h0M40.3 222.3h0M115.8 210.8h0M177.6 251.8h0M140.6 208h0M152.7 242.7h0M226.4 232.5h0M195.6 272.3h0M116.8 209.2h0M68.1 216.8h0M116.8 202.4h0M126.1 199.7h0M103.3 212.6h0M188 248.9h0M82.4 208h0M167.5 238.6h0M241.6 235.6h0M57.4 206.1h0M133.6 202.1h0M121.2 199.1h0M158 248.1h0M108.4 201.8h0M123.7 207.2h0M44.7 209.8h0M55.4 219.8h0M98 187.4h0M180.8 248.3h0M200.5 244.5h0M134.4 202h0M221 256h0M248.9 227.4h0M214.6 243.1h0M163.7 237.7h0M200.9 233.4h0M95.7 209.1h0M104.9 209.5h0M81.2 215.6h0M97.5 178.1h0M200.5 235.4h0M45.5 220.4h0M185.4 267.4h0M228.5 228.9h0M180.8 243.5h0M189 260.7h0M153.9 238.6h0M62.2 204.6h0M159.5 239h0M243.7 230.8h0M191.5 242.3h0M223.3 240.7h0M201 263.8h0M132.6 209.8h0M240.4 234.2h0M184 239.5h0M91 214.2h0M56.3 219h0M73.3 215.6h0M73 212.2h0M192.6 240.1h0M207.5 234.3h0M81.7 212.6h0M190.5 264.5h0M146.8 245.6h0M98.8 193.8h0M193.7 259.7h0M251 224.7h0M35 223.5h0M163.3 238.6h0M80.6 195.5h0M49.6 209.4h0M158.3 238.6h0M155.5 242.7h0M151 246h0M55.1 211.8h0M180.2 246.2h0M150.5 243.8h0M192.6 234.5h0M212.8 232.4h0M251.4 224.7h0M74.5 188.7h0M241 236.2h0M134.8 211.8h0M74.6 192.6h0M97 213.3h0M212.6 231.6h0M234.4 239.6h0M171.3 249.4h0M140.8 214h0M201.5 254.6h0M185.6 235.6h0M150.8 237.7h0M233 232h0M223.7 231.2h0M174.9 267.4h0M63.4 193.8h0M151.6 243.4h0M48.5 208.7h0M49.7 220.2h0M108.7 210.3h0M115.6 208.5h0M71 216.5h0M126.4 208.6h0M105.7 208.4h0M188.2 239h0M186.1 236.5h0M199.2 234.7h0M126.5 206.7h0M242.4 226.9h0M52.1 219.9h0M136 210.7h0M71.7 214.6h0M184.9 239.3h0M207.6 233.4h0M131.2 209.7h0M154.3 239.8h0M170 241.8h0M163.4 241.5h0M171.8 239h0M132.1 209.2h0M192.6 235.6h0M170.5 238.4h0M50.8 219.1h0M139.7 211.5h0M170.2 238.5h0M154.8 240.4h0M110.6 210.7h0M213.5 233h0M98.2 211.2h0M218.3 231.7h0M191.3 237.2h0M130.8 209.2h0M118.9 209h0M144 237.9h0M92.2 212.8h0M189.1 240.4h0M159.9 239.4h0M163 240.4h0M122.8 209.2h0M180 237.3h0M147.5 241.1h0M180 237.2h0M122.5 207.8h0M76.4 215.4h0M134.1 208.2h0M156 239.5h0M197.2 235h0M241.5 226.9h0M223.3 230.8h0M58 218.4h0M119.6 209.3h0M73.7 213.1h0M119.8 209.2h0M58.8 218.6h0M114.5 210.1h0M161.7 240.1h0M160.8 240.6h0M218.2 231.2h0M102.6 209.6h0M132.3 209.2h0M162 239.2h0M205.3 233.9h0M166.4 239.5h0M170.1 239.6h0M62.3 215.7h0M57.5 218.8h0M152.6 240.2h0M123.4 209h0M67.8 216.8h0M147.2 238.2h0M122.1 208.8h0M197 234.9h0M177.2 239.2h0M106.1 210.6h0M201.8 236.1h0M100.9 207.8h0M140.4 211.7h0M203.1 234.4h0M157.7 239.9h0M148.8 239.9h0M99.7 209.3h0M55.3 219.1h0M57.6 218.7h0M127.7 208.1h0M139.1 211.2h0M63.3 216.9h0M122.1 207.5h0M136.5 209.6h0M117.7 209.7h0M179 238.9h0M200 235.2h0M159.2 241.7h0M121.5 209.4h0M79.9 212.9h0M116 209.3h0M83.3 214.1h0M152.2 242.8h0M241.9 227.5h0M169.4 238.4h0M184.3 238.2h0M177.7 237.4h0M244.1 226.5h0M82.1 213.1h0M125.4 206.9h0M174.1 238.2h0M121.8 207.7h0M33.4 223.5h0M61.5 217.5h0M115.8 207.3h0M116.3 208.7h0M129.3 208.7h0M55.4 219.3h0M49.5 219.8h0M204.7 236.1h0M162.3 242.3h0M100.2 210.7h0M178.8 237.8h0M130.4 209.6h0M213.6 232.7h0M37.2 222.7h0M129.5 209.4h0M92.4 212.7h0M104.7 211.1h0M109.7 210.4h0M148.1 238.5h0M57.4 218h0M165.5 240h0M222.9 230.5h0M200.9 234.6h0M142.5 236.4h0M204.4 234.9h0M125.1 209.3h0M46.4 220.5h0M162.4 240h0M37 222.8h0M211.3 232.9h0M212.7 232.6h0M68.2 216.4h0M76.6 211h0M73.1 215.5h0M167.4 240.3h0M216.8 231.7h0M86.7 212.4h0M224.4 232.5h0M45.7 220.7h0M77.5 214.9h0M180.2 238.8h0M149.2 241.6h0M81 214.7h0M149.4 239.4h0M65.7 216.8h0M124 208h0M171.5 240.3h0M146.4 238.1h0M174.5 241.6h0M162.3 243.4h0M80 214.7h0M130 209.1h0M199.5 235.2h0M139.7 212.2h0M125.1 206.9h0M54 219.3h0M196.4 236.3h0M89.6 211.6h0M138.8 209.2h0M39.2 222.3h0M99.3 210.8h0M244.4 226.3h0M135.8 210.4h0M232.9 228.9h0M121.1 208.1h0M147.2 238.5h0M162.8 242.8h0M167.5 244.2h0M110.3 210.2h0M189 236.2h0M211 233.5h0M212.4 232.5h0M137 209.9h0M112.1 209.1h0M187.7 240h0M164 239.2h0M103.8 208.5h0M105.6 208.7h0M202.9 234.2h0M200.8 234.4h0M124.2 209.3h0M219.7 231.2h0M62.4 217h0M109 210.6h0M148.3 241.2h0M62.6 216.9h0M165 239.5h0M120.7 207.8h0M133.4 209.9h0M243.4 226.8h0M142.6 236.8h0M98.7 209.7h0M103.4 209.7h0M228.2 230h0M96.1 212.3h0M127.5 208.9h0M122.7 209.5h0M135.5 209.8h0M203.9 234.8h0M112.8 209.9h0M203.8 234.6h0M62.4 217.8h0M120.3 207.9h0M78 215h0M84.5 210.8h0M140.6 210.3h0M193.3 236h0M98.6 210.1h0M121.7 207.7h0M113.7 210.4h0M108.2 210.8h0M199.7 238h0M232.6 229.6h0M118.2 207.7h0M130.2 208.7h0M117.8 209.3h0M164.1 244.7h0M186.6 237h0M92.8 212h0M48.5 220.4h0M218 232.9h0M43.7 221.4h0M211 232.5h0M218.2 232.1h0M168.2 238.9h0M89.6 213.2h0M226 229.9h0M44 221.4h0M147.8 238.8h0M84.1 214.1h0M131.1 208.6h0M142 236.9h0M211.4 234.1h0M200.8 234.4h0M141 212.5h0M71.5 216.3h0M163.9 239.1h0M58.2 218.7h0M183 246.1h0M33.3 223.5h0M47.5 220.4h0M192.4 236.8h0M40.5 222.1h0M76.6 215.5h0M57.4 218.9h0M230.9 231.7h0M94.8 210.1h0M227.6 229.8h0M242.9 226.6h0M162.8 240h0M125.7 208.8h0M220.1 233h0M146.7 239.1h0M75.3 215.5h0M107.7 210.9h0M91 211.1h0M220 231.5h0M146.1 238.8h0M80.6 213.1h0M38.2 222.3h0M137.3 210.3h0M141.2 210.3h0M152.4 239.6h0M62.1 217h0M195.9 236.1h0M189.2 238.3h0M152.4 240h0M175.6 240.3h0M107.2 210.9h0M175.4 238h0M132.1 208.4h0M91.7 212.7h0M149.5 243.1h0M163.6 241.7h0M43 221.2h0M153.8 239.3h0M132.3 204h0M204.9 233.7h0M167.2 239.4h0M233.3 229.7h0M104.1 211.2h0M70 216.2h0M162.4 239.7h0M105.4 210.7h0M96.3 212h0M212.8 232.1h0M115.8 208.5h0M100.2 211.3h0M92.2 211.7h0M96.3 209.3h0M195.6 236.9h0M251.9 224.6h0M139.9 212.1h0M131.2 206.7h0M104.4 207.8h0M241.2 227.3h0M179.9 237.8h0M125.1 208.1h0M160.9 242.2h0M237.8 228h0M133.9 209.7h0M119 209.4h0M164.8 242.7h0M220.3 230.9h0M149.7 239.2h0M162 240.4h0M166.5 239.3h0M90.3 213.1h0M145.4 239.4h0M134.4 210.4h0M209.1 233.6h0M218.6 231.3h0M164.8 241.8h0M208 233.7h0M98.5 212.1h0M41.9 221.7h0M206.6 233.9h0M153.7 239.8h0M75.3 214.4h0M32 223.7h0M102 211.3h0M193.3 236.3h0M150.8 239.9h0M123.4 209h0M116.8 209.6h0M140 212.3h0M150.7 239.3h0M237.5 228.2h0M74.5 214.4h0M103.2 210.6h0M194.4 236.8h0M166.3 239.7h0M54.9 218.3h0M139.6 211h0M236.9 228.4h0M203.4 234.5h0M170.5 238.2h0M171.4 239.4h0M103.5 211.3h0M96 211h0M112.8 208.4h0M121.6 207h0M158 240.7h0M194.7 238.2h0M179.5 238.2h0M142.5 237.6h0M79.9 212.3h0M152.2 240.3h0M123.4 207.9h0M79.5 214h0M132 208.8h0M127.9 208.9h0M177 238.7h0M170.1 239.2h0M86.9 212.5h0M99.4 211.9h0M158.4 240.7h0M88.2 212.7h0M100.5 211.9h0M193.3 236.5h0M82.2 211.7h0M37.5 222.1h0M245.4 226.2h0M160.6 247.9h0M114.3 209.8h0M86.3 213.7h0M234.1 228.5h0M82 210h0M143.7 238h0M229.5 229.6h0M173.8 238.3h0M209.3 233.2h0M67.7 217h0M109.8 210.6h0M141.3 210.7h0M177.9 237.6h0M223.4 230.4h0M180.4 237.4h0M211.4 233.4h0M70.8 216.4h0M134.7 210.2h0M153.3 245.5h0M170.6 239.5h0M180.6 238.6h0M214.9 231.8h0M82.7 213.1h0M236.5 228.2h0M55.9 217h0M62.4 218h0M64.6 217h0M140.3 209.8h0M170.8 239.9h0M180 243.5h0M55.9 218.8h0M67.8 217.1h0M109.2 210h0M112.9 209.5h0M45.4 220.9h0M182.5 239.7h0M131.8 206.8h0M166.1 239h0M183.4 237.2h0M33.5 223.4h0M148.6 241.1h0M153.9 239.7h0M133.4 207.3h0M34.8 223.2h0M85.5 212.1h0M168.8 238.7h0M231.1 229.4h0M99.6 209.3h0M221.9 231h0M172.8 241.2h0M233.4 228.7h0M158.7 240.4h0M60.2 218.4h0M145.7 241.1h0M138.1 211.6h0M166.2 239.7h0M127.3 208.4h0M187.6 236.8h0M68.5 214.7h0M91.8 212.3h0M50.6 220h0M102.4 209.4h0M163.2 243.3h0M85.5 211h0M172 238.1h0M58.9 218h0M82.9 214.3h0M114.1 207.4h0M201.3 234.5h0M160.8 240.2h0M175.2 238.3h0M154.5 239.5h0M121.3 204.6h0M169.3 239h0M114.5 209.9h0M112.9 209.7h0M189.6 236.6h0M206.8 233.5h0M171.1 238.3h0M131.4 209.6h0M197 235h0M147.4 242.6h0M80.9 214.1h0M111 209.3h0M202.9 234.2h0M150.9 240.3h0M175.4 241.6h0M75 214.4h0M45.2 220.9h0M225.1 230.1h0M138.5 210.7h0M133.9 210.1h0M110.9 208.6h0M119.3 207.4h0M197.4 236h0M173.9 238.5h0M140 210.7h0M110.2 209.4h0M146.4 242.7h0M80.2 210.6h0M234 228.3h0M126 209.1h0M187.1 236.6h0M135.4 207.4h0M154.1 239.3h0M159.7 239.7h0M240.5 227.1h0M197 235.7h0M132.6 209h0M105.7 209.6h0M217.1 231.6h0M169 238.8h0M165.9 241.2h0M127.4 208.7h0M79.2 213.6h0M135.4 209.2h0M224.9 230h0M135.9 210.7h0M144.8 239h0M142.9 238.6h0M247.4 225.7h0M157.4 239.5h0M201.6 236.1h0M87.7 212.4h0M123.7 201.7h0M173.1 238.5h0M220.6 232.2h0M148.5 238.7h0M60.1 218.2h0M148.3 239h0M146.4 238.3h0M57.2 218.6h0M212.2 237.5h0M67.3 216.1h0M194.4 235.3h0M121.3 209.2h0M238.7 227.6h0M124.5 209.4h0M49 220h0M165.8 240.3h0M134 209.6h0M170.8 238.2h0M78 214.6h0M55.3 219.3h0M114.3 208.3h0M167.4 239.2h0M126.5 209.1h0M113.2 204.2h0M151.7 240.3h0M195.9 239.1h0M90.6 212.8h0M132.9 205.9h0M159.8 239.5h0M137.1 211.1h0M154.1 240.8h0M242.9 227.2h0M168 240.1h0M64.6 217.6h0M50.1 219.6h0M90.8 211.3h0M90.7 212.2h0M135.2 210.3h0M52 219.9h0M66.2 217.2h0M140.7 212.2h0M186.1 237.1h0M230.8 229h0M108.4 210.8h0M172 239.4h0M134 208.3h0M162.7 239.1h0M190.3 239.3h0M140.4 212.2h0M240.8 227.1h0M145.4 239.7h0M176 239.4h0M229.4 229.5h0M146.2 239.8h0M145.4 238.3h0M121.9 206.6h0M76.3 215.5h0M64.8 217.6h0M115.5 209.4h0M111.5 204h0M114.8 209.5h0M233.6 228.6h0M100.6 208.5h0M199.1 234.7h0M176.5 238h0M167.4 239.3h0M83.1 213.8h0M143.2 238h0M97.2 212h0M125 208.6h0M129.5 209h0M133.2 210.1h0M66.9 217.2h0M197.5 235h0M170.7 242.2h0M217 231.4h0M111.4 209.3h0M106.3 211.2h0M174.4 240h0M204.5 233.8h0M109.8 209.5h0M151.4 241.1h0M148.8 238.9h0M187.1 237h0M82.1 209.6h0M98.5 211.9h0M142.2 236.8h0M78.7 215.1h0M235.8 228.1h0M172.1 239.1h0M111.5 208.9h0M205.7 233.4h0M116.4 210h0M147.6 239.9h0M84.8 213.6h0M228 229.7h0M211.1 233.6h0M78.4 214.4h0M114.1 207.8h0M111.9 210h0M114.5 209.7h0M151.1 241.1h0M142.8 239.1h0M156.1 240.5h0M106.8 208.3h0M115.8 209.2h0M155.5 239.9h0M212.6 232.8h0M176.1 242h0M161.4 240.8h0M158.2 240h0M74.6 215.3h0M90.5 210.2h0M109.8 207.4h0M181.7 240.8h0M144 237.3h0M84.3 213.9h0M243.5 226.5h0M205.6 234.5h0M178.4 239.5h0M183.4 237.9h0M71 215.8h0M131 209.6h0M131.6 205.3h0M145.6 238.8h0M145.5 237.8h0M204.4 235.2h0M166 239.3h0M102.6 206.9h0M130 209.2h0M48.8 220.2h0M236.4 228.8h0M66 216.6h0M177 237.6h0M119.3 209.1h0M170.3 238.6h0M127.5 207.7h0M121.7 209.1h0M80.7 214.7h0M76 215h0M118.1 209.5h0M56.5 218.5h0M162.6 240.6h0M221 231.4h0M174.3 238.2h0M146.3 238.1h0M165.4 243.6h0M167.8 240.9h0M138.8 211.7h0M105.6 206.3h0M152.7 239.7h0M177.5 238.7h0M129.4 208.4h0M117.2 209.1h0M203.1 235.2h0M75.5 215.3h0M134.1 202.9h0M155.5 239.4h0M132.9 202.3h0M80.4 214.7h0M55.9 218.7h0M207.6 234h0M102.6 206.5h0M216.3 232.5h0M127 208.9h0M239.6 227.5h0M128 207.9h0M188.1 236.3h0M109.5 210.9h0M109.6 208.7h0M189.2 236.7h0M131.1 201.6h0M206 233.4h0M164.3 242.7h0M137.3 210.7h0M216.9 231.7h0M83.3 214.1h0M94.8 211.8h0M184.8 237.1h0M118.4 206.7h0M118.6 209.6h0M189 238.3h0M137.3 210.6h0M186.2 237.4h0M114.6 210h0M54.2 219.5h0M194.3 235.5h0M55.6 218.8h0M108.1 211h0M78.9 215.1h0M234.6 228.6h0M152.6 240.2h0M219.5 232.6h0M241.3 226.9h0M85.2 213.7h0M195.9 235.5h0M84.7 213.7h0M79.6 213.4h0M118.4 207.8h0M155 241.2h0M217.1 231.8h0M245.8 226.1h0M240.7 227.3h0M92.9 211h0M124.6 208.3h0M150.6 241.4h0M158.1 239.4h0M190.4 236.7h0M89.1 211.9h0M160.8 239.4h0M108.5 206.1h0M91.7 212.9h0M68.1 215h0M205.3 235.4h0M75.1 214.9h0M214.5 232.3h0M56.2 218.1h0M123 207.5h0M137.5 208.6h0M57.7 216h0M104.4 210.2h0M218.1 231.8h0M187.7 236.4h0M144.8 239.7h0M191 236.2h0M164.1 241.4h0M118 209.4h0M136.7 209.8h0M174.9 238.2h0M241 227.1h0M107.6 210.9h0M62.9 217.6h0M62.8 216.7h0M42.4 221h0M185.5 236.6h0M132.8 207.9h0M225.4 230.3h0M186.6 237.4h0M157.5 244.5h0M108.8 210.5h0M193.7 235.4h0M163.6 239.2h0M178.1 239.8h0M172.1 238.3h0M187.1 238.2h0M109 209.7h0M133.7 209.4h0M195 237h0M175.8 239.7h0M101.3 211.8h0M234.9 228.4h0M165.8 241h0M86.3 211.2h0M127.4 208.8h0M157.4 241.2h0M96.7 210.1h0M234.5 229.8h0M236.6 228.1h0M162.7 240.1h0M119.6 207.2h0M234.9 228.8h0M177.8 237.6h0M134 210.3h0M192.6 236.9h0M98 209.4h0M181.9 237h0M104.9 211.3h0M239.7 227.5h0M128.7 205.2h0M169.6 239.7h0M96.7 209h0M204.7 233.7h0M194.2 236.1h0M140.1 212.2h0M193.3 244h0M199.9 237.1h0M181 243.5h0M201.4 234.5h0M200 235h0M228.3 229.4h0M128 208.8h0M168.1 238.8h0M237.1 227.8h0M168 239.2h0M117.5 205.6h0M170.5 238.3h0M133.2 209h0M108.6 207.2h0M31 224h0M163.9 240.7h0M64.9 217.4h0M108.5 209h0M117.6 209.6h0M87.6 212.8h0M165.7 239.2h0M139.5 211.9h0M57.3 218.4h0M127.4 205.4h0M119.4 209.1h0M122.2 208.2h0M158.6 239.7h0M178.6 238h0M91.2 208.6h0M33.7 223.4h0M127.2 207.1h0M110.2 209.9h0M160.2 240.4h0M117.8 208.8h0M159.2 240.1h0M93 211.7h0M74.8 215.8h0M226.2 230.3h0M213.7 232.4h0M144 239h0M156.4 239.8h0M74.7 213.7h0M207.6 234.4h0M246.3 226h0M183.9 236.9h0M174.8 237.7h0M101.5 211.8h0M164 242.3h0M119.5 209.7h0M136.8 209.4h0M150.7 240.7h0M131.1 207h0M151.7 241h0M180.1 237.2h0M43.2 221.5h0M110.7 210.4h0M91 213h0M236.6 227.8h0M222.7 230.8h0M207.2 233.2h0M63.1 217.7h0M194.9 236.9h0M142.4 237.5h0M202.3 237h0M239.4 228.1h0M99.7 205.8h0M231.7 229.1h0M222.3 230.7h0M223.9 230.2h0M138.3 210.2h0M201 234.9h0M202.1 234.5h0M151.3 239.5h0M238.4 227.6h0M169.4 239.4h0M195.2 235.5h0M143 237.1h0M82.5 211.8h0M228.7 229.6h0M96.4 211.7h0M89.2 211.8h0M176.2 241.9h0M74.4 214.8h0M202.4 236.8h0M143.2 236.9h0M138.2 210.6h0M129.3 208.1h0M153.6 240.1h0M190.8 236.6h0M145.3 239.8h0M53.1 219.5h0M187.4 241.6h0M94.5 212.6h0M52 219h0M130.1 209.1h0M192.7 240.8h0M197.4 235.4h0M213.4 233h0M114.4 209.4h0M184.7 236.8h0M144.5 237.4h0M111.8 208h0M149.4 241.1h0M91 211.9h0M191.3 238.5h0M242.7 226.9h0M45.5 220.9h0M64.6 214.4h0M193.3 237h0M108.3 210.1h0M166.9 240.4h0M69.1 216.7h0M121 209.3h0M172.9 241.1h0M91.1 210.3h0M80.4 213.8h0M234.6 228.7h0M209 233.6h0M211.5 232.4h0M207 233.5h0M70.4 214.1h0M52.8 219.6h0M213.7 232.3h0M65.9 217.2h0M92.4 211.2h0M183.4 237.1h0M243.2 226.7h0M51.6 219.9h0M52.7 219.3h0M163.2 242.1h0M213.5 232.4h0M232.2 229.2h0M167.1 238.7h0M53.7 219.4h0M205.6 233.4h0M175.4 239.4h0M161.8 240.2h0M138.9 211.1h0M243.3 227h0M149.3 238.8h0M102.1 209.7h0M218.7 231.1h0M159.8 241.4h0M148.3 244.1h0M107.2 207.2h0M72.8 214h0M111.9 210.6h0M198.8 234.7h0M56.8 218.7h0M139.7 211.2h0M164.2 239.4h0M190.5 239h0M179.3 238.2h0M125.3 209.4h0M135.4 207.1h0M81.8 213h0M166.2 240.8h0M235.2 229.3h0M132.6 208.6h0M96.8 211.8h0M234.3 229.2h0M193.9 235.6h0M182.2 238.2h0M104.7 211.2h0M69.3 215.2h0M93 211.2h0M92.5 212.5h0M53.9 219.1h0M167.3 243.7h0M164.5 241.4h0M46.3 220.9h0M133.2 207.9h0M60.9 217.8h0M150.4 240.2h0M94.5 211.4h0M196.8 235.1h0M144.2 238.5h0M193.1 237.9h0M144 240.5h0M110.1 208.7h0M106.5 209.5h0M144.9 240.4h0M162.8 243.7h0M115.1 207.7h0M133.5 207.8h0M85.5 209.7h0M59.7 218.3h0M241.4 227.2h0M145.3 238.7h0M147.8 239.1h0M224.5 230.2h0M130.6 208.8h0M216.9 231.6h0M116.6 209.6h0M160.4 240.5h0M156.6 239.6h0M89.5 212h0M110.5 209.4h0M126.1 209.2h0M180.6 237.7h0M127.4 208.4h0M125.3 206.5h0M189.4 236.9h0M229.7 229.7h0M63.6 217.4h0M229.4 229.3h0M143.7 237.3h0M64.1 217.7h0M154 239.8h0M180.9 237.4h0M207.3 234.4h0M159.8 240.3h0M96 210.4h0M167.6 241.6h0M124.9 207.4h0M154.9 240h0M119.9 207.2h0M228.7 229.6h0M99.5 211.7h0M69.9 215.4h0M68.2 216.8h0M106 211.3h0M239.5 227.5h0M112.7 209.1h0M140.1 211.7h0M166.8 241.1h0M186.7 238.9h0M172.4 238.3h0M174 238.6h0M181.2 240.6h0M147 238.9h0M58.9 218.4h0M194.8 236.3h0M148.5 238.9h0M163.7 239.9h0M87.2 212.9h0M94.3 210.1h0M150.7 242.4h0M78.8 215h0M215.8 231.8h0M199.3 234.9h0M100.8 208.9h0M172.9 241.4h0M53.7 219.2h0M106.2 207.7h0M135.7 210.2h0M225.7 230.1h0M165.8 240.3h0M137.3 210.9h0M91.3 212.5h0M161.6 240.7h0M52.8 219.3h0M79.1 215h0M134.2 209.8h0M173.6 237.9h0M86.1 210.7h0M219.8 230.9h0M232.5 228.8h0M234.1 228.6h0M74.9 215.1h0M75.5 215.4h0M182.8 240.3h0M236.6 228.7h0M63 216.5h0M49.1 220.1h0M79.5 214.5h0M144.7 237.4h0M128 208h0M147.9 241h0M104.5 211h0M74.1 215.7h0M197.7 235.3h0M85.7 213.8h0M93.5 209.3h0M191.7 237.7h0M117.5 208.9h0M226.7 229.7h0M120.5 208.2h0M96.3 211.2h0M137.5 209.3h0M64.8 216.9h0M165.1 239.1h0M244.3 226.4h0M143 239.1h0M105.1 209.8h0M130.4 209.4h0M87.2 213.5h0M157.8 243.1h0M113.8 208.2h0M145.2 238.2h0M149.5 244h0M141.3 212.6h0M98.3 212h0M207.1 233.3h0M248.2 225.5h0M225.8 230.5h0M137 209.6h0M161.5 240.4h0M37 222.7h0M150.6 239.4h0M173.7 237.8h0M112.5 208h0M189.3 236.4h0M109 210.5h0M218.3 231.5h0M202.7 234.3h0M231.6 229.2h0M128.9 209.4h0M184 237.1h0M78 214.1h0M195.7 235.4h0M142.6 238.1h0M76.1 215.2h0M141.4 236.9h0M108.4 210.3h0M135.4 210.4h0M221.1 234.2h0M117.4 207.2h0M113.6 208.3h0M171.2 240h0M110.8 210.7h0M124 208.9h0M173.7 239h0M173 238.9h0M185.8 236.9h0M144.9 237.6h0M142.5 237.8h0M116.1 209.6h0M158.8 240.4h0M107.3 209.9h0M74.9 214.2h0M92.7 211h0M222.8 232.2h0M205.1 234h0M225.5 230.4h0M164 240.2h0M92.2 212.9h0M77.1 212.2h0M131 209.3h0M177.5 241.2h0M85.2 213.6h0M64 217.1h0M127 208.5h0M151.4 241.1h0M55.1 219.3h0M88.9 212.4h0M213.6 232.4h0M162.6 243.3h0M39.9 221.8h0M102.7 211.5h0M176.8 237.9h0M91.4 212.8h0M191.6 236.1h0M185.7 239.8h0M137.1 210.6h0M157.7 239.7h0M111.4 209.9h0M99.6 210.3h0M229.4 229.9h0M120.4 209.1h0M47.8 220.1h0M53.7 219.2h0M69.6 215.1h0M91.6 212.4h0M115.4 209.2h0M188.7 236.2h0M95.7 211.3h0M188.3 237.4h0M66.6 216.2h0M121.7 205.5h0M33.6 223.5h0M154.2 240.6h0M137.1 206.1h0M83.9 214.2h0M145.2 237.5h0M184.1 241.5h0M74.9 213.3h0M229.2 229.4h0M141.7 236.6h0M160.4 239.7h0M83.2 213.1h0M142.4 238.1h0M136.8 210.7h0M145.8 240.2h0M183.5 237.5h0M99.2 207.2h0M37.3 222.7h0M135.7 210.4h0M158.3 247.8h0M229.9 231.1h0M203.6 233.8h0M134.6 210.3h0M131.8 208h0M191.9 235.9h0M149.5 241.2h0M92.2 212.4h0M105.7 210.9h0M191.1 236h0M131.3 209.7h0M189.8 238.8h0M49.8 220.2h0M82.2 211.3h0M80.6 214.6h0M177.2 237.6h0M191.2 237.1h0M228.5 229.3h0M155.8 239.5h0M116.7 209.3h0M192.5 239.9h0M140.5 212h0M110.5 210.3h0M183.2 238.9h0M81.5 214.2h0M107.2 207.3h0M80.1 212.7h0M211.3 232.9h0M37.9 222.6h0M134.7 209.4h0M201.9 235.6h0M187.5 237.3h0M133.5 209h0M97.7 210.8h0M201.8 234.3h0M127 208.3h0M113.8 209.4h0M197.6 234.8h0M178.3 237.4h0M86 212.2h0M117.3 209.4h0M68.8 215.6h0M226 230.2h0M150.7 239.1h0M177.3 237.9h0M102.2 211.5h0M61.2 217.4h0M204.4 234.7h0M110.7 210.2h0M88.7 211.1h0M127.1 208h0M200.5 235.4h0M192.6 236.6h0M128 208.6h0M142.1 237.6h0M152.2 240h0M201.3 234.6h0M47.5 220.8h0M173.5 238.9h0M113.1 209.9h0M218.2 231.8h0M47.4 220.1h0M34.6 223.2h0M197.3 235.3h0M147.6 241.6h0M208.5 234.2h0M195.2 238.3h0M148.9 238.8h0M95.9 210.3h0M188 237.9h0M41.4 221.9h0M214.2 232.4h0M88.5 212.5h0M59.3 218.2h0M92.8 209.2h0M130.1 208.8h0M135.3 209.3h0M44.7 221.1h0M193.2 236.3h0M86.9 212.2h0M55.3 219.2h0M115.2 210.1h0M142.4 238.3h0M203.5 233.8h0M46.8 220.6h0M170.2 240.1h0M116.4 209h0M32.7 223.6h0M130.5 209.2h0M134.8 209.6h0M136.9 211h0M239.4 227.6h0M56.1 219.2h0M95.7 210.1h0M215.5 231.7h0M147.5 238.5h0M47.4 220.6h0M84.6 213.6h0M84.7 213.8h0M73.1 215.9h0M84.4 212.5h0M63.3 217.8h0M176.9 238.7h0M86.8 212.9h0M195 237h0M146.4 239.4h0M193.1 236.6h0M63.4 217.8h0M148.8 239.1h0M139.9 210.5h0M60.2 218.1h0M159.5 241.6h0M161.5 239.3h0M120.3 209.4h0M247.4 225.7h0M208.6 233.5h0M80.5 214.2h0M58.6 218.5h0M221.9 231h0M142.6 238.8h0M172.1 238.1h0M91.1 210.9h0M148 239h0M88.6 213.1h0M85.3 213.7h0M137.1 210.2h0M43.7 221.3h0M124.6 208.8h0M184.1 241.2h0M60.4 217.8h0M224.6 230.2h0M102.2 209.8h0M182 240.5h0M135.5 205.4h0M173.6 239.5h0M200.7 235.1h0M85.8 209.6h0M221.6 231.1h0M214.1 232.4h0M165.4 239.3h0M191.8 235.8h0M234.4 228.3h0M182.6 238.4h0M75 214.7h0M87.6 213.5h0M148.5 238.6h0M123.7 209h0M192.2 236.9h0M74.4 214.7h0M245.2 226.5h0M143.5 238.1h0M187.2 238.4h0M125.7 209.4h0M242.5 227.1h0M131.2 209h0M195.7 235.2h0M161.8 240h0M83.8 212.8h0M64.6 217.1h0M233.9 228.5h0M164.7 242.1h0M169.3 238.7h0M121.5 207.9h0M125.4 207.5h0M135.2 210h0M112.8 209.9h0M47.2 220.6h0M206.4 234.3h0M74.9 215.2h0M177.2 242.8h0M169.3 239.8h0M148.6 239.7h0M228.7 229.4h0M87.8 213.1h0M178.3 239.1h0M72.9 216h0M245.8 226.1h0M191.8 238.6h0M209.7 233.7h0M175.8 238.5h0M125.9 208.8h0M53.7 217.8h0M66.6 216.3h0M137 204.9h0M75.8 213.5h0M197.2 236.7h0M126.9 209.4h0M106.9 210h0M77.7 214h0M91.9 210.7h0M163.1 239.3h0M189.1 238.3h0M249.6 225.4h0M129.3 209.2h0M173.4 238.5h0M64.8 216.8h0M156.3 242.8h0M33 223.5h0M126.4 209h0M159.5 243.3h0M222.5 230.5h0M158.3 239.6h0M108.6 210.8h0M164.1 239h0M78 212.7h0M179.9 238.3h0M136.4 210.1h0M135.1 210.4h0M215.8 231.8h0M149.8 239.3h0M192.5 237.3h0M157.3 240.2h0M79.6 214.3h0M36.1 222.9h0M149.6 239.3h0M86 211.9h0M161.1 240.9h0M152.3 239.2h0M141.8 238.9h0M97.4 211.8h0M141.9 236.9h0M110.4 207.3h0M232.8 228.6h0M139.7 211.6h0M131.5 208.5h0M155.9 239.4h0M118.5 209.1h0M161.1 240.3h0M76.4 215.2h0M191.4 236.8h0M113.7 209.1h0M127.4 206.9h0M223.8 231h0M169.7 239.1h0M215.3 232h0M144.1 237.6h0M132.3 209.8h0M124.2 208.6h0M143.9 237.8h0M55.6 219.2h0M117.9 208.2h0M67.8 216.8h0M228.5 229.4h0M112.7 209.5h0M142.1 237.1h0M93.1 211.2h0M145.8 238.2h0M125.7 209h0M146.8 239.7h0M180.8 241h0M48.2 220.5h0M108.9 208.2h0M69.3 216h0M47.7 220.7h0M71.2 216.1h0M147.6 240.4h0M122.6 209.4h0M123.2 208.9h0M125.2 208.8h0M211.5 233.9h0M231.6 228.9h0M114.7 208.4h0M107.5 210.6h0M158.5 240.9h0M186.7 237.4h0M49.1 220.1h0M123.9 209h0M223.1 231.2h0M72.1 215.6h0M167 239.2h0M142.3 237.7h0M169.7 245.5h0M106 210.2h0M177.9 239.9h0M201.3 234.4h0M166.2 243.6h0M210.9 236.6h0M103.3 208.4h0M207.2 235.2h0M220.3 232.1h0M191 236.9h0M86.1 213.2h0M97.9 208.9h0M176.7 239.3h0M78.4 215.1h0M65.4 216.9h0M180.9 238h0M203.3 233.8h0M65 217.5h0M63 217.2h0M134.9 202.4h0M168.3 239h0M120.2 208.6h0M165.3 239.1h0M233.8 229.5h0M148.3 238.7h0M70.2 214.9h0M152.6 240.3h0M226.3 230.1h0M163.3 239.5h0M93.2 211.8h0M154.1 240.2h0M122.7 208h0M90.7 211.5h0M214.1 232.3h0M64 217.4h0M147.6 239.3h0M109.2 210.3h0M91.7 212.6h0M112.5 209.1h0M69.3 215.3h0M199.3 236.2h0M239.8 227.5h0M143.8 239.1h0M143.6 237.1h0M97.3 210.9h0M116.8 208.8h0M121.4 206.1h0M109 209.7h0M126.5 205h0M62.2 218.1h0M53.1 219.2h0M43.9 221h0M179.8 238.3h0M197.2 234.9h0M136.1 208.4h0M175.9 241.1h0M153.8 242.2h0M137.3 210.8h0M152.8 240.1h0M188.9 238.3h0M175.7 238.5h0M41.5 221.8h0M214.2 231.9h0M136.9 207.2h0M203.4 234.3h0M81.2 214.2h0M135.5 210.5h0M47.9 220.3h0M60.3 217.7h0M139.4 210.9h0M248.9 225.5h0M82.4 214.4h0M158.4 241.1h0M127.1 207.5h0M117.4 209.2h0M94.9 211.2h0M74.3 215.1h0M193.2 235.7h0M131.3 208.7h0M114.8 210.2h0M100.4 210.2h0M125.4 209.3h0M197.9 236.1h0M178.9 237.6h0M78.6 211.8h0M230.3 229.5h0M95.1 212.4h0M65.3 217.1h0M161.3 240.7h0M82.9 214.4h0M220.3 233.2h0M202.6 234.3h0M74.4 215h0M164.6 239.8h0M178.8 237.3h0M217.4 232.4h0M101 208.4h0M160.9 240.1h0M59.9 218.4h0M184.8 239.2h0M97.5 212h0M225.6 230.7h0M109.6 209.1h0M150.7 240.1h0M201.5 234.2h0M43.1 221h0M148 239.3h0M172.2 239.4h0M187.7 237.2h0M157 240.8h0M105.7 205.7h0M40.2 222.1h0M165.6 239.4h0M223.3 230.4h0M76.6 215.4h0M108.6 208.7h0M160.3 240.6h0M164.2 240.9h0M236.5 228.1h0M232.5 228.8h0M174.5 240.6h0M141.4 236.1h0M223.4 230.3h0M231.3 229.3h0M163.4 240.1h0M209.9 234.2h0M142.2 236.8h0M89.9 212.6h0M49.4 219.7h0M63.4 217.2h0M120 209.6h0M76.3 214.4h0M216.9 231.8h0M123 207.5h0M227.9 230h0M98.9 211.2h0M138.2 209.2h0M188.3 238.3h0M196.3 237.6h0M81.3 213.9h0M115.4 203.9h0M206.3 234.1h0M146.7 238.5h0M117 207.9h0M132.1 209.5h0M110.5 210.8h0M156.4 240.2h0M127.8 208.5h0M95.1 210.5h0M211.7 233.4h0M142.8 236.6h0M175.6 238.7h0M148.3 240.8h0M92.6 212.8h0M131.2 209.5h0M174.6 239h0M143 238.7h0M171.5 238.6h0M216.6 231.4h0M219.3 231.5h0M66.7 217.2h0M46.2 220.6h0M145.1 238.2h0M105.6 210.8h0M47.3 220.1h0M228.9 230.4h0M138.7 211.1h0M161 242.7h0M68.7 216.6h0M70.2 215.5h0M186.6 238.2h0M142 237.7h0M168.5 239.3h0M114.2 209.4h0M138.2 210.9h0M210.3 233.5h0M70.7 216.1h0M157.6 239.3h0M245.2 226.1h0M104.5 207.1h0M171.6 240.1h0M252 224.5h0M59.8 218.3h0M154.9 239.3h0M210.4 235.7h0M54.1 218.9h0M104.6 208.5h0M195.2 235.9h0M149.4 243.3h0M166.9 238.8h0M129 209.5h0M158.8 244.6h0M83.3 213.9h0M109.7 210.8h0M77.2 214h0M76.8 214.1h0M75.3 213.7h0M198.7 237.5h0M235.2 228.2h0M230.3 229.1h0M184.3 236.7h0M237.4 227.9h0M110.4 203h0M173.4 239.3h0M95.7 209.1h0M68.8 216.3h0M101.8 211.5h0M90.7 211.2h0M232.4 229.2h0M236.8 227.8h0M117.6 209.2h0M103.2 211.4h0M145.5 238.7h0M154.4 239.9h0M202.5 234h0M210.7 234.2h0M151.7 240h0M129 208.9h0M163.6 239.6h0M91.4 212.3h0M107 209.9h0M168.7 239.1h0M222.7 231.6h0M199.4 235h0M240.2 227.4h0M201.4 234.2h0M134.5 209.3h0M113.9 209.9h0M185.8 237.8h0M222.2 230.6h0M220.8 231.6h0M162.5 239.9h0M143.1 238.5h0M96.6 210.8h0M130.3 205.7h0M103.4 208.3h0M159.5 241.8h0M52.4 219.7h0M114.1 209.5h0M75.9 215.6h0M157.9 239.5h0M224.3 230.1h0M123.7 207.8h0M62.1 217h0M242.9 226.8h0M112.3 204.5h0M83 213.5h0M183.5 237.1h0M228.3 229.4h0M93.9 211.1h0M163.5 239.2h0M90.7 212.7h0M129.8 209h0M212.8 232.4h0M132.4 209.4h0M129.3 209.6h0M198.2 234.9h0M167.1 239.7h0M188.9 239.2h0M92.4 211.8h0M193.4 235.5h0M200.8 235.8h0M137.6 206.3h0M115.6 209h0M174.6 240.1h0M154.1 239.7h0M196.2 235.1h0M189.1 236.8h0M183.8 237.9h0M110.3 208.9h0M119 208.9h0M161.8 239.6h0M137.4 209.7h0M136.5 209.3h0M81.1 213.1h0M174.5 239.7h0M149.8 239.9h0M188.1 236.4h0M89.5 212.6h0M58.5 217.9h0M97.3 211.5h0M104.7 210.7h0M71.1 215.1h0M225.7 229.8h0M168.5 239h0M86.9 209.2h0M103.3 210.1h0M191.5 236.2h0M97.3 211.8h0M229.9 229.4h0M149.9 242.1h0M119.7 208.8h0M232.7 228.9h0M136.6 210.6h0M179.3 237.3h0M160.7 240.6h0M157.6 241.2h0M217.8 232.2h0M218 231.4h0M193.4 235.9h0M216.8 232.6h0M81 214.1h0M237.9 227.7h0M186.6 239.2h0M176.5 238.7h0M178.4 239.3h0M179.7 241.7h0M120.1 207.8h0M155.4 239.8h0M152 240.6h0M131.2 207.6h0M157.7 239.5h0M120.1 208.9h0M71.2 216.1h0M187.9 236.8h0M203.5 235.6h0M198.2 236.5h0M175.4 237.6h0M185.1 237.7h0M192 238h0M67.7 217h0M214.8 233.2h0M58.3 218.1h0M58.5 218.7h0M238.1 227.6h0M229.5 229.3h0M32.6 223.6h0M187.3 237.1h0M180.9 238.5h0M229.6 229.3h0M134.7 210.4h0M222.4 230.5h0M150 239.1h0M143.1 237.7h0M153 239.6h0M198 235.3h0M158.8 241.9h0M181.8 238.3h0M133.1 209.4h0M139.3 210.5h0M187 238.6h0M193 236.1h0M223.9 230.2h0M159.8 239.6h0M213.4 232.7h0M215.3 232.4h0M164.2 240.2h0M116 210.1h0M147.1 238.1h0M154.9 240.6h0M170.5 238.4h0M129.5 206.7h0M216.7 232h0M109.9 210.3h0M118.8 208.3h0M154.5 240.8h0M68.1 215.8h0M124.6 207.3h0M126 207.4h0M115.6 210h0M88.8 211.1h0M64.2 217.6h0M155.8 240.9h0M192.6 236h0M115 206.4h0M113.3 209.6h0M77 212.6h0M246.4 225.9h0M206.8 233.4h0M201.2 234.5h0M109.3 210.7h0M125.9 209.5h0M50.9 220h0M107 208.8h0M136.4 210.3h0M56.1 219h0M201.2 234.5h0M141.9 240.2h0M142.7 236.8h0M211.2 232.6h0M126.5 209.4h0M76.7 214.3h0M193 236.3h0M211.1 233.7h0M240.5 227.4h0M109.5 210.9h0M175.1 238.6h0M95 212.5h0M173.3 238.4h0M102.1 211.1h0M232.5 228.7h0M192.3 236.3h0M191.3 236.7h0M151.1 239.3h0M141.4 236.1h0M227.2 229.6h0M208.6 236.9h0M175.4 238.9h0M175.4 239.2h0M61.5 217.4h0M209.1 233h0M76.2 214.7h0M154.6 240.9h0M77.3 213.8h0M123 207.4h0M164.4 240.3h0M111.9 208.8h0M220.8 231h0M61.3 217.7h0M119.3 209.1h0M78.2 215.2h0M176.7 243.6h0M80.4 211.4h0M141.8 236.5h0M81.3 212.7h0M241.6 227.1h0M116.8 207.8h0M64.4 217.5h0M93.1 212.6h0M41.8 221.8h0M197.7 235.1h0M120.9 208h0M180.7 237.2h0M161.5 239.5h0M42.3 221.7h0M63.4 217.9h0M201.6 235.5h0M219.4 231.1h0M114.8 207.4h0M95.8 211.7h0M152.1 239.7h0M186.4 239.3h0M74 214h0M149.4 239.4h0M225.8 230.5h0M210.8 235.3h0M163.2 239.6h0M68.1 215.8h0M220.3 230.9h0M82.4 213.4h0M118.4 209.1h0M210.2 235.1h0M47.5 220.5h0M36 222.8h0M124.3 209.3h0M176.8 238.2h0M133.9 209.7h0M210.3 232.9h0M167.7 240.5h0M188.4 240.7h0M42.8 221.4h0M156.8 241.4h0M135.9 210.5h0M171.3 239.2h0M158.4 239.9h0M46.5 220.4h0M161.5 240.5h0M147.7 238.2h0M182.5 237.5h0M191.5 238.6h0M58.7 218.1h0M101.4 207.8h0M177.4 237.7h0M79.7 214.8h0M146.5 238.4h0M199.8 234.7h0M82 213.6h0M62 217.9h0M161.4 239.2h0M116.6 209.6h0M82.1 212.2h0M106.1 207.1h0" stroke="#ff6600" stroke-width="0.7" stroke-linecap="round" fill="none" opacity="0.8"/>
<path d="M30.6 224.6L32.9 224.1L35.1 223.7L37.4 223.3L39.6 222.9L41.9 222.5L44.2 222.1L46.4 221.7L48.7 221.3L50.9 220.9L53.2 220.5L55.5 220.1L57.7 219.7L60.0 219.3L62.2 219.0L64.5 218.6L66.8 218.2L69.0 217.8L71.3 217.5L73.5 217.1L75.8 216.7L78.1 216.3L80.3 215.9L82.6 215.6L84.8 215.2L87.1 214.9L89.4 214.6L91.6 214.3L93.9 214.0L96.1 213.7L98.4 213.5L100.7 213.3L102.9 213.0L105.2 212.8L107.4 212.6L109.7 212.4L112.0 212.2L114.2 211.9L116.5 211.6L118.7 211.4L121.0 211.2L123.3 211.1L125.5 211.1L127.8 211.2L130.0 211.3L132.3 211.6L134.6 212.1L136.8 212.8L139.1 213.6L141.3 214.6L141.3 211.9L139.1 211.0L136.8 210.2L134.6 209.5L132.3 208.9L130.0 208.7L127.8 208.6L125.5 208.5L123.3 208.5L121.0 208.6L118.7 208.8L116.5 209.1L114.2 209.5L112.0 209.8L109.7 210.1L107.4 210.4L105.2 210.6L102.9 210.9L100.7 211.1L98.4 211.4L96.1 211.7L93.9 212.0L91.6 212.3L89.4 212.7L87.1 213.0L84.8 213.4L82.6 213.8L80.3 214.2L78.1 214.6L75.8 215.0L73.5 215.5L71.3 215.9L69.0 216.3L66.8 216.8L64.5 217.2L62.2 217.6L60.0 218.0L57.7 218.4L55.5 218.9L53.2 219.3L50.9 219.7L48.7 220.2L46.4 220.6L44.2 221.1L41.9 221.5L39.6 222.0L37.4 222.4L35.1 222.9L32.9 223.4L30.6 223.8ZM252.1 224.2L249.8 224.7L247.6 225.1L245.3 225.5L243.1 225.9L240.8 226.3L238.5 226.7L236.3 227.1L234.0 227.5L231.8 227.9L229.5 228.3L227.2 228.7L225.0 229.1L222.7 229.5L220.5 229.8L218.2 230.2L215.9 230.6L213.7 231.0L211.4 231.3L209.2 231.7L206.9 232.1L204.6 232.5L202.4 232.9L200.1 233.2L197.9 233.6L195.6 233.9L193.3 234.2L191.1 234.5L188.8 234.8L186.6 235.1L184.3 235.3L182.0 235.5L179.8 235.8L177.5 236.0L175.3 236.2L173.0 236.4L170.7 236.6L168.5 236.9L166.2 237.2L164.0 237.4L161.7 237.6L159.4 237.7L157.2 237.7L154.9 237.6L152.7 237.5L150.4 237.2L148.1 236.7L145.9 236.0L143.6 235.2L141.3 234.2L141.3 236.9L143.6 237.8L145.9 238.6L148.1 239.3L150.4 239.9L152.7 240.1L154.9 240.2L157.2 240.3L159.4 240.3L161.7 240.2L164.0 240.0L166.2 239.7L168.5 239.3L170.7 239.0L173.0 238.7L175.3 238.4L177.5 238.2L179.8 237.9L182.0 237.7L184.3 237.4L186.6 237.1L188.8 236.8L191.1 236.5L193.3 236.1L195.6 235.8L197.9 235.4L200.1 235.0L202.4 234.6L204.6 234.2L206.9 233.8L209.2 233.3L211.4 232.9L213.7 232.5L215.9 232.0L218.2 231.6L220.5 231.2L222.7 230.8L225.0 230.4L227.2 229.9L229.5 229.5L231.8 229.1L234.0 228.6L236.3 228.2L238.5 227.7L240.8 227.3L243.1 226.8L245.3 226.4L247.6 225.9L249.8 225.4L252.1 225.0Z" fill="#ff6600"/>
<path d="M30.60 172.60H252.10V276.20" stroke="#e9e9e9" stroke-width="0.7" fill="none"/><path d="M30.60 172.60V276.20H252.10" stroke="#cdcdcd" stroke-width="0.85" fill="none"/><path d="M30.60 276.20v-2M74.90 276.20v-2M119.20 276.20v-2M163.50 276.20v-2M207.80 276.20v-2M252.10 276.20v-2M30.60 276.20h2M30.60 258.93h2M30.60 241.67h2M30.60 224.40h2M30.60 207.13h2M30.60 189.87h2M30.60 172.60h2" stroke="#c4c4c4" stroke-width="0.6" fill="none"/><text class="t" x="30.6" y="283.9" text-anchor="middle">804</text><text class="t" x="74.9" y="283.9" text-anchor="middle">804.2</text><text class="t" x="119.2" y="283.9" text-anchor="middle">804.4</text><text class="t" x="163.5" y="283.9" text-anchor="middle">804.6</text><text class="t" x="207.8" y="283.9" text-anchor="middle">804.8</text><text class="t" x="252.1" y="283.9" text-anchor="middle">805</text><text class="t" x="29.1" y="278.2" text-anchor="end">-0.15</text><text class="t" x="29.1" y="260.9" text-anchor="end">-0.1</text><text class="t" x="29.1" y="243.7" text-anchor="end">-0.05</text><text class="t" x="29.1" y="226.4" text-anchor="end">0</text><text class="t" x="29.1" y="209.1" text-anchor="end">0.05</text><text class="t" x="29.1" y="191.9" text-anchor="end">0.1</text><text class="t" x="29.1" y="174.6" text-anchor="end">0.15</text><text class="l" x="141.3" y="291.4" text-anchor="middle">star spot position (pixels)</text>
<text class="l" font-size="6.45" transform="translate(13.8 224.4) rotate(-90)" text-anchor="middle">centroiding error (pixels)</text>
<text class="c" x="136.8" y="309.5" text-anchor="middle">(<tspan font-weight="bold" font-size="15.4">c</tspan>)</text>
<path d="M363.92 172.60V276.20M408.34 172.60V276.20M452.76 172.60V276.20M497.18 172.60V276.20M319.50 276.20H541.60M319.50 258.93H541.60M319.50 241.67H541.60M319.50 224.40H541.60M319.50 207.13H541.60M319.50 189.87H541.60M319.50 172.60H541.60" stroke="#f0f0f0" stroke-width="0.6" fill="none"/>
<path d="M319.5 224.4L430.6 234.8L430.6 254.6ZM541.6 224.4L430.6 214.0L430.6 194.2Z" fill="#ff00ff"/>
<path d="M319.5 224.4L348.4 227.1L348.4 235.6ZM541.6 224.4L512.7 221.7L512.7 213.2Z" fill="#ff00ff"/>
<path d="M365.8 238.2h0M470.4 201.3h0M464.2 196h0M406.1 258.5h0M454.8 193.3h0M458.3 196.7h0M409.1 256.4h0M398.2 245.8h0M431 184.2h0M434.7 182.8h0M460.1 196.4h0M466.4 197.9h0M488.4 206.1h0M452.3 189.6h0M471.2 197.5h0M488.5 204.6h0M492.2 206.2h0M395.4 249.9h0M423.2 257.6h0M417.5 258.5h0M416.5 250h0M393.2 249.9h0M353.1 235.2h0M422.2 260h0M385.9 243.4h0M400.7 255h0M351.7 233.4h0M481.4 205.4h0M449.8 194.9h0M359.7 238.4h0M382.4 242.5h0M501.5 210.8h0M456.8 202.1h0M362.7 241h0M455.3 190.8h0M394 249.9h0M419.1 259.4h0M422.2 259.2h0M500.6 209.3h0M350 234.1h0M421 253.6h0M465.3 203.2h0M366.5 240.5h0M529.8 221.2h0M382 245.9h0M372.9 241.5h0M480.4 202.9h0M449.3 187.9h0M489.7 204h0M482.6 207.8h0M416.6 253.7h0M430.1 259.3h0M461 193.4h0M434.7 188.4h0M458.4 193.8h0M503.1 211.7h0M380.7 245.4h0M378.4 243.6h0M409.9 252.7h0M436.9 193.2h0M399.6 250.9h0M418.8 258.7h0M403.5 249.5h0M412.1 254.1h0M415.8 259.5h0M336.1 229.9h0M420.7 263.1h0M412.6 259h0M489.2 204.4h0M437.9 193.5h0M384.8 248h0M409.1 259.2h0M511.7 215.9h0M506.3 214.5h0M407.4 247.8h0M434.6 194.8h0M501.7 210.6h0M389.2 248.2h0M411.2 256.7h0M384.8 243.5h0M358.4 239.2h0M509.2 215.3h0M450 197.4h0M429.3 257.9h0M358 237.6h0M422.6 252.4h0M455.4 194.5h0M362.5 240.5h0M357.8 235.9h0M367.9 243.3h0M397.3 249.4h0M331.1 228.5h0M493.2 211.7h0M368.8 243.1h0M376.7 241.1h0M506.4 210.9h0M402.6 255h0M396.6 253.2h0M415.3 259.5h0M372 244.9h0M418.7 252.9h0M346.3 231.9h0M340.3 230.2h0M535.7 222.4h0M486.6 204.5h0M430.8 182.1h0M394.8 254.2h0M451.3 193.8h0M350.7 236.4h0M326.4 227.1h0M388.8 246.3h0M493.5 209.2h0M488.3 207.7h0M414 257.8h0M379.4 242.8h0M455.4 193h0M395.8 249.6h0M457.7 194.7h0M511.1 212.9h0M455.3 195.6h0M507.2 214.6h0M512.1 212.7h0M452.7 192.9h0M417.6 261.2h0M408.8 258.9h0M437 186.4h0M480.4 205.1h0M411.7 259.8h0M450.8 189.3h0M434.1 182h0M500.5 212.9h0M471.8 202.6h0M323.1 225.6h0M510.2 211.9h0M391.4 249.8h0M406.6 258.6h0M403.9 254.2h0M506.7 213.6h0M407.6 256.5h0M422.6 262.4h0M433.9 193h0M507.2 213.3h0M457.4 201.5h0M447.9 189h0M407.7 258.7h0M424.4 256.3h0M358.7 239.7h0M416.4 258.4h0M405.1 257.4h0M480.8 203.2h0M421.1 252.7h0M473.5 203.1h0M419.1 258h0M377.2 244h0M418.1 257.5h0M403.3 249.3h0M352.3 234.7h0M487.6 208.5h0M413.9 260.4h0M338.9 230.6h0M517.4 217.5h0M419.2 261h0M360 240.1h0M403.9 254.2h0M462.3 199.7h0M434 189.9h0M378.9 245h0M431.3 195.1h0M341.1 232.2h0M421.2 253.3h0M525.1 218.9h0M506.4 214.9h0M382.8 241.8h0M365.7 241.7h0M463 197.7h0M389 243.4h0M451.8 198.9h0M462.5 195h0M425.8 266.2h0M473.3 202.5h0M433.4 185.6h0M384 245.3h0M434.3 184.5h0M368.5 238.5h0M435.4 194.1h0M371.1 243.9h0M321.7 225.2h0M406.4 248.5h0M478.7 199.9h0M426.2 265h0M523.8 218.8h0M390.1 251.9h0M413.8 251h0M424.3 261.7h0M378.7 241.4h0M443.4 193.5h0M410.3 256.5h0M426.3 261.2h0M367.6 243h0M443.3 187.2h0M421.3 256.5h0M401 252.8h0M478.1 204.6h0M394.2 249h0M486.4 204.2h0M410.3 257.4h0M483 203.2h0M412.5 250.8h0M450.6 197.8h0M458.2 200.2h0M373.2 238.7h0M376.9 240.2h0M496.1 207.8h0M447.4 192.2h0M494.5 206.3h0M477.9 204.9h0M422.7 257.9h0M514.2 213.7h0M482.8 204.8h0M489.8 205.3h0M382.4 245.2h0M391.4 247.6h0M513.2 216.5h0M465.7 196.4h0M487.7 205.1h0M400.4 249.2h0M508.8 215.7h0M469.3 198.9h0M493.2 207h0M438.2 192.8h0M425.3 263.9h0M418.2 252.1h0M423.8 252.8h0M480.7 207.8h0M348.4 233.4h0M400.4 246.6h0M426.2 259.6h0M450.3 200.4h0M411.6 258.8h0M418 256.5h0M515.6 215.3h0M376.9 246.6h0M492.3 208h0M329.8 227.9h0M460.2 193.5h0M412 253.4h0M498.9 209.3h0M359.7 236h0M476.6 198.6h0M451.4 197.1h0M466.9 194.7h0M404.5 254.1h0M396.2 254.8h0M387.2 250.8h0M397 249.3h0M437.9 189.5h0M422.7 257.3h0M347.5 232.4h0M370.3 239.2h0M444.7 196.6h0M426.2 254.1h0M426 259.7h0M344.3 232.9h0M375.6 244.7h0M401.9 254.1h0M496.7 208.3h0M447.2 190.9h0M424.1 261.6h0M445 196.3h0M465.6 199.2h0M434.8 195h0M526.4 219.1h0M381.5 246.5h0M428.8 254.3h0M418.9 259.8h0M414.6 250.8h0M467.8 200h0M361.7 239.7h0M505.8 213.3h0M340.4 231.9h0M418.6 256.9h0M446.3 199.4h0M377.6 246.5h0M402.6 249.7h0M415.2 253.7h0M467 201.8h0M449.3 190.7h0M386.6 243.1h0M436.6 195.9h0M412 258.9h0M389.7 245.7h0M444.3 187h0M508.4 212.6h0M373.9 243.9h0M413.4 254.4h0M432.3 181.7h0M410.9 257.6h0M419.9 252.9h0M392.5 249.9h0M432.4 188.5h0M368.6 241.1h0M441.2 193.6h0M516 216h0M530.7 220.7h0M420.1 250.7h0M456 191.5h0M451.7 195.9h0M419 263.3h0M399.1 252.6h0M439.8 189.4h0M437.5 189.6h0M434.3 188.7h0M416.4 260.3h0M469.6 200h0M357.7 237.5h0M344.8 233.6h0M512.1 214.1h0M535.7 222.8h0M443.6 189.2h0M435.2 189.3h0M480.2 201.6h0M432.4 188h0M399.3 245.6h0M402.2 255.2h0M493.1 207.4h0M483.1 201.5h0M401.2 253.6h0M480.9 204.8h0M434.4 187.4h0M431.9 190.2h0M355.3 238.3h0M414 261.4h0M448.5 195.9h0M433.8 191h0M525 218h0M416.7 256.6h0M388.6 244.9h0M465.9 195.5h0M440.4 184.4h0M360.9 235.8h0M494.4 210.9h0M498.1 208h0M515.8 214.6h0M427.3 261.6h0M456.7 193.8h0M446.9 189.6h0M521.1 218.4h0M520.7 218.5h0M496.9 212.6h0M530.6 220.1h0M462 198.1h0M413.9 257.7h0M426.7 253.9h0M485.9 208.1h0M456.4 195.8h0M375.8 245.1h0M504 214h0M413.7 258.9h0M321.8 225.2h0M434.6 192.6h0M444.9 189.4h0M479.4 200.4h0M457.8 199.4h0M528.7 219.8h0M432.4 181.9h0M377.6 245.7h0M413.8 258.6h0M465.6 198.6h0M485.7 204h0M407.3 256.7h0M485.5 204.3h0M383 244h0M449.9 200.3h0M407.1 255.9h0M398.4 252h0M421.5 257.2h0M467.4 200.4h0M468.8 199h0M433.5 190.2h0M505.3 210.9h0M415.3 260.7h0M449.5 196.7h0M471.7 200.4h0M409.8 251.8h0M342.1 230.9h0M420.9 254.8h0M350.6 236.1h0M352.1 235.4h0M499.6 208.9h0M411.2 260.6h0M339.6 231.1h0M434.8 194.4h0M512.7 213h0M456.8 194.8h0M476.2 198.5h0M420.1 256.3h0M475.5 206.3h0M400.2 253.4h0M433.1 191.8h0M336.2 230.7h0M357.7 236.8h0M334.1 229.4h0M500.2 207.9h0M406.3 258.2h0M453.5 189.6h0M372.1 240.3h0M456.3 199.1h0M382.1 243.3h0M507 212.8h0M348.4 235.5h0M513.8 214.8h0M417.1 262.8h0M502.6 214.1h0M429 258.5h0M366 239.9h0M397.5 248.2h0M435.5 182.6h0M449.2 187.8h0M513.3 216h0M366.2 237.1h0M419.1 257.4h0M415 252.1h0M421.8 259.1h0M430.4 264.1h0M371.8 238.4h0M367.4 237.6h0M451.3 199.2h0M392.5 251.1h0M479.4 205h0M409.1 248h0M489.5 205.9h0M380 242.7h0M393.8 249h0M418.2 261.2h0M375.8 246.4h0M498.1 208.6h0M482.8 208.7h0M500.9 212.4h0M483 208.6h0M477.6 206.4h0M370.3 240.9h0M453.5 191.8h0M366.9 242h0M434.4 183.2h0M407.2 252.4h0M345.2 231.9h0M448.7 190h0M366 238h0M429.2 259.4h0M445.4 192.5h0M409.7 249.8h0M489.8 204.9h0M381.6 241.9h0M419 259h0M450 190.3h0M394.8 250.4h0M407 251h0M468 197.3h0M464.5 198h0M430.2 263.2h0M420.1 253.1h0M377.4 245.2h0M401.1 254.2h0M437.2 187.9h0M343.3 232h0M452 199.2h0M406.5 256.9h0M374.6 240.1h0M388.3 246.4h0M425.7 258.6h0M355.9 238h0M429.5 256.2h0M427.1 265h0M451.1 196.8h0M401.3 254.1h0M473.7 200.3h0M417.6 254.5h0M429.7 257.3h0M370.3 243.6h0M389.1 251.4h0M378.6 247.5h0M463.1 195.7h0M467.9 199.9h0M397.7 254.6h0M405.3 252.2h0M375.6 244h0M395.9 251.9h0M405.3 254.8h0M436.8 192.4h0M458.8 199.6h0M494.9 210.6h0M508 214.1h0M464.9 203.4h0M474 197.7h0M371 243.9h0M398.9 249.6h0M424.3 257h0M382.4 241h0M519.1 217.6h0M480 205.8h0M439.7 186.6h0M361 236.1h0M444.9 186.5h0M447.2 190.2h0M411 250h0M390.4 252.2h0M387.4 250.8h0M382.8 246.9h0M451.3 197.1h0M473.1 204.1h0M522.9 217.4h0M432.9 195.8h0M431.6 180.7h0M492.2 209.5h0M449.2 193.5h0M514.2 215.1h0M461.5 197h0M448.6 190.3h0M401.2 254.1h0M454.8 198.9h0M392.4 248.4h0M441.5 191.6h0M485.5 207.5h0M459.7 196.7h0M392.1 250.1h0M431.8 181.1h0M366.6 239.7h0M481.7 205h0M342.2 232.8h0M410.7 257h0M481.4 208.4h0M373.4 241.4h0M494 207.2h0M495.8 206.6h0M419 262.2h0M358.5 237.6h0M528.5 220.7h0M444.9 191.8h0M412.8 256.8h0M419.4 260.7h0M391.3 246.4h0M484.6 203.2h0M497.4 210.3h0M405.1 252.1h0M385.9 245.4h0M401.4 255.5h0M347.3 232h0M484.7 207h0M455.8 192.5h0M446.6 194.6h0M393.6 246.8h0M471.5 200.2h0M423.5 265.4h0M410.1 257h0M532.5 221.3h0M401.7 256.6h0M485.7 209.4h0M476.4 199.7h0M465.5 201.1h0M393.3 253h0M485 209h0M424.4 264.9h0M375.8 240.1h0M429.8 257.8h0M478.3 206.4h0M429.7 265.7h0M393.7 245h0M439 187.3h0M499 213.2h0M353.8 237.5h0M441.1 197.9h0M405.9 258.3h0M423.4 258.1h0M366.6 240.5h0M434.1 184.2h0M508.8 214.5h0M432.6 190.9h0M481.1 206.1h0M510.3 212.8h0M456.4 197.9h0M519 217.1h0M472.3 201.9h0M444.4 191.2h0M409.6 251.9h0M425.3 262.5h0M407.2 248h0M490.2 204.9h0M424.8 260.8h0M437 187.4h0M471.7 203.1h0M450 189.6h0M435.1 188.7h0M434.4 194.9h0M436.8 184.8h0M415.3 249.9h0M418.4 261.9h0M505.1 210.8h0M417.6 251h0M422.5 254.9h0M430.7 188.7h0M437.3 188.2h0M472.7 200h0M456.7 194.4h0M428.3 256.3h0M538.7 223.6h0M382 249.3h0M445.2 191.7h0M393.7 253h0M431.2 191.2h0M402 254.7h0M398.8 251.9h0M441.2 194h0M420.7 257.7h0M457.7 197.6h0M442.5 187.9h0M532 221.2h0M384.4 242.4h0M360.4 237.7h0M370.4 242.6h0M483.6 206.8h0M430.7 191.2h0M440.7 189.1h0M469 199.6h0M340.4 231.9h0M504.2 213.2h0M374.7 244.4h0M410.6 254.5h0M434.9 188.5h0M427.9 260.7h0M438.1 196.9h0M405.7 252.2h0M494.5 208.4h0M473.7 198.9h0M381.3 244.9h0M429.3 262.3h0M416.9 260.4h0M357.9 234.9h0M371.8 238.9h0M379.9 240.3h0M492.1 209.6h0M379.1 241.7h0M440.5 190.3h0M413.2 254.6h0M506.3 214.8h0M448.7 197h0M401.6 248.1h0M449.1 190.5h0M479.1 207.4h0M356 238.6h0M406.5 256h0M447 190.3h0M403.5 252.9h0M395.3 250.8h0M341.9 231.7h0M374.9 244.7h0M462.7 197.1h0M365.1 238.1h0M477.3 200.5h0M479.2 199.9h0M382.1 243.1h0M389.8 249.9h0M381.8 242.3h0M520.4 216.6h0M373.7 241.5h0M423.8 254.7h0M454.5 194.9h0M474.3 206h0M435.4 187.5h0M405.4 250.4h0M419.3 261.2h0M409.6 252.6h0M505.8 214.9h0M436.9 193.6h0M463.3 202.8h0M390.2 252.2h0M441.3 192.7h0M427.6 259.9h0M418.4 259.4h0M412.6 256.2h0M439.7 190.2h0M455.2 197.9h0M485.7 202.7h0M447.3 190.4h0M431.1 193.4h0M407.6 252h0M514.4 213.8h0M428 255.2h0M427.8 259.7h0M337 230.9h0M392.1 244h0M464 194.5h0M451.2 191.7h0M431 185.1h0M420.8 264h0M326.6 227.2h0M380.5 242.6h0M347.1 234.9h0M434.7 190h0M413.6 256.7h0M364.6 239.7h0M364.6 241.8h0M443.9 195.7h0M446.7 191.6h0M435.3 185.9h0M395.2 247.6h0M382 246h0M454 191.7h0M415.5 252.9h0M438.3 192.8h0M422.8 253.5h0M511.2 213.8h0M457.4 198.3h0M385.1 246.8h0M361.8 239.3h0M427.2 256.3h0M502.8 210.4h0M369.2 242.7h0M498.3 208.6h0M457.3 199h0M406.6 247.8h0M394.3 244.1h0M415.4 250.6h0M393 248.3h0M346.9 232.9h0M446.5 191.8h0M396.4 252.3h0M493.6 208.7h0M457.3 201.2h0M443.7 191.4h0M358.9 235.7h0M516.9 215h0M439.5 192.4h0M412.4 251.5h0M358 237.6h0M450.8 189.7h0M433.1 185.7h0M514.5 215.3h0M428.7 264h0M478.8 200h0M469.1 203.3h0M439 196.5h0M455.7 200.5h0M469.9 201.4h0M379.1 242h0M404.9 257.6h0M417.9 250.7h0M417.1 250.6h0M451.4 193.1h0M384 245.8h0M409.6 259.8h0M476.8 205.7h0M471.2 197.2h0M423.3 257.7h0M422.7 262.8h0M435.8 192.1h0M469.1 202.5h0M352.2 234.5h0M441 190.3h0M428.7 258.3h0M464.2 195.7h0M359.3 237.6h0M438.6 191.2h0M460.3 202.1h0M458.2 192.7h0M468.2 197.7h0M497.5 210.9h0M462.5 196.2h0M361.4 235.8h0M514.7 215.1h0M474 199h0M432 193.1h0M478.9 204.7h0M385.7 250h0M427.2 254.9h0M446.5 195.7h0M435.9 184.1h0M429.8 254.9h0M473.3 203.2h0M441.6 184.8h0M446.5 189.3h0M375.5 240.6h0M459.2 202.9h0M474.5 199.8h0M446.1 192.3h0M416.9 257h0M502.1 212.9h0M489.5 208.6h0M510.4 214.2h0M515.8 217.1h0M339 231.8h0M433.5 185.3h0M366.4 238.7h0M435.2 182.4h0M349.8 234.4h0M459.7 201.7h0M467.2 200.1h0M342.9 232.3h0M396.8 250.5h0M401 251.3h0M413.8 252.5h0M461.4 202.6h0M389.3 248.7h0M401.4 250.2h0M413.7 250.9h0M518.4 217.8h0M480.6 203.8h0M486.1 203.8h0M442.2 197.7h0M436.4 194.2h0M428.5 255.7h0M349 232.4h0M467.3 203.3h0M327.7 227.5h0M443.3 197.2h0M383.7 248.6h0M516.8 217.3h0M391 244.7h0M406.7 251.9h0M370.8 243.6h0M492 207.5h0M471.2 205.9h0M446.8 187.8h0M459.2 193.7h0M398.7 249.2h0M424 264.7h0M440.9 193.2h0M422.2 262.6h0M364.8 240.1h0M459.9 191.9h0M415.6 252h0M483.9 206.6h0M528.7 220.5h0M436.6 189.4h0M481.2 207.1h0M365.2 238.3h0M414.8 261.7h0M474 205.9h0M479.7 201.5h0M424.5 259.7h0M442.4 191.5h0M457.6 200.4h0M387.9 247.9h0M379 244.1h0M480.8 202.3h0M449 193h0M498.4 208.6h0M394 245.5h0M414.1 259.4h0M385.7 244.6h0M393.6 247.7h0M413.9 250.8h0M379.1 248.1h0M467.5 203.3h0M346.8 232.8h0M448.1 193.6h0M344.4 232.4h0M404.4 247.1h0M507 215.3h0M435.3 182.7h0M433.4 188.8h0M411.8 257h0M463.3 199.8h0M388.8 247.3h0M481.7 203.1h0M457.5 196.2h0M417.8 258.8h0M465.1 195.8h0M519.5 216.5h0M495.1 211.5h0M448.7 191.5h0M458.6 198.7h0M461.9 196.9h0M466.9 196.7h0M435 191.3h0M348.9 234.9h0M394.6 248.7h0M441 193.6h0M466 194.5h0M445.7 186.3h0M391.1 244.3h0M443.8 193.9h0M437.8 186.3h0M436.6 185.3h0M390 251.3h0M389.7 244.7h0M400.6 254h0M464.6 195.1h0M515.1 216.4h0M484.9 209.3h0M395.2 252.7h0M420.6 254.1h0M488.1 205.2h0M473.2 206.5h0M370.4 239.1h0M436.5 191.4h0M334.8 228.6h0M403.3 254.5h0M434.7 185.5h0M389 251.7h0M363.4 239.2h0M402.9 254.7h0M421.2 259.7h0M405.7 253.1h0M419.8 256.6h0M392.4 251.6h0M418.3 263.3h0M425.6 261.6h0M406 256.3h0M427.4 263.1h0M427.6 257.8h0M396.4 250.1h0M435.3 193h0M496.8 211.1h0M453.8 197.1h0M419.4 261.5h0M397.2 248.6h0M411.1 259.2h0M410.4 248.8h0M401 246.7h0M383.6 248.6h0M493.9 206.3h0M499.1 209.2h0M462.3 193.2h0M436.9 188.9h0M372.2 243.2h0M469.9 199.9h0M380.9 245.6h0M400.4 252.8h0M434.4 193h0M377.3 243.4h0M467.5 198.6h0M374.4 244.4h0M368.2 243.1h0M436.7 184.3h0M400.2 251.3h0M376.4 244.5h0M425.2 254.4h0M339.6 230.1h0M397 248.6h0M422.3 251.9h0M442.5 189.4h0M472.8 203.8h0M365.3 237h0M466.7 198.4h0M394.5 248.5h0M408.1 253.7h0M432.8 187.9h0M432.3 181.1h0M358.8 238h0M530.7 220.8h0M427 263.8h0M455 197.7h0M417.4 255.2h0M489.7 205.7h0M453.3 199.2h0M421.2 257.1h0M514.6 213.7h0M434.5 192h0M436.6 184.6h0M507.6 211.4h0M418.9 258.6h0M493.4 211.7h0M434.8 191.2h0M418.7 262.1h0M451.3 195.6h0M460.5 198.8h0M380.9 244.1h0M461.7 195.7h0M407.5 258h0M359.8 238.7h0M408.3 250.1h0M401.7 249.5h0M509.7 213h0M492.8 206.9h0M459.5 193.3h0M398.6 255.7h0M433.5 183.7h0M472.3 200.9h0M387.4 249.5h0M351.1 235h0M334.7 229.8h0M424.1 264.9h0M387.4 242.4h0M465.2 202.3h0M409.1 258.3h0M364.8 241.2h0M409.8 249.6h0M457 195.1h0M504.9 210.3h0M467.6 196.6h0M516.2 217.4h0M476.4 202h0M449.7 200.4h0M470.9 203h0M465.1 194.7h0M485.3 203.6h0M452.4 200.1h0M437.5 192.9h0M440 184.7h0M467.5 201.3h0M431.1 181.5h0M397.5 247.9h0M345.1 232.1h0M443.9 186.3h0M470.4 200.7h0M487.1 208.1h0M403.2 254.4h0M327.9 226.8h0M480.1 203h0M458.9 201.1h0M347 232.8h0M445.2 192.6h0M386.8 250.4h0M388.6 242.8h0M486 203.5h0M383.6 242.5h0M457.6 194.9h0M498.9 209.1h0M429 257.7h0M402.4 256.9h0M359.3 239.1h0M466.5 195.6h0M486.3 207.4h0M476.9 206.6h0M418.5 259.7h0M428 260.7h0M429.8 257.3h0M387.1 247h0M457.2 195.3h0M446.9 195.5h0M365.5 241.5h0M422.2 264.7h0M356.6 238.8h0M406.7 254.3h0M341.5 230.6h0M407 252h0M427.9 259.1h0M377.3 244.7h0M383.3 241.8h0M467.1 197.2h0M358.6 235.1h0M436.6 193.6h0M424.2 258.1h0M431.7 183.3h0M486.8 203.5h0M363.8 241.9h0M401.4 248.3h0M422.9 255.4h0M499.1 208h0M500.9 209.6h0M427.8 266.9h0M377 244.3h0M409.9 251.5h0M447.5 187.3h0M394.4 249.5h0M456.6 200.6h0M501.4 212h0M487.2 203h0M397 254.9h0M393.7 250h0M421.1 254.8h0M472.8 205.1h0M378.4 240.9h0M467.2 203.6h0M436.5 185.4h0M483.8 204.8h0M501.4 213.8h0M378.4 246.8h0M382.6 242.4h0M326.1 226.8h0M460.9 202.7h0M415.3 255h0M478.3 199.2h0M379.1 243.1h0M482.8 202.7h0M484.6 208.2h0M472.6 199.4h0M441.7 191h0M432.7 184.9h0M510.9 215.2h0M508.2 212.1h0M466.4 195.2h0M390.2 243.4h0M405.1 256h0M342.6 232.2h0M348.2 232.6h0M406.2 250.7h0M491 207h0M446.1 193h0M410.9 259.7h0M366.9 237.8h0M448.9 199h0M401.8 253.3h0M444.5 190.6h0M422.1 254.6h0M517.1 215.7h0M486.4 208.5h0M385.7 249.8h0M401.2 252.7h0M451.5 193.5h0M466 200.6h0M387.6 248h0M392 250.1h0M429.8 267.5h0M469.2 202.2h0M406.1 251.3h0M369.2 243.2h0M415.1 256.2h0M494.3 209.7h0M435.9 188.2h0M442.2 189.9h0M427.1 263.2h0M452.4 192h0M502.8 211.2h0M431.8 195.1h0M463.3 194.9h0M482.3 205h0M397.8 247.2h0M405.9 248.2h0M445.7 196.7h0M408.4 252.6h0M495.3 206.1h0M404.2 247.8h0M403.8 254.3h0M405 257.6h0M460.6 197.2h0M390.9 246.3h0M390.9 244.8h0M439.4 190.9h0M402.6 254.9h0M513.4 213.2h0M443.8 191.3h0M459.3 202.8h0M478.3 200.5h0M390.2 246.5h0M394 245.1h0M464.1 199.1h0M430.6 184h0M414.9 259.9h0M429.6 255.1h0M441.1 186.8h0M448 190.1h0M493.9 208.1h0M381.4 247.8h0M481.5 205h0M489.3 208.5h0M446 192.7h0M405.8 254.5h0M524.4 218.4h0M406.5 249.5h0M361.9 239.7h0M400.5 254.3h0M390.3 246h0M455.5 193.6h0M520.8 218h0M331.3 227.9h0M371.1 240.7h0M409 259.9h0M478.2 207.6h0M415 249.8h0M445 187.5h0M445 197.1h0M336.9 230.6h0M501.5 209.6h0M466.4 197.9h0M381.1 243.4h0M428.8 259.3h0M448.6 188.9h0M399.6 248.4h0M503.7 212h0M425.8 261.3h0M400 247.4h0M361.9 236.9h0M427.9 253h0M333.5 229.1h0M382.1 248.8h0M471.9 204.7h0M467.7 204.5h0M365.7 240.5h0M453.1 197.2h0M365.7 237h0M466.2 200.7h0M476.5 199.5h0M454.2 191h0M382.9 241.7h0M428.5 261.3h0M390.9 243.7h0M387.7 245.7h0M485.4 205.9h0M482.5 204.6h0M473.8 200.3h0M479.6 205.4h0M355.5 236.4h0M354.4 237.7h0M448.7 194.6h0M404.3 252.8h0M438 189.5h0M408.5 259.5h0M461.3 202.5h0M490.8 206.9h0M475.4 199.7h0M396.8 248.7h0M465 196.6h0M411.8 250.2h0M346.8 234.9h0M429 258.7h0M453.2 196.6h0M445.4 192.5h0M505.2 211.1h0M455.2 190.9h0M369.1 242.8h0M409.4 260.1h0M468.1 198h0M463.1 199.4h0M537.6 223h0M449.1 198.4h0M426.1 252.5h0M418.4 251.8h0M412.7 251.9h0M428.7 259.9h0M446.1 194.1h0M409.2 256.1h0M442.4 190.8h0M363.6 240.6h0M491.6 208.7h0M454.1 200.1h0M370.5 238h0M348.5 232.2h0M468.2 200.3h0M464.8 202.4h0M344 231.2h0M411.5 258.6h0M402.9 247.4h0M363.5 237.1h0M399.5 248.5h0M436.3 186.1h0M361.4 238h0M445.3 186.9h0M450.1 198h0M473 205.3h0M426.4 262.7h0M448.1 198.9h0M482.4 202h0M455.7 202h0M416.8 261h0M419.9 252.6h0M498.2 210.1h0M361.2 238.3h0M444.4 190.6h0M386.1 246.1h0M452.1 199.4h0M384.5 242h0M423 255.1h0M404.4 251.8h0M488.9 208.4h0M498.1 207.2h0M399.8 251.2h0M457.4 201.7h0M369.4 240.7h0M382.9 243.3h0M417.9 257.9h0M426.6 256.3h0M497.1 207.3h0M496.9 210.2h0M468.4 201.6h0M504.7 213.6h0M447.6 187.2h0M395.8 245.8h0M433 184.8h0M354 234.5h0M396.9 249.5h0M366.4 239.8h0M345.8 233.9h0M399.7 255.4h0M419.5 252.7h0M436 189.9h0M409.7 254h0M477.3 204.1h0M419.6 262.7h0M443.3 190.4h0M437.3 183.8h0M505.5 210.7h0M491.1 209.8h0M453.4 198.2h0M420.9 262.2h0M448.7 199h0M438.8 188.5h0M405.9 248h0M470 204.3h0M422.5 259.1h0M403.8 253.4h0M415.4 252.6h0M413.9 251.3h0M461.8 194.4h0M518.9 215.6h0M440.5 185.8h0M462.3 196.2h0M424.5 256.3h0M428.9 261.9h0M375.8 246.2h0M465.7 198.5h0M441.4 193.3h0M397.9 248.1h0M477.6 204.9h0M430.6 183.7h0M373.1 241.4h0M426.4 261h0M422.8 254.9h0M422.3 258.6h0M471.3 204.9h0M473.3 197.9h0M371.5 241.5h0M520.8 218.4h0M434 187.6h0M438.6 190.3h0M358 235.4h0M424.1 260.3h0M441.6 191.2h0M421.8 256.9h0M397.5 254.8h0M394.8 251.5h0M400.6 250.2h0M400.1 246.5h0M435.6 185.1h0M466.6 199.1h0M406.5 253.1h0M476.4 203.5h0M379.2 244.7h0M469.5 205.4h0M423.5 258.2h0M383.2 243.6h0M356.1 237.8h0M492.3 209.7h0M472.9 201.9h0M451.6 189.5h0M410.2 253.8h0M393.8 249h0M444.9 193.6h0M426.2 257.8h0M356.9 235.5h0M479.4 200.6h0M345.4 231.3h0M438.5 191.3h0M429.2 255.8h0M473.3 204.9h0M432.7 192.2h0M403.9 249.1h0M400 254.2h0M425.5 257.8h0M448.1 190.7h0M473.6 202.3h0M448.2 196.8h0M389.6 252h0M367 242h0M432.6 185h0M339.6 231.9h0M533.2 221.5h0M476.4 204.9h0M383.2 242.5h0M514.1 213.9h0M408 251.4h0M477.7 200.7h0M356.3 238.1h0M375.9 245.7h0M445.6 195.6h0M490.6 206.6h0M444.9 187.8h0M437.7 188.9h0M473.1 197.2h0M469.2 204.2h0M494.8 206.4h0M470.7 202.9h0M452.2 201h0M395 252.3h0M372.2 240h0M455.4 194.9h0M518.5 217.2h0M417.1 253.9h0M397.3 251.8h0M425.6 263.7h0M345.1 233.2h0M469.7 198.4h0M443 186.8h0M384.1 247.2h0M449.8 194h0M413.1 254h0M326.1 226.7h0M397 254.4h0M428.8 259.1h0M449.3 197h0M393.7 251.2h0M455.8 194.2h0M415.5 262.1h0M463.9 194.1h0M437 192.3h0M492.7 205.6h0M430.8 181.8h0M480.2 208.2h0M482.6 207.3h0M366.2 237.4h0M472.1 199.2h0M384.6 246.5h0M420.3 256.7h0M416 259.2h0M469.7 201.6h0M449.2 189h0M481.5 206.5h0M389.3 247.6h0M434.9 187h0M421.3 262.5h0M431.2 182.4h0M477.4 200.4h0M441.6 189.3h0M420.2 250.8h0M420.7 258.2h0M451.6 194.1h0M491 210.2h0M370.5 239.3h0M415.7 252.3h0M518 216h0M485.9 202.6h0M350.8 233.9h0M492.5 209.4h0M448.9 199.6h0M418.3 252.1h0M359.4 235.6h0M456.1 197.9h0M425.1 259.6h0M533.4 222h0M402.7 253.3h0M406.7 249.8h0M434 182.7h0M408.1 258.3h0M392.4 248.9h0M388.9 250.9h0M447.4 194.3h0M357.3 237.4h0M452.2 194h0M409.7 256.2h0M468.2 197.6h0M473.5 200.3h0M449.8 194.1h0M408 251.8h0M409 250.9h0M432.8 190.5h0M368.6 239.4h0M420 259.1h0M520.3 216.1h0M386.2 250.2h0M518.2 217.4h0M471.5 202.9h0M508.7 211.9h0M380 247.9h0M444.5 197h0M413.2 251.4h0M445.4 190.2h0M454.2 194.9h0M481.2 201.9h0M368.2 242.4h0M387.1 244.2h0M411.9 254.3h0M398.5 252.3h0M400.5 247.5h0M447.6 188.8h0M454.9 190.3h0M428.1 257.1h0M390 246.1h0M488.6 204.7h0M413.1 261.2h0M368.1 239.9h0M454.8 189.9h0M440.8 184.9h0M393.4 250.8h0M527.1 218.9h0M482.5 201.7h0M442.8 192.1h0M430.9 184.4h0M423.6 265.3h0M406.8 259h0M368 237.5h0M419.9 259.5h0M454 193.9h0M499 208.3h0M442.9 188h0M458.2 200.3h0M509.2 214.4h0M441.4 184.6h0M466.3 204.2h0M343.8 233.7h0M495.2 207.9h0M463.5 197.7h0M421.1 254.9h0M490.9 206.4h0M407.8 258.6h0M469.7 202.6h0M429 255.6h0M347 233.4h0M405.4 248h0M398.4 246.9h0M368.4 240h0M433.4 188h0M377.9 246h0M421.9 261.8h0M420.5 261.8h0M412.5 258.5h0M389.8 246.4h0M475.2 198.3h0M464 198.8h0M420.6 263.7h0M443.2 191h0M377.3 246.5h0M509.6 212.8h0M432.8 182.1h0M465.7 199.5h0M414.3 261.7h0M435.1 182.6h0M386.4 244.9h0M368.7 241.6h0M380.2 248h0M374.7 245.4h0M529.7 220.1h0M423.1 263.7h0M405.1 249.9h0M406.2 258.4h0M469.8 196.1h0M382.9 246.5h0M451 193.9h0M408.2 251.5h0M385 248h0M406.4 254.8h0M399 252.9h0M481.6 201h0M375.5 243.8h0M356.6 237.9h0M400 249.3h0M346.3 231.5h0M474.8 203.6h0M404.3 253.1h0M383 247.2h0M448.5 191.6h0M414.2 256.3h0M504.9 211.9h0M451.7 191.1h0M473.8 203.4h0M436.9 194.9h0M475.6 204.7h0M457.9 199.6h0M455.1 193.5h0M491.2 207.3h0M497.3 210.6h0M351.3 236.5h0M488.5 204.8h0M432.7 186h0M449.5 190.8h0M371.3 238.2h0M456.4 197.1h0M406.5 247.6h0M356.1 237.7h0M409.5 255.8h0M415.6 261.8h0M382.9 247.3h0M453.9 199.4h0M434.8 192h0M367 240.8h0M454.9 195.6h0M347 235.3h0M505 210.2h0M354.1 236.2h0M423.2 258.3h0M351.6 235.9h0M376.4 245.6h0M392.6 246.8h0M453 192.2h0M437.9 194.9h0M386.6 244.1h0M515.8 214.3h0M406.5 249.8h0M493.7 208h0M413 252.2h0M390 250.8h0M405.6 254.6h0M348.4 235.7h0M423.7 255.4h0M380.4 248.3h0M425 255.1h0M457.6 194h0M469.2 199.9h0M440.1 197.4h0M402.1 252h0M497.1 208.8h0M452.9 197.8h0M406.6 254h0M471.3 197.6h0M505.2 212.9h0M447.2 190.2h0M415.2 256.5h0M476.2 201.3h0M405 247.3h0M427.6 263h0M387.2 242.5h0M443.2 188h0M421.8 261.2h0M435.3 196h0M490.6 209.2h0M349.2 234.5h0M442.3 191.9h0M417.2 257.2h0M387.4 248.6h0M482.3 205.1h0M402.6 253.4h0M406.5 258.6h0M464.2 198.8h0M415.8 261.7h0M393.5 251.8h0M445.7 195.7h0M407.8 252.5h0M422.3 255.2h0M456 196.6h0M354.9 238h0M376.8 246.2h0M383.1 248.6h0M410.6 252.9h0M463.9 199.1h0M377.4 246.7h0M412.5 252.5h0M485.6 208.5h0M469.6 200.7h0M442.3 187.2h0M432.7 184h0M534.6 222.3h0M465.3 198.6h0M506.7 210.7h0M407.7 248.7h0M416.9 257.8h0M445.7 195.2h0M416 257.9h0M449.6 198.4h0M451.7 192.6h0M434.7 188h0M381 248.3h0M419.4 259.3h0M421.2 255.4h0M485.9 209h0M462.1 200.9h0M448.5 190.2h0M495.2 207.4h0M380.6 243.6h0M374 241.5h0M388.6 250.7h0M339.5 231.2h0M404.5 253.6h0M404.4 252.1h0M408.8 254.8h0M478.2 200.7h0M513.6 213.6h0M439.8 186.4h0M478.8 202.4h0M388.8 251.6h0M412.6 251.3h0M452.3 189h0M407.1 256h0M436 194.8h0M392.9 251.3h0M514.3 215.5h0M381.6 241.4h0M505.2 212.7h0M440.9 191.7h0M451.6 194h0M434.5 193.5h0M435.3 189.6h0M436.4 187.6h0M411.9 250.2h0M426.9 259.9h0M454.3 193.8h0M408.4 254.5h0M417 262.9h0M455.5 199.3h0M487.7 206.9h0M412.5 252h0M377.8 244.9h0M378.3 243.5h0M427.5 257.9h0M438 196.3h0M486 206.6h0M504.9 213h0M414.6 253.9h0M392.1 244h0M427.6 260.3h0M459.4 193.6h0M448.1 198.7h0M400.6 255.1h0M485.1 206.7h0M387.2 251.1h0M499.5 207.8h0M402.7 251.4h0M442.2 195.8h0M461.5 200.7h0M422.5 251.4h0M404.7 253.7h0M386.2 249.1h0M431 193.6h0M400.1 251.8h0M422.2 254.8h0M333 229.2h0M403.8 250.2h0M326.1 226.2h0M505.6 210.5h0M432.5 184.6h0M454.1 193.4h0M431.9 193.2h0M442.6 189.2h0M462 192.7h0M406.3 248.4h0M411.3 256.6h0M461.2 194.6h0M429.7 266.9h0M417.4 262.7h0M406.2 257.9h0M488.9 206.3h0M398.3 246.3h0M376.9 246h0M427 264.4h0M495.1 210.6h0M451 190h0M433.3 183.6h0M403.6 252.5h0M513.4 215.9h0M340.4 232.4h0M411.3 256.6h0M476.9 199.9h0M435.2 196h0M399.2 254.5h0M333 228.1h0M463.5 201.5h0M413 250.9h0M525.2 219.5h0M415.8 251.9h0M422.3 256.4h0M461.3 199.8h0M399.3 249.3h0M477.3 200.1h0M420.1 259.6h0M511.5 213.9h0M466.4 195.3h0M453.6 197.5h0M433.3 192.7h0M482.9 203.9h0M410.7 257.4h0M373.3 243.2h0M455.9 197.4h0M351.2 234.7h0M493.3 209.6h0M359.7 235.9h0M460.5 197.7h0M482.1 202.5h0M422.8 251.9h0M497 210.5h0M448.6 198.6h0M408.8 259.3h0M451.3 197.4h0M361.2 236.5h0M384.3 243h0M440.5 197h0M453.1 197.8h0M480.3 205.1h0M455.8 196.3h0M398.3 252.7h0M402.3 252h0M428 264.1h0M479.4 200.2h0M391.9 247.5h0M431.5 195h0M482.4 204h0M426.3 253.4h0M386.6 248.7h0M431.1 187.4h0M532.1 220.9h0M507.1 212.3h0M447.1 193.3h0M442.1 197.4h0M431.6 191.9h0M476 202.4h0M462.2 193.5h0M424.2 252.7h0M501.5 211.7h0M501.8 209.7h0M445.8 198.3h0M428 266.8h0M462 194h0M458 202.3h0M494.6 209.8h0M492.8 210.4h0M493.1 207.3h0M394.9 253.7h0M392.1 245.1h0M434.8 184.5h0M435.4 190.7h0M383.5 243.2h0M426.9 258.1h0M508.7 213h0M364.1 238h0M419.1 250.7h0M488.4 207.8h0M502.1 213.3h0M458.4 201.4h0M443.6 197h0M525.1 219.8h0M433.6 193.2h0M416.7 262h0M367.6 242.6h0M493.8 211h0M424.5 254.4h0M402.6 252.7h0M438.4 185.8h0M457.8 192.1h0M371.2 241.5h0M398 251.1h0M444.8 194h0M415.8 254.5h0M501.3 209.2h0M515.5 217.1h0M399.5 254.9h0M375.5 241.4h0M463.2 193.3h0M435.7 189.5h0M393.3 244.6h0M461.8 197.2h0M381.2 241h0M495 206.7h0M448.2 194.9h0M400.2 254.9h0M444.3 187.5h0M470.3 203.2h0M420.4 262.4h0M362.7 240.5h0M429 253.4h0M448.2 188.4h0M371.2 242.6h0M491.3 207.5h0M411.1 254.3h0M421.3 255.7h0M463.5 200.2h0M423.8 256.8h0M414.5 251.9h0M443.8 198.8h0M452.6 195.9h0M466.7 195.2h0M497.5 209.7h0M478.7 203.2h0M363.6 238.9h0M417.4 261.6h0M422.4 265.2h0M421.2 256.6h0M405.8 247.9h0M379.4 243.5h0M382.6 245.9h0M430.2 257h0M366.1 242.7h0M446.7 192.1h0M401.8 255.7h0M373 244.1h0M474.1 204.8h0M384.4 244.7h0M468.6 202.7h0M397.2 244.7h0M350.2 234.2h0M467.7 205h0M494.3 206.9h0M432.3 188.2h0M479.7 202.5h0M421.3 254.8h0M435.7 185.4h0M402.9 254.4h0M472.6 199.5h0M395.3 251.4h0M537.5 223.1h0M383.7 244.5h0M517 216.5h0M435 182.5h0M469.1 200.5h0M482.5 202.8h0M392.9 250.2h0M436.7 196.8h0M386.9 246.2h0M457.3 198.6h0M479.3 203.9h0M508.4 211.8h0M366.2 240.8h0M486.1 203.1h0M448.4 188.5h0M380.7 246h0M391.7 251.9h0M454.9 194.8h0M481.5 203.5h0M445.1 187.8h0M400.1 256.2h0M461.1 198.8h0M518.2 217h0M498.8 211.1h0M475.7 199.9h0M374.4 239h0M391 251.1h0M440.6 192.7h0M404.2 254.3h0M401.2 251.5h0M355.4 235.1h0M452.6 196.3h0M406.9 258.5h0M454.4 199.6h0M504.9 211.4h0M458 194.7h0M450.3 191.2h0M509.3 213.3h0M454.2 194.9h0M394 243.9h0M387.8 244.2h0M429.2 263.5h0M395.5 249h0M392.3 250.8h0M439.4 193.9h0M376.6 241.4h0M351.7 235.2h0M420.6 259.7h0M419.4 262h0M398.9 249.9h0M434.1 187.7h0M455.7 191.7h0M459.9 201.3h0M491.4 206.7h0M515.7 217.2h0M365.3 237.7h0M373.7 245.9h0M405.7 247.4h0M479.4 205.8h0M496.7 212.6h0M414.4 259h0M428.4 254.8h0M399.4 246.3h0M351.7 235.3h0M480.2 201.8h0M513.3 213.8h0M431.3 184.4h0M385.3 246h0M410.8 249h0M446.2 189.3h0M443 193.6h0M380.1 246.2h0M383.6 242.8h0M462.1 200.9h0M505 209.9h0M400.1 254.3h0M366.5 241.7h0M449.2 191.3h0M407.2 248.3h0M417 256.1h0M490.6 206.3h0M490.9 208.8h0M472.9 199.6h0M440.5 184.5h0M494.7 207.5h0M470.3 200.3h0M408.4 251.7h0M376.9 240.2h0M430.7 186.2h0M503.7 211.1h0M453.4 193.4h0M425.1 259.8h0M387.8 249.8h0M487.4 206.8h0M406 252.2h0M460.1 197.8h0M517.1 216.6h0M450.8 189.9h0M431.4 195.5h0M401.6 250.3h0M421.3 257.4h0M481.1 202.4h0M388.7 249.5h0M399.8 248.3h0M332 229h0M403.6 254.4h0M428.4 260.3h0M395.5 247h0M428.6 264.5h0M397.9 246.1h0M389.2 250.8h0M450.6 189.6h0M464.1 202h0M474.1 197.6h0M413.9 258.8h0M425.7 261.6h0M471.6 203.6h0M448.6 200.1h0M416.9 255.8h0M395.5 254.3h0M429.6 255.2h0M364.7 238.3h0M421.5 260.3h0M359 237.2h0M517.2 215.8h0M456.2 192.8h0M450 191.2h0M536.2 222.4h0M433 184h0M390.9 246.7h0M331.8 227.7h0M438.3 191.1h0M391.6 244.1h0M438.1 189.6h0M380.8 244.3h0M409.2 254.2h0M449.5 195h0M399.2 249.2h0M513.1 213.7h0M371.4 238.1h0M447.7 194.9h0M370.4 237.9h0M487.4 207.8h0M460 197.6h0M462.9 201.8h0M348 235.1h0M324.5 225.9h0M448.5 196.5h0M437.6 183.2h0M429 262.7h0M478.5 206.6h0M371 244.3h0M465.4 197h0M512.8 215.1h0M489.9 206h0M395 248.3h0M418.5 252.3h0M426.2 253.9h0M381.2 240.7h0M405.9 249.1h0M414.3 261.5h0M457.6 198.3h0M506 212.2h0M483.2 205.5h0M429.4 262.2h0M369.3 242.7h0M430 257.2h0M390.1 247.3h0M454.9 200.9h0M443.1 194.8h0M350.5 235.1h0M468.6 202.2h0M467.4 195.4h0M408.3 259h0M363.3 240h0M395.7 253.4h0M448.6 191.4h0M419 255.9h0M338.1 229.4h0M417 261.3h0M428.7 257.2h0M383.1 247.4h0M476.5 201.2h0M518.9 218.4h0M481.5 206.6h0M351.6 235.9h0M436.8 184.2h0M423 259.5h0M470.1 196h0M425.2 255h0M418.5 258.7h0M392.1 247.1h0M512.4 214.4h0M419.8 258.9h0M391.4 245.1h0M443.8 187.4h0M445.2 192.2h0M466.9 199.9h0M468.2 198.4h0M427.5 267.2h0M485.4 206.1h0M475.6 206.7h0M443.7 194.8h0M467.6 200.7h0M443 186.3h0M474.2 201.9h0M399.4 246.3h0M456.3 195h0M515.2 216.3h0M365.9 240.2h0M489.6 207.4h0M369.9 243.4h0M473.7 200.2h0M402.1 247.7h0M458.2 199.1h0M427.7 259.5h0M434.3 192.8h0M434.2 191.8h0M467.9 196.8h0M410.1 253.6h0M418.9 259.7h0M391 250.7h0M417.4 261.8h0M418.2 251.8h0M433.2 187.8h0M497 208.9h0M477.8 205.3h0M396.1 254.2h0M471.7 205.2h0M378.6 241.7h0M461 202.4h0M391.7 251.4h0M348.7 235h0M484.1 209.1h0M357 235.2h0M476.5 207.2h0M405.8 250.6h0M432.8 194.7h0M369.5 238h0M482.4 204h0M400 250.5h0M377.6 245h0M506 212.8h0M425.1 264.8h0M448.8 188.4h0M409.2 248h0M458.5 196.7h0M439.2 193.1h0M408.6 253.4h0M424.3 256.8h0M462.1 194.7h0M395.1 250.4h0M358 237.6h0M468.3 203.4h0M411 260.7h0M439 194.1h0M433.3 189.8h0M500.3 211.8h0M427.2 258.2h0M410.9 260.1h0M390.2 244.6h0M429.5 267h0M471.4 200h0M373.1 242.1h0M469.9 199.8h0M390.8 245.2h0M375.2 241.2h0M417 250.9h0M502.7 209.5h0M437.6 183.9h0M352.4 235.8h0M488.4 209.7h0M472.5 199.5h0M366.6 241.1h0M379.5 242.9h0M398.5 253.3h0M405.8 249.2h0M410.6 253.1h0M346 234.5h0M354.1 234.3h0M400.5 248.6h0M517.4 218h0M427.6 253.8h0M515.2 214.1h0M521.4 218.7h0M397.4 249.9h0M356.7 236.7h0M458.3 198.3h0M435.4 190.9h0M493 207.8h0M414.1 256h0M436.4 189.4h0M369.5 239.7h0M449.6 191.3h0M409.4 251.8h0M384.7 249.4h0M454.4 190.4h0M447.2 198.9h0M436 190.5h0M362.5 237.7h0M361.8 237.2h0M440 189.2h0M351.9 234.5h0M444.5 187.8h0M358.6 235.1h0M526.4 219.7h0M420.9 255.7h0M440.9 188.6h0M421.6 251h0M437.8 194.5h0M469.5 203.7h0M377.3 245.6h0M478.8 201.5h0M387.6 248h0M339.1 230.9h0M407.1 252.4h0M409.3 256.4h0M408.8 256.9h0M420.1 255.8h0M441.1 197.4h0M461.2 192.7h0M473.7 197.6h0M468.7 203.7h0M515.5 214.4h0M382.1 246.5h0M424.5 256.1h0M383.6 246.5h0M376.6 243.4h0M416.6 259.3h0M448.4 197.1h0M458 199.9h0M392.2 252.8h0M349.1 236.2h0M451.6 197.8h0M415.5 251.4h0M415.2 250.8h0M456.1 191.5h0M409.1 254.5h0M429.6 255.1h0M487.9 209.7h0M491.2 208.3h0M442.9 198.3h0M367.9 238.2h0M433.3 191.6h0M425.6 256.7h0M455 192.4h0M470.5 203.2h0M445.5 196.4h0M517.4 216.3h0M442.4 185.9h0M497.3 207.9h0M401.9 256.8h0M425.9 259.3h0M419.5 257.3h0M401.9 253.6h0M490.9 208.1h0M484.1 205.3h0M363.8 236.4h0M429.7 256.4h0M475.6 198.8h0M406.7 258.7h0M375.1 240.2h0M433.1 186.7h0M384.9 246.4h0M431.4 187.1h0M368.9 241.9h0M425.1 265.6h0M401.8 247.7h0M446.7 198.5h0M373.6 244h0M404.4 246.6h0M524.1 218.3h0M507.2 213.6h0M396.8 252.2h0M438.2 194.5h0M356.2 234.2h0M483.5 208.4h0M405.8 257.8h0M445.7 188.5h0M398.5 250.3h0M373 242.4h0M427.4 263.5h0M333.9 228.6h0M453.2 198.3h0M369.5 242h0M415.4 260.2h0M451.7 190.8h0M425.5 253.2h0M492.4 209.3h0M450.8 197h0M436.8 183.3h0M348 235.4h0M406.8 251.6h0M460.6 193.6h0M475.7 206.7h0M515.9 215.5h0M460.9 192.8h0M442.4 185.9h0M383.1 248.2h0M451 192.8h0M446.1 197h0M444.2 191.2h0M408.2 256.7h0M397.3 247.5h0M462.9 198.3h0M364.3 239.5h0M357.5 237.1h0M419 262.1h0M372.5 241.8h0M444.3 186.3h0M388.1 250.1h0M423.6 262.2h0M433.6 190.4h0M427.2 267.1h0M446.7 199h0M435.5 192.7h0M503 209.1h0M504.9 212.4h0M421 252.2h0M419.4 255.3h0M368.9 242.7h0M333.1 229.3h0M391.3 251h0M392.6 249.7h0M426.6 256.5h0M388.5 247.6h0M521.1 216.6h0M362.2 238h0M365.3 242.4h0M497.8 207.7h0M476.2 201.7h0M418.4 258.5h0M513 215.3h0M392.2 247.7h0M430.3 258.7h0M446.2 191h0M497.1 207.7h0M396.4 250.9h0M461.5 198.2h0M459 196.2h0M343.4 232.1h0M470 196.8h0M394.3 253.5h0M370.5 243.6h0M440.4 193h0M395.3 250.4h0M462.2 197.3h0M458.9 193.2h0M451.8 200.9h0M480 203h0M439.2 194.2h0M379 243.7h0M377.6 243.8h0M364.6 241.5h0M418.6 254.7h0M465.3 202.1h0M373 241.9h0M498.9 209.3h0M439.2 196.6h0M502.2 209.5h0M345.7 231.6h0M440.5 191.4h0M496.4 209.1h0M373.6 241.7h0M486.6 208.2h0M362 240.7h0M491.7 204.8h0M423.1 256.4h0M431.6 181.7h0M444.6 192.9h0M409.4 257.1h0M391.1 247.5h0M368.7 240.4h0M423.8 255.9h0M426 258.2h0M422.4 256.4h0M423.9 252.3h0M485.6 208.1h0M440.6 186.8h0M461.6 197.7h0M533.3 221.7h0M390.2 250.5h0M425.7 265.2h0M496.1 210.4h0M383.3 246.6h0M354.6 237.1h0M410.7 257.1h0M470.6 199h0M439.1 194.9h0M520.6 218.1h0M422.9 263.9h0M452.1 195.8h0M418.4 258.2h0M362.1 239.6h0M428.7 257.7h0M525.5 218.8h0M466.3 201.6h0M405.8 258.4h0M454.6 191.7h0M376.7 244.6h0M403.8 256.7h0M422.9 259.6h0M425.7 252.2h0M500.3 212.3h0M458.2 194.7h0M423 252.6h0M481.6 203.7h0M427.8 261.2h0M392.4 247h0M453.9 194h0M369.8 239.8h0M336.9 229.7h0M450 195h0M385.1 246.1h0M467.7 198.8h0M499.5 212.2h0M471.8 197.5h0M369 240.7h0M374.9 243.2h0M436.3 191.1h0M457.9 194.7h0M501.7 212.3h0M471.7 201.3h0M384.7 246.7h0M375.9 245.4h0M377.4 240.1h0M435.6 195.7h0M463.5 197.9h0M451.7 194h0M382.5 249.3h0M412.8 252h0M463.5 193.8h0M381.4 240.9h0M463.7 195.4h0M448.9 192.2h0M354 234.2h0M436.4 188.2h0M443.4 188h0M364 241.5h0M511.9 214h0M367.3 243h0M358.5 235.4h0M416.6 255h0M435.5 191.4h0M386.7 249.6h0M408.3 250.4h0M426.7 253.1h0M404.3 256.7h0M411.7 255.3h0M516.5 214.8h0M430.8 191.5h0M421.6 261.2h0M423.9 259.9h0M413 254.9h0M460 199h0M366 237.6h0M458 201.2h0M425.6 257h0M459.1 194h0M481.5 202.1h0M369.2 240.4h0M414.8 253.7h0M346.6 231.5h0M444.6 186.2h0M430.4 267.1h0M380.3 247.5h0M430.8 187.5h0M454.2 195.6h0M444.4 191.2h0M407.9 257.8h0M335.9 230h0M505.8 211.1h0M402.4 251.4h0M453.4 200.7h0M378.9 242.9h0M395.8 246.4h0M359.8 237.5h0M380 242.5h0M404.4 257.2h0M383.4 244.4h0M471.1 196.8h0M363.5 237.6h0M369.8 241.9h0M366.3 238.9h0M455.8 193.4h0M498.2 211h0M480.2 208h0M343.3 233h0M442.2 197.7h0M421.7 264.8h0M492.4 206.3h0M455.7 199h0M464.9 194.7h0M510.6 214.8h0M366.5 241.7h0M478.7 206.7h0M466.2 196.6h0M341.4 232.1h0M387.4 249.2h0M484.7 204.6h0M427 262.1h0M403.3 251.9h0M415.7 260h0M394.7 253.4h0M490.3 207.3h0M518.8 215.6h0M366 241.1h0M445.8 190.5h0M441.4 189.8h0M473.7 202.9h0M364.8 241.1h0M369.1 243.9h0M486.6 209.5h0M376.6 246.7h0M453.6 197.6h0M443.8 189.6h0M403.7 253.7h0M400.6 250.3h0M493 211.7h0M379.3 242.8h0M457 197.6h0M379 243.7h0M373.1 241.5h0M432.7 190.5h0M534.6 221.7h0M511.7 214.7h0M453.6 201.3h0M435.8 195.4h0M361.4 236.1h0M382.8 245.1h0M499 213.1h0M329.4 227.1h0M379.8 247h0M530.2 220.9h0M376.6 246.9h0M423.8 253.6h0M483.4 208.7h0M351.7 235h0M368.7 239.1h0M521.9 217.6h0M426.8 263.7h0M503 211.9h0M452.3 195.5h0M502.8 209.5h0M534.2 221.6h0M488.4 203.3h0M428.4 263.1h0M492.2 210.7h0M380.4 243.8h0M370.4 243.9h0M452 198.9h0M489.2 204.4h0M429.2 262h0M388.9 248.7h0M398.6 253.1h0M388.5 244.7h0M479 202.1h0M441.4 195.1h0M389.2 243.8h0M386.3 245h0M486.5 202.9h0M360.9 237.2h0M446.1 192.2h0M379.1 244.3h0M537 223h0M435.4 185.7h0M343.6 231.2h0M390 245.9h0M362.6 239.2h0M464.2 199.9h0M428.3 259.6h0M369.8 238.3h0M349.8 232.6h0M410.8 259.4h0M402 253.8h0M427.3 264.4h0M444.3 196.4h0M430.7 182.1h0M514.1 213.8h0M430 264.5h0M440.6 185.8h0M445.5 194.2h0M417.6 261.4h0M407.6 252.9h0M349.3 236h0M410.8 260.2h0M435.5 188.9h0M482.7 201.5h0M382.4 244.2h0M429.4 263.2h0M353.2 236.5h0M399.8 251.8h0M418.9 257.1h0M537.1 223h0M496.6 209.4h0M397.4 254.6h0M478.9 200.6h0M486.6 206.5h0M336.2 229.3h0M396.6 249.9h0M430.1 263.7h0M437.9 183.2h0M491.7 209.9h0M449.4 199.5h0M349.6 235.6h0M345.6 233.4h0M385.2 247.4h0M419 259.3h0M430.8 182.1h0M426.6 260.8h0M496.1 210h0M431.5 189.2h0M335.5 229.3h0M364.8 238.2h0M469 198.5h0M363.1 239.1h0M502 213.4h0M418.5 259.3h0M360.9 236.9h0M440 194.4h0M497.9 212.1h0M368.3 237.6h0M373.9 242.6h0M442.7 185.9h0M436.8 196.7h0M512.4 215.5h0M500.1 208h0M468.8 196.9h0M461.1 194.7h0M407.8 252.8h0M440.8 187.8h0M497.2 210h0M474.1 203.2h0M338.9 230.8h0M442.5 186.4h0M412 252.9h0M501.2 213.1h0M382.5 243h0M386.8 245.2h0M421.9 258h0M442.9 192.2h0M408.7 257.4h0M350.3 236.2h0M495.1 206.5h0M406.5 251.4h0M449.2 194.8h0M485.7 203.9h0M358.5 235.5h0M465.2 195.1h0M416.1 255.4h0M438.9 190.8h0M496.4 209.9h0M381.4 245.5h0M477.2 205.6h0M426 259.4h0M358 238.2h0M431.3 189.4h0M392.1 244h0M460.3 201.3h0M413 260.1h0M429.1 260h0M407.8 255.6h0M442.3 185h0M507.8 212.6h0M379.1 241.8h0M407.1 249h0M466.7 195.2h0M436.7 185.5h0M465.6 202.8h0M427.6 259.1h0M390.5 250.9h0M369.8 240.5h0M449.3 195h0M397 248.3h0M442.5 189.1h0M410.4 259h0M384.9 248.3h0M405 250.7h0M425.9 255.8h0M497.5 209h0M409.8 254h0M396.8 254h0M428.2 256.5h0M431.7 187.7h0M450 200h0M454.9 195h0M400 255.6h0M352.3 237.3h0M497.5 209.7h0M425 262.6h0M421.2 259.8h0M398.3 250.7h0M349.2 235.6h0M497.6 208.9h0M350 235.9h0M357.2 237.5h0M463.8 194h0M444.5 186.1h0M412.7 253.4h0M427.2 253.3h0M383.5 249.7h0M494.4 207.9h0M377.3 240.7h0M431.1 187.8h0M497.4 208.9h0M382.3 246.9h0M489.2 206.5h0M443.5 192.7h0M340.7 230.4h0M397.6 245.8h0M404.9 253.6h0M355.5 237.2h0M406.8 255.5h0M443 186h0M447.6 189.4h0M404.8 257.6h0M388.8 250.4h0M409.1 253.3h0M463.1 197.7h0M417 250.4h0M404.4 249.9h0M421.8 255.2h0M407.7 258.8h0M391.5 248.9h0M466.2 204.4h0M363.4 240.3h0M424.5 264.1h0M398.1 255.5h0M494.5 210.9h0M518.9 217.6h0M492.1 206.5h0M457 196.5h0M386.9 248.5h0M454.1 192.8h0M393.2 249.7h0M410 253.2h0M513.6 213.3h0M414 259h0M527.2 220.2h0M404.9 253.2h0M389 247.5h0M515.8 215.7h0M383.6 248.8h0M433 195h0M379.4 241.6h0M429 257.1h0M363.6 239.6h0M389.6 245.4h0M480.9 202.7h0M456.6 193h0M504.6 213.9h0M367.9 243.1h0M391.2 250.9h0M493.1 205.8h0M338 231.1h0M477.1 206.9h0M435.8 190.7h0M447.9 194.8h0M409.3 259.2h0M464 201.7h0M346.9 234.6h0M488 203.9h0M385.1 249.7h0M444.5 196.2h0M441.9 185.4h0M407.1 257.9h0M357.8 237.6h0M401 252.7h0M526.4 219.2h0M412.6 258.5h0M400.7 248.1h0M421.1 252.2h0M392.1 245.6h0M467.3 199.2h0M451.3 188.7h0M448.2 198.3h0M357.3 236.3h0M415.1 257.5h0M468.8 202.3h0M370.3 240.4h0M479.5 206.2h0M435.3 185h0M463.5 198.8h0M505.2 214.8h0M377.9 245.8h0M394.8 250.1h0M423.8 262.3h0M417.2 250.7h0M468.4 197.4h0M439.9 190.9h0M416.4 257.6h0M497.4 208.7h0M358.1 237.1h0M396.9 252.1h0M426.3 258.3h0M482.5 204.7h0M361.9 240.1h0M441.4 195.5h0M405.6 250.3h0M381.5 240.8h0M359.4 235.9h0M429.4 261.5h0M467.3 204.5h0M352.4 236.7h0M432.2 193.6h0M515.8 215.8h0M420.9 257.8h0M454.5 201h0M525.9 219.5h0M448.1 195.8h0M534.1 221.5h0M327.7 227.3h0M490.5 204.2h0M529.7 221.1h0M385.6 244.8h0M464.5 199.2h0M467.7 197.7h0M411.6 254h0M332.5 229.4h0M488.8 205.9h0M399.9 255.5h0M370.4 239.2h0M434.2 189.1h0M345.4 232.5h0M355.5 237.2h0M460.2 201h0M414.9 258.3h0M477.2 200.9h0M448 190.3h0M492.1 206.7h0M410.5 256.2h0M424.3 266h0M490 206.5h0M391.1 245.6h0M439.9 196.6h0M507.2 215.2h0M457.9 197.9h0M455.5 195.8h0M331.1 228.5h0M373.4 240.3h0M528.2 219.7h0M401.8 247.5h0M445.4 192.5h0M516.7 215.1h0M426.8 262.3h0M391.5 245.6h0M401.6 252.3h0M472.7 204.2h0M417.9 252.7h0M479 207.2h0M456.3 192.8h0M430.1 267.8h0M460.7 196.9h0M469 198.2h0M483.2 206.7h0M491.4 208h0M366.9 240.7h0M432.4 187.2h0M428.6 258.7h0M391.7 250.7h0M382.8 249h0M489.3 205.2h0M437 191.3h0M375 244.7h0M427.2 257.6h0M394.6 254.2h0M391.3 249.8h0M349.5 235.8h0M441.1 192.8h0M469.1 201.4h0M435.6 195.1h0M402 249.3h0M406.8 252.6h0M514.2 216.5h0M413.7 253.2h0M357 237.5h0M425.7 253.1h0M431.7 181.6h0M509.9 213.2h0M434.3 192.8h0M446.8 191.2h0M395.6 248.8h0M458.7 196.5h0M422.1 257h0M513.2 213.9h0M388.3 246.6h0M392.6 247h0M476.9 203.3h0M483.8 203.2h0M468.7 204h0M432.3 192.7h0M449.4 189.4h0M387.5 249.7h0M363.8 237.9h0M442.6 188.3h0M431.4 191.8h0M469 199.3h0M332.7 229h0M377.6 246.7h0M451 200.6h0M418.5 252h0M436.9 193.4h0M341.7 233h0M351.3 233.8h0M347.5 232.2h0M503 213.4h0M420.5 253.8h0M375 241.5h0M470.5 198.6h0M431.3 184.7h0M386.2 245.8h0M445.7 195.5h0M456.1 191h0M354.2 236.2h0M473.8 204h0M371.1 242.4h0M505.9 212.9h0M395.6 253.6h0M419.9 259.7h0M511.3 213.5h0M439.1 190.1h0M477.3 200.4h0M488.5 205.7h0M452.7 198h0M362 241.1h0M520.5 218.3h0M399.6 255.7h0M462.2 199.4h0M428.7 260.9h0M410.5 259.4h0M440.8 196.2h0M421.1 263.9h0M513.6 215.5h0M411.8 251.4h0M429.6 259.9h0M520.2 218.6h0M434.9 182.9h0M476.6 199.5h0M453.3 191.7h0M438.4 196h0M461.5 195.7h0M424.9 254.9h0M406.3 257h0M365.8 237.6h0M385 247.5h0M399.6 252.1h0M369 243.2h0M367.5 239.7h0M467.2 195.5h0M513.9 215h0M395.9 252.5h0M444.3 193.8h0M494.1 211.6h0M491.8 210.4h0M388.2 248.4h0M422.6 260.5h0M431.8 191.7h0M371.4 241.9h0M491 208h0M435.9 184.8h0M371.5 242.5h0M422 258.3h0M472.5 203.3h0M342.4 232.7h0M359.1 240h0M377.5 243.3h0M405.4 250.6h0M524.3 218.1h0M378.1 245.7h0M321.3 224.9h0M402.3 254.3h0M452.9 191.8h0M503.3 211.5h0M506.3 210.8h0M412.8 255.8h0M435.1 187.3h0M525.3 218.3h0M484.8 205.7h0M410.1 256.3h0M421.8 258.6h0M400 250.6h0M433.4 186.2h0M503.6 209.5h0M489.7 209.8h0M482.2 208.1h0M440.4 193.1h0M409.5 249.1h0M499.3 210.9h0M392.5 247.3h0M447 197h0M503.2 211.6h0M431.3 195.2h0M418.8 261.3h0M500.2 211h0M497.2 207.7h0M453.3 193.7h0M464.7 200.1h0M461.7 196.9h0M449.5 191h0M471.9 200.1h0M429.9 267.4h0M391.3 247.9h0M464.1 194.4h0M511.9 214.8h0M381.4 248.6h0M490.6 205.5h0M421.8 252.1h0M360.1 239.3h0M355.4 237.5h0M361.8 236.4h0M502 213.5h0M400.9 251.9h0M464 193.5h0M450.8 197.5h0M451.5 199.9h0M529.2 220.3h0M362.9 238.1h0M414.5 262.2h0M356.4 234.6h0M516.1 215.4h0M441.8 192.4h0M388.9 248.2h0M411.5 252.9h0M516.6 217.8h0M429.9 262.6h0M483.7 207.3h0M482.4 206.7h0M447.4 196.7h0M404.7 249.1h0M389.6 244.3h0M439.1 192.9h0M392.6 249.9h0M388.5 250.4h0M427.7 266.4h0M410.2 258.9h0M404.5 255h0M506.8 211.3h0M458.1 197.6h0M496 210.9h0M414.8 257.3h0M373.7 239.9h0M424 260.2h0M354.8 235.8h0M413.8 253.3h0M425.5 266.6h0M486.3 207.1h0M419 262.1h0M380.8 245.9h0M415.3 259.1h0M385.8 245.9h0M431.6 188.8h0M457.9 197.2h0M401.6 253.9h0M469.7 201.7h0M510.1 214.5h0M398 249.3h0M342.7 232.7h0M419 263.2h0M435.6 193.8h0M475.3 206.6h0M425.2 265.1h0M336.8 230.3h0M421 260.3h0M414.7 249.6h0M383.3 248.5h0M403.6 248h0M469.9 201.5h0M424.5 253.9h0M404.1 251.8h0M507.2 211.4h0M384 249.9h0M360.5 238h0M491.3 206.6h0M409.5 251.4h0M429.3 264.9h0M450.9 194.8h0M521.5 217.2h0M389.5 249.2h0M410.7 251.2h0M428.7 267.2h0M422.7 254.6h0M401.7 249.8h0M396.2 254.6h0M427.8 264.6h0M386.3 247.4h0M394.2 253.7h0M335.9 230.2h0M371.1 238.6h0M391.7 245.7h0M516.9 217.5h0M433.7 181.8h0M372 240.7h0M403.3 246.9h0M417.9 258.6h0M506.3 210.4h0M427.1 254.4h0M419.6 259.5h0M482.5 205.4h0M484.1 206.5h0M456.4 190.7h0M404.6 256.4h0M486.6 206.7h0M337.9 230.1h0M438.5 186.2h0M485.9 203.8h0M375.4 240.2h0M345.6 234.3h0M446.7 193.2h0M437.5 190.4h0M491.9 205.6h0M499.3 211.6h0M464.7 203.4h0M419.6 251.9h0M457.8 194.9h0M339.7 231h0M426.7 266h0M369 239.3h0M428.5 263.1h0M417.8 263.2h0M501.6 210.1h0M490.1 206.8h0M363.4 238h0M531.1 220.9h0M457.4 199h0M451 195.6h0M399.7 250.7h0M397.7 248.9h0M474.5 206.8h0M358.9 239.5h0M463.8 196.8h0M430.7 185h0M472.5 205.4h0M405.9 255.4h0M376.4 239.6h0M491.4 209.3h0M427.1 265.1h0M385.3 243.8h0M445.4 198h0M462 202.8h0M484.1 205.6h0M465.1 197.9h0M484.5 205.8h0M341.9 232.9h0M503.4 211.8h0M483.2 208.6h0M358.3 239.7h0M444.6 194.1h0M411.8 254.4h0M436.3 185.2h0M368.4 242h0M490.1 207.4h0M400.9 253.7h0M386.7 248.7h0M387.9 243.8h0M355.8 236.4h0M513.5 214.4h0M420.1 257.5h0M436.9 188.1h0M500.1 211.8h0M502 212h0M353.7 236h0M482.6 208.3h0M462.2 196.1h0M424.7 265.5h0M516.1 214.3h0M481 207.4h0M443.5 188.1h0M437.1 191.2h0M401.6 253h0M400.8 248.6h0M377.8 241.5h0M347.2 232.9h0M399.7 254h0M423.1 255.6h0M407.1 255.1h0M422 264.3h0M404.6 255.6h0M477.5 204.6h0M470.2 198.4h0M394.8 251.7h0M505.9 214.1h0M414.9 257.5h0M389.8 250.9h0M395.2 252h0M390.1 246.6h0M352.5 234.3h0M508 212h0M421.6 262.5h0M393.9 250.2h0M438.5 193.7h0M494.2 209.6h0M460.9 200.1h0M451.1 200.5h0M424.3 260h0M463 193.8h0M468.1 203.5h0M505.6 210.2h0M461.3 194.8h0M517.9 217.4h0M475.8 202.6h0M415.5 249.5h0M503 210.3h0M419.2 253.9h0M434.3 186.9h0M513.8 216.2h0M518.8 218.1h0M401.8 247.9h0M360.6 239.4h0M443.3 196.8h0M382.3 243h0M354.4 236.7h0M452.2 195.8h0M366.5 238.3h0M404.8 256.3h0M463.9 194.4h0M458.7 197.2h0M431.1 191.9h0M349.6 236.1h0M416.7 255.3h0M365.1 240h0M418.5 253.6h0M478.3 207.7h0M454.6 192.3h0M436.1 196.8h0M460.8 198.7h0M411.1 256.5h0M339.2 231.2h0M351.4 236.5h0M483.3 204.6h0M370.9 240h0M453.7 199h0M477 200.9h0M433.1 187.2h0M398.2 248.5h0M484.6 204h0M437 190h0M379.3 243.4h0M453.9 198.1h0M424.3 258h0M414.4 261.7h0M368.4 243h0M409.1 255.6h0M418.2 254.3h0M369.5 242h0M460.5 193.1h0M471.5 202.8h0M505.4 212h0M405 248.2h0M403.5 253.9h0M445.3 188h0M454.5 194.8h0M444.5 191.3h0M448.7 190h0M410.2 252.2h0M414 261.7h0M395.4 251.4h0M455.6 201.6h0M474.4 200.5h0M418.5 259.5h0M405.4 251.3h0M385.4 248.8h0M425.8 257.8h0M431.2 191.3h0M439.8 185h0M466 198.1h0M370.8 240.2h0M423.9 262.9h0M510.1 214.9h0M434.3 184.3h0M433.8 192.6h0M404 251.9h0M359 237.2h0M372.9 240.1h0M448.8 192.9h0M373.1 242.8h0M441.6 197.8h0M485.6 203.4h0M375.6 244.9h0M447.3 194.5h0M425.3 265.2h0M440.5 187.8h0M485.6 203.6h0M424.6 264.2h0M402.3 256h0M434 187h0M429.2 261.1h0M369.8 240.4h0M481.5 206h0M477.1 198.9h0M451 195.1h0M438.4 184.3h0M425.1 263.6h0M479.4 200.5h0M462.6 198h0M476.5 201.6h0M400.1 249.7h0M490.8 210.3h0M357.3 234.7h0M416.9 263h0M459.1 193.5h0M386.7 246.5h0M359.1 239.2h0M354.4 234.3h0M430.5 255.5h0M418.8 258.8h0M374.7 245.1h0M437.4 190.9h0M461.4 193.1h0M469 197.9h0M414 260.4h0M423.7 262.3h0M409.2 250.2h0M449.1 198.3h0M412.6 255.7h0M444.3 193.7h0M412.3 258.1h0M459.4 196.8h0M445.1 188.3h0M506.6 212.3h0M396.3 247.6h0M433.9 181.6h0M461.3 200h0M473.6 203.5h0M448.6 189.1h0M451.3 190.4h0M498.8 210.1h0M436.7 189.4h0M455.5 193.3h0M397.9 251.2h0M370.3 242.6h0M473.5 197.6h0M448.7 194.1h0M387.3 244h0M490.1 207.5h0M485.1 206.5h0M397.6 253.9h0M390.1 250.6h0M432.1 187.3h0M521.7 216.7h0M444.8 198.4h0M404 258h0M399.9 254.9h0M465 203.9h0M444.2 191h0M478.4 206.1h0M379 247.4h0M402.7 246.1h0M427 254.2h0M370.6 244.7h0M398.5 250.3h0M441.5 196.9h0M400.3 256.2h0M405.3 250.3h0M396.8 246.5h0M427.5 257.8h0M461.7 201.7h0M450.7 191.5h0M415.8 255.5h0M346.3 234.1h0M326.2 226.8h0M372.2 245.1h0M423.8 257.7h0M413.6 259.6h0M473.9 203.2h0M426.7 262.7h0M463 195h0M344.5 234h0M442.6 192h0M384.2 249.8h0M358.1 238.6h0M427.4 262h0M394.9 251.9h0M493.9 209.2h0M384.7 243.2h0M502.7 211.7h0M391.8 250.6h0M389.6 248.5h0M477 199.9h0M428.1 266.1h0M412.1 257h0M377.1 246.6h0M501.7 211.8h0M489.1 210.4h0M503.4 211.9h0M378.5 241.6h0M386.1 249.2h0M416.6 259.1h0M399.2 255.4h0M498.1 209.8h0M412.2 250.2h0M356.5 234.9h0M479.8 205.7h0M388.8 249.9h0M415.2 254.5h0M438.5 183.5h0M448.8 191.6h0M424.2 259.8h0M425.3 265.9h0M431.6 190.7h0M428.7 260.5h0M471.7 200.8h0M505 212.9h0M421.6 264.8h0M452.4 199.2h0M388.2 246.8h0M371.8 245.2h0M441.5 187.5h0M402.4 255.8h0M448.4 190.7h0M513.4 214.6h0M474 203.1h0M376.1 241.5h0M498.6 212.4h0M491 207.2h0M482.3 202.7h0M374.9 239.7h0M451 189.3h0M467.4 199.6h0M516.2 215.8h0M350.5 233.1h0M390.5 245.2h0M393 250.2h0M484.9 206.5h0M425.3 258.7h0M484.7 205.1h0M433.2 188.2h0M341.6 232.7h0M460.2 197.4h0M456.1 192.1h0M504 209.8h0M348.4 232.3h0M388.3 248.8h0M383.2 243.8h0M404.9 249.5h0M418 255.4h0M359.5 240.2h0M404.9 252.7h0M420.1 252.5h0M443.4 192.8h0M479.7 202h0M434.5 185.3h0M420.3 261.6h0M456.1 193.4h0M340.9 231.3h0M375.8 245.9h0M370.3 237.8h0M436 186.7h0M402.5 257.2h0M406.1 248.7h0M499.5 208h0M445.2 187.2h0M457.7 199.8h0M369.5 242.8h0M421.4 257h0M468.4 196.6h0M422.1 252.8h0M489.7 204.9h0M461.5 196.8h0M493.9 210.5h0M464.7 200.5h0M380.6 243.1h0M328 227.1h0M503.7 212h0M402.9 247.8h0M404.1 256.2h0M381.4 240.8h0M380.5 248.5h0M459 201.3h0M440.8 186.3h0M441.7 198h0M408.8 258.6h0M372.2 242.3h0M406.7 255h0M512.7 213.3h0M432.9 193.4h0M515.4 214h0M402 255.6h0M434.1 192.8h0M433.7 191.5h0M379.5 246.2h0M453.6 199h0M358.4 239.4h0M337.7 230.6h0M516.2 215.8h0M369.1 237.9h0M445.1 188.1h0M446.8 187h0M462.9 195.7h0M483.1 205.1h0M496.3 212h0M405.9 250.7h0M489.9 206h0M510.4 213.6h0M400 250.7h0M435.9 188.2h0M395 246.9h0M419 261h0M482.4 207.8h0M453.1 198.7h0M412.6 250.4h0M406.5 254h0M483 205h0M399.2 254.1h0M509 215.6h0M369.7 241h0M490.7 205.3h0M464.7 194.1h0M434.7 192h0M351.6 236.6h0M412 259.2h0M449.5 189.6h0M485.6 207h0M453.6 190.5h0M372.3 239.3h0M513.1 216.1h0M407.9 253.2h0M484.5 202.9h0M424.3 257.1h0M400.3 251.9h0M471.5 205.9h0M437.6 189.7h0M467.6 197.9h0M457.5 201.8h0M470.4 200.3h0M375.7 245.4h0M367 242.4h0M373 245.5h0M425 259.3h0M458.1 200.7h0M448.9 191.9h0M483.2 204.2h0M454.7 196.6h0M375.7 242.5h0M333.7 228.6h0M422.3 258.1h0M407.9 249.9h0M459 193.6h0M366.6 242h0M487.2 203.1h0M417.4 258.4h0M481.5 201.2h0M459.9 200.7h0M506.9 213.3h0M424.2 256.8h0M461.4 192.5h0M369.8 242.5h0M472.2 200.1h0M474.3 197.6h0M428.7 264.3h0M428.4 254.7h0M420.2 252h0M462.4 196.2h0M436.4 184.6h0M522.4 218.1h0M518.1 216.2h0M475 200.3h0M419 260.2h0M382.9 241.6h0M494.4 210h0M412.2 259h0M381.7 243.7h0M427.6 258h0M360.1 237.9h0M443.4 190.1h0M391.4 249.7h0M427.2 259.1h0M408.4 255.9h0M413.3 251.3h0M358.1 235.4h0M487.3 207.7h0M456.7 197.8h0M376.1 243h0M427.7 257.7h0M471.7 199.2h0M444.2 195.6h0M378.7 240.4h0M342.2 231.6h0M528.7 219.4h0M367 240.2h0M418.2 258.3h0M416.5 260.6h0M444.3 185.9h0M496.7 210.2h0M443.6 189.6h0M358 236.9h0M441 196.1h0M355.8 237.1h0M430.9 183h0M449.8 198.8h0M422.6 254.2h0M451.9 200.8h0M474.7 205.8h0M347.5 233.1h0M431.1 181.9h0M458.2 195.3h0M331.4 227.8h0M483.9 205.8h0M432.2 195.5h0M472.2 203.4h0M477.1 202.8h0M376.7 245.7h0M445.1 189.1h0M399.3 253.6h0M342.9 231.2h0M442.8 187.8h0M386.8 250h0M491.1 208.1h0M371.6 244.9h0M431.2 190.6h0M406.3 248.1h0M494.8 208.4h0M440.5 197.2h0M436.6 185.3h0M449.7 198.3h0M489.4 205.3h0M437.9 191.8h0M433.8 182.8h0M444.3 191h0M443.4 186.5h0M474.1 197.9h0M472.1 201.4h0M441.9 185h0M469.3 197.6h0M370.1 243.1h0M416.1 255.1h0" stroke="#ff00ff" stroke-width="1.25" stroke-linecap="round" fill="none" opacity="1"/>
<path d="M319.5 224.4H541.6" stroke="#4a3fb0" stroke-width="1.0"/>
<path d="M319.5 224.4H541.6" stroke="#659a24" stroke-width="2.5"/>
<path d="M319.5 224.4h0M319.8 223.4h0M320.1 224.7h0M320.5 224.8h0M320.8 224.1h0M321.1 223.8h0M321.4 223.9h0M321.7 223h0M322 224.4h0M322.4 223.1h0M322.7 224.5h0M323 223.6h0M323.3 225.2h0M323.6 223.3h0M323.9 224.9h0M324.3 225.3h0M324.6 224.8h0M324.9 224.4h0M325.2 225h0M325.5 225.3h0M325.9 224.2h0M326.2 223.9h0M326.5 225.5h0M326.8 223.9h0M327.1 223.1h0M327.4 224.4h0M327.8 224.8h0M328.1 224.4h0M328.4 225.1h0M328.7 224.4h0M329 224.5h0M329.3 225.4h0M329.7 224.1h0M330 224.9h0M330.3 224.8h0M330.6 224.9h0M330.9 224.2h0M331.3 223.8h0M331.6 225.3h0M331.9 225.6h0M332.2 225.3h0M332.5 223.4h0M332.8 225.3h0M333.2 224.6h0M333.5 225.3h0M333.8 224h0M334.1 225.1h0M334.4 223.9h0M334.8 225.7h0M335.1 224h0M335.4 223.3h0M335.7 225.3h0M336 224h0M336.3 223.2h0M336.7 225.5h0M337 223.1h0M337.3 224.6h0M337.6 224.3h0M337.9 225.8h0M338.2 224.6h0M338.6 224.1h0M338.9 224.5h0M339.2 225.4h0M339.5 223.4h0M339.8 225.1h0M340.2 225.5h0M340.5 225.3h0M340.8 223.2h0M341.1 223.9h0M341.4 224.4h0M341.7 223.9h0M342.1 225.6h0M342.4 223.5h0M342.7 225.4h0M343 224.6h0M343.3 223.3h0M343.6 223.3h0M344 225.5h0M344.3 223.8h0M344.6 225.8h0M344.9 224.3h0M345.2 224.5h0M345.6 224h0M345.9 225.8h0M346.2 225.4h0M346.5 225.3h0M346.8 223.4h0M347.1 223.1h0M347.5 224.8h0M347.8 223h0M348.1 224.5h0M348.4 224.9h0M348.7 223.4h0M349 225h0M349.4 223.4h0M349.7 223.3h0M350 224.9h0M350.3 224.4h0M350.6 225h0M351 225h0M351.3 223.4h0M351.6 224.3h0M351.9 223.8h0M352.2 223.8h0M352.5 225.1h0M352.9 225.7h0M353.2 224.5h0M353.5 224.4h0M353.8 225.5h0M354.1 223.5h0M354.5 225.3h0M354.8 223.9h0M355.1 223.8h0M355.4 223.8h0M355.7 225.4h0M356 224.2h0M356.4 223.5h0M356.7 225.7h0M357 225.4h0M357.3 224.9h0M357.6 223.1h0M357.9 224.7h0M358.3 225.4h0M358.6 223h0M358.9 223.8h0M359.2 225.3h0M359.5 224.6h0M359.9 224h0M360.2 223.6h0M360.5 225.8h0M360.8 223.4h0M361.1 225h0M361.4 224h0M361.8 225.5h0M362.1 224.2h0M362.4 225.3h0M362.7 224.4h0M363 225h0M363.3 224.6h0M363.7 224.9h0M364 225.8h0M364.3 223.5h0M364.6 224h0M364.9 225.3h0M365.3 224.6h0M365.6 223.8h0M365.9 224.8h0M366.2 224.1h0M366.5 223h0M366.8 225.8h0M367.2 223.5h0M367.5 224.3h0M367.8 225.3h0M368.1 224.3h0M368.4 225.8h0M368.7 224.5h0M369.1 224.5h0M369.4 225h0M369.7 225.6h0M370 222.9h0M370.3 224.2h0M370.7 224.8h0M371 224h0M371.3 223h0M371.6 223.2h0M371.9 224.2h0M372.2 223.8h0M372.6 225.8h0M372.9 224.3h0M373.2 225.3h0M373.5 224.5h0M373.8 225.5h0M374.2 225.7h0M374.5 225.1h0M374.8 225.2h0M375.1 223.3h0M375.4 225.7h0M375.7 225.8h0M376.1 224.5h0M376.4 225.7h0M376.7 225.8h0M377 223.4h0M377.3 225.6h0M377.6 224.7h0M378 224.8h0M378.3 225.1h0M378.6 223.5h0M378.9 225.7h0M379.2 223.5h0M379.6 223.6h0M379.9 223.9h0M380.2 224.7h0M380.5 224.8h0M380.8 223.3h0M381.1 225.4h0M381.5 225h0M381.8 225.7h0M382.1 225.8h0M382.4 224.8h0M382.7 223.2h0M383 223.9h0M383.4 225.3h0M383.7 225.8h0M384 223h0M384.3 223.5h0M384.6 224.2h0M385 224.1h0M385.3 223.3h0M385.6 224.5h0M385.9 225.3h0M386.2 225.9h0M386.5 225.3h0M386.9 223.8h0M387.2 225.2h0M387.5 225.6h0M387.8 224.3h0M388.1 223.5h0M388.4 225.1h0M388.8 225.2h0M389.1 223.7h0M389.4 224h0M389.7 223.6h0M390 223.9h0M390.4 223h0M390.7 224.5h0M391 225.2h0M391.3 223.6h0M391.6 223.3h0M391.9 223.9h0M392.3 225.4h0M392.6 224.5h0M392.9 223.3h0M393.2 223.6h0M393.5 224.2h0M393.9 225.7h0M394.2 225h0M394.5 224.8h0M394.8 223.3h0M395.1 224.7h0M395.4 223.4h0M395.8 224.1h0M396.1 224.2h0M396.4 225.7h0M396.7 225.5h0M397 225.8h0M397.3 224.8h0M397.7 225.7h0M398 224.4h0M398.3 224.6h0M398.6 225.1h0M398.9 224.3h0M399.3 225.2h0M399.6 224.7h0M399.9 223.9h0M400.2 224.6h0M400.5 223.1h0M400.8 225.3h0M401.2 224h0M401.5 223.5h0M401.8 225.2h0M402.1 225.7h0M402.4 224.3h0M402.7 225.5h0M403.1 223.8h0M403.4 224.2h0M403.7 224.9h0M404 225h0M404.3 225.8h0M404.7 225.3h0M405 225.8h0M405.3 225.3h0M405.6 224h0M405.9 224.4h0M406.2 224.2h0M406.6 223.6h0M406.9 223h0M407.2 224.5h0M407.5 224.6h0M407.8 224.7h0M408.1 225.1h0M408.5 223.7h0M408.8 223.2h0M409.1 223.6h0M409.4 224h0M409.7 224h0M410.1 224h0M410.4 224.7h0M410.7 224.7h0M411 223.3h0M411.3 223.9h0M411.6 225.7h0M412 224.3h0M412.3 223.2h0M412.6 223h0M412.9 223.9h0M413.2 223.8h0M413.6 225.6h0M413.9 224.1h0M414.2 223.3h0M414.5 223.1h0M414.8 224.4h0M415.1 223.8h0M415.5 224.8h0M415.8 223.2h0M416.1 225.8h0M416.4 223.2h0M416.7 225.7h0M417 224.9h0M417.4 223.2h0M417.7 225.7h0M418 225.5h0M418.3 224.1h0M418.6 223.3h0M419 225.5h0M419.3 223h0M419.6 223.7h0M419.9 224.6h0M420.2 225.5h0M420.5 225h0M420.9 225.6h0M421.2 224h0M421.5 225.9h0M421.8 225.8h0M422.1 225.7h0M422.4 223.9h0M422.8 225.2h0M423.1 225.2h0M423.4 224.6h0M423.7 224.2h0M424 224.2h0M424.4 224.9h0M424.7 225.2h0M425 224.1h0M425.3 225.1h0M425.6 225.6h0M425.9 225.2h0M426.3 224.8h0M426.6 224.1h0M426.9 224.9h0M427.2 225.4h0M427.5 224.6h0M427.8 225.1h0M428.2 225.2h0M428.5 225.1h0M428.8 224.6h0M429.1 223.5h0M429.4 223.4h0M429.8 223.8h0M430.1 223.7h0M430.4 223.5h0M430.7 224.4h0M431 223.6h0M431.3 223.6h0M431.7 223.8h0M432 224.2h0M432.3 223.1h0M432.6 225.1h0M432.9 223h0M433.3 225.1h0M433.6 225.4h0M433.9 225.6h0M434.2 223.1h0M434.5 224.8h0M434.8 223.8h0M435.2 223.8h0M435.5 224.6h0M435.8 224.5h0M436.1 224.4h0M436.4 223.3h0M436.7 224.5h0M437.1 223.7h0M437.4 224.1h0M437.7 225.3h0M438 225.5h0M438.3 223.7h0M438.7 223.4h0M439 225.5h0M439.3 224.9h0M439.6 223.2h0M439.9 224h0M440.2 223.2h0M440.6 224.5h0M440.9 224h0M441.2 223.6h0M441.5 225.6h0M441.8 225h0M442.1 225.3h0M442.5 224h0M442.8 223.4h0M443.1 223.3h0M443.4 225.6h0M443.7 223.4h0M444.1 223.4h0M444.4 224h0M444.7 225.4h0M445 224.8h0M445.3 225.8h0M445.6 224.5h0M446 224.3h0M446.3 224.1h0M446.6 223.6h0M446.9 223.4h0M447.2 225.2h0M447.5 223.4h0M447.9 224.6h0M448.2 224.2h0M448.5 225h0M448.8 224.2h0M449.1 223.6h0M449.5 224.2h0M449.8 225.2h0M450.1 225.2h0M450.4 223h0M450.7 224.2h0M451 223h0M451.4 224.4h0M451.7 225.1h0M452 224.7h0M452.3 224.8h0M452.6 224.2h0M453 224h0M453.3 223.7h0M453.6 225.2h0M453.9 224.5h0M454.2 224.2h0M454.5 225.3h0M454.9 224.3h0M455.2 224.9h0M455.5 223.8h0M455.8 225.4h0M456.1 225.3h0M456.4 223.9h0M456.8 223.2h0M457.1 223.6h0M457.4 223.3h0M457.7 225.8h0M458 223.1h0M458.4 223.5h0M458.7 225.5h0M459 222.9h0M459.3 225.6h0M459.6 225h0M459.9 223.2h0M460.3 225.7h0M460.6 223.9h0M460.9 224.4h0M461.2 223.3h0M461.5 225.3h0M461.8 225.6h0M462.2 223.9h0M462.5 223.4h0M462.8 224.4h0M463.1 225.1h0M463.4 223.6h0M463.8 225.2h0M464.1 224.8h0M464.4 223.1h0M464.7 224.6h0M465 225.4h0M465.3 223.8h0M465.7 225.7h0M466 224.9h0M466.3 224.5h0M466.6 225.3h0M466.9 225.1h0M467.2 225.1h0M467.6 223.8h0M467.9 224.8h0M468.2 225.4h0M468.5 224.7h0M468.8 224.5h0M469.2 223.5h0M469.5 225.1h0M469.8 224.4h0M470.1 225.2h0M470.4 225.4h0M470.7 225.5h0M471.1 225.6h0M471.4 224.5h0M471.7 225.3h0M472 224.8h0M472.3 224.1h0M472.7 224.4h0M473 225.5h0M473.3 224.5h0M473.6 223.9h0M473.9 223.3h0M474.2 225.5h0M474.6 225.1h0M474.9 225.1h0M475.2 223.2h0M475.5 224.8h0M475.8 225.8h0M476.1 225.2h0M476.5 225.4h0M476.8 223.9h0M477.1 224.6h0M477.4 225.5h0M477.7 223.6h0M478.1 224.3h0M478.4 224.1h0M478.7 223.1h0M479 224h0M479.3 223.1h0M479.6 224.8h0M480 223.9h0M480.3 225h0M480.6 224.6h0M480.9 224.8h0M481.2 225.5h0M481.5 225.8h0M481.9 223.1h0M482.2 225.8h0M482.5 225.7h0M482.8 225.8h0M483.1 223h0M483.5 224.4h0M483.8 224.2h0M484.1 223.7h0M484.4 223.1h0M484.7 224.9h0M485 223.9h0M485.4 223h0M485.7 223.5h0M486 224.1h0M486.3 224.2h0M486.6 225h0M486.9 223.9h0M487.3 224.4h0M487.6 224.8h0M487.9 224.5h0M488.2 224.3h0M488.5 224.6h0M488.9 223.3h0M489.2 224.5h0M489.5 224.9h0M489.8 225.1h0M490.1 224.6h0M490.4 224.4h0M490.8 224.2h0M491.1 224.8h0M491.4 225.1h0M491.7 223.3h0M492 223.2h0M492.4 224.8h0M492.7 223.2h0M493 223.6h0M493.3 225.5h0M493.6 224.9h0M493.9 224.7h0M494.3 224.2h0M494.6 225.7h0M494.9 225.3h0M495.2 225.5h0M495.5 225.8h0M495.8 224.9h0M496.2 225.3h0M496.5 223.6h0M496.8 223.8h0M497.1 223.3h0M497.4 225.1h0M497.8 224.7h0M498.1 223.6h0M498.4 224.7h0M498.7 225h0M499 225.8h0M499.3 224.3h0M499.7 223.6h0M500 223.3h0M500.3 225.2h0M500.6 223.6h0M500.9 223h0M501.2 224.1h0M501.6 223.1h0M501.9 224.7h0M502.2 224.5h0M502.5 223.5h0M502.8 224.5h0M503.2 225.1h0M503.5 225.4h0M503.8 223.5h0M504.1 224.6h0M504.4 223.7h0M504.7 224.3h0M505.1 224.5h0M505.4 225.4h0M505.7 224.9h0M506 223.8h0M506.3 223.3h0M506.6 224.1h0M507 224.2h0M507.3 225.1h0M507.6 224.1h0M507.9 223.9h0M508.2 225.4h0M508.6 224.2h0M508.9 224.9h0M509.2 224h0M509.5 225.6h0M509.8 224.9h0M510.1 222.9h0M510.5 224.3h0M510.8 223.9h0M511.1 223.4h0M511.4 224h0M511.7 224.4h0M512.1 223.6h0M512.4 224h0M512.7 224.3h0M513 223.2h0M513.3 224.5h0M513.6 225.3h0M514 223.8h0M514.3 223.1h0M514.6 224.6h0M514.9 225.1h0M515.2 225h0M515.5 223.9h0M515.9 224.2h0M516.2 223.3h0M516.5 225.8h0M516.8 224.3h0M517.1 223.8h0M517.5 225.2h0M517.8 223.9h0M518.1 224.9h0M518.4 224.2h0M518.7 224.3h0M519 223.2h0M519.4 223.7h0M519.7 225.5h0M520 223.7h0M520.3 223h0M520.6 223.2h0M520.9 225.4h0M521.3 223.1h0M521.6 223.2h0M521.9 224.7h0M522.2 223.4h0M522.5 224.9h0M522.9 225.6h0M523.2 225h0M523.5 224.7h0M523.8 224.1h0M524.1 224.2h0M524.4 224.5h0M524.8 224.2h0M525.1 223.7h0M525.4 224.9h0M525.7 225h0M526 225.7h0M526.3 224.2h0M526.7 225h0M527 223.6h0M527.3 223.2h0M527.6 225.5h0M527.9 224.2h0M528.3 223.8h0M528.6 223.3h0M528.9 223.7h0M529.2 224.6h0M529.5 225.7h0M529.8 223.7h0M530.2 224.7h0M530.5 224.8h0M530.8 225.4h0M531.1 223.6h0M531.4 225h0M531.8 223h0M532.1 225.4h0M532.4 225.8h0M532.7 225.6h0M533 224.7h0M533.3 223.1h0M533.7 222.9h0M534 225h0M534.3 225h0M534.6 223.7h0M534.9 225.1h0M535.2 223.6h0M535.6 224.2h0M535.9 224.7h0M536.2 225.5h0M536.5 225.6h0M536.8 224.6h0M537.2 224.4h0M537.5 225.8h0M537.8 224.3h0M538.1 225.4h0M538.4 224.4h0M538.7 224.9h0M539.1 224.9h0M539.4 223.3h0M539.7 224.1h0M540 225.2h0M540.3 223.9h0M540.6 224.3h0M541 223.2h0M541.3 224.1h0M541.6 224.8h0" stroke="#5c8c22" stroke-width="0.8" stroke-linecap="round" fill="none" opacity="1"/>
<path d="M319.50 172.60H541.60V276.20" stroke="#e9e9e9" stroke-width="0.7" fill="none"/><path d="M319.50 172.60V276.20H541.60" stroke="#cdcdcd" stroke-width="0.85" fill="none"/><path d="M319.50 276.20v-2M363.92 276.20v-2M408.34 276.20v-2M452.76 276.20v-2M497.18 276.20v-2M541.60 276.20v-2M319.50 276.20h2M319.50 258.93h2M319.50 241.67h2M319.50 224.40h2M319.50 207.13h2M319.50 189.87h2M319.50 172.60h2" stroke="#c4c4c4" stroke-width="0.6" fill="none"/><text class="t" x="319.5" y="283.9" text-anchor="middle">804</text><text class="t" x="363.9" y="283.9" text-anchor="middle">804.2</text><text class="t" x="408.3" y="283.9" text-anchor="middle">804.4</text><text class="t" x="452.8" y="283.9" text-anchor="middle">804.6</text><text class="t" x="497.2" y="283.9" text-anchor="middle">804.8</text><text class="t" x="541.6" y="283.9" text-anchor="middle">805</text><text class="t" x="317.5" y="278.2" text-anchor="end">-3</text><text class="t" x="317.5" y="260.9" text-anchor="end">-2</text><text class="t" x="317.5" y="243.7" text-anchor="end">-1</text><text class="t" x="317.5" y="226.4" text-anchor="end">0</text><text class="t" x="317.5" y="209.1" text-anchor="end">1</text><text class="t" x="317.5" y="191.9" text-anchor="end">2</text><text class="t" x="317.5" y="174.6" text-anchor="end">3</text><text class="l" x="430.6" y="291.4" text-anchor="middle">star spot position (pixels)</text>
<text class="l" font-size="6.45" transform="translate(310.6 224.4) rotate(-90)" text-anchor="middle">centroiding error (pixels)</text>
<text class="c" x="425.7" y="309.5" text-anchor="middle">(<tspan font-weight="bold" font-size="15.4">d</tspan>)</text>
<text class="t" x="319.8" y="171.6" font-size="6.5">×10<tspan dy="-2.4" font-size="4.6">-3</tspan></text>
<rect x="321.2" y="174.8" width="22.7" height="21.6" fill="#fff" stroke="#c2c2c2" stroke-width="0.6"/>
<circle cx="326.4" cy="179.1" r="1.0" fill="#ff00ff"/>
<text class="t" x="330.5" y="181.2" font-size="6.05" fill="#222">GBF</text>
<circle cx="326.4" cy="186.0" r="1.0" fill="#2f22c8"/>
<text class="t" x="330.5" y="188.1" font-size="6.05" fill="#222">G3P</text>
<circle cx="326.4" cy="192.9" r="1.0" fill="#6aa121"/>
<text class="t" x="330.5" y="195.0" font-size="6.05" fill="#222">FGF</text>
<path d="M74.90 338.50V442.00M119.20 338.50V442.00M163.50 338.50V442.00M207.80 338.50V442.00M30.60 442.00H252.10M30.60 424.75H252.10M30.60 407.50H252.10M30.60 390.25H252.10M30.60 373.00H252.10M30.60 355.75H252.10M30.60 338.50H252.10" stroke="#f0f0f0" stroke-width="0.6" fill="none"/>
<path d="M87.8 387.6h0M136.7 389.9h0M134.5 388.9h0M70.1 387.1h0M58.6 384.3h0M109.2 387.6h0M46.5 378.4h0M172.1 416.2h0M58 382.2h0M251.3 391h0M164.1 392.7h0M84.2 385.3h0M44 385.8h0M57.7 366.8h0M119.1 377.9h0M131.3 386.2h0M46.1 387.7h0M103.5 367h0M103.7 363.5h0M89.5 360.3h0M166.1 399.3h0M71.1 373.5h0M232.3 395.3h0M168.1 392h0M177.4 420.6h0M184.9 409.4h0M135.8 385.5h0M110.8 383.1h0M136.6 388.4h0M74 385.4h0M59.6 367.7h0M83.5 387.2h0M226.2 401.5h0M80 385.9h0M130.5 378.9h0M247.3 390.6h0M198.8 418.7h0M226.7 394.9h0M219.7 400.2h0M38.5 388.7h0M70.2 384.8h0M231.5 394.1h0M120.5 386.2h0M153.7 398.5h0M93.5 382.3h0M196.7 419.7h0M140.3 386.8h0M109.3 376.9h0M132.4 382.5h0M172.2 421h0M149.7 391.3h0M99.3 384.9h0M120.2 369.4h0M44.7 384.3h0M160.6 397h0M75.8 381.9h0M155 407.6h0M84.1 367.1h0M223.5 392.5h0M139.2 387.2h0M170.9 392.6h0M68.3 388.1h0M68.1 377.1h0M93.2 384h0M35.8 389.9h0M233.4 391.5h0M202.5 402.6h0M168 395.3h0M148.9 400.7h0M39.9 389.1h0M82 379.7h0M195.3 405.4h0M219.1 408.3h0M170.8 414.9h0M231.2 391.7h0M165.9 412.1h0M34.2 389.8h0M239.4 391.7h0M159.4 398h0M245.6 390.7h0M120.7 376.8h0M158.5 402h0M185.8 416.8h0M33.8 389.3h0M166.1 392.5h0M183.9 399.9h0M40.8 387h0M188.7 414.7h0M205 399.5h0M110.5 371.4h0M137.5 388.7h0M87.8 367.3h0M216.9 393.4h0M51.6 378.5h0M115.7 361.9h0M60.7 387.2h0M242 393.5h0M186.9 396.3h0M120.8 372.7h0M144.7 394h0M230.7 391.8h0M162.8 391.7h0M190.2 403.8h0M237.7 391.2h0M144.6 390.5h0M234 402h0M190.2 392.9h0M205.6 393.6h0M61.8 372.6h0M233.7 392.2h0M69.8 381.3h0M87.9 386.7h0M76.9 387.9h0M64.1 372.7h0M75.3 383.4h0M83.7 384.5h0M156.6 400.8h0M78.5 362h0M179.8 395.8h0M223.1 407h0M146.6 392.5h0M192.2 413.3h0M251.1 391.1h0M46.3 389.2h0M196.6 397.4h0M142.5 390.3h0M113.8 387h0M178.7 410.6h0M189.9 428.8h0M68.2 375.4h0M71.2 387.5h0M141.4 392.6h0M247.4 393.5h0M103.1 383h0M215.6 397.2h0M150 390.8h0M131.8 386.3h0M169.4 405.7h0M201.1 427.7h0M139.9 388.5h0M197.4 394.2h0M189.4 393.6h0M231.1 404.3h0M89.8 363.8h0M175.1 408.3h0M100 362.6h0M149.7 393.5h0M95 387.9h0M136.9 387.5h0M86.8 376.4h0M48.5 376.9h0M42.4 389.5h0M166.4 401.1h0M152.7 391h0M137.8 384.6h0M167 398h0M97.3 386.1h0M111.1 381.3h0M42.1 381.7h0M91.6 387.3h0M30.7 390.2h0M92.8 385.9h0M198.9 401.1h0M47 386.5h0M42.1 389h0M215.7 397.8h0M209.3 409.9h0M48.5 381.3h0M215.7 401.3h0M197.2 419.8h0M71.8 377.5h0M166.5 391.9h0M204.8 413.4h0M169.3 405.6h0M205.4 393.4h0M244.9 393.2h0M177.8 395.7h0M89.7 374.7h0M98.8 384.6h0M79.3 372.2h0M166.6 418.3h0M93.4 369.4h0M235.7 393.2h0M172.1 392.1h0M151.4 390.9h0M69.4 380h0M84 361.4h0M32.3 388.7h0M150.9 394.5h0M89.4 359.9h0M133 389.6h0M106.9 388h0M172.3 403h0M170.1 403.4h0M114 388.6h0M163.6 399.2h0M228.2 392.2h0M120.3 386.7h0M238.6 395.3h0M202.5 402.7h0M249.4 390.9h0M126.3 379.8h0M76.1 363.5h0M146.3 393.1h0M37.1 389.2h0M134.6 389.5h0M125.7 388.5h0M90.3 364.2h0M214 392.9h0M42.9 381.8h0M188.1 393.4h0M175.4 404.6h0M246.8 392.5h0M218 398.4h0M125.8 388.6h0M32.9 389.7h0M155.4 391.3h0M238.5 401.7h0M145.4 392.7h0M180.9 410.2h0M229.3 392.6h0M177 424.7h0M157.3 392.6h0M72.4 385.8h0M52.1 388.8h0M96.1 356.2h0M191.5 412.8h0M176.4 415.5h0M134.9 389.7h0M67.1 373.5h0M208.2 425.2h0M47 376.5h0M189.8 414.3h0M250.5 391.2h0M166.3 393.8h0M152.9 400.3h0M93.1 372.5h0M103.5 385.9h0M211.6 392.5h0M97 357.4h0M46.1 384.7h0M86.3 367.1h0M69.3 359.4h0M82.1 386.1h0M229.4 392.8h0M85.8 382.3h0M56.3 381.2h0M80.9 384.5h0M76.5 374.2h0M35.7 389.5h0M51.3 384.8h0M128.5 385.3h0M195.8 394.9h0M124.8 386.2h0M216.9 415.4h0M70.7 360.6h0M192.4 394h0M74.3 355.2h0M47.7 385.9h0M52.5 370.4h0M187.6 397.9h0M135.1 387.6h0M219.2 400.4h0M165.8 392.4h0M115.9 384.2h0M209.8 420.6h0M85 356.7h0M49.9 388.9h0M245.8 393.4h0M90.9 375.6h0M164.2 395.3h0M154.6 391.2h0M103.2 386.3h0M192.2 422.5h0M92.1 386.6h0M121.2 376.7h0M50.9 379.5h0M73.6 383h0M200.3 399.2h0M39.7 389.4h0M234.7 404.1h0M201.1 393.2h0M140 390.1h0M77 387.7h0M150.3 401.9h0M105 381.2h0M216.5 395.7h0M232.1 399.3h0M97.6 375h0M164.4 413h0M80.7 369.4h0M38.7 386.7h0M50.8 385.3h0M144.3 390.5h0M243.4 395.9h0M152.5 391.5h0M121 369.3h0M188.6 407.6h0M236.6 391.5h0M127.8 386.3h0M169.3 395h0M191 394.6h0M99 375.2h0M71.1 380.3h0M113.1 387.9h0M85.2 387.1h0M218.9 394.8h0M63.2 373.5h0M57.3 369h0M165 392.7h0M232.1 395.2h0M138.5 388.8h0M233.8 394.9h0M174.8 404.8h0M176.9 426.4h0M131.8 383.6h0M155.5 392.2h0M217.4 413.2h0M34.7 388.1h0M84.8 381h0M113.7 388.2h0M47.6 389.1h0M105.5 383.4h0M228.6 394.9h0M76.5 387h0M103.8 366.5h0M80.6 387.8h0M184.9 400.9h0M142.4 391.4h0M187.9 392.6h0M122.2 387.5h0M209.7 394.3h0M232.7 397.6h0M107.3 379.2h0M145.6 391.7h0M123.5 388.8h0M155.7 400.9h0M251.2 390.8h0M178 401.8h0M109.7 370.1h0M206.3 393h0M177.1 400.4h0M95 353.3h0M45.4 389.2h0M119.7 388.7h0M57.9 386.9h0M175.3 394.9h0M77 374.3h0M170 393.4h0M162.3 410.7h0M49 380.4h0M85.3 376.2h0M187.5 392.7h0M158.9 398h0M222.2 393.4h0M226.2 400.6h0M67.7 380.3h0M123.6 388.5h0M93.2 380h0M120.5 387.2h0M127.1 375.2h0M247.2 394.4h0M98.7 351.3h0M247.8 391.5h0M161.4 394.1h0M184.8 393.4h0M146 391.8h0M132.7 389.2h0M119.6 375.7h0M152.1 391.1h0M178.5 404.9h0M248.5 393.9h0M45.9 382.4h0M38.6 387.6h0M226.3 407.1h0M120.5 373h0M75.9 365.7h0M156.7 408.7h0M140.5 390.1h0M239.2 402.4h0M114.4 388.5h0M42.9 384.4h0M245.7 392.6h0M100.8 388h0M74.8 369.1h0M58.8 385.8h0M146.6 390.7h0M38.6 389.6h0M58.7 386.4h0M57 386.1h0M31 390.2h0M232.1 395.9h0M40.1 383.8h0M200 394.8h0M194.6 427.3h0M134.4 389.3h0M163.1 391.9h0M32.1 389.6h0M245.7 393.8h0M251.3 390.6h0M208.8 392.5h0M51.6 388.6h0M81.6 387.8h0M218.5 410h0M37.3 389.8h0M35.9 387.3h0M150.1 391.7h0M228.4 405.7h0M62.7 379.6h0M120.8 371.5h0M138.1 387.4h0M191 394.6h0M146.3 390.7h0M206.5 393.6h0M75.8 387.9h0M205.5 406.1h0M179.8 402.5h0M208.1 407.9h0M208.2 421.1h0M160.7 393.9h0M106.1 381.5h0M42.7 379.1h0M88.2 367.9h0M240.4 391.4h0M62.4 385.5h0M218.3 406h0M43.3 383.6h0M202.4 393h0M53.3 388.6h0M178.8 402.6h0M177.1 407.5h0M128.7 377.4h0M75.9 384.2h0M173.1 407.8h0M222 406.3h0M35.4 389.7h0M108.3 384.8h0M58.1 377.1h0M128.7 387.5h0M164.8 411.9h0M226.8 408.7h0M247.9 390.5h0M192.2 427.3h0M62.2 386.5h0M213.5 408.2h0M145.1 394.1h0M180.9 397.2h0M66.1 378.7h0M80 377.7h0M65.2 383.1h0M183.4 393.8h0M219.2 393.8h0M38.5 386.4h0M99 387.7h0M228.8 408.5h0M89.3 384.2h0M232.9 397.9h0M37.9 383.8h0M220.5 394.1h0M178.6 392.4h0M211 392.5h0M151.9 394.1h0M77.1 372.9h0M177.3 401.4h0M107.1 369.2h0M190.9 417.5h0M65.7 374.6h0M193.3 406.2h0M44.2 377.1h0M69 381.5h0M158.7 403.7h0M169 400.2h0M156.5 394.5h0M182.9 392.6h0M107.1 358.2h0M102.7 388.1h0M167.8 402.5h0M128.2 382.4h0M128 389.3h0M170.8 392.6h0M169 413.4h0M134 384.9h0M118.8 388.7h0M148 394.1h0M209.4 395.5h0M164.7 394.5h0M176.1 392.3h0M121.6 384.4h0M247.8 394.1h0M115 387h0M66.9 380.5h0M221.3 395.1h0M126.2 388.7h0M207.5 417.2h0M115.1 374h0M51.7 388.8h0M223.8 392h0M199.4 397.8h0M137.9 383.8h0M241.5 393.5h0M153 401.9h0M137.7 386.5h0M183.2 392.5h0M145.8 395.6h0M160.2 391.7h0M35.4 389.5h0M136.2 388.6h0M35.8 389.8h0M159.5 391.5h0M156.4 397.9h0M64.7 363.8h0M193.7 419.8h0M75.6 387.4h0M249.8 390.9h0M229.3 393.3h0M40.8 387.1h0M230.7 408.5h0M217.4 395.1h0M104.9 383.5h0M126.2 382.1h0M176.3 396.1h0M179.2 392.4h0M54.3 380.5h0M189.3 404.4h0M120.6 376.3h0M150.2 390.9h0M63.2 374.8h0M248.8 392.2h0M73.8 388h0M149.3 398.3h0M42.6 378.4h0M105 382.6h0M215.7 421h0M107.7 387.7h0M134.7 389.4h0M133.1 386.2h0M149.2 400.8h0M246.2 390.7h0M171.6 397.8h0M76.8 386.2h0M225.3 392.3h0M160.5 392.7h0M46.7 381.8h0M175.8 412.6h0M77.5 382.2h0M201.8 407.8h0M181.4 408.9h0M242.7 396.3h0M63.7 382.3h0M126.7 389h0M31.8 389.8h0M165.9 401.5h0M148.8 392.2h0M74.1 383.9h0M117.4 368.7h0M238.4 391.2h0M116.6 387.2h0M141.3 390.2h0M180.2 393.9h0M79.1 381h0M211.7 423.2h0M52.8 388.8h0M84.1 355.2h0M142.2 393h0M237.4 393h0M197.7 395h0M41.2 380.1h0M124.8 388.9h0M80.4 385.7h0M167.5 394.3h0M103.8 387.7h0M83.8 352.9h0M177 392.5h0M108.7 365.7h0M98.1 387.9h0M196.3 402.3h0M144.8 393.2h0M204 403.2h0M175.8 419.1h0M53.2 387.6h0M72.8 387.6h0M179.5 393.1h0M78 352.8h0M173 392.1h0M238.7 391.4h0M87 352.6h0M75.9 372.9h0M244.9 390.9h0M244.9 392h0M137.6 386.2h0M188 392.8h0M32.7 390.1h0M60.5 369.9h0M220.4 393.6h0M32.2 390h0M76.2 367.5h0M42.8 378.9h0M237.5 394.1h0M117.9 386.6h0M248.1 392.9h0M199.3 416.6h0M221.8 400.7h0M209.2 395.5h0M37.1 388h0M159.4 391.8h0M80.2 362.2h0M129.6 387h0M238.3 391.7h0M67.4 380h0M67.4 387.8h0M66.4 387.9h0M170.4 395.1h0M129.7 384.2h0M99.8 376.7h0M208.1 393h0M235 402.3h0M106.1 358.5h0M129.1 386.8h0M71.6 375.9h0M120.3 388.9h0M228.5 392.1h0M248.7 390.5h0M163.2 395.9h0M123.3 387.7h0M65.7 388.1h0M59.1 371.6h0M149.9 401.1h0M129.7 376.6h0M216.6 398.7h0M114.3 374.5h0M69.9 380.4h0M89.1 387.8h0M130.5 377h0M117.2 387.3h0M237.6 395.7h0M215 413.6h0M147.6 395.3h0M241.5 391h0M190 392.7h0M117.9 380.8h0M136 389.9h0M38.8 387.1h0M238 391.6h0M141.1 389h0M80 353.1h0M204 404.4h0M155.1 391.8h0M71.3 385.5h0M231.8 391.6h0M66.1 383.8h0M234.4 392.8h0M228.2 397.4h0M242.9 398.7h0M186.3 393.1h0M89.7 383.5h0M62 387.7h0M155.1 391.2h0M111.2 383.9h0M104.1 369.2h0M62.4 382.1h0M64.3 384.5h0M205.8 419h0M164.6 401.7h0M60.6 377.8h0M81.8 381.9h0M239.8 398.9h0M66.2 371.7h0M64.6 388.3h0M229.5 401.8h0M54.6 387.2h0M140.2 390.1h0M207.8 404.3h0M109.4 368.9h0M188 425.3h0M165.6 393.6h0M107.1 354.8h0M72.6 384.8h0M162.9 410.7h0M116.5 387.8h0M33 389.8h0M148 391.3h0M40 385.1h0M186 417.4h0M143 392.9h0M97.4 381.8h0M140.3 387.4h0M201.6 393.1h0M200.4 411.6h0M218.6 392.3h0M67.7 381.6h0M206.7 395h0M219.5 409.9h0M189.7 420.7h0M80.6 356.6h0M71.5 385.2h0M175.1 394.8h0M161.7 396.8h0M145.1 392.7h0M117.5 387.2h0M34.2 389.5h0M43.8 378.7h0M106.6 378.3h0M186.7 410.4h0M199.1 393.6h0M85.8 380.3h0M109.8 377.3h0M147.7 394.5h0M71.9 383.3h0M220.8 392.8h0M53.7 386h0M197.4 392.8h0M91.9 355.9h0M193.5 396.9h0M44.2 388.2h0M110.1 383.3h0M203 426.9h0M138.3 388.1h0M124 381.8h0M198.3 394.2h0M78 373h0M231.4 391.8h0M164.7 392.2h0M127.4 381.6h0M228.9 394.4h0M132.5 386.2h0M187.3 392.9h0M126.1 388.7h0M243.9 390.8h0M189.4 398.5h0M243.3 393.4h0M112.8 381.7h0M90.9 379.4h0M145.7 395.2h0M94.2 386.7h0M161.8 406.9h0M208.1 412.3h0M144.4 390.6h0M94.4 374.1h0M108 388.3h0M33.4 388.8h0M246.8 391.7h0M180.2 404.2h0M78.5 387.3h0M128.9 389.1h0M187 398.3h0M162.8 395.8h0M48.7 372.9h0M51.2 386.1h0M221.5 392.2h0M90.1 369.2h0M217.6 415.8h0M140.6 389.1h0M61.6 364.3h0M45.2 377.9h0M78.7 387.2h0M156.9 394h0M113.7 383.7h0M76.6 376.3h0M230.1 394.2h0M169.9 412h0M51.9 388.9h0M137 385.5h0M115.2 367.5h0M193.4 412.5h0M47.4 388.3h0M121.1 371.6h0M154.9 391.6h0M190 408h0M84.2 379.8h0M90.3 368.7h0M231.3 392h0M179 392.4h0M158.4 392.2h0M174.6 394.4h0M137.1 384.1h0M227.3 398.7h0M46.6 389.1h0M160.8 391.7h0M164.6 392h0M153.9 402.1h0M125.6 382.2h0M166.4 398.9h0M44.9 385.1h0M88.1 379.6h0M31.4 390.2h0M195.3 426.6h0M61.5 370.5h0M110.3 388.2h0M157.9 393.7h0M112.7 388.4h0M195.7 409.5h0M139 389.7h0M151.5 403.8h0M64.6 387.6h0M242.8 392.5h0M215.2 397.4h0M190 392.9h0M204.6 425.4h0M241.4 391.1h0M193.6 404.2h0M179.1 400.5h0M197.9 399.4h0M211.8 392.9h0M108.6 379h0M125.7 385.4h0M92.8 357.2h0M107.9 387.1h0M51.5 372.5h0M244.8 393.7h0M179.6 392.5h0M54.4 388.6h0M250.4 390.6h0M89.2 362h0M210.2 399.9h0M182.9 393.4h0M235.8 393.9h0M220.9 407.4h0M121.4 373.9h0M102.9 376.7h0M194.4 400.9h0M116.3 380h0M152.9 391.1h0M202.4 412.1h0M207.1 420.3h0M163.2 391.7h0M211 395.3h0M119 370.5h0M236.1 398.5h0M94.6 359.5h0M109.2 376h0M194.9 397.6h0M142.1 392h0M134.1 386.4h0M217.5 397.5h0M37.2 388h0M101.1 375.6h0M199.1 396.8h0M93.4 387.9h0M83.1 385.5h0M228.4 392.1h0M163.1 394.6h0M73.1 367.6h0M121.1 370.8h0M206.6 426.9h0M85.6 372h0M154.4 394.9h0M90.4 386.7h0M247.4 390.8h0M144.7 390.5h0M85.5 362.6h0M69.4 386.7h0M180.6 395.9h0M67.5 376.4h0M147.3 393.4h0M232.2 392.4h0M132.8 387.4h0M112.6 383.5h0M236.5 391.4h0M97.2 373.7h0M193 392.7h0M241.8 391.1h0M213.3 413.1h0M77 381.7h0M77.5 357.6h0M210.5 418h0M203.5 418.2h0M123.5 387.2h0M172.8 406h0M196.6 392.8h0M237.8 392h0M238.3 403.7h0M166.8 397.2h0M177.7 392.4h0M130.7 388h0M122.2 377.1h0M216.3 393h0M225.1 399.5h0M97.9 388h0M147.2 391.4h0M69.7 379h0M103.8 388.1h0M162.3 391.6h0M59.6 387.4h0M243.1 390.9h0M202.7 411.7h0M145.6 394.3h0M49.3 380.8h0M42.7 380.5h0M167.4 401.5h0M78.8 387.7h0M159.4 403.2h0M58.3 368h0M35.6 385.2h0M217 392.3h0M51.4 386h0M57 385.5h0M64.4 388h0M142.8 391.1h0M88 385.1h0M127 389.3h0M103 375.3h0M144.5 390.7h0M175.7 424.2h0M198 393.9h0M154.6 397.9h0M153.1 392.4h0M207.8 393.7h0M92.7 376.7h0M68.3 365.5h0M190.4 393.2h0M69.6 386.4h0M85.4 385.5h0M52.3 388.9h0M45.1 385.2h0M211 399.4h0M180.3 393.2h0M110.6 384.2h0M142.7 391.1h0M225.9 396.5h0M232.6 392.4h0M84.1 384.3h0M140.2 390.1h0M130.3 389.3h0M102.6 373.7h0M104.5 365h0M76.2 357.9h0M224 394.5h0M130.3 389.1h0M241.2 391.4h0M143.9 390.5h0M80.6 367.9h0M128.4 385.8h0M70.2 362.9h0M167.8 395h0M197.9 421.9h0M237.1 391.7h0M119.4 376.9h0M197 418.4h0M143.2 393h0M212.5 410.7h0M104.1 378.2h0M137.2 389.9h0M81.5 382.3h0M209.9 393.5h0M71.9 380h0M133.5 389.7h0M207.2 405.7h0M64.3 378.5h0M63.6 385h0M41.5 389.2h0M110.7 388.4h0M226.2 401.6h0M179 396.3h0M175 399.3h0M187.7 403h0M59.7 377.9h0M224.9 398.5h0M114.1 363h0M74.9 359.1h0M249.6 391.8h0M161.7 392.7h0M60.8 382.5h0M83.2 381.2h0M53 388.6h0M236.8 397.8h0M163.2 392.2h0M190.2 422.7h0M99.7 372h0M82 368.7h0M115.6 371.9h0M190 396.5h0M129.6 380.9h0M111.8 371.5h0M232.7 394.7h0M171 411.6h0M237.2 402.5h0M196.7 394.8h0M204.4 395.1h0M202.3 395.2h0M99.8 387.9h0M210 421.9h0M112 366.5h0M197.9 423.2h0M151.8 398.8h0M185.9 393.2h0M115 379.3h0M56.9 375.5h0M219.2 392.8h0M69.8 388h0M167.9 393h0M166.7 413.1h0M216.1 409.8h0M88.8 387.7h0M120.3 388.7h0M93.6 385.8h0M56.3 388.5h0M81 384.8h0M157.5 401.1h0M95.1 383.7h0M43.8 389.1h0M92.4 372h0M187.7 397.8h0M142 390.4h0M183.7 419.7h0M72.2 381.9h0M162.5 405.6h0M232.1 391.8h0M212.9 408.9h0M53 385.6h0M113.8 387h0M231.7 391.6h0M45.5 388.9h0M60.3 384.2h0M187.7 407.8h0M69.9 370.8h0M77.8 370.6h0M119.9 388.4h0M141.3 390h0M82.3 374.2h0M217.1 411.1h0M32.2 389.9h0M247.5 390.6h0M187.7 395.9h0M42.3 388h0M105.5 380.6h0M128.8 386h0M184.4 398.8h0M174.2 415h0M172.7 392.4h0M150.2 393.9h0M111.1 388.4h0M117 372h0M177.7 399.4h0M188.4 404h0M232 404.1h0M78.5 356.2h0M78.4 387.8h0M220 392.5h0M199.7 398.2h0M163.6 412.7h0M33.4 390h0M59.3 387.3h0M96.9 382.9h0M211.5 406.9h0M113.3 384.6h0M37 389.2h0M170.1 392.5h0M88.7 387.4h0M222.6 393.9h0M44.9 383h0M84 379.5h0M218 404.7h0M206.9 394.1h0M76.2 367.3h0M174.9 403.8h0M161.6 402h0M42.9 387.6h0M87.9 376.8h0M126 383.4h0M117.7 372.3h0M157.7 399.7h0M231.4 399h0M233.7 399.4h0M107.8 382.1h0M172.8 404.8h0M166.6 394.5h0M51.1 384.2h0M146.1 391.1h0M163 391.7h0M66.8 385.1h0M116.2 384h0M195.8 414.5h0M145.5 390.6h0M218.6 403.6h0M183.8 392.5h0M164.3 393.7h0M184.8 393.6h0M85.8 373.4h0M74.1 369.3h0M108.2 373.6h0M99.9 384.4h0M232 398.1h0M66.9 385.9h0M102 387.7h0M231.3 391.6h0M251.8 390.4h0M231.7 408.4h0M83.9 383.1h0M155.8 397.1h0M85.3 386.4h0M176.6 417.6h0M32.1 390.1h0M245.7 396.1h0M57.6 370h0M240.2 392.8h0M51.3 382.2h0M76 387.9h0M32.8 389.3h0M177.5 400.9h0M79.2 387.9h0M63.2 371.9h0M81.5 386.9h0M249.2 390.6h0M62.2 388.3h0M114.2 385.2h0M63.1 362.4h0M33.4 389.2h0M124.2 385.7h0M230 410.7h0M183.6 402.6h0M110.8 366.8h0M101.5 355.5h0M85.3 384h0M127.3 389.3h0M235.3 401.3h0M250.3 390.4h0M83.1 387.8h0M149.3 390.9h0M92.4 364.2h0M57.2 388.6h0M228.5 404.2h0M233.1 399.8h0M36.4 389h0M44.1 387.4h0M60.2 370h0M243.6 398.8h0M98.1 383.9h0M41.4 387.7h0M238 397.7h0M192.3 412.9h0M41.4 388.1h0M41.3 389.3h0M214.3 408h0M75.9 387.7h0M180.2 402.2h0M173.5 397.5h0M43.1 389.3h0M126 387.6h0M206.9 397.5h0M230.2 403.5h0M100.4 374.1h0M104.2 372.1h0M241.2 391h0M92.3 386.2h0M159.2 391.6h0M169.4 399.1h0M31.6 389.6h0M91 382.3h0M149.6 391h0M67.9 377.1h0M94.1 384.9h0M189.7 422.7h0M243.6 397h0M188.4 393.8h0M102.8 385h0M65.1 387h0M129.6 389.4h0M228.8 394.3h0M144.2 390.5h0M116.8 385.8h0M163.9 391.9h0M58.5 375.1h0M170.9 419.9h0M55.4 382.7h0M158.2 393.4h0M105.9 359.3h0M216.8 394.8h0M188.6 392.8h0M99.5 388h0M187.6 429.4h0M80.2 379.4h0M207.5 418.4h0M220.3 396.1h0M177.4 422.7h0M232.8 405.1h0M134.9 386.3h0M40 389.2h0M176.3 396.1h0M89.3 387.2h0M238.9 395.5h0M48 382.5h0M84.7 377.7h0M61.5 372.8h0M49.2 383.9h0M84.2 356.2h0M44.8 389.1h0M101.3 383.4h0M54.8 388.7h0M96.7 384.3h0M246.8 390.6h0M85.8 370.9h0M70.7 370.9h0M191.3 430.3h0M101.3 387.3h0M52.7 375.5h0M248.1 390.5h0M186.2 396.5h0M105.1 368.1h0M179.9 393.2h0M162.7 399.8h0M56.7 371.9h0M52.2 384h0M170.2 394.5h0M195.6 393.3h0M145.3 393.7h0M80.6 385.9h0M41.7 385.8h0M49.8 375.3h0M238.9 402.7h0M54.5 368.8h0M167.8 394.1h0M196 421.8h0M81 387.4h0M38.2 389.2h0M192.2 416.2h0M60.6 385h0M64.4 371.6h0M42.2 389.5h0M204.8 419.3h0M133.4 389.1h0M145.3 392.1h0M112 372.4h0M62.4 377.6h0M63.4 360.4h0M135.9 382h0M114.9 387.8h0M160.1 405.7h0M127.8 382.6h0M100.6 367.7h0M205.8 396.5h0M219 412.3h0M140.4 388h0M211 415.2h0M166.6 398.2h0M182 402.9h0M56.7 388.6h0M58.2 385.2h0M165.9 391.9h0M200.9 397h0M86.8 385.6h0M230.4 393.2h0M121 372h0M77.9 384.3h0M136.6 388.5h0M54.9 369.1h0M65.4 387.2h0M166 397.5h0M226.9 393.6h0M70.5 382.4h0M231.1 405.2h0M78.1 378.6h0M209.6 394.2h0M220.8 412.1h0M81.8 358.7h0M150.6 400.5h0M194 394.4h0M219.2 392.2h0M99.4 384.8h0M72.9 377.1h0M189.2 412.3h0M215.2 394.5h0M222.8 392.1h0M217.8 402.3h0M145.4 391.7h0M107.9 374.9h0M87.7 386.7h0M139.6 389.6h0M225.7 396.4h0M215.2 392.4h0M112.6 367.3h0M121.4 387.7h0M235.3 405.7h0M218.7 419.5h0M232.2 391.7h0M169.2 410.7h0M140.3 389.5h0M215.4 411.6h0M119.1 379.2h0M175.1 398.4h0M83.8 387.4h0M61.8 361.7h0M109.3 383.7h0M224 411.2h0M73.5 387.5h0M129.4 384.5h0M43.4 379.8h0M120.1 376.8h0M225.3 392.2h0M164.5 392.3h0M220.3 395.8h0M206.9 396.9h0M88.9 373.1h0M144.3 392.2h0M109.5 375.6h0M192.5 397.6h0M115 380.9h0M158.4 406.9h0M245.5 390.8h0M101 379.6h0M210.6 392.5h0M226.4 394.7h0M247.9 390.5h0M55.6 382.6h0M68.5 362h0M58.2 380.7h0M248.6 391h0M145.1 395.2h0M248 390.6h0M46.5 378.7h0M137.8 389.5h0M101.1 388.1h0M209.3 393.8h0M141.7 390.8h0M222.7 395.1h0M213.2 393.8h0M176.2 395.7h0M217.8 410.5h0M226.9 392h0M77.7 387.1h0M140.2 390.2h0M217 399.4h0M159.1 391.8h0M193.5 417.6h0M78.5 387.1h0M123.5 389h0M81.9 355.8h0M140.9 388.1h0M177.7 392.5h0M48.1 384.3h0M218.7 392.3h0M151.7 398h0M248.6 390.5h0M201.3 395.8h0M132.2 389.4h0M31.1 390.1h0M66.2 383.6h0M214.7 392.5h0M187.1 392.6h0M236.9 391.4h0M128.4 389.4h0M229.7 394.3h0M33.9 390h0M38.8 389.3h0M150.7 391h0M161 407.3h0M205.6 425.9h0M233.6 391.5h0M85.2 385h0M118.2 386.8h0M251.2 390.3h0M194.6 420.8h0M117.4 384.5h0M211.6 392.8h0M54.9 378.3h0M250.2 390.4h0M112.6 383.9h0M214.4 408h0M204.7 396h0M70.5 388.1h0M90.1 387.5h0M165.9 392.1h0M39 389.4h0M124.2 386.4h0M234.1 399.6h0M85.3 385.9h0M83.5 383.2h0M230.2 395.7h0M107.3 385.2h0M202.2 415.4h0M69.7 362.7h0M179 421.6h0M133.9 389h0M186.9 414.5h0M214.3 400.8h0M113.9 383.6h0M73.6 359h0M164.6 391.7h0M243.4 390.8h0M228.9 395.3h0M126.9 376.6h0M141.1 388.9h0M125.4 388.9h0M246.8 392.3h0M159.5 396.1h0M231.4 402.4h0M53.7 384.9h0M36.3 387.8h0M199.3 394.6h0M250.6 390.8h0M197.6 393.1h0M250.3 390.4h0M68.3 377.7h0M72.7 367h0M92.7 387.8h0M110.6 371.7h0M91.9 376.5h0M206.7 417.7h0M197.8 408.7h0M136.4 389.4h0M75.4 387.7h0M84.6 362.5h0M64.9 386.6h0M86.1 381.7h0M153.3 391.4h0M154.1 399.8h0M115.7 388.3h0M195.3 404.1h0M150.6 403h0M68 384.8h0M57 376.7h0M238 397h0M228.2 406.1h0M91.4 367.6h0M169.5 415.1h0M172 414.6h0M182.3 394.2h0M61.8 387.2h0M136.1 387.3h0M204.9 414.4h0M115.8 388.4h0M187.6 421.2h0M55.5 388.6h0M98.9 387.8h0M103.7 366h0M176.3 396.4h0M118.2 383.5h0M246.4 391h0M187.3 394.3h0M141.6 390.6h0M95.2 385.9h0M132.7 385.1h0M112.4 376.3h0M189.7 410.4h0M104.3 383.5h0M48.7 388.9h0M119.9 384.1h0M230 406.9h0M186 398.4h0M217.8 400.8h0M218.5 418.2h0M142 391h0M48.7 388.5h0M111.8 388.2h0M149 391.2h0M219.1 400.7h0M126.9 381.2h0M72.3 361.9h0M178.6 397.9h0M66.9 384.7h0M40.4 385.7h0M43.5 385.5h0M212.5 413.6h0M60.6 386.7h0M41.2 389.3h0M76 360.5h0M225.2 392.6h0M150.5 393h0M217.1 400.2h0M62.3 388.3h0M75 358.5h0M158.3 409.2h0M162.5 392h0M174.4 399.9h0M183.5 393.5h0M78 356.3h0M251.5 390.4h0M237.8 393.9h0M130.6 388.8h0M111.3 378.9h0M94 382.6h0M72.3 388h0M165.4 409.6h0M36.8 389.5h0M96.4 382.1h0M64.4 388h0M225 402.2h0M238.9 391.2h0M138 389.9h0M92.3 387.7h0M99.4 385.6h0M181.8 396h0M68.7 387.4h0M143.9 390.5h0M107 387.1h0M187.7 407.1h0M148.7 399h0M205.7 422.8h0M73.3 377h0M185.2 428.2h0M127.7 386.7h0M32.8 389.9h0M153.5 399.8h0M127.5 378.8h0M145.8 390.6h0M123.3 389h0M127.6 380.6h0M252.1 390.3h0M78.1 365.2h0M224.8 407h0M148.9 393.3h0M188.2 392.8h0M233.5 399.3h0M45.3 388h0M121.6 389h0M220.6 409.1h0M185.6 417.6h0M224.8 411.5h0M87.2 366.5h0M214.5 394.1h0M224.5 392.9h0M137.8 387.6h0M183.2 395.4h0M53.2 368.8h0M107.4 384.6h0M54.1 388.6h0M205.5 406h0M65 373.6h0M163.7 392.1h0M89.2 387.4h0M152.5 401.5h0M186 409.8h0M162.5 391.8h0M215 401.7h0M220.5 403.8h0M77.9 364.2h0M75.5 387.7h0M170.5 392.4h0M196.9 424.4h0M203.3 396.7h0M197.5 412.7h0M244.8 394.8h0M152.1 396.1h0M194.1 401.8h0M150.6 393.6h0M164 411.1h0M44 380.3h0M115.7 382.1h0M210.8 403.2h0M48.7 382.9h0M65.2 387.9h0M121.1 379h0M65.2 387.5h0M75.8 386.4h0M41.3 389.5h0M38.6 389.1h0M206.5 393.6h0M74.6 380.6h0M82 374.9h0M199.7 392.9h0M177.8 398.7h0M35.8 388.7h0M139.5 388.5h0M247.1 391h0M192.5 393.1h0M197.5 393.4h0M143.7 391.3h0M139.3 389.5h0M74.7 384.7h0M148.3 395.2h0M50.9 376.5h0M228.9 407.5h0M103.4 387.6h0M162.8 396.4h0M43.5 384.6h0M133.5 388.4h0M139 386.7h0M239.8 398.3h0M243.3 394.7h0M229 406.6h0M105.9 354.2h0M88.9 369.1h0M209.9 392.8h0M42.4 386.5h0M193.7 417.7h0M206.4 398.3h0M165.1 404.9h0M188.7 398.3h0M192.3 406.8h0M109.8 385.5h0M80.7 374.5h0M212.3 400.5h0M67.9 388h0M82.3 375.5h0M117.2 386.1h0M62.2 388.3h0M202.2 409.4h0M235.5 391.8h0M121.4 388.9h0M102.7 380.3h0M184.1 416.9h0M95.6 386h0M66.7 367.3h0M41.3 385.8h0M156.3 392.2h0M154.4 391.1h0M208.2 415.2h0M86.6 360.2h0M225.9 394.1h0M187.8 413.7h0M40.4 381.7h0M44.9 385.5h0M109.7 385.6h0M237.9 400.7h0M91.5 369.4h0M168.9 400.1h0M102.5 378.4h0M193 397.8h0M127.4 388.8h0M236.3 391.3h0M54.3 383.5h0M35.9 388.9h0M112.7 387.4h0M131.4 387.2h0M243.6 391.4h0M38.8 384h0M178.5 407.9h0M36.3 385h0M65.5 363.3h0M74.7 383.5h0M108.4 366.1h0M39.8 387h0M70.9 362.8h0M95 386h0M209.2 392.7h0M91.9 387.8h0M149.6 398h0M72.8 387h0M37.4 389.2h0M158.8 392.6h0M171 414.9h0M234.7 391.4h0M93.1 372.8h0M206.1 414.3h0M234.3 394.7h0M55.7 383.6h0M31.2 389.9h0M65.8 388.1h0M44 379.2h0M140.5 390.1h0M131.3 383.8h0M46.9 386.6h0M37.1 388.4h0M31.5 390.1h0M44 389.3h0M41.4 386.1h0M170.2 392h0M83.3 379.8h0M189.3 422.7h0M117.8 388.5h0M191.9 393.3h0M91.9 372.4h0M186.7 395.6h0M200.1 410.8h0M76.8 358.2h0M98.7 373h0M122.2 382.7h0M129.8 376.7h0M207.9 416.4h0M51.9 388h0M33.1 389.2h0M186.6 392.8h0M173 418.3h0M149.2 398.3h0M101.4 379.8h0M105 358.1h0M58.4 368h0M82.4 365.3h0M212.1 392.5h0M88.1 352.8h0M144.2 395.8h0M231.4 391.7h0M146.4 393.8h0M123.6 382.8h0M106.9 388.2h0M177.9 393h0M84.1 355.6h0M30.9 390.1h0M60.3 386.4h0M123.6 383.4h0M148 390.8h0M233.5 396.3h0M75.5 378.4h0M88.3 387.3h0M245.1 390.8h0M176.6 396.3h0M141.5 390.9h0M103.3 370.3h0M119.2 388.8h0M77 377.7h0M37.8 387.4h0M61.9 385.8h0M99.5 388h0M133.4 389.2h0M69.5 368.8h0M212.7 399h0M134.6 380.6h0M56.8 379.6h0M218.6 400.6h0M212.1 397.4h0M65.3 360.6h0M83.2 381h0M114 388h0M219.3 393.7h0M58 384.4h0M120.2 388.6h0M179.7 397.6h0M105 388.2h0M211.8 404h0M229.8 395.6h0M127.7 388.6h0M199.8 400.3h0M129.4 377.1h0M155.9 393.6h0M226 394.5h0M171.9 405.4h0M179.9 392.4h0M75.4 387.9h0M115.1 382h0M56.6 373.5h0M177.7 392.9h0M232.1 407.9h0M96.8 387.9h0M108.1 360.3h0M224.9 396.3h0M208.6 392.6h0M73.8 356.8h0M220.3 400h0M250 391.2h0M183.5 392.5h0M200.3 394.3h0M192.3 400.6h0M33.2 390.1h0M99 372.5h0M91.7 376.4h0M203.8 407h0M199.8 412h0M68.2 370.5h0M94.4 351.2h0M201.1 422.9h0M184.6 397h0M61.7 387.8h0M146 390.9h0M188.7 396.6h0M192.4 392.8h0M54.7 382.4h0M162.8 392.3h0M158 392.1h0M239.7 391.6h0M154.7 391.2h0M36.1 389.8h0M135.4 384.2h0M153.4 393.4h0M70.7 380.9h0M41.6 385.1h0M184.2 413.8h0M101.5 377h0M107 381h0M222.6 394.7h0M140.2 388.6h0M63.2 388.2h0M183.1 398h0M89.2 373h0M86 387.6h0M251.9 390.3h0M237.5 396.8h0M156.5 401.9h0M60.6 385.5h0M151.9 401.7h0M90.4 387.5h0M175 396.6h0M219.6 404.8h0M224.7 392h0M117 384.3h0M88.8 387.8h0M157.5 391.8h0M72.1 386.7h0M46.3 387.7h0M119.2 387.3h0M174.4 396.8h0M173.7 392.4h0M214 392.6h0M238.1 396.6h0M81.3 387.7h0M241.8 391.3h0M55.1 388.7h0M183.3 412h0M161.7 395.6h0M72 388h0M47.1 379.8h0M113 363.7h0M30.7 390.2h0M177.9 392.8h0M48.6 387.9h0M199.5 416.8h0M142.3 390.6h0M79.4 357.9h0M235.3 403h0M114.8 374.4h0M85.6 387.8h0M213.5 392.4h0M243.4 394.4h0M208.4 396.9h0M140.1 389h0M121.9 380.3h0M242.2 393.9h0M39.5 383.6h0M185.9 402.3h0M144.3 392.5h0M68 387.7h0M86.2 387.8h0M203.4 408.1h0M46 389.2h0M157.9 391.4h0M98.3 368.4h0M107.3 369.2h0M175.6 400h0M222.4 413.7h0M220.1 394.3h0M205.8 392.7h0M30.7 390.2h0M62.8 362.4h0M149.6 400h0M214.9 407.4h0M107.4 379.9h0M115.3 385.5h0M140.9 390.1h0M215.5 418.1h0M249 392h0M58.2 387.8h0M238.5 398.8h0M170.3 396.2h0M207.9 401.4h0M201 412.8h0M66.8 386h0M224.9 414.5h0M157.5 402.2h0M231.1 394.9h0M44.8 377.9h0M112.5 384.7h0M215 417.6h0M92.1 387h0M137.5 383.7h0M226 400.2h0M126.6 389h0M99.1 388h0M59.7 388.1h0M147.8 393.9h0M211.8 393.2h0M148.8 391.1h0M114.3 374.4h0M92.1 377.4h0M137.5 389.7h0M184.4 420.8h0M36.8 389.7h0M47.5 384h0M114.8 371.1h0M120.7 388h0M89.6 358.8h0M105.2 387.7h0M148.3 391.3h0M157.9 391.5h0M212.8 409.9h0M131.8 389.6h0M134.6 389.8h0M188.7 392.6h0M131.9 381h0M55.9 388.1h0M148.2 394.4h0M102.8 361.3h0M57.8 388.6h0M50.6 379.3h0M215.5 394.5h0M60.4 385.5h0M85.4 385.4h0M139.1 389.4h0M227 405.9h0M108 361.5h0M146.5 390.8h0M240.9 396.4h0M53.9 388.7h0M220.2 396.7h0M77.4 368.5h0M235.2 404.5h0M72.5 385h0M107.3 387.3h0M74 387.8h0M196.4 412.4h0M137.8 386.2h0M114.8 374.2h0M91.8 368.5h0M132.2 387.2h0M158.4 408h0M101.7 383.7h0M224 414h0M250.5 391.4h0M198.5 396.6h0M46.1 379.9h0M130.1 384h0M138.3 388.3h0M75.2 385.7h0M91.7 385.7h0M167.7 392.2h0M69.6 386.6h0M142.1 391.3h0M163.5 414.7h0M196.7 394.8h0M200.8 413.8h0M140.7 388.9h0M141.6 391.7h0M70.6 371.1h0M169.4 392.7h0M181.9 394.4h0M73.2 369.1h0M160.4 402.8h0M61.9 381.4h0M80.2 386.7h0M170.7 395.9h0M191.7 396.9h0M107.6 374h0M168.8 409.8h0M234.4 407.2h0M57.6 388.1h0M172.7 392.7h0M43.6 378.8h0M182.3 394h0M180.3 393h0M148.9 391.2h0M143.3 390.8h0M210.8 392.6h0M42.4 383.9h0M50.8 379.5h0M156.3 391.6h0M187.3 410.1h0M119.1 388.1h0M124.1 389.1h0M41.2 381.3h0M210.3 393.1h0M187.7 425.6h0M160.1 409.2h0M157.9 394.1h0M208.3 392.6h0M148.1 390.8h0M155.2 391.2h0M182.9 428.7h0M135.7 387.8h0M247.5 390.6h0M125.5 385.6h0M196.2 394.2h0M59.8 379.7h0M192.9 392.7h0M154.9 403h0M207.6 397.9h0M140.1 389.3h0M36.6 388.8h0M114 382.6h0M79.6 362.7h0M136.2 389.8h0M42.8 388.4h0M116.8 388.7h0M112.7 359.3h0M86.5 374.6h0M203.5 396.5h0M60.6 388.4h0M63.1 386.4h0M229.3 411.8h0M244.2 396.3h0M220.8 394.6h0M179.3 393.2h0M84.9 378.4h0M86.6 363.7h0M230.2 393.5h0M156 404.7h0M98.8 386.9h0M191.2 399.4h0M115 388.6h0M142 390.7h0M45 389.3h0M219.1 392.9h0M216.7 396.9h0M126.4 380.8h0M187 399.5h0M182.3 423.7h0M249.1 390.8h0M45.7 377.7h0M211.1 395.6h0M185.5 393.2h0M147.1 395.5h0M58.7 387h0M214.4 412.2h0M157.4 392h0M80 371h0M102.3 381.1h0M251.6 390.5h0M195.4 404.7h0M136.8 384.4h0M206.9 393h0M100.8 388h0M187.9 405.9h0M69.4 379.4h0M36.2 389.9h0M67.6 381.8h0M50.7 380.1h0M122 372.3h0M85.5 380.1h0M238.5 395.3h0M124.9 384.9h0M239.4 401.5h0M132 387.8h0M245.6 396.5h0M171.3 397.1h0M116 388.4h0M123.8 389h0M75.1 356.1h0M64.8 363.6h0M35.9 389.5h0M176.3 413.8h0M89.2 387.4h0M159.3 397.9h0M250.3 391h0M87.7 364.9h0M101.3 357.9h0M93.5 371.5h0M191.3 423.2h0M225.4 395h0M184.8 428h0M85.6 384.6h0M217.5 414.1h0M142.9 391.8h0M189.2 410.4h0M144.9 390.6h0M165.6 396.7h0M177.2 393.3h0M139 386.5h0M174.5 396.7h0M157.4 392.5h0M155 403.3h0M193.2 426.8h0M185.3 394.3h0M121.6 386.4h0M162 407.8h0M166.1 391.8h0M201.8 395.4h0M173.3 392.2h0M120.9 383.7h0M91 379.9h0M217.8 393.1h0M199.6 392.9h0M153.8 393.5h0M92.4 387.5h0M219.2 409.2h0M242.9 391.4h0M222.7 392.6h0M212.7 393h0M93.4 355h0M183.7 394.6h0M53.2 382.2h0M203 411.7h0M181.5 405.1h0M58.4 368h0M153.3 400.5h0M169.9 420.8h0M174.6 402.2h0M172.4 392.1h0M87 387h0M79 387.7h0M58.7 370.1h0M57.8 374.8h0M240.5 393.7h0M87.3 351.5h0M104.1 371.3h0M194.6 399.9h0M39.3 389.6h0M183.2 417.1h0M38 389.3h0M156.5 396h0M73.9 388h0M149.6 393.9h0M192.6 404.9h0M193.2 426.5h0M60.3 371.4h0M151 399.6h0M131.2 389.5h0M151.4 392.8h0M190 394h0M31.5 390.1h0M200.4 404.4h0M75.6 386.3h0M95.6 384.6h0M159.5 391.8h0M73.3 387.9h0M133 388.1h0M132.1 388h0M43.8 385.5h0M195.7 399.6h0M111.6 382.9h0M217.5 416.7h0M204.1 401.4h0M166.7 391.8h0M43 388h0M144.2 390.6h0M223.4 412h0M117.7 388.4h0M172.4 397.9h0M157.7 396.4h0M149.5 395.7h0M246 394.6h0M88.1 387.8h0M206.4 416.9h0M110 388.1h0M83.4 369.1h0M152 391h0M82.2 387.5h0M192.9 419.6h0M31 390.2h0M155.4 391.9h0M209.5 398.5h0M238.9 400.2h0M212.2 418.9h0M91.1 387.5h0M74.5 380.9h0M143.5 392h0M83.6 387.8h0M172.6 405.4h0M53.3 387h0M222 417.5h0M48.3 382.2h0M186.3 409h0M46.9 386h0M251.2 390.6h0M115.3 388.6h0M198.7 397.7h0M84 384.3h0M190.7 411.5h0M99.8 386.8h0M80.3 383h0M191.4 419.7h0M173.7 398.8h0M32.8 389.4h0M204.9 410.1h0M140.7 388.5h0M86.1 384.3h0M194.2 407.8h0M125.2 375.4h0M58.4 370.6h0M145.6 390.6h0M203.6 426.2h0M60 388.4h0M73.2 387h0M104.5 386.7h0M224 401.4h0M223.9 393.6h0M139.8 390h0M183.9 423h0M154 393.2h0M209.3 419.6h0M78.8 379.5h0M158 397.8h0M135.3 381.2h0M226.2 392.4h0M142.6 390.3h0M56.8 388.6h0M193.1 397.1h0M205.6 414.1h0M108.8 388.1h0M250.8 391h0M251.4 390.7h0M91.2 387.9h0M84.7 387.7h0M153.5 405.5h0M202.3 408.2h0M111.1 387.8h0M37.1 387.7h0M189.5 408.1h0M222.3 392.2h0M37.7 389.3h0M53.8 383.9h0M46.9 375.7h0M117.1 388.2h0M157.5 391.5h0M89.3 379.5h0M229.4 392.8h0M182.6 419.3h0M243.7 392.7h0M201.4 403.2h0M32.4 390.1h0M121.7 384.9h0M213.6 394.1h0M203.8 401.2h0M86.5 381.4h0M34.4 389.2h0M144.3 392.4h0M187.8 425.1h0M120.2 377h0M47 378h0M55.9 388h0M234.8 391.4h0M209.3 400.1h0M101.8 355.5h0M218.4 400.1h0M167 396.5h0M187 411.8h0M237.8 394.8h0M93.6 383.5h0M242.9 394.8h0M150.3 391.2h0M144.6 391.1h0M237.8 391.2h0M197.9 406.1h0M198.4 404.5h0M33.2 389.2h0M249 393.1h0M152.6 398.5h0M108.9 371h0M178.5 392.7h0M117.4 372.7h0M247.2 395.1h0M96.8 356.6h0M53.9 378.4h0M46.9 377.7h0M69.8 377.3h0M60.5 376.7h0M43.1 389.4h0M135.5 389.5h0M246.8 390.8h0M226.7 394h0M232.7 403.1h0M41.7 389.5h0M117.4 388.7h0M131.3 389.6h0M101.6 362.1h0M182.5 392.6h0M61.5 387.5h0M217.5 394.1h0M83.3 386.8h0M69.7 368.4h0M218.5 419h0M115.4 375.1h0M198 406.8h0M207.9 405.3h0M179.1 396.8h0M226 397.3h0M115.6 371h0M224.6 400.8h0M131.1 383.6h0M171.2 392.1h0M165.3 410h0M250.8 391.1h0M76.5 363.2h0M230.6 408h0M50.7 384.9h0M69.2 357h0M193.1 392.7h0M95.4 362.3h0M148.3 398.8h0M56.8 383.7h0M83.3 387.7h0M166.7 398.2h0M217.8 416.5h0M116.9 370.5h0M38.9 389.7h0M241.9 400.4h0M63 385.2h0M205.7 421h0M90.7 375.7h0M93.3 381.5h0M178.5 405.4h0M138 388.7h0M224.7 392.2h0M201.3 397.6h0M68.3 376.4h0M146.7 390.9h0M187.9 403.9h0M36.5 384.5h0M199.2 407.9h0M223.4 394.3h0M177.5 421.6h0M34.6 389.7h0M146.4 390.7h0M163.9 394.6h0M102.8 376.3h0M237.9 404h0M214.4 395.2h0M53.8 375.9h0M44.4 388.2h0M41.8 387.4h0M197 398.8h0M58.3 387.1h0M90.7 387.3h0M97.7 387.1h0M216.3 394.9h0M126.2 382.9h0M226.2 392.3h0M198.2 393h0M206.8 392.6h0M58.6 386.1h0M250.1 391.4h0M155.7 392.9h0M107.9 374.3h0M46.7 380h0M245.4 394.5h0M139.5 387.7h0M194.5 403.8h0M150.5 392h0M77.3 366h0M174.3 392.2h0M152.4 391.1h0M214.1 398.2h0M124.2 388.6h0M222.2 402.7h0M65.3 378.7h0M223.4 393.8h0M115.6 371h0M189.7 392.8h0M171.5 416.7h0M240.6 398.3h0M123.1 388.4h0M113.5 359.8h0M189.3 397.4h0M125.8 385.3h0M194.7 393.5h0M80.5 385.5h0M245.8 394.9h0M247.9 392.3h0M80.4 382.6h0M34.6 389.5h0M117.7 388.5h0M60.2 388.1h0M163.3 414.5h0M31.4 390h0M161.3 402.5h0M193 393.3h0M198.3 418.8h0M60.9 372.1h0M197.4 401.7h0M80 379.5h0M131.2 386.6h0M179.3 421.8h0M41.2 384h0M158.9 393.8h0M52.1 388.5h0M211.9 399.7h0M101 381.8h0M79.4 385.8h0M99.9 367.2h0M122.3 383h0M191.1 420.3h0M215.5 395.8h0M145.9 390.6h0M182.1 427.3h0M242 392.3h0M118.7 388.7h0M184.3 416.9h0M139.2 389.7h0M152.8 391.1h0M63.2 384h0M211.6 403.6h0M239.8 391.1h0M168.2 392h0M142.4 391.3h0M50.8 388.8h0M137.8 389.9h0M141.4 390.3h0M121.9 379h0M57 388.4h0M200.4 393h0M144.5 396h0M238.9 396.3h0M119.4 387.2h0M160.1 392.1h0M64.5 388.1h0M113.7 388.5h0M172.2 392.3h0M110 378.4h0M143.7 390.5h0M213.6 396.3h0M200.8 392.7h0M164.6 391.9h0M64.7 387.7h0M203.4 408.9h0M202.2 428.2h0M141.5 390.3h0M57.4 371.4h0M229.8 392.5h0M152.7 392.6h0M49.1 387.2h0M56.3 388.3h0M121.3 372.4h0M224.4 403.9h0M171.3 414.2h0M40.9 382h0M217.5 416.8h0M196.8 394.4h0M125.5 379.3h0M39.3 383h0M80 376.8h0M32.2 389.9h0M155.4 407.5h0M167.3 401.9h0M236.3 405.4h0M45.9 383.9h0M59.2 382.4h0M79 387.8h0M185.5 403.3h0M99.3 388h0M149.9 398.2h0M42.7 385.9h0M87.5 387.3h0M48 387.5h0M128.9 381.9h0M87.4 361.7h0M139 388.9h0M195.5 397.2h0M162.9 394.8h0M155.2 392.4h0M205 402.8h0M210.5 392.6h0M79.6 384.9h0M128.7 389.3h0M224.8 393.7h0M46.7 389.2h0M67.4 383.7h0M205.6 397.5h0M209.8 414.7h0M209.8 400.3h0M115.6 378.5h0M245.9 390.7h0M127.3 383.6h0M200.8 392.7h0M90.1 369.2h0M99.3 361.4h0M246.5 390.9h0M141.3 389.1h0M83.1 387.5h0M188.3 423.3h0M233.3 391.5h0M241.4 397.4h0M244.2 391h0M141.5 392.4h0M175.7 393.3h0M244.8 390.9h0M93.4 383.9h0M177.5 413.6h0M77.8 378.7h0M62.2 377.8h0M99.8 385.6h0M93.1 387.3h0M148.6 393.6h0M214.2 393.5h0M104.7 387.1h0M214.1 392.4h0M82.5 383.1h0M112.9 388.3h0M236.2 395.7h0M130.2 388.8h0M38.4 388.4h0M69.3 388h0M244.9 390.7h0M130.1 389.5h0M42 386.6h0M111 374.4h0M139.5 389.6h0M47.9 382.7h0M40 385h0M232.4 395.4h0M114 388.4h0M58.1 374.2h0M40.4 381h0M228.3 408.2h0M206.6 395.8h0M244.7 390.8h0M83.9 385.2h0M108.4 388.3h0M44.5 387.9h0M95.6 360.8h0M37.4 384.1h0M88.1 360.7h0M226.3 407.7h0M39.5 389.2h0M180.1 405.5h0M182.2 394.3h0M236.2 395.3h0M245.4 393.8h0M198.8 415.3h0M46.6 386.2h0M147.3 394.3h0M140.1 389.9h0M217.7 407.7h0M226.6 399h0M71.9 379.5h0M93.6 379.3h0M224.5 395.9h0M185.8 393.1h0M59.1 374.2h0M55 382.1h0M243 391.1h0M205.6 394.1h0M180.6 415.1h0M217.2 403.5h0M160.5 391.5h0M146.6 392.9h0M173.8 403h0M72.6 364.1h0M198.9 400h0M119.6 370.6h0M155.7 394.2h0M206.8 404h0M228.2 405.7h0M83.3 387.8h0M161.1 391.5h0M138.2 390h0M190.2 399.8h0M212.3 392.4h0M208.9 392.5h0M186.8 416.6h0M86 387.7h0M95.3 382.8h0M201.3 409.1h0M226.1 410.3h0M77.7 375.8h0M178.9 392.6h0M45 386h0M121.6 372h0M225 397.5h0M53.6 388.8h0M127.1 387.4h0M169.5 392.5h0M106.7 372.3h0M114.5 382.2h0M219.7 395.2h0M201.6 400.1h0M130.1 389.2h0M108.4 382.4h0M77.9 365h0M205.9 393.9h0M218.5 407.2h0M105.2 368.4h0M75.3 386.2h0M190.1 392.7h0M123.8 381h0M110.5 382.7h0M38.1 389.6h0M78.8 384.1h0M210.1 422.5h0M187.2 411.8h0M59.7 363.1h0M179.2 400.3h0M211.7 393h0M59.7 381.4h0M230.5 394.6h0M57.9 386.7h0M71.5 388h0M194.1 430.1h0M67 385.9h0M190.1 401.6h0M182.9 394.8h0M148.5 391.8h0M137.6 388h0M221 399.4h0M215.1 401h0M80 377.9h0M160.6 391.7h0M221.2 405h0M66.8 386.5h0M198.7 424.4h0M74.3 387.4h0M156.2 391.2h0M192.1 397.3h0M174.1 413.3h0M249.2 392.8h0M219.2 397.7h0M87.8 383.4h0M59.5 388.1h0M200.1 419.5h0M76.4 379h0M164.1 405.9h0M245.6 390.7h0M124.8 372.2h0M109.4 376.8h0M192.4 419.8h0M223.6 392.2h0M116.9 386.7h0M182.1 392.7h0M78.7 387.1h0M152.7 391.9h0M95.3 367.8h0M47.9 383.2h0M173.1 399h0M88.7 383h0M38.4 388.8h0M240.7 401.6h0M143.1 390.4h0M149.6 390.8h0M156.1 394.1h0M222.7 392.9h0M199.1 399.9h0M52.5 384.2h0M210.4 405.6h0M135.7 388.8h0M37.4 388.2h0M251.7 390.3h0M59.9 387.3h0M43.1 387.8h0M205.6 404h0M188 392.6h0M122.3 378.4h0M109.3 386.4h0M162.1 411.7h0M192.4 393.7h0M63.1 385.8h0M143.9 390.6h0M100.5 382.4h0M170.9 401.7h0M171.9 392.2h0M127.5 384.9h0M186 404.6h0M220.6 410.1h0M45.4 380.7h0M177.4 392.7h0M117.4 380.8h0M108.9 387.2h0M139.3 386.2h0M39.8 386.9h0M110.1 372.1h0M138 384.2h0M179 392.4h0M37.5 389.8h0M74.6 387.8h0M81.2 383.2h0M72.8 373.3h0M172.6 419.1h0M96.9 376.9h0M148.4 394.2h0M249 390.5h0M222.8 401.4h0M55.8 388h0M206.2 394.5h0M72.9 382.7h0M229.6 392.3h0M218.4 393.3h0M64.4 370.4h0M93.8 387.6h0M56.9 388.6h0M115.8 377.5h0M234.4 391.6h0M168.4 405.4h0M193 392.7h0M170.9 398.5h0M246.5 392.1h0M47.4 385.4h0M130 389.5h0M49.4 387.7h0M84.1 387.8h0M231 391.8h0M116.5 362.7h0M62.3 367.2h0M237.9 392.7h0M229.7 394.1h0M110.9 385.2h0M126.6 373.9h0M159.5 397.5h0M169.2 397.2h0M216.6 400.8h0M147.6 390.7h0M161.1 393.2h0M95 380.9h0M214.3 415.8h0M68.4 381.5h0M229.6 411.8h0M69.9 388h0M80.1 370h0M82.5 387.3h0M79.2 375.1h0M163.1 399h0M34.5 388.7h0M139.1 387h0M210.9 398.6h0M240.3 391.6h0M185.8 428.1h0M113.6 387.1h0M90.7 369.7h0M224.5 405.2h0M105.1 363.6h0M127.9 377.2h0M247 391.4h0M197 403h0M222.2 392.3h0M75.8 386.8h0M192.3 403.1h0M198.5 397.6h0M83.9 386.8h0M160.6 391.8h0M197.6 405.8h0M249.9 391.7h0M127.7 379.7h0M88.9 383.7h0M153.8 394.2h0M103.7 367h0M59.8 388.3h0M143.3 393.1h0M217.5 419.8h0M193.8 393.3h0M208 392.9h0M196.5 415.1h0M241 392.6h0M241.7 393.5h0M116.4 383h0M199.6 393.5h0M39.2 389.7h0M62.7 383.1h0M149 390.8h0M142.6 390.4h0M207.1 394.9h0M162.2 393.8h0M162.7 404.3h0M239.1 392h0M77.6 364.7h0M44 386.9h0M61.2 388.1h0M134.6 389.8h0M225.7 403h0M238 391.2h0M46.3 388.8h0M205.9 393.5h0M120.6 383.1h0M217.5 395.7h0M102.3 387.6h0M119.1 383.7h0M103.7 388.1h0M58.9 388.5h0M38.2 389.7h0M204.1 409.7h0M187.4 394.1h0M144.7 393h0M58.7 388.3h0M61.4 377.1h0M211.4 394.8h0M150 398.6h0M45.4 379.6h0M203.4 392.8h0M145.3 391.9h0M207.2 421.3h0M71.2 359.6h0M93.6 364.9h0M73 385.8h0M213.7 421.6h0M72.3 373.6h0M147.1 392.3h0M60.7 380h0M121.8 374h0M119.4 388.8h0M125.3 389.1h0M41 383.2h0M144.9 392.7h0M54.7 382.9h0M52.8 373.2h0M166.1 392.1h0M184.1 395.1h0M163.6 392.8h0M38.3 389.7h0M36.4 389.2h0M152.5 391.5h0M70.5 388h0M228.2 404.6h0M174.8 407.3h0M133.3 387.7h0M226.8 397.1h0M202 418.2h0M73.1 371.4h0M59.9 365.3h0M243.8 390.8h0M224.6 402.9h0M240.3 391.8h0M38.4 387.5h0M132.1 388.6h0M200.1 406.2h0M122.6 381.1h0M134.2 387.2h0M83.1 380h0M152.2 395.3h0M101 377.4h0M42.3 384.5h0M53.8 388.7h0M103.5 387.7h0M192.5 426.6h0M158.4 391.4h0M126.9 379.6h0M192.3 422.3h0M53.5 384.4h0M200.4 418h0M183.1 392.5h0M129.5 388.6h0M92.1 371.3h0M39.7 389.6h0M99.1 371.7h0M65.3 385.9h0M180 392.9h0M163.9 416h0M106.1 354.3h0M61.9 388.4h0M197.5 406.2h0M174.3 392.3h0M228.1 393.6h0M216.1 392.5h0M135.8 383.7h0M123.3 389h0M157.7 395.5h0M121.8 386.5h0M125.5 381.9h0M121.6 388.9h0M208.3 413.7h0M102.5 377.6h0M188.9 401.8h0M198.2 429.5h0M101.2 377.1h0M74.8 384.8h0M244.2 392.7h0M181.9 416.5h0M64.9 385.4h0M164.8 402.3h0M241.1 391.1h0M187.2 392.6h0M149.8 393h0M200.1 405.8h0M198.1 417.5h0M161.3 391.9h0M181.3 393.1h0M128 386.2h0M116.1 386.1h0M221.7 392.1h0M70.8 370.5h0M242.7 390.9h0M56.1 372.4h0M191.9 397h0M184.9 392.7h0M248.1 390.6h0M107.1 367.5h0M143.1 390.4h0M107.5 380.2h0M34.7 387h0M214.4 404.2h0M101.9 377.7h0M125.3 383.8h0M35.4 389.9h0M162.3 406.6h0M75 359.5h0M186.2 400.7h0M149.2 396.9h0M223 404.9h0M136.3 386.7h0M211.7 411.9h0M104.8 388.1h0M73.7 384h0M104.1 387.4h0M172.7 397.3h0M81.8 379.6h0M43.8 383.1h0M100.2 369.6h0M202.6 393.8h0M140 388.9h0M122.7 389h0M191.3 398.4h0M202.8 392.9h0M149.4 390.8h0M62.5 381.9h0M236.9 391.3h0M138.1 386.9h0M94.4 387.9h0M184.9 392.7h0M125 389.1h0M178.2 395.7h0M123.2 385.7h0M32.5 389.3h0M144.5 394h0M37 389.1h0M148.4 394.1h0M152.4 393.9h0M215.5 392.5h0M133.8 382.5h0M210.1 397.1h0M175.7 414.5h0M95.8 361.6h0M52.9 388.3h0M104.7 384.3h0M173.7 408.8h0M165.8 403.6h0M214.5 395.5h0M96.2 379.9h0M136 389.8h0M240.8 391.3h0M134.5 384.2h0M138.8 389.8h0M65.3 364.8h0M134.7 388h0M130.7 386.6h0M129.8 388.1h0M201.8 419h0M220.1 392.2h0M80.1 381.4h0M109.2 386h0M77.8 357.4h0M131.6 389.6h0M187.1 412.4h0M99 378h0M142.1 390.9h0M151.6 391h0M201.7 395.4h0M208.4 396h0M47.6 388.9h0M201.6 396.1h0M66.5 374.6h0M95.5 387.9h0M132.7 389.6h0M226.8 397.4h0M111.6 367.4h0M154.5 397.1h0M92 384.4h0M86.8 387.8h0M156.5 391.7h0M247.4 390.7h0M218.8 408.9h0M184.4 406.8h0M220.6 404.1h0M62.4 382.2h0M226.2 392h0M90.3 355.9h0M58.1 385.6h0M124.9 370.6h0M77.5 354.6h0M145.3 393.1h0M113.5 369.1h0M249.4 390.5h0M178 406.2h0M59.5 384h0M78.9 387h0M170.6 414.6h0M184.2 406h0M243.2 391h0M92.6 377.5h0M163.4 391.9h0M38 386.7h0M216 406.4h0M35.1 389.2h0M149.5 400.3h0M218.7 396.6h0M67.5 358.3h0M37.3 384.5h0M174.9 398.6h0M97.6 382.2h0M199.2 408.1h0M143.5 391.6h0M56.2 371.1h0M222.4 392.7h0M118.9 384.7h0M105.7 377.9h0M40 384.6h0M156.7 393.9h0M104.6 371.2h0M219.5 396.2h0M222.6 404.5h0M85.5 379.4h0M128.2 380.1h0M55.9 385.6h0M89.6 383.6h0M131.9 388.2h0M130.1 389.4h0M206.7 414.7h0M66.4 376.6h0M37.2 387.6h0M222.2 394.2h0M145.6 390.6h0M216.3 395.6h0M195.7 397.3h0M108.7 363.4h0M167.8 397.6h0M234.5 391.5h0M108.8 387.7h0M189.8 395.9h0M53.2 385.2h0M223.6 407.5h0M180.5 392.4h0M223.2 399.9h0M126.4 386.4h0M187.9 394h0M143.9 391.6h0M235.8 391.4h0M93.5 359.8h0M150.3 392.1h0M100.1 366.3h0M151.9 392.3h0M34 388.7h0M67.6 374.4h0M176.5 423.3h0M166.4 413.7h0M203 405.7h0M221.5 401.4h0M113.4 388.5h0M154.1 391.1h0M84.3 387.1h0M160.6 391.5h0M133.7 389.6h0M243.5 397.3h0M72.9 387.8h0M103.5 386.1h0M120.9 388.1h0M199.2 394.4h0M246.5 394.7h0M67.3 381.8h0M202 421.1h0M136.1 388.2h0M183.4 415.3h0M42.8 382.7h0M66.8 383.7h0M146.1 391.6h0M83.2 359.2h0M140 387.1h0M54 388.6h0M218.6 420.1h0M210.9 420.7h0M193.8 394.2h0M103.5 381.4h0M170.8 397.9h0M94.5 375.3h0M86.6 386.2h0M226.6 408.1h0M240 391.1h0M128.9 388.9h0M127 384.2h0M170.9 409.4h0M204.2 395h0M182.2 398h0M137.2 387.5h0M47.9 386.5h0M195.6 424.7h0M245.9 391.3h0M97.7 357.1h0M67.3 360.1h0M189.5 419.6h0M69.7 369h0M63.1 384.6h0M205.3 394.3h0M110 385.2h0M211.4 414.4h0M150.5 392.3h0M228.4 394.7h0M244.8 392.1h0M200 409.5h0M154.1 391.8h0M244.8 395.2h0M217.1 395.2h0M175 392.5h0M68.1 388.1h0M217.9 392.9h0M133.5 389.5h0M171.4 418.9h0M39.7 381.3h0M219.1 406.9h0M59.2 366.9h0M48.3 386.2h0M215.3 392.4h0M86.9 383.3h0M230 408.8h0M151.9 391h0M156.3 395.7h0M182.8 395.1h0M52.2 388.8h0M211.1 399.7h0M146.6 391.5h0M102 387.8h0M54.6 377.1h0M159.4 394.8h0M59.5 388.3h0M224.3 413.4h0M246.4 390.7h0M87.6 387.3h0M164.9 399.1h0M46.9 385.3h0M82.5 386.8h0M104.8 383h0M129.7 388.5h0M58.1 381h0M166.4 399.5h0M180.5 408.6h0M144.5 395.3h0M236.9 395.2h0M42.1 388.8h0M132.6 389.7h0M216.4 396.3h0M203.6 428h0M148.5 392.8h0M141.5 390.3h0M229.7 392h0M80.6 354.8h0M211.8 393.8h0M121.5 388.2h0M111 374.5h0M58.2 374.1h0M187.3 405.5h0M225.6 393.7h0M155.6 391.8h0M89.8 377.3h0M240.2 401.9h0M229.8 398.6h0M177.8 414.4h0M126.5 388.6h0M136.8 386.7h0M218.5 392.3h0M112.1 388.5h0M85 387.8h0M166.3 398.1h0M82.1 386.5h0M41.8 388.3h0M191.2 403.7h0M195.7 414.9h0M181.6 404.6h0M172.6 397.6h0M203.8 392.6h0M49.6 384.7h0M93.6 372.2h0M225 406.5h0M230.8 404.7h0M243.1 391.3h0M34.4 389.5h0M105.5 376.3h0M205.5 405.2h0M88.2 386.9h0M235.8 391.9h0M101.9 375.3h0M144.4 390.6h0M135.2 389.5h0M127 388.9h0M236.2 392.7h0M99.9 352.9h0M117.5 384.9h0M153.5 396.4h0M99.6 382.8h0M54 384.7h0M234.2 394.8h0M212.9 417.9h0M155.9 392.2h0M119.2 387.4h0M104.6 355.2h0M55.5 385.1h0M163.8 404.8h0M239.7 391.1h0M177.9 394.1h0M119 379.5h0M52.9 372.3h0M105.6 371h0M77 387.8h0M41 383.8h0M86.2 385.2h0M177 412.6h0M218.5 392.7h0M201.9 395.6h0M191.2 423.3h0M183.8 413.6h0M150.5 399.5h0M97.1 387.3h0M108 382.2h0M240.1 399h0M159 393.3h0M33.1 389.9h0M98 386h0M234.8 392.4h0M154.6 399.5h0M102.4 365.9h0M39.5 389.6h0M53.2 387.1h0M203.8 392.9h0M235 391.6h0M131 387.5h0M168.6 391.9h0M54 372.9h0M186.3 397.6h0M242.5 394.9h0M166.5 408.4h0M196.5 394.8h0M171.7 404.7h0M210.1 412.6h0M219.3 415.8h0M167.2 417.7h0M32.1 390.1h0M191.2 392.9h0M241 391h0M184 398.8h0M106.5 386.9h0M38 387.2h0M182.6 392.8h0M99.5 386h0M33.4 388.5h0M175.2 392.5h0M115 361.7h0M83.2 376.4h0M174.5 394.9h0M168.8 405.8h0M233.1 391.5h0M136.4 389.9h0M241 395.7h0M91.3 362.2h0M154.7 395.6h0M227.4 393.2h0M187.6 412.3h0M171.5 392.2h0M99.4 387.4h0M146.8 393.5h0M82 384.8h0M34.8 387.4h0M131.5 388.1h0M207.2 408h0M82.8 377.1h0M217.6 393.7h0M82.4 387.4h0M124.9 375.9h0M156.3 391.3h0M119.7 386.9h0M127.1 389.3h0M156.7 392.5h0M62.7 376.6h0M34.6 386.9h0M42.1 388.9h0M99.3 381.4h0M125.1 372.4h0M194.3 424h0M87.5 370.1h0M43.2 389.4h0M46.1 389.2h0M231.4 393.2h0M244 390.9h0M228.2 399.8h0M230.5 405.3h0M64.6 371.6h0M142.5 391.6h0M96.3 381.4h0M198.5 405.6h0M148.4 392.1h0M105.3 368.7h0M77.3 370.4h0M161.5 393.4h0M129.2 388.7h0M173.6 418.9h0M124 373.7h0M155.2 395.1h0M82.2 372.7h0M62.4 388h0M201.9 401.5h0M124.1 377.7h0M240.2 391.1h0M190.2 409.1h0M144.5 392.4h0M58.5 378.5h0M122.9 387h0M156.5 405.9h0M162.6 394.7h0M175.4 419.3h0M40.8 389.6h0M97.6 381.4h0M82.5 373.8h0M110.8 373h0M199 424h0M165 393.5h0M84.9 383.4h0M177.4 413.8h0M68.5 380.5h0M176.7 399.2h0M150.7 390.9h0M40 385.3h0M230.9 402.1h0M125.8 387.5h0M112.8 388.5h0M45.3 385.9h0M57.6 376h0M251.2 390.6h0M198.2 399.2h0M207.6 400.8h0M166.5 415.3h0M238.5 391.2h0M33.6 390h0M215.1 416.3h0M210.6 404h0M235.2 393.9h0M47.6 386h0M35.1 388h0M90.7 370.3h0M141 388.6h0M197.2 410.2h0M161.6 413.4h0M166.3 398.6h0M136.6 388.4h0M144.2 390.5h0M117.1 388.7h0M75 380.1h0M108.7 386.7h0M63 376.6h0M48.9 386.1h0M214.3 413.7h0M250.5 391.6h0M163.4 391.9h0M114.3 386.5h0M232.3 401.5h0M174.9 397.8h0M187.6 406.4h0M79.5 383.9h0M213.6 393.7h0M191.4 393.1h0M213.5 420.9h0M165 397h0M67.2 387.5h0M84.6 379.9h0M246.3 393.3h0M142.7 392.5h0M191.1 406.1h0M151.5 394.3h0M129 389.4h0M64.1 385.6h0M81.4 385.4h0M175.1 403.2h0M224.1 410.5h0M227.6 397.4h0M160.6 401.5h0M139.6 390.1h0M114.4 386h0M51.8 372.7h0M55.2 384.5h0M234.9 391.5h0M190.1 396.3h0M168 396.7h0M38.3 387h0M145.5 392.8h0M95.6 357.1h0M55.7 386.6h0M188.7 392.6h0M61.3 381.8h0M75.3 383.9h0M62.8 376.6h0M179.8 398.5h0M30.9 390.2h0M173.3 392.2h0M235.6 398.5h0M206.7 418.4h0M43.2 383.1h0M109.3 379.9h0M117.6 381.7h0M171.8 393.6h0M121.4 388.3h0M133.1 388.3h0M227.7 391.8h0M185.1 394.9h0M43 389.4h0M243.1 391.2h0M241.7 394h0M211.5 402.5h0M84 370.5h0M105.3 383h0M68.6 369.1h0M141 388.1h0M92.3 368.9h0M171.6 397.2h0M86.3 380h0M179.3 392.4h0M245.5 393.1h0M95.1 383.8h0M168.6 417.8h0M87.2 380.1h0M178.4 392.9h0M78.1 383.7h0M83.6 385.4h0M155.8 396.1h0M81.9 372.9h0M96.3 380.2h0M90.3 376.7h0M137.9 389.7h0M193.5 392.8h0M233.4 400.1h0M130.7 384.8h0M164.9 392.1h0M166.3 392h0M100.3 382.2h0M80.6 352.9h0M121.7 388.8h0M142.7 394.1h0M211.2 392.5h0M67.5 380.2h0M58.6 379.5h0M52.3 377.3h0M137.3 386.6h0M193.6 393.1h0M74.9 357.9h0M217.7 395.1h0M116.8 388.1h0M134.1 388h0M62.4 388h0M156.2 392.5h0M243.1 396.6h0M173.7 394.3h0M186.7 393.3h0M203.9 418.7h0M128.5 387.9h0M73.3 388h0M35.4 389.9h0M32.9 389.3h0M131.8 389.2h0M42.4 386.8h0M214.7 396.2h0M178.8 401.9h0M88.8 387h0M78.8 387.7h0M156.6 392.4h0M124 381.5h0M196.8 419.5h0M210.2 421h0M141.4 390.6h0M142.9 390.4h0M109 368.2h0M100 386.1h0M245.9 394.4h0M73.7 388h0M195.8 411.8h0M49.9 388.4h0M37.6 389.6h0M75 377h0M124.2 386.5h0M133.1 387.6h0M170.3 401.2h0M128.6 384h0M62.3 376.2h0M239.7 393.8h0M60.1 365.8h0M168.5 407h0M90 372.1h0M150.9 391.3h0M82.3 361.9h0M201 415.3h0M149.2 392.2h0M225.8 391.9h0M114.1 373.8h0M157.3 391.6h0M167.8 391.9h0M56.3 367h0M239.5 392.5h0M241 392.8h0M219.5 396.5h0M72.7 380.1h0M58.6 388.3h0M207.5 392.7h0M194.9 392.7h0M151.1 403.2h0M125.4 370.9h0M78.9 360.2h0M52.5 382.5h0M55.6 388.2h0M110.5 375.9h0M214 393.5h0M127 378.1h0M106 384h0M45.6 386h0M59.2 383.6h0M71.4 384.9h0M177.2 393.6h0M78.4 387.4h0M132.7 388.3h0M149.8 390.8h0M65.8 363.2h0M166.4 392h0M237.6 402.3h0M211.9 412.6h0M53.3 374.9h0M100.7 388h0M207.3 393.3h0M241.5 391.9h0M116.5 388.6h0M124 380.9h0M59 387.6h0M77.8 384.5h0M44 386.6h0M178.7 397.1h0M144.4 394h0M48.6 373.8h0M50.9 372.6h0M248.8 392.9h0M156.5 392.1h0M211.7 409.8h0M117.1 388.6h0M171.3 411.5h0M191.7 400.5h0M251.9 390.4h0M135.2 384.8h0M131.7 383.6h0M142.8 392.3h0M76.3 365.1h0M53.5 372h0M66.3 386.1h0M43.2 388h0M48 388.9h0M136.9 389.8h0M179.5 407.9h0M42.6 387.5h0M241.9 390.9h0M155.8 399.3h0M99.9 375.6h0M112.9 387.8h0M63.1 388.3h0M111.9 381.7h0M204.6 395.1h0M192.3 396.7h0M147.2 391.8h0M36.1 386.8h0M94 375.1h0M58.3 387.7h0M138.6 387.8h0M181.4 392.5h0M110.4 379.8h0M128.8 385.6h0M82 387.8h0M67 362.4h0M105 384.6h0M246.6 391.8h0M125.4 378.9h0M214.2 399.1h0M114 374h0M130 380.2h0M166.3 393.8h0M154.9 397.7h0M199.5 395.1h0M209.6 422.4h0M81.8 383.2h0M33.9 389.8h0M199.4 392.8h0M70.3 385.1h0M64.1 388.2h0M225.6 395.2h0M219.2 395.4h0M167.5 396.6h0M117.4 373.7h0M232.6 395.2h0M94.2 379h0M51.9 388.9h0M99.6 388h0M42 386.7h0M203.3 394.9h0M79.1 382.2h0M63.2 364.2h0M193 411.5h0M118 375.8h0M172.2 399.6h0M55.2 376h0M32.7 390.1h0M74.4 377h0M116.7 387.4h0M45.5 385.4h0M210 413.3h0M75.1 387.9h0M63.2 383.7h0M94 358.5h0M134.3 382.6h0M162.6 391.6h0M136.6 384.2h0M139.7 389.7h0M54.5 388.7h0M227.1 412.1h0M86.6 386.1h0M246.9 390.7h0M145.2 390.7h0M66.5 388.2h0M159.6 391.9h0M143.9 391.7h0M53.2 386.5h0M206.8 400.6h0M175.5 403.7h0M103.1 386.4h0M205.2 414.3h0M219.4 411.8h0M220.6 396.5h0M106.9 383.7h0M131.1 389h0M116.7 374.5h0M239.1 400.6h0M39.8 386.2h0M153.7 403.6h0M97.8 365.6h0M64.7 370.4h0M143.1 391.9h0M131.8 386.1h0M241.9 392.6h0M60.8 379.5h0M158.5 395.3h0M137.8 387h0M178.7 392.5h0M134.2 383.3h0M49.6 383.5h0M225 395.7h0M157.6 393h0M92.7 387.7h0M76.2 385.8h0M71.5 384.3h0M130.2 389.4h0M183.4 403.9h0M232.3 393.2h0M199.3 398.4h0M230.2 391.7h0M81.4 364.4h0M235.8 394.6h0M45.3 378.3h0M242.6 397.3h0M72 384h0M37.8 386.4h0M81 382.8h0M90.7 378.3h0M55.8 382.8h0M155.2 403h0M120.1 365.6h0M31.1 390h0M75.6 361.8h0M94.8 386.5h0M99.5 387.9h0M216.8 392.3h0M129.8 386.4h0M212.7 393.1h0M60.1 382.2h0M78.8 362.9h0M151.5 394.7h0M193.5 392.7h0M206.2 405.7h0M182.6 398.7h0M182.8 424.8h0M141.9 390.8h0M246.9 391.2h0M153.3 391.1h0M178.6 397.4h0M49 378.7h0M128.9 378.8h0M241.9 391h0M245.9 394h0M79.9 377.9h0M151.8 391h0M233.8 403.6h0M47 382.2h0M52.9 381.9h0M120.5 388.8h0M94 387.9h0M238.9 392.6h0M79.4 357.1h0M34.9 386.7h0M95.2 387.9h0M141 387.8h0M214 395.8h0M96.7 379h0M180.8 404h0M177.8 394.9h0M69.4 387.9h0M76 383h0M106.6 385.4h0M116.4 363h0M110.2 381h0M147.8 390.7h0M157 395.3h0M41.8 383.4h0M174.8 398.1h0M224.8 414.1h0M104 388h0M94.4 368.9h0M218.2 393h0M38.6 388.8h0M134.1 387.1h0M220.6 414.9h0M122.7 388.9h0M97.8 380.1h0M48.8 387.5h0M114.6 388.1h0M137.5 389.6h0M76.7 384.4h0M53.5 387.8h0M181.8 397.6h0M218.7 394.4h0M222.8 392.2h0M228.9 391.8h0M195.1 394.4h0M76.9 366.9h0M100.3 374.5h0M121.7 386.7h0M188.9 420.4h0M116.9 376.7h0M219.3 395.8h0M158.1 394.6h0M225.1 392.8h0M63.1 379h0M204.2 427.1h0M97.2 353.5h0M94 361.8h0M54.6 388.2h0M36.4 388.9h0M145.2 390.7h0M209.2 393.8h0M205.7 421.2h0M60.6 384.9h0M172.1 392.1h0M94.1 385.5h0M64.4 386h0M46 388.6h0M33.3 389.8h0M87.7 383.5h0M223.2 396.7h0M108.6 364.9h0M177.8 392.4h0M169.3 410.2h0M140.2 387.3h0M51.9 388.8h0M192.9 426.3h0M76 384.6h0M176 416.9h0M79.9 382.6h0M196.7 397.6h0M125.2 389h0M227 413.5h0M93.4 381.4h0M175.1 403.6h0M216.6 394.4h0M158.4 397.1h0M62.2 372.4h0M233.1 397.6h0M158.3 404.5h0M81.1 364h0M181.9 423.9h0M225.5 410.5h0M156.2 392.1h0M180 409.1h0M154.5 401.2h0M137.9 386.4h0M163.1 392h0M154.6 392.1h0M99.3 375h0M32.4 389.3h0M99.7 374.1h0M138.7 388.9h0M103.7 378.2h0M58.4 384h0M113.6 362.9h0M234.5 405h0M149.7 400.6h0M228.8 391.8h0M250.3 390.8h0M187.5 400.3h0M96.2 375.5h0M76.2 363.6h0M229.9 392h0M58.1 372.9h0M251.8 390.4h0M152.8 391h0M135.3 388.4h0M143 393.2h0M166.2 392.3h0M220.8 397.6h0M48.9 389.1h0M113.1 387.1h0M164.7 412.3h0M225.2 393.8h0M119.8 365.9h0M224.9 414.2h0M222.3 392.6h0M60.5 380.3h0M156.4 407.9h0M48.4 387.7h0M234.3 392.2h0M239 393.4h0M160.5 391.5h0M121.2 386.5h0M58.9 374.1h0M184.6 392.6h0M105.6 381.6h0M70.3 377.8h0M63.1 372.3h0M243.1 394.5h0M223.1 400.7h0M173.1 412.6h0M179.1 393h0M136.7 389.9h0M124.1 383.8h0M74.1 356.2h0M68.4 387.1h0M178.7 397.3h0M191.1 394.1h0M216.5 407.7h0M136.4 389.2h0M137.6 384.5h0M68.8 378.3h0M50.8 388.2h0M155.1 405.2h0M219.3 392.6h0M109.5 382.3h0M79.1 365.7h0M169.2 410.1h0M207.2 393.5h0M109.5 375.1h0M149.3 392.7h0M249.3 391.4h0M96.8 352.5h0M238.8 391.2h0M108.2 382.8h0M251.5 390.3h0M180.6 407.3h0M129.2 378.1h0M42.1 389.2h0M156.3 404.7h0M102.4 385.4h0M161.9 391.6h0M166.8 406.4h0M141.5 391.1h0M203.2 428.2h0M54.7 380.9h0M48.9 388.8h0M98.4 387.6h0M117.8 388.4h0M205.5 392.6h0M176.6 415.9h0M146.8 397h0M198.9 392.7h0M102 387.6h0M33.9 388.8h0M157.3 391.8h0M75.7 365.1h0M119.1 388.6h0M91.9 383.4h0M55.4 388h0M38.4 389.4h0M83.2 383h0M139.6 387.8h0M165.9 393.4h0M233.4 395.9h0M183.1 421.7h0M142 391.1h0M233 391.9h0M36.1 389.9h0M92.4 363.4h0M184.5 395.9h0M60.1 374.3h0M33.1 389.8h0M152.2 391.1h0M110.7 388.1h0M94 384h0M234.2 391.5h0M184.9 404.8h0M174.8 393.8h0M123.8 382.1h0M78.2 363.5h0M37 385.6h0M249.1 390.5h0M176.1 398.5h0M186.2 423.6h0M63.3 369.2h0M156.3 395.1h0M240.7 394.9h0M31 390.2h0M138.4 388.5h0M179 423.6h0M140.4 388.8h0M153.1 391.4h0M226.9 404.5h0M140.2 390.2h0M160.6 395.7h0M143.9 392h0M59 383.1h0M208.9 393.7h0M250.2 390.4h0M244.8 391h0M240.5 396.5h0M209.1 422h0M115.7 387.9h0M36.6 386.1h0M243.4 393.2h0M202.2 426.3h0M69.4 356.9h0M110.1 387.3h0M251.1 390.8h0M214.2 415.5h0M90 385.8h0M224.3 393.3h0M80.8 374.6h0M188.6 418.7h0M223 398.8h0M90.7 366.3h0M118.6 379.2h0M93.8 375.9h0M81.5 387.4h0M77.2 371.6h0M213.7 396.6h0M84.1 354.2h0M178.8 392.5h0M166.3 400.7h0M137.7 386.5h0M224.6 399h0M60.2 367.2h0M149.2 401.3h0M227.3 391.9h0M236.6 400h0M101.5 378.4h0M221.9 397.3h0M168.5 396.4h0M90.5 351.8h0M60 381.2h0M172.8 410h0M141.8 391.4h0M110.7 381.5h0M228.9 393.9h0M110.4 388.3h0M113.7 385.4h0M87.8 386.6h0M68.8 381h0M236.5 393.4h0M152 401.6h0M42.1 385.7h0M214.6 393.5h0M205.4 392.6h0M43.1 387.1h0M207.1 394.5h0M56.6 367.4h0M182.8 393.1h0M225.1 402.7h0M31 390h0M98.2 387.3h0M65.7 382.7h0M174 394.5h0M189.7 419.5h0M238.7 395.4h0M39.8 389.5h0M204.4 393.2h0M176.9 393.6h0M202.1 401h0M98.3 377.5h0M144.7 390.5h0M67.2 362.8h0M218.3 392.5h0M128.7 383.9h0M183.6 402.8h0M66.3 358.7h0M214.2 392.5h0M43.4 386.1h0M92.6 363.2h0M140 389.8h0M57.2 381.5h0M207.3 398.5h0M250.5 390.4h0M122.6 385.1h0M106.2 387h0M79.5 384h0M143.6 391.5h0M73.1 387.1h0M238.3 399.6h0M201.8 400.9h0M240.6 396h0M75.2 364.7h0M216.6 394.6h0M250.3 390.4h0M130 386.3h0M211.8 416.5h0M197.3 407.7h0M67.8 358h0M116.7 374.1h0M249.9 391.7h0M249.1 392.2h0M250.2 390.5h0M211.7 397h0M136.9 385.8h0M230 400.8h0M58.9 374.7h0M113.8 388.5h0M157.7 397.3h0M52.4 381.4h0M170.7 392.8h0M198.8 392.7h0M205.1 422.2h0M233.5 391.5h0M247.9 391.1h0M107.8 372.7h0M176 394.3h0M162.1 394.3h0M69.6 366.4h0M147.4 391.4h0M218.7 394.6h0M61 363.5h0M123.5 380h0M106.3 369h0M34.7 388.4h0M86.7 380.5h0M118.3 387.9h0M102.4 368.7h0M133.9 389.2h0M105.4 381.4h0M54.2 384.1h0M228.2 392.4h0M191 399.8h0M57.5 386.9h0M136.9 386.4h0M50.9 386.7h0M177.3 393.8h0M157.7 391.6h0M105.1 385.2h0M122.9 388.4h0M101.8 378.3h0M55.2 383h0M92.6 387.2h0M115.2 388.6h0M187.1 394h0M190.9 423.3h0M33.6 389.6h0M131.5 388.7h0M93.9 360.3h0M251.9 390.3h0M185.3 400.4h0M241.8 395.8h0M165.3 407.5h0M95.4 387.2h0M104.9 388h0M240.7 400.1h0M232.3 402.3h0M179.4 398.5h0M202.2 403.7h0M134.3 389.8h0M221.7 394.9h0M227 398.8h0M199.1 401.2h0M225.8 392h0M209.7 394.1h0M125.3 386h0M59.8 380.7h0M232 391.6h0M117.1 363.2h0M108.2 388.3h0M243.8 391h0M146 390.6h0M176.1 396.6h0M224 403.4h0M242.1 395.2h0M83.8 387.1h0M163.6 393.2h0M45.8 383.5h0M124.7 389.1h0M55.8 388.4h0M234.7 392h0M197 414.7h0M250.1 391.4h0M202.7 415.4h0M228.1 392h0M220.8 399.2h0M67.1 386.8h0M195.4 393.5h0M60.8 387h0M212 396.1h0M138.7 390h0M227.9 403.8h0M142.4 390.5h0M52.9 387.4h0M146.8 397.9h0M43.6 389.4h0M251.2 390.5h0M35.9 388.7h0M246.7 392.2h0M205.9 396.8h0M77.3 386.1h0M151.8 394.3h0M66.1 388.2h0M102.3 352.6h0M145.4 392h0M185.1 427.5h0M57.9 388.4h0M214.8 402.5h0M30.6 390.2h0M161.8 412.7h0M214.7 402.3h0M211.1 422.3h0M206.9 399.1h0M101 379.7h0M60.2 387h0M120.8 368.7h0M84.4 379h0M142.1 390.3h0M72.8 387.5h0M64.8 375h0M59.2 387.3h0M226.8 391.8h0M67.2 382.3h0M148.8 392.1h0M208.8 395.7h0M230.8 392.4h0M80.2 383h0M93.8 375.7h0M240.8 396.3h0M168.4 396.3h0M137.9 387.5h0M225.2 398h0M227.3 392.2h0M134.3 389.7h0M62.7 384.9h0M83.1 381.4h0M94.3 382.1h0M152.2 393h0M137 389.4h0M103.4 370.1h0M52.9 377.8h0M112.5 372.8h0M235.2 405.1h0M126.5 383.1h0M187.1 393h0M136.7 389h0M178 392.4h0M98.2 365.2h0M215.4 393.7h0M102.9 388h0M134.6 380.8h0M38.2 389.7h0M174.5 407h0M179.5 404.3h0M56.5 387.5h0M67.5 387.2h0M219.2 400.5h0M53.3 385.8h0M170.5 392.7h0M41.1 389.5h0M48.2 387.4h0M248 391.3h0M85 387.2h0M72.7 384.9h0M143.4 394.3h0M41.4 389.4h0M66.9 382h0M118.4 386.1h0M157.3 391.7h0M111.1 373.6h0M236.3 391.5h0M152.5 400.3h0M207.7 412.5h0M69.2 387.9h0M229.8 401.3h0M77 382.6h0M94 386.6h0M136.6 387.8h0M252 390.3h0M209.2 392.6h0M167.2 418h0M51.7 381.9h0M166 395.5h0M140.3 389h0M235.8 404.6h0M56.3 380.9h0M120.6 377.6h0M41.2 389.4h0M62.1 386.6h0M109.8 387.8h0M174.1 403.3h0M152.6 391.2h0M148.2 395.3h0M140.2 387.6h0M159.6 397.8h0M143.2 391.9h0M36.6 386.3h0M50.3 375h0M135.3 389.8h0M199.8 406h0M165.7 395.2h0M37.1 388.3h0M229.1 392.3h0M77.4 354.5h0M177.3 414.8h0M38.7 389.7h0M144 391.7h0M72.2 356.8h0M91.2 350h0M109.1 383.5h0M201.2 406h0M163.4 397.8h0M116.4 387.2h0M158.8 393.7h0M251 390.3h0M79.9 387.9h0M227.9 411.5h0M123.7 385.3h0M250.9 390.9h0M174.3 392.8h0M97.2 387.4h0M193.8 394.5h0M143.9 395.5h0M227.5 393.7h0M126.2 388.9h0M206.3 406.5h0M145.9 396.1h0M96.8 369.6h0M56.8 387.4h0M50.5 388.1h0M126.6 389.2h0M251.1 390.3h0M247.8 390.6h0M180.6 392.4h0M167.5 398.5h0M144 392.7h0M78.7 374.5h0M117.8 385.2h0M216.3 404.4h0M87.9 380.3h0M142.4 390.9h0M111.4 385.6h0M134.6 388.3h0M148.9 391.2h0M182.9 409.2h0M110.3 384.3h0M224 399h0M47.9 378.2h0M60.3 388.2h0M51.4 384.8h0M132.7 382.3h0M59.5 388.4h0M220.8 396.8h0M134.6 381.6h0M211.9 418.8h0M104.5 371.5h0M52.8 384.2h0M235.2 394.4h0M61 388h0M124.7 375.7h0M179.6 417.4h0M76.2 385.3h0M151.4 391.4h0M202.9 394.3h0M124.2 381h0M187.9 400.5h0M192.4 397.5h0M64.8 384.7h0M110.2 361.6h0M173.9 392.2h0M228.3 395.4h0M38.9 382h0M31.4 389.8h0M231.6 391.6h0M158.2 397.5h0M87.6 368.9h0M129 378.6h0M219.4 392.8h0M113 388h0M101.8 380.4h0M135.2 389h0M164.2 392.5h0M252 390.3h0M98.2 369.4h0M217.1 407h0M125.8 388.7h0M201.8 416.2h0M127.4 389.3h0M84.1 367.6h0M152.1 392.6h0M139.2 388.2h0M41 388.4h0M203.5 425.4h0M211.5 404.5h0M146.9 391.5h0M249.5 390.7h0M181.8 417.9h0M224.3 392.7h0M142 390.8h0M156.2 391.8h0M138.9 390h0M179.3 405.6h0M98.6 383.2h0M154.4 392.7h0M191.9 392.7h0M119.3 388.7h0M222.8 407.2h0M195.7 392.7h0M109.6 386.6h0M179.1 407.6h0M148.3 392.1h0M100.5 354h0M108.6 373.5h0M133.5 381.5h0M54.8 388.3h0M83.2 381.7h0M98.2 382.4h0M158.6 408.3h0M181.5 392.4h0M115.4 387.4h0M125.2 389.2h0M162.4 396.5h0M160.3 410.2h0M113.4 383.9h0M140.3 390.1h0M89.3 383.2h0M197.9 426.3h0M251.3 390.9h0M32.8 390.1h0M175.8 397h0M231.2 410h0M66.6 388.2h0M181.3 404.1h0M223.4 402.2h0M246.5 395.2h0M154.9 404.3h0M201.4 392.6h0M218.9 405.8h0M180.6 417.3h0M181.5 392.9h0M241.1 391.1h0M157.5 394.9h0M102 352.7h0M47.7 374.4h0M250.2 390.4h0M64.7 368.2h0M118.6 388.4h0M249.8 392.3h0M165 391.9h0M131.9 383.8h0M151.9 399.6h0M126.4 388.1h0M94.6 385.5h0M232.7 406.7h0M167.3 402h0M113.4 380.5h0M182.3 401.2h0M113.4 388.5h0M145.3 397h0M231.1 397.7h0M120.2 373.1h0M166.4 418.3h0M242.3 399.1h0M117.6 388h0M81.4 387.8h0M41.3 386.8h0M175.6 414.4h0M149.5 391.8h0M222.8 408.2h0M185 393.5h0M215.1 392.5h0M201.8 405.9h0M197.2 393.3h0M121.3 381h0M133 381.2h0M142.8 390.4h0M88.8 384.2h0M163 391.9h0M149.2 396.5h0M71 367.3h0M93.1 369.1h0M47.6 378.5h0M190.8 403.6h0M206.4 392.6h0M202.7 419.4h0M183.4 414.9h0M220.5 406.3h0M167 391.9h0M104.4 386.9h0M246.7 394.6h0M201.7 393.9h0M184.7 402.8h0M88.1 387.8h0M42.2 382.9h0M180.8 404.7h0M110.8 372.9h0M66.9 388.2h0M56.6 366.1h0M200.6 393.1h0M211.1 400.2h0M110.7 374.9h0M82.1 384.5h0M240.6 391.4h0M103.4 383.3h0M124.1 385.4h0M200.9 395.7h0M74.1 374.5h0M124.1 386.1h0M177.5 396.6h0M72.8 387.9h0M238.6 391.3h0M180 402.7h0M196.5 402.8h0M163 395.4h0M85.2 387.4h0M152 399.2h0M47.8 382h0M146.3 391.5h0M164.2 394.3h0M88.3 350.4h0M84.3 364.7h0M55.6 376.6h0M134.2 384.1h0M169.8 393.5h0M136.7 384h0M78.2 360.3h0M106 363.9h0M209.4 393.4h0M86.6 350.9h0M54 380.4h0M74.5 376h0M69 364.9h0M195.2 393.7h0M182.1 418.5h0M57.3 376.2h0M31.7 390h0M128.1 379.1h0M168.6 404.7h0M146.2 394.7h0M215.3 393.8h0M159.2 393.4h0M252 390.3h0M242.4 391.3h0M185.7 392.9h0M183.7 415h0M235.1 391.6h0M50.4 389h0M74.4 387.6h0M47.9 375.6h0M59 388.4h0M119 388.6h0M184 392.5h0M226.8 391.8h0M251.5 390.5h0M47.4 389.1h0M162.2 391.6h0M168.9 409.4h0M193.8 411.3h0M192.3 401.1h0M54.9 371.3h0M46.6 385h0M80.1 387.6h0M138.1 390h0M51 386.2h0M137.7 386.3h0M139.7 389.3h0M112.1 359.5h0M122.3 369.4h0M244.1 395.8h0M166.9 394.8h0M82.8 377.1h0M178 400.6h0M221.8 398.9h0M125.1 378.5h0M163.7 404.8h0M101.5 387.7h0M223 393.1h0M180.2 392.8h0M202.1 400.7h0M111.6 373.4h0M138.1 390h0M62.9 388.1h0M149.9 395.7h0M73.1 384.7h0M73.8 384.8h0M37.1 385.4h0M120.3 383.1h0M142 390.9h0M58.2 366.5h0M234.1 392.3h0M219 393h0M54.7 369.9h0M186.6 395.9h0M130.2 380.7h0M185.3 429.5h0M182.5 401.1h0M233.3 392.3h0M166.6 392.3h0M79.3 387.9h0M157 398.1h0M151.3 398.4h0M145.5 390.5h0M183.8 401.6h0M244.6 393h0M251.6 390.5h0M68.5 376.3h0M195.5 412.2h0M67.9 380.4h0M107 388.1h0M34.3 386.7h0M54.9 374.6h0M123.1 383.8h0M215.5 393.5h0M185.6 416.6h0M164.7 392.5h0M220.2 409.8h0M170.2 395.2h0M117.6 384.6h0M121.7 383.1h0M89.5 387.8h0M212.2 401.2h0M107 382.3h0M110.5 382.4h0M152.1 392.2h0M41.3 389.1h0M225.7 396.2h0M170 418.8h0M65.9 388.2h0M124.3 374.2h0M67.3 381.9h0M106.3 387.3h0M62.4 388.1h0M48.9 381.8h0M216.4 394h0M189.8 405.2h0M216.7 413.3h0M57.2 367.3h0M163.8 391.9h0M163.7 392.8h0M137.3 386.5h0M173.7 399.9h0M129.3 389.2h0M91.4 357.3h0M62 384.6h0M32.7 390h0M231.6 394.9h0M151.7 393.1h0M227 398.2h0M179.3 392.4h0M84.4 364.4h0M149.2 391h0M92.7 354.3h0M233.9 407.5h0M181.4 416.1h0M93 381.8h0M108.3 387.4h0M251.6 390.5h0M158.5 399.8h0M213.8 406.9h0M217.5 394.9h0M94.5 367.4h0M76.2 387.3h0M200.8 393h0M162.3 407.4h0M133.1 389.7h0M39.6 384.9h0M48.3 389h0M244.2 391.3h0M71.4 361.7h0M101.2 361.1h0M244.4 397.2h0M137.2 388.9h0M105.8 356h0M218.9 403.5h0M220.5 392.3h0M86.3 363.7h0M145.5 390.5h0M156.3 391.5h0M63.2 388.3h0M54.9 388.7h0M91.7 387.8h0M178.3 402h0M133.4 389.7h0M74.7 357.3h0M214.7 406.8h0M126.6 386.3h0M101.9 385.3h0M225.8 407.6h0M167.6 397h0M68.7 375.5h0M30.8 390.2h0M210.1 404.6h0M124.3 381.9h0M136 382.2h0M163.3 391.9h0M179.4 400.9h0M188 396h0M59.8 382.4h0M141.6 392.1h0M74 362.3h0M30.9 390.2h0M134.8 389h0M200.4 392.7h0M110.7 369.3h0M75.7 381.5h0M60.6 382.6h0M246.7 394.1h0M224.1 395.2h0M79.6 368.5h0M42.5 387.9h0M152.1 391.4h0M232.9 393.8h0M195.4 415.8h0M74.8 379.1h0M63.3 385.6h0M57.7 383.4h0M191.6 393.3h0M113.8 360.1h0M185.3 392.8h0M114.6 388.5h0M169.1 395.2h0M205.4 392.6h0M230.3 394.6h0M231.8 393.8h0M108.3 377.8h0M119.7 374.1h0M145.9 391.3h0M239.4 399.9h0M68.9 376.5h0M204.4 392.6h0M249.4 390.6h0M222 392.1h0M193.8 424.3h0M172.4 413.6h0M187.9 411.4h0M55.6 386.2h0M146 390.6h0M60 388.3h0M97.9 361.5h0M140.2 389.4h0M185.4 393.2h0M112.8 360.8h0M231.5 397.6h0M102.4 373.3h0M77.5 353.9h0M74 387.9h0M76.8 364.1h0M68.3 388h0M81 369.4h0M237.1 392.5h0M213.1 392.8h0M250 390.9h0M101.9 361.1h0M87.4 370.3h0M97.1 367.8h0M178.9 392.4h0M217.6 407h0M201.7 405.4h0M175.2 407.4h0M128.3 385.6h0M39 385.8h0M172.1 393.6h0M196.4 398.9h0M181.3 424h0M159.9 393h0M45.7 383.5h0M62.4 383.5h0M53.6 387.4h0M64.1 388.3h0M193.7 398h0M231.9 391.8h0M55.5 385.2h0M124.1 386.6h0M198.7 398h0M164.2 397.3h0M190.8 395.9h0M248.2 390.6h0M61.9 387.9h0M36.2 389.8h0M195.7 428.8h0M88.4 378.5h0M174.7 422.6h0M170.8 394.1h0M147.1 390.8h0M122 374.9h0M105.8 387.7h0M227.4 394h0M232.1 397.3h0M119.3 374.4h0M44.3 389.3h0M124.7 388.3h0M107 376.3h0M200.5 392.8h0M183.6 406.2h0M141.3 389.3h0M199.2 393.5h0M197.2 405.8h0M93.1 373.9h0M231.5 394.1h0M141.6 390.3h0M34.7 389.6h0M160.1 391.6h0M34.2 389.2h0M47.9 388.9h0M91.8 381.9h0M126.4 386.8h0M88.9 383.7h0M181.3 396.3h0M212.8 412.7h0M91.5 361.1h0M230.5 391.8h0M194 393.1h0M128.8 375.1h0M70.9 380.1h0M213.3 423.1h0M195.5 408.9h0M190.4 392.6h0M221.6 392.3h0M250.6 391.2h0M50.3 386.7h0M175.4 416.7h0M86.3 378.3h0M108.9 356.5h0M239.2 391.8h0M75.3 387.8h0M42.4 381h0M181.7 400.3h0M234.3 399.4h0M147.1 397.5h0M65.4 379.3h0M186.6 399.8h0M100.1 385.9h0M187.6 418.5h0M145.5 391.8h0M240.9 391h0M67.5 381.4h0M119 388.5h0M150 390.9h0M215.9 392.5h0M125.1 388.8h0M80.6 384.5h0M107.5 369.2h0M33.6 388.8h0M74.3 378.9h0M113.6 385.4h0M39.2 384.1h0M205.2 414h0M48.9 387.8h0M118.6 387.9h0M54 382.7h0M138.8 388.8h0M140.1 390.2h0M151.5 401.1h0M162.4 392h0M117.3 375.1h0M132.8 383.2h0M60.8 387.6h0M164.9 401.1h0M88.6 387.7h0M133.9 387.7h0M117.1 388.7h0M239.1 392h0M55.5 388.5h0M252.1 390.3h0M221.5 412.7h0M39 384.4h0M35.2 388.4h0M194.8 401.2h0M166 401.7h0M113.3 388.2h0M123.3 370.1h0M77.9 380.2h0M46.4 381h0M209.5 396.3h0M224.5 392.4h0M98.3 355.7h0M171.3 413.9h0M176.4 393.3h0M211.9 422h0M53.8 376h0M132 389.5h0M174.2 392.2h0M213.9 417.9h0M143.6 392.1h0M56 388.7h0M96.2 386h0M212.7 416.8h0M161.2 392.5h0M85.1 386.8h0M74.1 385.8h0M73.7 371.7h0M109 369.9h0M62.1 369.3h0M247.3 391.6h0M152.5 391h0M133.6 384.6h0M248.6 390.8h0M119.8 388.8h0M235 391.8h0M51.3 372.3h0M113.5 388.5h0M130.4 379.8h0M218.8 394.4h0M148.5 390.7h0M145.4 391.2h0M45.2 387.8h0M203.9 398.3h0M230.7 400.1h0M211.7 393.9h0M118.6 388.7h0M143.1 392.2h0M198 393.1h0M165.9 392.5h0M41 382h0M239.4 395.8h0M94.7 382.5h0M230.7 402.4h0M236.2 391.4h0M215.2 413.6h0M76 387.2h0M55.1 387.4h0M88.5 383.8h0M177.9 418.3h0M213.7 402h0M120.5 381.2h0M167.8 394.9h0M119.1 366.5h0M146.9 394h0M248.8 391.8h0M89.6 365.7h0M204.4 410.4h0M161.1 393.8h0M153.9 397.3h0M89.9 381.5h0M193.5 404.1h0M41.9 387.1h0M226.4 392.2h0M112.1 363.6h0M98 388h0M212.1 392.5h0M35.7 389.7h0M215.8 394.6h0M54.7 388.5h0M242.8 394.4h0M104.4 369.5h0M137.9 389.2h0M231 395.2h0M55.2 387.3h0M87.8 383.8h0M236.8 397.2h0M126.2 388.1h0M195.8 393.4h0M116.8 362.8h0M165.7 398.5h0M237.3 396.3h0M134.5 389.7h0M46 387.5h0M161 413.5h0M232.8 400.8h0M105.3 382.6h0M138.8 387.8h0M236.5 393.7h0M142.4 390.3h0M126.2 378.4h0M195.3 399.6h0M204.3 396.4h0M120.9 375.4h0M173.8 398.1h0M31.5 389.3h0M189 399.7h0M72.1 387.8h0M141.8 390.5h0M142.8 392.1h0M232.9 408.7h0M103 384.2h0M100.2 364.6h0M226.7 392.9h0M97.2 362.4h0M153.2 400.7h0M172 396.5h0M178.5 402h0M193 402.8h0M145.8 394.9h0M86.1 382.7h0M124.7 373.8h0M106 370.1h0M228.6 393.1h0M221.6 415.6h0M190 418.1h0M87.2 360.2h0M101.9 386.3h0M36.9 385.4h0M247.3 392h0M156.5 394.2h0M120.5 384h0M77.5 359.7h0M34.6 389.7h0M133.1 389.6h0M189.9 392.6h0M115.9 369.8h0M149.2 391.6h0M238.2 392.4h0M217.2 401.9h0M214.1 408.8h0M94.3 387.4h0M215.9 401.6h0M194.4 406.2h0M157.5 404.9h0M107.7 376.7h0M157.8 392.8h0M151.6 393.2h0M217.4 392.3h0M118.9 383h0M155.3 391.2h0M40.5 389.6h0M141 390.2h0M197.2 424.5h0M217.8 396.8h0M80.6 387.8h0M86.5 378.6h0M231.5 406.3h0M154.4 394.9h0M133.4 387h0M110.6 379.2h0M82.3 377.3h0M42 381.6h0M163.8 392.3h0M74.5 386.7h0M78.6 378.5h0M147 394.5h0M134.8 389.5h0M211.4 410.8h0M199.3 403.5h0M48.1 384.3h0M237.3 391.8h0M217.2 411.3h0M53 376.2h0M141.6 391.9h0M87.9 380.4h0M204.8 393h0M204.9 392.7h0M241.4 399.5h0M137.4 388.9h0M162.7 399.9h0M184.1 403.2h0M188.7 413.2h0M79.2 383.8h0M108.8 375.8h0M40.6 383.9h0M145.8 390.6h0M45.3 389h0M113.7 387.5h0M73.8 385.5h0M60.4 371.5h0M210.5 392.5h0M132.2 389.6h0M155.7 391.5h0M112.8 386.7h0M108 357.7h0M143.5 394h0M87.2 350.5h0M37.2 389.1h0M222.6 406.3h0M237.2 401.7h0M96 387.9h0M61.3 388.3h0M46.2 384.9h0M141.6 390.5h0M89.3 379.4h0M165.8 392.6h0M80.2 380.6h0M91.9 383.3h0M164.3 402.1h0M88.1 385.5h0M146.7 393.9h0M214.5 421.8h0M235.2 395.3h0M178.1 401.3h0M63.2 387.7h0M231.7 403h0M203.2 395.8h0M123.7 388.5h0M121.7 386.3h0M222.2 400.2h0M90.6 381.9h0M243.8 394.9h0M90.6 363.3h0M59.3 380.8h0M211.7 402.3h0M56.7 380.5h0M70.6 387.9h0M59.6 382h0M243.8 394.2h0M32.5 389.6h0M242 397.6h0M49.9 385.2h0M119.7 386.5h0M172 407.7h0M120.7 382.2h0M54.7 388h0M231.9 392.1h0M88.9 360.8h0M162.6 391.7h0M247.6 394.2h0M207 413.1h0M96 386.4h0M219.9 392.9h0M236.5 391.5h0M231.1 403.3h0M191 429.4h0M194.7 404.2h0M40.5 387.4h0M67.4 360.1h0M203.8 397.5h0M207.2 396.9h0M55.8 386.9h0M92.8 370.2h0M100.9 381.8h0M140.2 388.7h0M153.8 397.2h0M99.1 376.3h0M94.9 366.3h0M93.6 380.1h0M95 383.7h0M62.2 385h0M48.5 381h0M68.8 388.1h0M92.6 381.6h0M71.8 387.6h0M35 389.3h0M78.6 384.8h0M40.7 387.8h0M133.7 384.9h0M205.3 410.9h0M115.2 388.5h0M140.1 389.1h0M159.2 392h0M145.5 394.1h0M136.4 389.1h0M130.8 376.2h0M99.1 373.4h0M185.1 400.6h0M170.1 404.2h0M225.4 401.4h0M249.7 390.4h0M206 395.5h0M99.5 383h0M31.1 390.2h0M197.3 406.9h0M46.2 389.1h0M203.6 406h0M221.7 396.5h0M129.8 381.2h0M87.4 385.5h0M102.2 382.2h0M176.3 406.8h0M112 387.2h0M185.5 416.6h0M129.9 389.1h0M40.3 389.5h0M234.9 391.4h0M183.6 393.7h0M201.3 394.2h0M103.3 358.1h0M105.5 366.2h0M117.7 388.3h0M98.2 387.8h0M172.1 415.2h0M68.5 385.4h0M107.9 385h0M157.9 403.2h0M138.6 387.3h0M118.2 386.3h0M184.5 399.4h0M130.7 386.7h0M162.5 395.8h0M210.8 398.4h0M177.7 401.3h0M135.3 389.6h0M135.7 388.6h0M173.6 394.8h0M182.2 395.8h0M68.5 382.4h0M168.9 392.7h0M162.8 405.2h0M56.4 367.3h0M66.8 388h0M85.8 387.7h0M53.9 371.2h0M101.9 381.8h0M96.8 383.2h0M175.1 415.5h0M145.9 390.7h0M80.4 387.4h0M220.9 392.5h0M65.2 388h0M74.1 377.2h0M250.6 390.4h0M68.6 378.1h0M212.9 392.4h0M73.8 381.3h0M36.1 385.4h0M129.4 379h0M166.9 395.6h0M208.4 400.8h0M119.7 384.7h0M37.7 389.7h0M136.7 389.6h0M59.5 372.4h0M138 388.3h0M35 386.1h0M152.3 400.5h0M149.7 399.6h0M34.1 388.7h0M124.1 375.1h0M125.6 385.8h0M35.7 389.4h0M140.9 388.4h0M208.1 392.6h0M214 415.7h0M135.8 389.6h0M209 392.7h0M56.8 387.8h0M62.3 371.8h0M171 405.2h0M198 409.3h0M148.2 399.3h0M59.8 366.4h0M212.6 404.6h0M233.7 392h0M163.6 408.2h0M46.9 384.6h0M242.8 398.4h0M70.6 385.4h0M150 390.9h0M96.1 387h0M63.5 385.9h0M205.1 396.6h0M139.3 389.7h0M186.8 421.7h0M215.2 408.5h0M177 407.3h0M40.9 389.2h0M50.7 388.9h0M115.2 365.2h0M251.8 390.3h0M238.1 392.1h0M61.9 374.7h0M159.5 391.5h0M103.6 371.2h0M32.7 389.9h0M237.4 391.3h0M99.8 387.5h0M46.8 378.9h0M183.2 423.4h0M200.5 394.6h0M196.2 398.9h0M131.3 388.7h0M222.4 416.1h0M69.1 386.9h0M147.2 391h0M113.8 388.2h0M31 389.9h0M35.1 386.4h0M208.6 411.3h0M219 400.2h0M92.7 387.3h0M66.2 388h0M142.2 390.4h0M222.8 396.3h0M146.5 393.1h0M110.7 383h0M58.7 365.7h0M157.9 395h0M60.5 388.3h0M226.1 395.9h0M53.1 369.5h0M181.2 416.2h0M233 396.4h0M48.9 388.1h0M246.9 391.3h0M155.4 401.9h0M42.7 389.3h0M50.8 388.9h0M96.9 369h0M244.9 390.9h0M153.4 394.4h0M155.7 393.6h0M135.3 389h0M170.5 407.7h0M148.9 394h0M245.2 390.7h0M129.4 382.9h0M115.5 364.7h0M235.5 404.7h0M241.2 395.8h0M160.2 407.2h0M188.3 395.6h0M235.4 394.7h0M217.5 392.6h0M209.6 392.5h0M142.4 393.7h0M44.3 378.6h0M140.8 389h0M251 390.5h0M146.6 394.8h0M145.8 391.1h0M105.3 363.4h0M249.8 391.5h0M86.2 378.2h0M145.4 390.7h0M151 393.7h0M77.5 356.4h0M56.7 388.3h0M249.5 392.1h0M168 418.3h0M169.9 392.3h0M246.3 390.9h0M99.1 387.2h0M206.4 393.3h0M120.5 379.1h0M157.8 392.1h0M212.4 392.5h0M55.9 386.5h0M210.7 415.4h0M72.2 360.4h0M182.5 406.7h0M221.1 394.4h0M62.1 384.6h0M114.2 388.4h0M38.6 388.2h0M83.4 387h0M151.8 400.6h0M232.2 391.8h0M226.1 394.7h0M124.4 380.9h0M42.4 388.4h0M239.3 391.2h0M228.5 392h0M188.2 403.6h0M209.8 394.8h0M86.2 383.9h0M172.1 421.2h0M61.1 367.4h0M186.4 392.6h0M113.9 387.4h0M171.2 394.6h0M81.8 370.9h0M222.8 410.9h0M170.7 392.4h0M212.8 393h0M31.7 390.1h0M124.1 386.8h0M48.2 389.1h0M97.7 375.8h0M178 394h0M156.5 391.3h0M158.3 397.8h0M197.1 392.7h0M235.5 396.8h0M107.2 356.1h0M206.1 422.2h0M176.3 401.7h0M142 390.3h0M197.1 427.6h0M191.7 401h0M241.5 400.7h0M192.7 405.8h0M96.7 387.1h0M230.9 398.9h0M238.6 399.7h0M90.9 353.4h0M130.9 386.5h0M153 404.5h0M100.7 379.8h0M106.5 384h0M30.7 390.2h0M213.6 397.5h0M61.1 365.2h0M153.1 391h0M61.7 385.1h0M105.8 369h0M112.7 388.4h0M211.1 393.7h0M204.6 393.6h0M242.2 392.4h0M190.1 398.5h0M122 381.5h0M83.2 372.4h0M176.9 392.4h0M111.6 375.9h0M150.1 391.6h0M187.6 393.4h0M127.5 389.2h0M230.9 397.2h0M200.6 428.3h0M89.6 352.9h0M106.6 375.1h0M157.8 395.2h0M124.3 377.8h0M235.3 393.6h0M210 392.5h0M235.7 393.6h0M93.2 372.5h0M220.2 419.7h0M171.5 411.1h0M243 392.7h0M77 374h0M59 379.7h0M42.6 382.5h0M128.2 389h0M156.1 396.9h0M142.5 390.8h0M247.4 392.7h0M82.9 368.1h0M55.4 388.4h0M196.3 393.4h0M52.4 388.5h0M129 385.7h0M202 425.3h0M175.7 416h0M130.5 388.3h0M62.2 382.2h0M199 416.1h0M249.2 391.5h0M172 408.1h0M108.9 387.5h0M168.7 407.1h0M99.3 382.3h0M145.7 391.2h0M210.9 412h0M31.6 390.2h0M142.4 390.3h0M200.9 399.3h0M57.2 388.5h0M58.5 381.3h0M232.5 392h0M87.7 385.9h0M151.1 392.4h0M153.7 391.5h0M154.4 397.5h0M107.2 383.3h0M54.3 388.7h0M89.3 382.1h0M48.4 383.8h0M158 399.8h0M186.4 405.5h0M66.5 384.5h0M90.1 387.3h0M75.1 384.7h0M238.4 392h0M76 387.9h0M210.4 405.9h0M205.2 397.1h0M68.6 361.9h0M133.6 385.1h0M76.9 384.2h0M52.9 385h0M126.5 389h0M134.7 389.8h0M37.8 388.5h0M213.9 395.4h0M165.3 397.9h0M104.4 385.6h0M187.8 393h0M115.9 387h0M200.2 411h0M190.6 416.9h0M249.3 391.1h0M201.1 404h0M31.7 390h0M65.6 385.8h0M225.1 408.3h0M44.9 388.1h0M135.2 389.6h0M224.2 395.8h0M223.9 400.1h0M114.7 376.9h0M235.6 404.9h0M123 387.7h0M244.7 396.3h0M157.4 392.5h0M184.8 423.7h0M185.7 392.6h0M92.2 381.4h0M200.4 393.2h0M234.3 396.8h0M32 389.5h0M43 383.7h0M224.1 392h0M250.1 391.7h0M121.9 387.5h0M85.9 380.8h0M157.3 392.6h0M124 388.7h0M155.4 394.3h0M160.5 402.9h0M181.3 411.1h0M178.8 423.8h0M58.8 388.5h0M143.1 390.5h0M208.1 422.8h0M49.4 381h0M139.1 385.5h0M95.4 385.3h0M65.5 378.6h0M147.2 391.2h0M72.4 381.5h0M82.2 387.6h0M149.9 401.5h0M53.7 380.6h0M88.8 351.4h0M199.8 392.8h0M192 408h0M166.9 401.7h0M156.2 396.7h0M205 393.9h0M148 396.3h0M175.9 418.4h0M115.1 377.5h0M207.3 410.7h0M161.5 392.1h0M105.8 387.3h0M72.7 364.4h0M235.3 404.5h0M170.9 394.2h0M171.7 394.9h0M109.4 388.3h0M201.8 414.9h0M211.3 403.9h0M58 379.1h0M196.5 404.4h0M60.6 381.7h0M161.8 401.9h0M44.1 377.2h0M105.5 384.7h0M210.3 406.6h0M231.4 391.6h0M183 413.2h0M48.2 373.8h0M247.4 391.6h0M155.6 405h0M232.2 401.2h0M102.4 355.9h0" stroke="#ff0000" stroke-width="0.72" stroke-linecap="round" fill="none" opacity="0.75"/>
<path d="M30.6 390.2L33.4 390.0L36.2 389.8L39.0 389.6L41.8 389.4L44.6 389.2L47.4 389.1L50.2 388.9L53.0 388.7L55.8 388.6L58.6 388.4L61.4 388.3L64.2 388.1L67.0 388.0L69.9 387.9L72.7 387.8L75.5 387.8L78.3 387.7L81.1 387.7L83.9 387.7L86.7 387.7L89.5 387.7L92.3 387.7L95.1 387.7L97.9 387.8L100.7 387.9L103.5 388.0L106.3 388.1L109.1 388.2L111.9 388.3L114.7 388.5L117.5 388.6L120.3 388.8L123.1 389.0L125.9 389.2L128.7 389.3L131.5 389.5L134.3 389.7L137.1 389.9L139.9 390.1L142.8 390.4L145.6 390.6L148.4 390.8L151.2 391.0L154.0 391.2L156.8 391.3L159.6 391.5L162.4 391.7L165.2 391.9L168.0 392.0L170.8 392.2L173.6 392.3L176.4 392.4L179.2 392.5L182.0 392.6L184.8 392.7L187.6 392.8L190.4 392.8L193.2 392.8L196.0 392.8L198.8 392.8L201.6 392.8L204.4 392.8L207.2 392.7L210.0 392.7L212.8 392.6L215.7 392.5L218.5 392.4L221.3 392.2L224.1 392.1L226.9 391.9L229.7 391.8L232.5 391.6L235.3 391.4L238.1 391.3L240.9 391.1L243.7 390.9L246.5 390.7L249.3 390.5L252.1 390.2" stroke="#ff0000" stroke-width="1.7" fill="none"/>
<path d="M30.60 338.50H252.10V442.00" stroke="#e9e9e9" stroke-width="0.7" fill="none"/><path d="M30.60 338.50V442.00H252.10" stroke="#cdcdcd" stroke-width="0.85" fill="none"/><path d="M30.60 442.00v-2M74.90 442.00v-2M119.20 442.00v-2M163.50 442.00v-2M207.80 442.00v-2M252.10 442.00v-2M30.60 442.00h2M30.60 424.75h2M30.60 407.50h2M30.60 390.25h2M30.60 373.00h2M30.60 355.75h2M30.60 338.50h2" stroke="#c4c4c4" stroke-width="0.6" fill="none"/><text class="t" x="30.6" y="449.7" text-anchor="middle">804</text><text class="t" x="74.9" y="449.7" text-anchor="middle">804.2</text><text class="t" x="119.2" y="449.7" text-anchor="middle">804.4</text><text class="t" x="163.5" y="449.7" text-anchor="middle">804.6</text><text class="t" x="207.8" y="449.7" text-anchor="middle">804.8</text><text class="t" x="252.1" y="449.7" text-anchor="middle">805</text><text class="t" x="29.1" y="444.0" text-anchor="end">-0.015</text><text class="t" x="29.1" y="426.8" text-anchor="end">-0.01</text><text class="t" x="29.1" y="409.5" text-anchor="end">-0.005</text><text class="t" x="29.1" y="392.2" text-anchor="end">0</text><text class="t" x="29.1" y="375.0" text-anchor="end">0.005</text><text class="t" x="29.1" y="357.8" text-anchor="end">0.01</text><text class="t" x="29.1" y="340.5" text-anchor="end">0.015</text><text class="l" x="141.3" y="457.2" text-anchor="middle">star spot position (pixels)</text>
<text class="l" font-size="6.45" transform="translate(10.8 390.2) rotate(-90)" text-anchor="middle">centroiding error (pixels)</text>
<text class="c" x="136.7" y="475.3" text-anchor="middle">(<tspan font-weight="bold" font-size="15.4">e</tspan>)</text>
</svg>
</body></html>
